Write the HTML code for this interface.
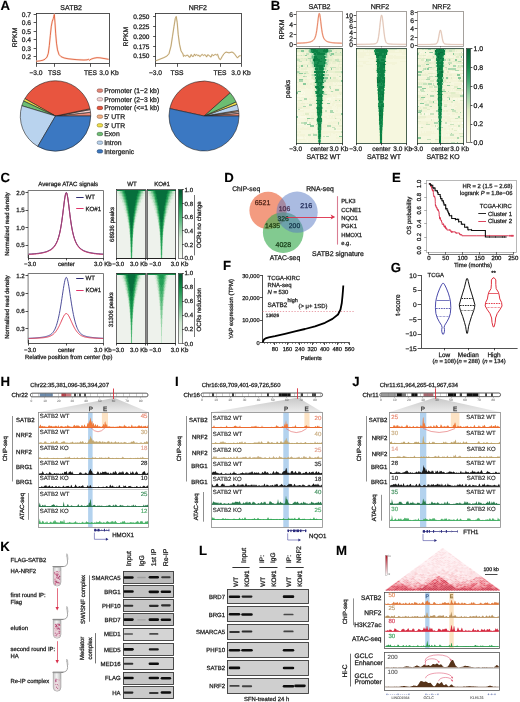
<!DOCTYPE html>
<html><head><meta charset="utf-8"><title>Figure</title>
<style>html,body{margin:0;padding:0;background:#fff;}svg{display:block;}
text{font-family:"Liberation Sans", Arial, Helvetica, sans-serif;text-rendering:geometricPrecision;}</style></head>
<body><svg width="520" height="702" viewBox="0 0 520 702" font-family='"Liberation Sans", Arial, Helvetica, sans-serif' font-size="6" fill="#1a1a1a">
<defs></defs>
<rect width="520" height="702" fill="#fff"/>
<text x="0.4" y="10.4" stroke="#000" stroke-width="0.12" font-size="13.2" fill="#000" font-weight="bold">A</text>
<text x="71.2" y="10.2" stroke="#1a1a1a" stroke-width="0.25" text-anchor="middle" font-size="7">SATB2</text>
<rect x="36.5" y="13.5" width="73" height="50" fill="none" stroke="#1a1a1a" stroke-width="0.75"/>
<line x1="33.6" y1="14.5" x2="36" y2="14.5" stroke="#1a1a1a" stroke-width="0.75"/>
<text x="31" y="16.8" stroke="#1a1a1a" stroke-width="0.25" text-anchor="end" font-size="6.7">0.7</text>
<line x1="33.6" y1="22.5" x2="36" y2="22.5" stroke="#1a1a1a" stroke-width="0.75"/>
<text x="31" y="25.25" stroke="#1a1a1a" stroke-width="0.25" text-anchor="end" font-size="6.7">0.6</text>
<line x1="33.6" y1="31.5" x2="36" y2="31.5" stroke="#1a1a1a" stroke-width="0.75"/>
<text x="31" y="33.7" stroke="#1a1a1a" stroke-width="0.25" text-anchor="end" font-size="6.7">0.5</text>
<line x1="33.6" y1="39.5" x2="36" y2="39.5" stroke="#1a1a1a" stroke-width="0.75"/>
<text x="31" y="42.15" stroke="#1a1a1a" stroke-width="0.25" text-anchor="end" font-size="6.7">0.4</text>
<line x1="33.6" y1="48.5" x2="36" y2="48.5" stroke="#1a1a1a" stroke-width="0.75"/>
<text x="31" y="50.6" stroke="#1a1a1a" stroke-width="0.25" text-anchor="end" font-size="6.7">0.3</text>
<line x1="33.6" y1="56.5" x2="36" y2="56.5" stroke="#1a1a1a" stroke-width="0.75"/>
<text x="31" y="59.05" stroke="#1a1a1a" stroke-width="0.25" text-anchor="end" font-size="6.7">0.2</text>
<line x1="36.5" y1="63.6" x2="36.5" y2="66.8" stroke="#1a1a1a" stroke-width="0.75"/>
<text x="36" y="75.2" stroke="#1a1a1a" stroke-width="0.25" text-anchor="middle" font-size="6.7">−3.0</text>
<line x1="54.5" y1="63.6" x2="54.5" y2="66.8" stroke="#1a1a1a" stroke-width="0.75"/>
<text x="54.5" y="75.2" stroke="#1a1a1a" stroke-width="0.25" text-anchor="middle" font-size="6.7">TSS</text>
<line x1="90.5" y1="63.6" x2="90.5" y2="66.8" stroke="#1a1a1a" stroke-width="0.75"/>
<text x="90.5" y="75.2" stroke="#1a1a1a" stroke-width="0.25" text-anchor="middle" font-size="6.7">TES</text>
<line x1="109.5" y1="63.6" x2="109.5" y2="66.8" stroke="#1a1a1a" stroke-width="0.75"/>
<text x="109" y="75.2" stroke="#1a1a1a" stroke-width="0.25" text-anchor="middle" font-size="6.7">3.0 Kb</text>
<text x="17" y="37.5" stroke="#1a1a1a" stroke-width="0.25" text-anchor="middle" font-size="6.8" transform="rotate(-90 17 37.5)">RPKM</text>
<path d="M36.3,61.3 40,60.87 43,60.2 45,59.18 47,57.07 48.3,53.27 49.3,45.66 50.3,35.52 51.3,26.23 52.3,21.16 53.3,18.62 54.3,14.4 55,22.85 55.7,33.84 56.5,43.13 57.5,49.89 59,54.54 61,56.65 64,57.92 68,58.76 72,59.18 76,59.61 80,59.86 84,60.03 87,59.86 88.5,59.35 89.5,60.2 91,59.18 94,58.17 97,57.66 100,57.83 103,58.34 106,58.85 108.7,59.35" fill="none" stroke="#fcdcd0" stroke-width="2" stroke-linejoin="round" opacity="0.8"/>
<path d="M36.3,61.3 40,60.87 43,60.2 45,59.18 47,57.07 48.3,53.27 49.3,45.66 50.3,35.52 51.3,26.23 52.3,21.16 53.3,18.62 54.3,14.4 55,22.85 55.7,33.84 56.5,43.13 57.5,49.89 59,54.54 61,56.65 64,57.92 68,58.76 72,59.18 76,59.61 80,59.86 84,60.03 87,59.86 88.5,59.35 89.5,60.2 91,59.18 94,58.17 97,57.66 100,57.83 103,58.34 106,58.85 108.7,59.35" fill="none" stroke="#d9481f" stroke-width="0.75" stroke-linejoin="round"/>
<text x="197.8" y="10.2" stroke="#1a1a1a" stroke-width="0.25" text-anchor="middle" font-size="7">NRF2</text>
<rect x="155.5" y="13.5" width="86" height="50" fill="none" stroke="#1a1a1a" stroke-width="0.75"/>
<line x1="153.1" y1="16.5" x2="155.5" y2="16.5" stroke="#1a1a1a" stroke-width="0.75"/>
<text x="149.5" y="18.9" stroke="#1a1a1a" stroke-width="0.25" text-anchor="end" font-size="6.5">0.250</text>
<line x1="153.1" y1="26.5" x2="155.5" y2="26.5" stroke="#1a1a1a" stroke-width="0.75"/>
<text x="149.5" y="28.77" stroke="#1a1a1a" stroke-width="0.25" text-anchor="end" font-size="6.5">0.225</text>
<line x1="153.1" y1="36.5" x2="155.5" y2="36.5" stroke="#1a1a1a" stroke-width="0.75"/>
<text x="149.5" y="38.65" stroke="#1a1a1a" stroke-width="0.25" text-anchor="end" font-size="6.5">0.200</text>
<line x1="153.1" y1="46.5" x2="155.5" y2="46.5" stroke="#1a1a1a" stroke-width="0.75"/>
<text x="149.5" y="48.52" stroke="#1a1a1a" stroke-width="0.25" text-anchor="end" font-size="6.5">0.175</text>
<line x1="153.1" y1="56.5" x2="155.5" y2="56.5" stroke="#1a1a1a" stroke-width="0.75"/>
<text x="149.5" y="58.4" stroke="#1a1a1a" stroke-width="0.25" text-anchor="end" font-size="6.5">0.150</text>
<line x1="155.5" y1="63.6" x2="155.5" y2="66.8" stroke="#1a1a1a" stroke-width="0.75"/>
<text x="155.5" y="75.2" stroke="#1a1a1a" stroke-width="0.25" text-anchor="middle" font-size="6.7">−3.0</text>
<line x1="177.5" y1="63.6" x2="177.5" y2="66.8" stroke="#1a1a1a" stroke-width="0.75"/>
<text x="177" y="75.2" stroke="#1a1a1a" stroke-width="0.25" text-anchor="middle" font-size="6.7">TSS</text>
<line x1="220.5" y1="63.6" x2="220.5" y2="66.8" stroke="#1a1a1a" stroke-width="0.75"/>
<text x="220" y="75.2" stroke="#1a1a1a" stroke-width="0.25" text-anchor="middle" font-size="6.7">TES</text>
<line x1="241.5" y1="63.6" x2="241.5" y2="66.8" stroke="#1a1a1a" stroke-width="0.75"/>
<text x="241" y="75.2" stroke="#1a1a1a" stroke-width="0.25" text-anchor="middle" font-size="6.7">3.0 Kb</text>
<text x="128.4" y="36.7" stroke="#1a1a1a" stroke-width="0.25" text-anchor="middle" font-size="6.8" transform="rotate(-90 128.4 36.7)">RPKM</text>
<path d="M155.8,60.74 158,59.95 161,58.77 164,57.58 167,56 169,53.63 171,46.12 172.5,36.25 174,26.38 175.3,18.48 176.2,16.5 177.2,22.43 178.2,34.28 179.5,44.15 181,50.86 183,54.02 183.5,56.43 184.6,55.47 185.7,56.02 186.8,55.28 187.9,55.21 189,56.98 190.1,57.14 191.2,54.54 192.3,56.37 193.4,56.44 194.5,54.04 195.6,55.7 196.7,54.54 197.8,55.68 198.9,55.17 200,56.71 201.1,55.18 202.2,54.44 203.3,55.53 204.4,54.84 205.5,55.06 206.6,56.98 207.7,54.79 208.8,55.32 209.9,56.23 211,57.09 212.1,54.45 213.2,55.69 214.3,54.91 215.4,54.41 216.5,54.93 217.6,54.27 218.5,57.19 219.5,59.16 220.5,59.56 222,56.79 224,53.63 226,52.05 229,52.84 232,52.05 234,53.23 236,56 237.5,57.98 239,56 240.7,55.61" fill="none" stroke="#efe2c8" stroke-width="1.6" stroke-linejoin="round" opacity="0.8"/>
<path d="M155.8,60.74 158,59.95 161,58.77 164,57.58 167,56 169,53.63 171,46.12 172.5,36.25 174,26.38 175.3,18.48 176.2,16.5 177.2,22.43 178.2,34.28 179.5,44.15 181,50.86 183,54.02 183.5,56.43 184.6,55.47 185.7,56.02 186.8,55.28 187.9,55.21 189,56.98 190.1,57.14 191.2,54.54 192.3,56.37 193.4,56.44 194.5,54.04 195.6,55.7 196.7,54.54 197.8,55.68 198.9,55.17 200,56.71 201.1,55.18 202.2,54.44 203.3,55.53 204.4,54.84 205.5,55.06 206.6,56.98 207.7,54.79 208.8,55.32 209.9,56.23 211,57.09 212.1,54.45 213.2,55.69 214.3,54.91 215.4,54.41 216.5,54.93 217.6,54.27 218.5,57.19 219.5,59.16 220.5,59.56 222,56.79 224,53.63 226,52.05 229,52.84 232,52.05 234,53.23 236,56 237.5,57.98 239,56 240.7,55.61" fill="none" stroke="#a8884c" stroke-width="0.7" stroke-linejoin="round"/>
<path d="M55.5,116 L90.7,116 A35.2,35.2 0 0 0 90.5,112.25 Z" fill="#e8897a" stroke="#222" stroke-width="0.6" stroke-linejoin="round"/>
<path d="M55.5,116 L90.5,112.25 A35.2,35.2 0 0 0 90.12,109.62 Z" fill="#f7d3d3" stroke="#222" stroke-width="0.6" stroke-linejoin="round"/>
<path d="M55.5,116 L90.12,109.62 A35.2,35.2 0 0 0 89.95,108.75 Z" fill="#f6b183" stroke="#222" stroke-width="0.6" stroke-linejoin="round"/>
<path d="M55.5,116 L89.95,108.75 A35.2,35.2 0 0 0 24.87,98.66 Z" fill="#e8553f" stroke="#222" stroke-width="0.6" stroke-linejoin="round"/>
<path d="M55.5,116 L24.87,98.66 A35.2,35.2 0 0 0 23.65,101.01 Z" fill="#f2e14b" stroke="#222" stroke-width="0.6" stroke-linejoin="round"/>
<path d="M55.5,116 L23.65,101.01 A35.2,35.2 0 0 0 21.82,105.76 Z" fill="#6cbd72" stroke="#222" stroke-width="0.6" stroke-linejoin="round"/>
<path d="M55.5,116 L21.82,105.76 A35.2,35.2 0 0 0 37.77,146.41 Z" fill="#b9d3ee" stroke="#222" stroke-width="0.6" stroke-linejoin="round"/>
<path d="M55.5,116 L37.77,146.41 A35.2,35.2 0 0 0 90.7,116 Z" fill="#3b78c2" stroke="#222" stroke-width="0.6" stroke-linejoin="round"/>
<path d="M204,116 L239,116 A35,35 0 0 0 238.9,113.36 Z" fill="#e8897a" stroke="#222" stroke-width="0.6" stroke-linejoin="round"/>
<path d="M204,116 L238.9,113.36 A35,35 0 0 0 238.72,111.61 Z" fill="#f7d3d3" stroke="#222" stroke-width="0.6" stroke-linejoin="round"/>
<path d="M204,116 L238.72,111.61 A35,35 0 0 0 238.53,110.31 Z" fill="#f6b183" stroke="#222" stroke-width="0.6" stroke-linejoin="round"/>
<path d="M204,116 L238.53,110.31 A35,35 0 0 0 237,104.35 Z" fill="#b9d3ee" stroke="#222" stroke-width="0.6" stroke-linejoin="round"/>
<path d="M204,116 L237,104.35 A35,35 0 0 0 236.03,101.9 Z" fill="#f2e14b" stroke="#222" stroke-width="0.6" stroke-linejoin="round"/>
<path d="M204,116 L236.03,101.9 A35,35 0 0 0 230.11,92.69 Z" fill="#6cbd72" stroke="#222" stroke-width="0.6" stroke-linejoin="round"/>
<path d="M204,116 L230.11,92.69 A35,35 0 0 0 169.8,108.58 Z" fill="#e8553f" stroke="#222" stroke-width="0.6" stroke-linejoin="round"/>
<path d="M204,116 L169.8,108.58 A35,35 0 1 0 239,116 Z" fill="#3b78c2" stroke="#222" stroke-width="0.6" stroke-linejoin="round"/>
<rect x="97.2" y="89" width="5.4" height="3.2" rx="1.4" fill="#e8897a" stroke="#90554c" stroke-width="0.7"/>
<text x="104.2" y="92.9" stroke="#1a1a1a" stroke-width="0.25" font-size="6.8">Promoter (1−2 kb)</text>
<rect x="97.2" y="97.68" width="5.4" height="3.2" rx="1.4" fill="#f7d3d3" stroke="#998383" stroke-width="0.7"/>
<text x="104.2" y="101.58" stroke="#1a1a1a" stroke-width="0.25" font-size="6.8">Promoter (2−3 kb)</text>
<rect x="97.2" y="106.36" width="5.4" height="3.2" rx="1.4" fill="#e8553f" stroke="#903527" stroke-width="0.7"/>
<text x="104.2" y="110.26" stroke="#1a1a1a" stroke-width="0.25" font-size="6.8">Promoter (&lt;=1 kb)</text>
<rect x="97.2" y="115.04" width="5.4" height="3.2" rx="1.4" fill="#f6b183" stroke="#996e51" stroke-width="0.7"/>
<text x="104.2" y="118.94" stroke="#1a1a1a" stroke-width="0.25" font-size="6.8">5′ UTR</text>
<rect x="97.2" y="123.72" width="5.4" height="3.2" rx="1.4" fill="#f2e14b" stroke="#968c2e" stroke-width="0.7"/>
<text x="104.2" y="127.62" stroke="#1a1a1a" stroke-width="0.25" font-size="6.8">3′ UTR</text>
<rect x="97.2" y="132.4" width="5.4" height="3.2" rx="1.4" fill="#6cbd72" stroke="#437547" stroke-width="0.7"/>
<text x="104.2" y="136.3" stroke="#1a1a1a" stroke-width="0.25" font-size="6.8">Exon</text>
<rect x="97.2" y="141.08" width="5.4" height="3.2" rx="1.4" fill="#b9d3ee" stroke="#738394" stroke-width="0.7"/>
<text x="104.2" y="144.98" stroke="#1a1a1a" stroke-width="0.25" font-size="6.8">Intron</text>
<rect x="97.2" y="149.76" width="5.4" height="3.2" rx="1.4" fill="#3b78c2" stroke="#254a78" stroke-width="0.7"/>
<text x="104.2" y="153.66" stroke="#1a1a1a" stroke-width="0.25" font-size="6.8">Intergenic</text>
<text x="270.7" y="10" stroke="#000" stroke-width="0.12" font-size="13.2" fill="#000" font-weight="bold">B</text>
<rect x="296.2" y="11.5" width="46.1" height="34.7" fill="#fff"/>
<path d="M296.6,43.2 297.1,43.19 297.61,43.18 298.11,43.16 298.61,43.15 299.12,43.13 299.62,43.12 300.12,43.1 300.63,43.08 301.13,43.06 301.63,43.03 302.14,43.01 302.64,42.98 303.14,42.95 303.65,42.92 304.15,42.88 304.65,42.84 305.16,42.8 305.66,42.75 306.16,42.7 306.67,42.64 307.17,42.57 307.67,42.5 308.18,42.41 308.68,42.31 309.18,42.2 309.69,42.08 310.19,41.93 310.69,41.76 311.2,41.56 311.7,41.32 312.2,41.05 312.71,40.71 313.21,40.3 313.71,39.8 314.22,39.16 314.72,38.31 315.22,37.17 315.73,35.59 316.23,33.41 316.73,30.49 317.24,26.8 317.74,22.53 318.24,18.26 318.75,14.89 319.25,13.44 319.75,14.43 320.26,17.48 320.76,21.66 321.26,25.99 321.77,29.82 322.27,32.9 322.77,35.21 323.28,36.9 323.78,38.11 324.28,39.01 324.79,39.68 325.29,40.21 325.79,40.64 326.3,40.98 326.8,41.27 327.3,41.52 327.81,41.72 328.31,41.9 328.81,42.05 329.32,42.18 329.82,42.29 330.32,42.39 330.83,42.48 331.33,42.56 331.83,42.63 332.34,42.69 332.84,42.74 333.34,42.79 333.85,42.84 334.35,42.88 334.85,42.91 335.36,42.95 335.86,42.98 336.36,43 336.87,43.03 337.37,43.05 337.87,43.08 338.38,43.1 338.88,43.11 339.38,43.13 339.89,43.15 340.39,43.16 340.89,43.18 341.4,43.19 341.9,43.2" fill="none" stroke="#f9d4c6" stroke-width="1.6" stroke-linejoin="round"/>
<path d="M296.6,43.2 297.1,43.19 297.61,43.18 298.11,43.16 298.61,43.15 299.12,43.13 299.62,43.12 300.12,43.1 300.63,43.08 301.13,43.06 301.63,43.03 302.14,43.01 302.64,42.98 303.14,42.95 303.65,42.92 304.15,42.88 304.65,42.84 305.16,42.8 305.66,42.75 306.16,42.7 306.67,42.64 307.17,42.57 307.67,42.5 308.18,42.41 308.68,42.31 309.18,42.2 309.69,42.08 310.19,41.93 310.69,41.76 311.2,41.56 311.7,41.32 312.2,41.05 312.71,40.71 313.21,40.3 313.71,39.8 314.22,39.16 314.72,38.31 315.22,37.17 315.73,35.59 316.23,33.41 316.73,30.49 317.24,26.8 317.74,22.53 318.24,18.26 318.75,14.89 319.25,13.44 319.75,14.43 320.26,17.48 320.76,21.66 321.26,25.99 321.77,29.82 322.27,32.9 322.77,35.21 323.28,36.9 323.78,38.11 324.28,39.01 324.79,39.68 325.29,40.21 325.79,40.64 326.3,40.98 326.8,41.27 327.3,41.52 327.81,41.72 328.31,41.9 328.81,42.05 329.32,42.18 329.82,42.29 330.32,42.39 330.83,42.48 331.33,42.56 331.83,42.63 332.34,42.69 332.84,42.74 333.34,42.79 333.85,42.84 334.35,42.88 334.85,42.91 335.36,42.95 335.86,42.98 336.36,43 336.87,43.03 337.37,43.05 337.87,43.08 338.38,43.1 338.88,43.11 339.38,43.13 339.89,43.15 340.39,43.16 340.89,43.18 341.4,43.19 341.9,43.2" fill="none" stroke="#e06842" stroke-width="0.7" stroke-linejoin="round"/>
<rect x="296.5" y="11.5" width="46" height="35" fill="none" stroke="#8f8a86" stroke-width="0.8"/>
<line x1="293.6" y1="14.5" x2="296.2" y2="14.5" stroke="#1a1a1a" stroke-width="0.75"/>
<text x="293" y="16.6" stroke="#1a1a1a" stroke-width="0.25" text-anchor="end" font-size="6.7">6</text>
<line x1="293.6" y1="24.5" x2="296.2" y2="24.5" stroke="#1a1a1a" stroke-width="0.75"/>
<text x="293" y="26.83" stroke="#1a1a1a" stroke-width="0.25" text-anchor="end" font-size="6.7">4</text>
<line x1="293.6" y1="34.5" x2="296.2" y2="34.5" stroke="#1a1a1a" stroke-width="0.75"/>
<text x="293" y="37.07" stroke="#1a1a1a" stroke-width="0.25" text-anchor="end" font-size="6.7">2</text>
<line x1="293.6" y1="44.5" x2="296.2" y2="44.5" stroke="#1a1a1a" stroke-width="0.75"/>
<text x="293" y="47.3" stroke="#1a1a1a" stroke-width="0.25" text-anchor="end" font-size="6.7">0</text>
<line x1="319.5" y1="46.2" x2="319.5" y2="47.4" stroke="#555" stroke-width="0.6"/>
<rect x="356.2" y="11.5" width="50.3" height="34.7" fill="#fff"/>
<path d="M356.6,44.4 357.15,44.4 357.7,44.39 358.25,44.39 358.8,44.39 359.35,44.38 359.9,44.38 360.45,44.38 361,44.37 361.55,44.37 362.1,44.36 362.65,44.36 363.2,44.35 363.75,44.35 364.3,44.34 364.85,44.33 365.4,44.33 365.95,44.32 366.5,44.31 367.05,44.3 367.6,44.28 368.15,44.27 368.7,44.25 369.25,44.24 369.8,44.22 370.35,44.2 370.9,44.17 371.45,44.14 372,44.11 372.55,44.07 373.1,44.02 373.65,43.97 374.2,43.9 374.75,43.81 375.3,43.69 375.85,43.5 376.4,43.16 376.95,42.55 377.5,41.45 378.05,39.58 378.6,36.66 379.15,32.6 379.7,27.6 380.25,22.35 380.8,17.91 381.35,15.39 381.9,15.51 382.45,18.25 383,22.81 383.55,28.08 384.1,33.01 384.65,36.98 385.2,39.79 385.75,41.58 386.3,42.62 386.85,43.2 387.4,43.52 387.95,43.7 388.5,43.82 389.05,43.91 389.6,43.97 390.15,44.03 390.7,44.07 391.25,44.11 391.8,44.14 392.35,44.17 392.9,44.2 393.45,44.22 394,44.24 394.55,44.26 395.1,44.27 395.65,44.28 396.2,44.3 396.75,44.31 397.3,44.32 397.85,44.33 398.4,44.33 398.95,44.34 399.5,44.35 400.05,44.35 400.6,44.36 401.15,44.36 401.7,44.37 402.25,44.37 402.8,44.38 403.35,44.38 403.9,44.38 404.45,44.39 405,44.39 405.55,44.39 406.1,44.4" fill="none" stroke="#f6ece6" stroke-width="1.6" stroke-linejoin="round"/>
<path d="M356.6,44.4 357.15,44.4 357.7,44.39 358.25,44.39 358.8,44.39 359.35,44.38 359.9,44.38 360.45,44.38 361,44.37 361.55,44.37 362.1,44.36 362.65,44.36 363.2,44.35 363.75,44.35 364.3,44.34 364.85,44.33 365.4,44.33 365.95,44.32 366.5,44.31 367.05,44.3 367.6,44.28 368.15,44.27 368.7,44.25 369.25,44.24 369.8,44.22 370.35,44.2 370.9,44.17 371.45,44.14 372,44.11 372.55,44.07 373.1,44.02 373.65,43.97 374.2,43.9 374.75,43.81 375.3,43.69 375.85,43.5 376.4,43.16 376.95,42.55 377.5,41.45 378.05,39.58 378.6,36.66 379.15,32.6 379.7,27.6 380.25,22.35 380.8,17.91 381.35,15.39 381.9,15.51 382.45,18.25 383,22.81 383.55,28.08 384.1,33.01 384.65,36.98 385.2,39.79 385.75,41.58 386.3,42.62 386.85,43.2 387.4,43.52 387.95,43.7 388.5,43.82 389.05,43.91 389.6,43.97 390.15,44.03 390.7,44.07 391.25,44.11 391.8,44.14 392.35,44.17 392.9,44.2 393.45,44.22 394,44.24 394.55,44.26 395.1,44.27 395.65,44.28 396.2,44.3 396.75,44.31 397.3,44.32 397.85,44.33 398.4,44.33 398.95,44.34 399.5,44.35 400.05,44.35 400.6,44.36 401.15,44.36 401.7,44.37 402.25,44.37 402.8,44.38 403.35,44.38 403.9,44.38 404.45,44.39 405,44.39 405.55,44.39 406.1,44.4" fill="none" stroke="#d9b4a2" stroke-width="0.7" stroke-linejoin="round"/>
<rect x="356.5" y="11.5" width="50" height="35" fill="none" stroke="#8f8a86" stroke-width="0.8"/>
<line x1="353.6" y1="15.5" x2="356.2" y2="15.5" stroke="#1a1a1a" stroke-width="0.75"/>
<text x="353" y="17.5" stroke="#1a1a1a" stroke-width="0.25" text-anchor="end" font-size="6.7">10</text>
<line x1="353.6" y1="21.5" x2="356.2" y2="21.5" stroke="#1a1a1a" stroke-width="0.75"/>
<text x="353" y="23.46" stroke="#1a1a1a" stroke-width="0.25" text-anchor="end" font-size="6.7">8</text>
<line x1="353.6" y1="27.5" x2="356.2" y2="27.5" stroke="#1a1a1a" stroke-width="0.75"/>
<text x="353" y="29.42" stroke="#1a1a1a" stroke-width="0.25" text-anchor="end" font-size="6.7">6</text>
<line x1="353.6" y1="32.5" x2="356.2" y2="32.5" stroke="#1a1a1a" stroke-width="0.75"/>
<text x="353" y="35.38" stroke="#1a1a1a" stroke-width="0.25" text-anchor="end" font-size="6.7">4</text>
<line x1="353.6" y1="38.5" x2="356.2" y2="38.5" stroke="#1a1a1a" stroke-width="0.75"/>
<text x="353" y="41.34" stroke="#1a1a1a" stroke-width="0.25" text-anchor="end" font-size="6.7">2</text>
<line x1="353.6" y1="44.5" x2="356.2" y2="44.5" stroke="#1a1a1a" stroke-width="0.75"/>
<text x="353" y="47.3" stroke="#1a1a1a" stroke-width="0.25" text-anchor="end" font-size="6.7">0</text>
<line x1="381.5" y1="46.2" x2="381.5" y2="47.4" stroke="#555" stroke-width="0.6"/>
<rect x="417.3" y="11.5" width="46.2" height="34.7" fill="#fff"/>
<path d="M417.7,44.54 418.2,44.54 418.71,44.54 419.21,44.54 419.72,44.54 420.22,44.54 420.73,44.54 421.23,44.53 421.74,44.53 422.24,44.53 422.74,44.53 423.25,44.52 423.75,44.52 424.26,44.52 424.76,44.51 425.27,44.51 425.77,44.51 426.28,44.5 426.78,44.5 427.28,44.49 427.79,44.48 428.29,44.48 428.8,44.47 429.3,44.46 429.81,44.45 430.31,44.44 430.82,44.42 431.32,44.41 431.82,44.39 432.33,44.37 432.83,44.34 433.34,44.31 433.84,44.27 434.35,44.22 434.85,44.16 435.36,44.08 435.86,43.95 436.36,43.71 436.87,43.26 437.37,42.43 437.88,41.01 438.38,38.87 438.89,36.12 439.39,33.23 439.9,30.96 440.4,30.09 440.9,30.96 441.41,33.23 441.91,36.12 442.42,38.87 442.92,41.01 443.43,42.43 443.93,43.26 444.44,43.71 444.94,43.95 445.44,44.08 445.95,44.16 446.45,44.22 446.96,44.27 447.46,44.31 447.97,44.34 448.47,44.37 448.98,44.39 449.48,44.41 449.98,44.42 450.49,44.44 450.99,44.45 451.5,44.46 452,44.47 452.51,44.48 453.01,44.48 453.52,44.49 454.02,44.5 454.52,44.5 455.03,44.51 455.53,44.51 456.04,44.51 456.54,44.52 457.05,44.52 457.55,44.52 458.06,44.53 458.56,44.53 459.06,44.53 459.57,44.53 460.07,44.54 460.58,44.54 461.08,44.54 461.59,44.54 462.09,44.54 462.6,44.54 463.1,44.54" fill="none" stroke="#f6ece6" stroke-width="1.6" stroke-linejoin="round"/>
<path d="M417.7,44.54 418.2,44.54 418.71,44.54 419.21,44.54 419.72,44.54 420.22,44.54 420.73,44.54 421.23,44.53 421.74,44.53 422.24,44.53 422.74,44.53 423.25,44.52 423.75,44.52 424.26,44.52 424.76,44.51 425.27,44.51 425.77,44.51 426.28,44.5 426.78,44.5 427.28,44.49 427.79,44.48 428.29,44.48 428.8,44.47 429.3,44.46 429.81,44.45 430.31,44.44 430.82,44.42 431.32,44.41 431.82,44.39 432.33,44.37 432.83,44.34 433.34,44.31 433.84,44.27 434.35,44.22 434.85,44.16 435.36,44.08 435.86,43.95 436.36,43.71 436.87,43.26 437.37,42.43 437.88,41.01 438.38,38.87 438.89,36.12 439.39,33.23 439.9,30.96 440.4,30.09 440.9,30.96 441.41,33.23 441.91,36.12 442.42,38.87 442.92,41.01 443.43,42.43 443.93,43.26 444.44,43.71 444.94,43.95 445.44,44.08 445.95,44.16 446.45,44.22 446.96,44.27 447.46,44.31 447.97,44.34 448.47,44.37 448.98,44.39 449.48,44.41 449.98,44.42 450.49,44.44 450.99,44.45 451.5,44.46 452,44.47 452.51,44.48 453.01,44.48 453.52,44.49 454.02,44.5 454.52,44.5 455.03,44.51 455.53,44.51 456.04,44.51 456.54,44.52 457.05,44.52 457.55,44.52 458.06,44.53 458.56,44.53 459.06,44.53 459.57,44.53 460.07,44.54 460.58,44.54 461.08,44.54 461.59,44.54 462.09,44.54 462.6,44.54 463.1,44.54" fill="none" stroke="#d9b4a2" stroke-width="0.7" stroke-linejoin="round"/>
<rect x="417.5" y="11.5" width="46" height="35" fill="none" stroke="#8f8a86" stroke-width="0.8"/>
<line x1="414.7" y1="12.5" x2="417.3" y2="12.5" stroke="#1a1a1a" stroke-width="0.75"/>
<text x="414.1" y="14.7" stroke="#1a1a1a" stroke-width="0.25" text-anchor="end" font-size="6.7">8</text>
<line x1="414.7" y1="20.5" x2="417.3" y2="20.5" stroke="#1a1a1a" stroke-width="0.75"/>
<text x="414.1" y="22.98" stroke="#1a1a1a" stroke-width="0.25" text-anchor="end" font-size="6.7">6</text>
<line x1="414.7" y1="28.5" x2="417.3" y2="28.5" stroke="#1a1a1a" stroke-width="0.75"/>
<text x="414.1" y="31.25" stroke="#1a1a1a" stroke-width="0.25" text-anchor="end" font-size="6.7">4</text>
<line x1="414.7" y1="37.5" x2="417.3" y2="37.5" stroke="#1a1a1a" stroke-width="0.75"/>
<text x="414.1" y="39.52" stroke="#1a1a1a" stroke-width="0.25" text-anchor="end" font-size="6.7">2</text>
<line x1="414.7" y1="45.5" x2="417.3" y2="45.5" stroke="#1a1a1a" stroke-width="0.75"/>
<text x="414.1" y="47.8" stroke="#1a1a1a" stroke-width="0.25" text-anchor="end" font-size="6.7">0</text>
<line x1="440.5" y1="46.2" x2="440.5" y2="47.4" stroke="#555" stroke-width="0.6"/>
<text x="283.5" y="29.5" stroke="#1a1a1a" stroke-width="0.25" text-anchor="middle" font-size="6.9" transform="rotate(-90 283.5 29.5)">RPKM</text>
<text x="319.6" y="9" stroke="#1a1a1a" stroke-width="0.25" text-anchor="middle" font-size="7.1">SATB2</text>
<text x="380" y="9" stroke="#1a1a1a" stroke-width="0.25" text-anchor="middle" font-size="7.1">NRF2</text>
<text x="441.5" y="9" stroke="#1a1a1a" stroke-width="0.25" text-anchor="middle" font-size="7.1">NRF2</text>
<path d="M296.2 90.5h0.99v1.5h-0.99zM301.16 90.5h2.97v1.5h-2.97zM341.81 90.5h0.99v1.5h-0.99zM298.18 92h0.99v1.5h-0.99zM301.16 92h1.98v1.5h-1.98zM304.13 92h0.99v1.5h-0.99zM341.81 92h0.99v1.5h-0.99zM296.2 95h8.92v1.5h-8.92zM341.81 95h0.99v1.5h-0.99zM332.89 96.5h1.98v1.5h-1.98zM336.85 96.5h4.96v1.5h-4.96zM296.2 98h2.97v1.5h-2.97zM326.94 98h3.97v1.5h-3.97zM341.81 98h0.99v1.5h-0.99zM338.83 102.5h0.99v1.5h-0.99zM297.19 108.5h0.99v1.5h-0.99zM300.17 108.5h2.97v1.5h-2.97zM331.89 108.5h0.99v1.5h-0.99zM339.83 108.5h0.99v1.5h-0.99zM298.18 116h7.93v1.5h-7.93zM341.81 116h0.99v1.5h-0.99zM307.11 122h1.98v1.5h-1.98zM296.2 123.5h7.93v1.5h-7.93zM306.11 123.5h0.99v1.5h-0.99zM311.07 123.5h0.99v1.5h-0.99zM341.81 123.5h0.99v1.5h-0.99zM334.87 129.5h6.94v1.5h-6.94zM337.84 135.5h0.99v1.5h-0.99zM296.2 137h6.94v1.5h-6.94zM305.12 137h0.99v1.5h-0.99zM341.81 137h0.99v1.5h-0.99zM307.11 140h0.99v1.5h-0.99zM299.17 141.5h0.99v1.5h-0.99zM333.88 141.5h1.98v1.5h-1.98z" fill="#f9fae6" shape-rendering="crispEdges"/>
<path d="M296.2 53h3.97v1.5h-3.97zM341.81 53h0.99v1.5h-0.99zM296.2 56h0.99v1.5h-0.99zM341.81 56h0.99v1.5h-0.99zM296.2 66.5h1.98v1.5h-1.98zM341.81 66.5h0.99v1.5h-0.99zM304.13 69.5h0.99v1.5h-0.99zM306.11 69.5h2.97v1.5h-2.97zM339.83 69.5h1.98v1.5h-1.98zM310.08 72.5h0.99v1.5h-0.99zM327.93 72.5h4.96v1.5h-4.96zM307.11 75.5h0.99v1.5h-0.99zM310.08 75.5h0.99v1.5h-0.99zM335.86 75.5h2.97v1.5h-2.97zM340.82 75.5h0.99v1.5h-0.99zM307.11 77h3.97v1.5h-3.97zM338.83 77h1.98v1.5h-1.98zM309.09 80h4.96v1.5h-4.96zM309.09 81.5h1.98v1.5h-1.98zM332.89 81.5h0.99v1.5h-0.99zM335.86 81.5h0.99v1.5h-0.99zM337.84 81.5h0.99v1.5h-0.99zM340.82 81.5h0.99v1.5h-0.99zM296.2 83h1.98v1.5h-1.98zM332.89 83h2.97v1.5h-2.97zM336.85 83h5.95v1.5h-5.95zM310.08 84.5h1.98v1.5h-1.98zM305.12 86h0.99v1.5h-0.99zM311.07 86h0.99v1.5h-0.99zM327.93 86h0.99v1.5h-0.99zM330.9 86h10.91v1.5h-10.91zM297.19 87.5h0.99v1.5h-0.99zM299.17 87.5h1.98v1.5h-1.98zM306.11 87.5h1.98v1.5h-1.98zM311.07 87.5h0.99v1.5h-0.99zM330.9 87.5h1.98v1.5h-1.98zM339.83 87.5h0.99v1.5h-0.99zM301.16 89h11.9v1.5h-11.9zM325.94 89h1.98v1.5h-1.98zM331.89 89h0.99v1.5h-0.99zM339.83 89h1.98v1.5h-1.98zM304.13 90.5h7.93v1.5h-7.93zM299.17 92h1.98v1.5h-1.98zM303.14 92h0.99v1.5h-0.99zM305.12 92h6.94v1.5h-6.94zM327.93 92h3.97v1.5h-3.97zM298.18 93.5h3.97v1.5h-3.97zM303.14 93.5h9.91v1.5h-9.91zM305.12 95h5.95v1.5h-5.95zM331.89 95h0.99v1.5h-0.99zM336.85 95h4.96v1.5h-4.96zM300.17 96.5h0.99v1.5h-0.99zM304.13 96.5h8.92v1.5h-8.92zM327.93 96.5h4.96v1.5h-4.96zM334.87 96.5h1.98v1.5h-1.98zM299.17 98h4.96v1.5h-4.96zM307.11 98h1.98v1.5h-1.98zM325.94 98h0.99v1.5h-0.99zM330.9 98h3.97v1.5h-3.97zM305.12 99.5h0.99v1.5h-0.99zM307.11 99.5h2.97v1.5h-2.97zM311.07 99.5h2.97v1.5h-2.97zM325.94 99.5h1.98v1.5h-1.98zM328.92 99.5h5.95v1.5h-5.95zM296.2 101h1.98v1.5h-1.98zM300.17 101h1.98v1.5h-1.98zM303.14 101h5.95v1.5h-5.95zM324.95 101h4.96v1.5h-4.96zM330.9 101h1.98v1.5h-1.98zM341.81 101h0.99v1.5h-0.99zM330.9 102.5h0.99v1.5h-0.99zM334.87 102.5h3.97v1.5h-3.97zM339.83 102.5h1.98v1.5h-1.98zM305.12 104h3.97v1.5h-3.97zM312.06 104h1.98v1.5h-1.98zM322.97 104h4.96v1.5h-4.96zM329.91 104h1.98v1.5h-1.98zM333.88 104h1.98v1.5h-1.98zM306.11 105.5h0.99v1.5h-0.99zM311.07 105.5h3.97v1.5h-3.97zM322.97 105.5h4.96v1.5h-4.96zM331.89 105.5h2.97v1.5h-2.97zM335.86 105.5h0.99v1.5h-0.99zM310.08 107h3.97v1.5h-3.97zM323.96 107h1.98v1.5h-1.98zM331.89 107h4.96v1.5h-4.96zM337.84 107h3.97v1.5h-3.97zM296.2 108.5h0.99v1.5h-0.99zM303.14 108.5h8.92v1.5h-8.92zM322.97 108.5h8.92v1.5h-8.92zM332.89 108.5h6.94v1.5h-6.94zM340.82 108.5h1.98v1.5h-1.98zM304.13 110h10.91v1.5h-10.91zM323.96 110h0.99v1.5h-0.99zM326.94 110h2.97v1.5h-2.97zM332.89 110h2.97v1.5h-2.97zM337.84 110h3.97v1.5h-3.97zM296.2 111.5h8.92v1.5h-8.92zM310.08 111.5h0.99v1.5h-0.99zM334.87 111.5h7.93v1.5h-7.93zM296.2 113h6.94v1.5h-6.94zM304.13 113h0.99v1.5h-0.99zM309.09 113h3.97v1.5h-3.97zM314.05 113h0.99v1.5h-0.99zM322.97 113h11.9v1.5h-11.9zM296.2 114.5h4.96v1.5h-4.96zM305.12 114.5h0.99v1.5h-0.99zM310.08 114.5h0.99v1.5h-0.99zM314.05 114.5h1.98v1.5h-1.98zM322.97 114.5h4.96v1.5h-4.96zM330.9 114.5h0.99v1.5h-0.99zM341.81 114.5h0.99v1.5h-0.99zM306.11 116h4.96v1.5h-4.96zM326.94 116h1.98v1.5h-1.98zM329.91 116h0.99v1.5h-0.99zM332.89 116h0.99v1.5h-0.99zM335.86 116h5.95v1.5h-5.95zM296.2 117.5h7.93v1.5h-7.93zM305.12 117.5h1.98v1.5h-1.98zM314.05 117.5h1.98v1.5h-1.98zM322.97 117.5h2.97v1.5h-2.97zM341.81 117.5h0.99v1.5h-0.99zM296.2 119h0.99v1.5h-0.99zM298.18 119h6.94v1.5h-6.94zM306.11 119h0.99v1.5h-0.99zM308.1 119h2.97v1.5h-2.97zM314.05 119h1.98v1.5h-1.98zM322.97 119h16.86v1.5h-16.86zM340.82 119h1.98v1.5h-1.98zM296.2 120.5h9.91v1.5h-9.91zM308.1 120.5h2.97v1.5h-2.97zM312.06 120.5h0.99v1.5h-0.99zM322.97 120.5h7.93v1.5h-7.93zM331.89 120.5h0.99v1.5h-0.99zM341.81 120.5h0.99v1.5h-0.99zM297.19 122h1.98v1.5h-1.98zM300.17 122h0.99v1.5h-0.99zM311.07 122h4.96v1.5h-4.96zM322.97 122h4.96v1.5h-4.96zM340.82 122h0.99v1.5h-0.99zM312.06 123.5h3.97v1.5h-3.97zM330.9 123.5h0.99v1.5h-0.99zM332.89 123.5h4.96v1.5h-4.96zM338.83 123.5h2.97v1.5h-2.97zM296.2 125h13.88v1.5h-13.88zM314.05 125h0.99v1.5h-0.99zM325.94 125h0.99v1.5h-0.99zM341.81 125h0.99v1.5h-0.99zM296.2 126.5h5.95v1.5h-5.95zM304.13 126.5h2.97v1.5h-2.97zM315.04 126.5h1.98v1.5h-1.98zM328.92 126.5h0.99v1.5h-0.99zM330.9 126.5h0.99v1.5h-0.99zM334.87 126.5h7.93v1.5h-7.93zM296.2 128h1.98v1.5h-1.98zM299.17 128h0.99v1.5h-0.99zM311.07 128h0.99v1.5h-0.99zM313.06 128h3.97v1.5h-3.97zM321.98 128h11.9v1.5h-11.9zM335.86 128h0.99v1.5h-0.99zM341.81 128h0.99v1.5h-0.99zM297.19 129.5h14.87v1.5h-14.87zM313.06 129.5h3.97v1.5h-3.97zM321.98 129.5h12.89v1.5h-12.89zM298.18 131h0.99v1.5h-0.99zM301.16 131h15.86v1.5h-15.86zM296.2 132.5h13.88v1.5h-13.88zM327.93 132.5h1.98v1.5h-1.98zM330.9 132.5h1.98v1.5h-1.98zM334.87 132.5h7.93v1.5h-7.93zM299.17 134h0.99v1.5h-0.99zM305.12 134h2.97v1.5h-2.97zM311.07 134h1.98v1.5h-1.98zM321.98 134h7.93v1.5h-7.93zM330.9 134h4.96v1.5h-4.96zM336.85 134h4.96v1.5h-4.96zM296.2 135.5h6.94v1.5h-6.94zM304.13 135.5h4.96v1.5h-4.96zM310.08 135.5h6.94v1.5h-6.94zM321.98 135.5h0.99v1.5h-0.99zM324.95 135.5h0.99v1.5h-0.99zM328.92 135.5h8.92v1.5h-8.92zM341.81 135.5h0.99v1.5h-0.99zM303.14 137h1.98v1.5h-1.98zM306.11 137h7.93v1.5h-7.93zM315.04 137h1.98v1.5h-1.98zM321.98 137h13.88v1.5h-13.88zM305.12 138.5h11.9v1.5h-11.9zM321.98 138.5h19.83v1.5h-19.83zM296.2 140h10.91v1.5h-10.91zM308.1 140h8.92v1.5h-8.92zM321.98 140h15.86v1.5h-15.86zM341.81 140h0.99v1.5h-0.99zM296.2 141.5h2.97v1.5h-2.97zM300.17 141.5h16.86v1.5h-16.86zM321.98 141.5h11.9v1.5h-11.9zM335.86 141.5h6.94v1.5h-6.94z" fill="#f6f7df" shape-rendering="crispEdges"/>
<path d="M296.2 51.5h5.95v1.5h-5.95zM304.13 51.5h1.98v1.5h-1.98zM341.81 51.5h0.99v1.5h-0.99zM300.17 53h2.97v1.5h-2.97zM305.12 53h0.99v1.5h-0.99zM297.19 56h9.91v1.5h-9.91zM332.89 56h8.92v1.5h-8.92zM333.88 57.5h2.97v1.5h-2.97zM338.83 57.5h2.97v1.5h-2.97zM296.2 60.5h1.98v1.5h-1.98zM302.15 60.5h6.94v1.5h-6.94zM341.81 60.5h0.99v1.5h-0.99zM296.2 62h11.9v1.5h-11.9zM330.9 62h0.99v1.5h-0.99zM335.86 62h2.97v1.5h-2.97zM339.83 62h2.97v1.5h-2.97zM297.19 63.5h4.96v1.5h-4.96zM329.91 63.5h7.93v1.5h-7.93zM305.12 65h1.98v1.5h-1.98zM308.1 65h1.98v1.5h-1.98zM328.92 65h8.92v1.5h-8.92zM338.83 65h2.97v1.5h-2.97zM298.18 66.5h0.99v1.5h-0.99zM300.17 66.5h4.96v1.5h-4.96zM327.93 66.5h1.98v1.5h-1.98zM300.17 68h0.99v1.5h-0.99zM307.11 68h5.95v1.5h-5.95zM326.94 68h3.97v1.5h-3.97zM331.89 68h0.99v1.5h-0.99zM333.88 68h0.99v1.5h-0.99zM338.83 68h0.99v1.5h-0.99zM296.2 69.5h7.93v1.5h-7.93zM305.12 69.5h0.99v1.5h-0.99zM309.09 69.5h2.97v1.5h-2.97zM331.89 69.5h7.93v1.5h-7.93zM341.81 69.5h0.99v1.5h-0.99zM308.1 71h2.97v1.5h-2.97zM309.09 72.5h0.99v1.5h-0.99zM311.07 72.5h1.98v1.5h-1.98zM326.94 72.5h0.99v1.5h-0.99zM332.89 72.5h7.93v1.5h-7.93zM296.2 74h0.99v1.5h-0.99zM302.15 74h1.98v1.5h-1.98zM305.12 74h5.95v1.5h-5.95zM328.92 74h7.93v1.5h-7.93zM337.84 74h4.96v1.5h-4.96zM297.19 75.5h5.95v1.5h-5.95zM308.1 75.5h1.98v1.5h-1.98zM311.07 75.5h0.99v1.5h-0.99zM326.94 75.5h8.92v1.5h-8.92zM298.18 77h8.92v1.5h-8.92zM327.93 77h1.98v1.5h-1.98zM330.9 77h1.98v1.5h-1.98zM335.86 77h2.97v1.5h-2.97zM340.82 77h0.99v1.5h-0.99zM298.18 78.5h0.99v1.5h-0.99zM304.13 78.5h0.99v1.5h-0.99zM307.11 78.5h5.95v1.5h-5.95zM337.84 78.5h3.97v1.5h-3.97zM296.2 80h2.97v1.5h-2.97zM303.14 80h5.95v1.5h-5.95zM299.17 81.5h9.91v1.5h-9.91zM311.07 81.5h1.98v1.5h-1.98zM328.92 81.5h3.97v1.5h-3.97zM333.88 81.5h1.98v1.5h-1.98zM336.85 81.5h0.99v1.5h-0.99zM338.83 81.5h1.98v1.5h-1.98zM298.18 83h4.96v1.5h-4.96zM306.11 83h0.99v1.5h-0.99zM308.1 83h1.98v1.5h-1.98zM312.06 83h0.99v1.5h-0.99zM324.95 83h7.93v1.5h-7.93zM335.86 83h0.99v1.5h-0.99zM296.2 84.5h13.88v1.5h-13.88zM312.06 84.5h0.99v1.5h-0.99zM325.94 84.5h8.92v1.5h-8.92zM335.86 84.5h1.98v1.5h-1.98zM341.81 84.5h0.99v1.5h-0.99zM296.2 86h8.92v1.5h-8.92zM306.11 86h4.96v1.5h-4.96zM312.06 86h1.98v1.5h-1.98zM326.94 86h0.99v1.5h-0.99zM341.81 86h0.99v1.5h-0.99zM296.2 87.5h0.99v1.5h-0.99zM298.18 87.5h0.99v1.5h-0.99zM301.16 87.5h4.96v1.5h-4.96zM308.1 87.5h2.97v1.5h-2.97zM312.06 87.5h2.97v1.5h-2.97zM324.95 87.5h4.96v1.5h-4.96zM332.89 87.5h6.94v1.5h-6.94zM340.82 87.5h1.98v1.5h-1.98zM296.2 89h4.96v1.5h-4.96zM313.06 89h0.99v1.5h-0.99zM322.97 89h2.97v1.5h-2.97zM327.93 89h3.97v1.5h-3.97zM332.89 89h1.98v1.5h-1.98zM338.83 89h0.99v1.5h-0.99zM341.81 89h0.99v1.5h-0.99zM312.06 90.5h1.98v1.5h-1.98zM326.94 90.5h2.97v1.5h-2.97zM333.88 90.5h7.93v1.5h-7.93zM312.06 92h2.97v1.5h-2.97zM325.94 92h1.98v1.5h-1.98zM331.89 92h6.94v1.5h-6.94zM296.2 93.5h1.98v1.5h-1.98zM302.15 93.5h0.99v1.5h-0.99zM313.06 93.5h0.99v1.5h-0.99zM329.91 93.5h9.91v1.5h-9.91zM340.82 93.5h1.98v1.5h-1.98zM311.07 95h2.97v1.5h-2.97zM323.96 95h7.93v1.5h-7.93zM332.89 95h3.97v1.5h-3.97zM296.2 96.5h3.97v1.5h-3.97zM301.16 96.5h2.97v1.5h-2.97zM313.06 96.5h1.98v1.5h-1.98zM322.97 96.5h4.96v1.5h-4.96zM341.81 96.5h0.99v1.5h-0.99zM309.09 98h6.94v1.5h-6.94zM322.97 98h2.97v1.5h-2.97zM334.87 98h6.94v1.5h-6.94zM297.19 99.5h0.99v1.5h-0.99zM302.15 99.5h2.97v1.5h-2.97zM306.11 99.5h0.99v1.5h-0.99zM310.08 99.5h0.99v1.5h-0.99zM314.05 99.5h0.99v1.5h-0.99zM324.95 99.5h0.99v1.5h-0.99zM336.85 99.5h1.98v1.5h-1.98zM339.83 99.5h1.98v1.5h-1.98zM298.18 101h1.98v1.5h-1.98zM302.15 101h0.99v1.5h-0.99zM309.09 101h6.94v1.5h-6.94zM322.97 101h1.98v1.5h-1.98zM329.91 101h0.99v1.5h-0.99zM332.89 101h8.92v1.5h-8.92zM296.2 102.5h4.96v1.5h-4.96zM305.12 102.5h1.98v1.5h-1.98zM308.1 102.5h1.98v1.5h-1.98zM311.07 102.5h0.99v1.5h-0.99zM313.06 102.5h0.99v1.5h-0.99zM323.96 102.5h2.97v1.5h-2.97zM329.91 102.5h0.99v1.5h-0.99zM331.89 102.5h2.97v1.5h-2.97zM341.81 102.5h0.99v1.5h-0.99zM296.2 104h8.92v1.5h-8.92zM314.05 104h1.98v1.5h-1.98zM327.93 104h1.98v1.5h-1.98zM331.89 104h1.98v1.5h-1.98zM335.86 104h6.94v1.5h-6.94zM296.2 105.5h6.94v1.5h-6.94zM307.11 105.5h3.97v1.5h-3.97zM315.04 105.5h0.99v1.5h-0.99zM327.93 105.5h3.97v1.5h-3.97zM334.87 105.5h0.99v1.5h-0.99zM336.85 105.5h5.95v1.5h-5.95zM297.19 107h0.99v1.5h-0.99zM302.15 107h7.93v1.5h-7.93zM314.05 107h1.98v1.5h-1.98zM322.97 107h0.99v1.5h-0.99zM325.94 107h5.95v1.5h-5.95zM336.85 107h0.99v1.5h-0.99zM312.06 108.5h3.97v1.5h-3.97zM297.19 110h6.94v1.5h-6.94zM315.04 110h0.99v1.5h-0.99zM322.97 110h0.99v1.5h-0.99zM335.86 110h1.98v1.5h-1.98zM305.12 111.5h4.96v1.5h-4.96zM311.07 111.5h4.96v1.5h-4.96zM322.97 111.5h6.94v1.5h-6.94zM333.88 111.5h0.99v1.5h-0.99zM303.14 113h0.99v1.5h-0.99zM313.06 113h0.99v1.5h-0.99zM315.04 113h0.99v1.5h-0.99zM334.87 113h5.95v1.5h-5.95zM301.16 114.5h3.97v1.5h-3.97zM306.11 114.5h3.97v1.5h-3.97zM311.07 114.5h2.97v1.5h-2.97zM327.93 114.5h2.97v1.5h-2.97zM331.89 114.5h7.93v1.5h-7.93zM340.82 114.5h0.99v1.5h-0.99zM311.07 116h5.95v1.5h-5.95zM321.98 116h4.96v1.5h-4.96zM328.92 116h0.99v1.5h-0.99zM330.9 116h1.98v1.5h-1.98zM333.88 116h1.98v1.5h-1.98zM304.13 117.5h0.99v1.5h-0.99zM325.94 117.5h8.92v1.5h-8.92zM336.85 117.5h4.96v1.5h-4.96zM297.19 119h0.99v1.5h-0.99zM305.12 119h0.99v1.5h-0.99zM311.07 119h2.97v1.5h-2.97zM306.11 120.5h1.98v1.5h-1.98zM311.07 120.5h0.99v1.5h-0.99zM313.06 120.5h2.97v1.5h-2.97zM330.9 120.5h0.99v1.5h-0.99zM332.89 120.5h8.92v1.5h-8.92zM296.2 122h0.99v1.5h-0.99zM299.17 122h0.99v1.5h-0.99zM316.03 122h0.99v1.5h-0.99zM321.98 122h0.99v1.5h-0.99zM327.93 122h9.91v1.5h-9.91zM338.83 122h1.98v1.5h-1.98zM341.81 122h0.99v1.5h-0.99zM321.98 123.5h8.92v1.5h-8.92zM331.89 123.5h0.99v1.5h-0.99zM315.04 125h1.98v1.5h-1.98zM321.98 125h3.97v1.5h-3.97zM330.9 125h7.93v1.5h-7.93zM302.15 126.5h1.98v1.5h-1.98zM307.11 126.5h7.93v1.5h-7.93zM321.98 126.5h6.94v1.5h-6.94zM329.91 126.5h0.99v1.5h-0.99zM298.18 128h0.99v1.5h-0.99zM300.17 128h10.91v1.5h-10.91zM312.06 128h0.99v1.5h-0.99zM336.85 128h4.96v1.5h-4.96zM296.2 129.5h0.99v1.5h-0.99zM312.06 129.5h0.99v1.5h-0.99zM341.81 129.5h0.99v1.5h-0.99zM296.2 131h1.98v1.5h-1.98zM299.17 131h1.98v1.5h-1.98zM321.98 131h18.84v1.5h-18.84zM310.08 132.5h2.97v1.5h-2.97zM314.05 132.5h2.97v1.5h-2.97zM321.98 132.5h5.95v1.5h-5.95zM329.91 132.5h0.99v1.5h-0.99zM332.89 132.5h1.98v1.5h-1.98zM296.2 134h2.97v1.5h-2.97zM300.17 134h4.96v1.5h-4.96zM329.91 134h0.99v1.5h-0.99zM335.86 134h0.99v1.5h-0.99zM341.81 134h0.99v1.5h-0.99zM303.14 135.5h0.99v1.5h-0.99zM309.09 135.5h0.99v1.5h-0.99zM314.05 137h0.99v1.5h-0.99zM335.86 137h5.95v1.5h-5.95zM296.2 138.5h8.92v1.5h-8.92zM317.02 138.5h0.99v1.5h-0.99zM320.99 138.5h0.99v1.5h-0.99zM341.81 138.5h0.99v1.5h-0.99zM317.02 140h0.99v1.5h-0.99zM320.99 140h0.99v1.5h-0.99zM337.84 140h3.97v1.5h-3.97zM317.02 141.5h0.99v1.5h-0.99zM320.99 141.5h0.99v1.5h-0.99z" fill="#f3f4d8" shape-rendering="crispEdges"/>
<path d="M304.13 50h3.97v1.5h-3.97zM331.89 50h3.97v1.5h-3.97zM336.85 50h4.96v1.5h-4.96zM302.15 51.5h1.98v1.5h-1.98zM306.11 51.5h1.98v1.5h-1.98zM330.9 51.5h3.97v1.5h-3.97zM336.85 51.5h2.97v1.5h-2.97zM340.82 51.5h0.99v1.5h-0.99zM303.14 53h1.98v1.5h-1.98zM309.09 53h1.98v1.5h-1.98zM302.15 54.5h0.99v1.5h-0.99zM307.11 54.5h2.97v1.5h-2.97zM331.89 54.5h0.99v1.5h-0.99zM307.11 56h2.97v1.5h-2.97zM328.92 56h3.97v1.5h-3.97zM299.17 57.5h1.98v1.5h-1.98zM303.14 57.5h0.99v1.5h-0.99zM328.92 57.5h4.96v1.5h-4.96zM336.85 57.5h1.98v1.5h-1.98zM296.2 59h0.99v1.5h-0.99zM300.17 59h5.95v1.5h-5.95zM307.11 59h1.98v1.5h-1.98zM331.89 59h2.97v1.5h-2.97zM338.83 59h3.97v1.5h-3.97zM298.18 60.5h0.99v1.5h-0.99zM309.09 60.5h0.99v1.5h-0.99zM328.92 60.5h3.97v1.5h-3.97zM308.1 62h1.98v1.5h-1.98zM328.92 62h1.98v1.5h-1.98zM331.89 62h3.97v1.5h-3.97zM338.83 62h0.99v1.5h-0.99zM296.2 63.5h0.99v1.5h-0.99zM302.15 63.5h8.92v1.5h-8.92zM327.93 63.5h1.98v1.5h-1.98zM337.84 63.5h4.96v1.5h-4.96zM297.19 65h1.98v1.5h-1.98zM300.17 65h0.99v1.5h-0.99zM303.14 65h1.98v1.5h-1.98zM310.08 65h0.99v1.5h-0.99zM327.93 65h0.99v1.5h-0.99zM337.84 65h0.99v1.5h-0.99zM305.12 66.5h6.94v1.5h-6.94zM326.94 66.5h0.99v1.5h-0.99zM335.86 66.5h3.97v1.5h-3.97zM340.82 66.5h0.99v1.5h-0.99zM296.2 68h3.97v1.5h-3.97zM301.16 68h5.95v1.5h-5.95zM332.89 68h0.99v1.5h-0.99zM334.87 68h3.97v1.5h-3.97zM339.83 68h2.97v1.5h-2.97zM312.06 69.5h0.99v1.5h-0.99zM323.96 69.5h0.99v1.5h-0.99zM325.94 69.5h0.99v1.5h-0.99zM327.93 69.5h3.97v1.5h-3.97zM296.2 71h0.99v1.5h-0.99zM300.17 71h4.96v1.5h-4.96zM311.07 71h0.99v1.5h-0.99zM327.93 71h6.94v1.5h-6.94zM303.14 72.5h0.99v1.5h-0.99zM313.06 72.5h0.99v1.5h-0.99zM325.94 72.5h0.99v1.5h-0.99zM340.82 72.5h0.99v1.5h-0.99zM297.19 74h4.96v1.5h-4.96zM304.13 74h0.99v1.5h-0.99zM336.85 74h0.99v1.5h-0.99zM296.2 75.5h0.99v1.5h-0.99zM312.06 75.5h0.99v1.5h-0.99zM325.94 75.5h0.99v1.5h-0.99zM341.81 75.5h0.99v1.5h-0.99zM296.2 77h1.98v1.5h-1.98zM311.07 77h0.99v1.5h-0.99zM341.81 77h0.99v1.5h-0.99zM296.2 78.5h1.98v1.5h-1.98zM303.14 78.5h0.99v1.5h-0.99zM305.12 78.5h1.98v1.5h-1.98zM326.94 78.5h10.91v1.5h-10.91zM341.81 78.5h0.99v1.5h-0.99zM314.05 80h0.99v1.5h-0.99zM325.94 80h14.87v1.5h-14.87zM296.2 81.5h2.97v1.5h-2.97zM313.06 81.5h0.99v1.5h-0.99zM324.95 81.5h3.97v1.5h-3.97zM341.81 81.5h0.99v1.5h-0.99zM307.11 83h0.99v1.5h-0.99zM310.08 83h1.98v1.5h-1.98zM313.06 83h0.99v1.5h-0.99zM323.96 83h0.99v1.5h-0.99zM313.06 84.5h0.99v1.5h-0.99zM324.95 84.5h0.99v1.5h-0.99zM334.87 84.5h0.99v1.5h-0.99zM337.84 84.5h3.97v1.5h-3.97zM325.94 86h0.99v1.5h-0.99zM323.96 87.5h0.99v1.5h-0.99zM315.04 89h0.99v1.5h-0.99zM314.05 90.5h0.99v1.5h-0.99zM323.96 90.5h2.97v1.5h-2.97zM329.91 90.5h0.99v1.5h-0.99zM332.89 90.5h0.99v1.5h-0.99zM324.95 92h0.99v1.5h-0.99zM338.83 92h2.97v1.5h-2.97zM314.05 93.5h1.98v1.5h-1.98zM326.94 93.5h2.97v1.5h-2.97zM314.05 95h0.99v1.5h-0.99zM322.97 95h0.99v1.5h-0.99zM315.04 96.5h0.99v1.5h-0.99zM296.2 99.5h0.99v1.5h-0.99zM298.18 99.5h0.99v1.5h-0.99zM315.04 99.5h0.99v1.5h-0.99zM323.96 99.5h0.99v1.5h-0.99zM341.81 99.5h0.99v1.5h-0.99zM301.16 102.5h3.97v1.5h-3.97zM307.11 102.5h0.99v1.5h-0.99zM310.08 102.5h0.99v1.5h-0.99zM312.06 102.5h0.99v1.5h-0.99zM314.05 102.5h1.98v1.5h-1.98zM322.97 102.5h0.99v1.5h-0.99zM316.03 104h0.99v1.5h-0.99zM321.98 104h0.99v1.5h-0.99zM296.2 107h0.99v1.5h-0.99zM298.18 107h3.97v1.5h-3.97zM341.81 107h0.99v1.5h-0.99zM296.2 110h0.99v1.5h-0.99zM341.81 110h0.99v1.5h-0.99zM316.03 113h0.99v1.5h-0.99zM321.98 113h0.99v1.5h-0.99zM316.03 114.5h0.99v1.5h-0.99zM321.98 114.5h0.99v1.5h-0.99zM339.83 114.5h0.99v1.5h-0.99zM321.98 117.5h0.99v1.5h-0.99zM335.86 117.5h0.99v1.5h-0.99zM338.83 125h2.97v1.5h-2.97zM317.02 129.5h0.99v1.5h-0.99zM317.02 132.5h0.99v1.5h-0.99zM317.02 137h0.99v1.5h-0.99zM320.99 137h0.99v1.5h-0.99z" fill="#eaf0d0" shape-rendering="crispEdges"/>
<path d="M296.2 48.5h8.92v1.5h-8.92zM333.88 48.5h8.92v1.5h-8.92zM296.2 50h4.96v1.5h-4.96zM335.86 50h0.99v1.5h-0.99zM341.81 50h0.99v1.5h-0.99zM308.1 51.5h0.99v1.5h-0.99zM329.91 51.5h0.99v1.5h-0.99zM327.93 53h0.99v1.5h-0.99zM333.88 53h7.93v1.5h-7.93zM296.2 54.5h4.96v1.5h-4.96zM303.14 54.5h1.98v1.5h-1.98zM310.08 54.5h0.99v1.5h-0.99zM327.93 54.5h1.98v1.5h-1.98zM332.89 54.5h9.91v1.5h-9.91zM310.08 56h0.99v1.5h-0.99zM327.93 56h0.99v1.5h-0.99zM296.2 57.5h2.97v1.5h-2.97zM301.16 57.5h1.98v1.5h-1.98zM304.13 57.5h3.97v1.5h-3.97zM325.94 57.5h2.97v1.5h-2.97zM341.81 57.5h0.99v1.5h-0.99zM309.09 59h0.99v1.5h-0.99zM311.07 59h0.99v1.5h-0.99zM328.92 59h2.97v1.5h-2.97zM325.94 60.5h0.99v1.5h-0.99zM332.89 60.5h3.97v1.5h-3.97zM339.83 60.5h1.98v1.5h-1.98zM310.08 62h0.99v1.5h-0.99zM327.93 62h0.99v1.5h-0.99zM311.07 63.5h0.99v1.5h-0.99zM296.2 65h0.99v1.5h-0.99zM299.17 65h0.99v1.5h-0.99zM311.07 65h0.99v1.5h-0.99zM326.94 65h0.99v1.5h-0.99zM341.81 65h0.99v1.5h-0.99zM312.06 66.5h0.99v1.5h-0.99zM325.94 66.5h0.99v1.5h-0.99zM339.83 66.5h0.99v1.5h-0.99zM313.06 68h0.99v1.5h-0.99zM325.94 68h0.99v1.5h-0.99zM313.06 69.5h0.99v1.5h-0.99zM324.95 69.5h0.99v1.5h-0.99zM305.12 71h2.97v1.5h-2.97zM312.06 71h1.98v1.5h-1.98zM324.95 71h0.99v1.5h-0.99zM326.94 71h0.99v1.5h-0.99zM334.87 71h5.95v1.5h-5.95zM296.2 72.5h2.97v1.5h-2.97zM306.11 72.5h2.97v1.5h-2.97zM314.05 72.5h0.99v1.5h-0.99zM324.95 72.5h0.99v1.5h-0.99zM341.81 72.5h0.99v1.5h-0.99zM311.07 74h0.99v1.5h-0.99zM313.06 75.5h0.99v1.5h-0.99zM324.95 75.5h0.99v1.5h-0.99zM312.06 77h2.97v1.5h-2.97zM332.89 77h2.97v1.5h-2.97zM313.06 78.5h0.99v1.5h-0.99zM314.05 83h1.98v1.5h-1.98zM322.97 84.5h1.98v1.5h-1.98zM314.05 86h0.99v1.5h-0.99zM324.95 86h0.99v1.5h-0.99zM314.05 89h0.99v1.5h-0.99zM339.83 93.5h0.99v1.5h-0.99zM315.04 95h0.99v1.5h-0.99zM299.17 99.5h0.99v1.5h-0.99zM322.97 99.5h0.99v1.5h-0.99zM327.93 99.5h0.99v1.5h-0.99zM316.03 101h0.99v1.5h-0.99zM316.03 105.5h0.99v1.5h-0.99zM321.98 105.5h0.99v1.5h-0.99zM316.03 108.5h0.99v1.5h-0.99zM321.98 108.5h0.99v1.5h-0.99zM316.03 110h0.99v1.5h-0.99zM321.98 110h0.99v1.5h-0.99zM305.12 113h3.97v1.5h-3.97zM316.03 117.5h0.99v1.5h-0.99zM307.11 119h0.99v1.5h-0.99zM321.98 119h0.99v1.5h-0.99zM339.83 119h0.99v1.5h-0.99zM316.03 120.5h0.99v1.5h-0.99zM321.98 120.5h0.99v1.5h-0.99zM309.09 122h1.98v1.5h-1.98zM320.99 129.5h0.99v1.5h-0.99zM317.02 131h0.99v1.5h-0.99zM320.99 131h0.99v1.5h-0.99zM313.06 132.5h0.99v1.5h-0.99zM320.99 132.5h0.99v1.5h-0.99zM317.02 134h0.99v1.5h-0.99zM320.99 134h0.99v1.5h-0.99zM317.02 135.5h0.99v1.5h-0.99zM320.99 135.5h0.99v1.5h-0.99z" fill="#e0edc8" shape-rendering="crispEdges"/>
<path d="M305.12 48.5h3.97v1.5h-3.97zM330.9 48.5h2.97v1.5h-2.97zM308.1 50h0.99v1.5h-0.99zM334.87 51.5h1.98v1.5h-1.98zM306.11 53h2.97v1.5h-2.97zM311.07 53h1.98v1.5h-1.98zM326.94 53h0.99v1.5h-0.99zM328.92 53h1.98v1.5h-1.98zM301.16 54.5h0.99v1.5h-0.99zM311.07 54.5h0.99v1.5h-0.99zM326.94 54.5h0.99v1.5h-0.99zM326.94 56h0.99v1.5h-0.99zM324.95 57.5h0.99v1.5h-0.99zM297.19 59h2.97v1.5h-2.97zM306.11 59h0.99v1.5h-0.99zM310.08 59h0.99v1.5h-0.99zM326.94 59h1.98v1.5h-1.98zM334.87 59h3.97v1.5h-3.97zM299.17 60.5h2.97v1.5h-2.97zM310.08 60.5h1.98v1.5h-1.98zM326.94 60.5h1.98v1.5h-1.98zM336.85 60.5h2.97v1.5h-2.97zM311.07 62h0.99v1.5h-0.99zM326.94 62h0.99v1.5h-0.99zM312.06 63.5h0.99v1.5h-0.99zM312.06 65h0.99v1.5h-0.99zM324.95 65h1.98v1.5h-1.98zM299.17 66.5h0.99v1.5h-0.99zM313.06 66.5h1.98v1.5h-1.98zM323.96 66.5h1.98v1.5h-1.98zM329.91 66.5h5.95v1.5h-5.95zM314.05 69.5h0.99v1.5h-0.99zM299.17 71h0.99v1.5h-0.99zM315.04 72.5h0.99v1.5h-0.99zM322.97 72.5h1.98v1.5h-1.98zM312.06 74h1.98v1.5h-1.98zM324.95 74h3.97v1.5h-3.97zM305.12 75.5h1.98v1.5h-1.98zM314.05 75.5h1.98v1.5h-1.98zM322.97 75.5h1.98v1.5h-1.98zM338.83 75.5h1.98v1.5h-1.98zM314.05 78.5h0.99v1.5h-0.99zM323.96 78.5h2.97v1.5h-2.97zM314.05 81.5h0.99v1.5h-0.99zM323.96 81.5h0.99v1.5h-0.99zM322.97 83h0.99v1.5h-0.99zM314.05 84.5h1.98v1.5h-1.98zM323.96 86h0.99v1.5h-0.99zM328.92 86h1.98v1.5h-1.98zM315.04 87.5h0.99v1.5h-0.99zM322.97 87.5h0.99v1.5h-0.99zM297.19 90.5h0.99v1.5h-0.99zM323.96 92h0.99v1.5h-0.99zM316.03 96.5h0.99v1.5h-0.99zM300.17 99.5h1.98v1.5h-1.98zM334.87 99.5h1.98v1.5h-1.98zM321.98 101h0.99v1.5h-0.99zM298.18 108.5h1.98v1.5h-1.98zM324.95 110h1.98v1.5h-1.98zM316.03 111.5h0.99v1.5h-0.99zM321.98 111.5h0.99v1.5h-0.99zM310.08 117.5h3.97v1.5h-3.97zM334.87 117.5h0.99v1.5h-0.99zM301.16 122h2.97v1.5h-2.97zM304.13 123.5h1.98v1.5h-1.98zM337.84 123.5h0.99v1.5h-0.99zM317.02 125h0.99v1.5h-0.99zM331.89 126.5h2.97v1.5h-2.97zM333.88 128h1.98v1.5h-1.98zM340.82 131h1.98v1.5h-1.98zM308.1 134h2.97v1.5h-2.97zM322.97 135.5h1.98v1.5h-1.98z" fill="#c7e3bd" shape-rendering="crispEdges"/>
<path d="M328.92 48.5h1.98v1.5h-1.98zM309.09 51.5h0.99v1.5h-0.99zM327.93 51.5h1.98v1.5h-1.98zM339.83 51.5h0.99v1.5h-0.99zM313.06 54.5h0.99v1.5h-0.99zM324.95 54.5h0.99v1.5h-0.99zM330.9 54.5h0.99v1.5h-0.99zM311.07 56h0.99v1.5h-0.99zM308.1 57.5h3.97v1.5h-3.97zM312.06 59h0.99v1.5h-0.99zM312.06 60.5h0.99v1.5h-0.99zM324.95 63.5h2.97v1.5h-2.97zM307.11 65h0.99v1.5h-0.99zM313.06 65h0.99v1.5h-0.99zM314.05 68h0.99v1.5h-0.99zM323.96 68h1.98v1.5h-1.98zM297.19 71h1.98v1.5h-1.98zM325.94 71h0.99v1.5h-0.99zM340.82 71h1.98v1.5h-1.98zM304.13 72.5h1.98v1.5h-1.98zM303.14 75.5h1.98v1.5h-1.98zM299.17 80h3.97v1.5h-3.97zM329.91 87.5h0.99v1.5h-0.99zM334.87 89h3.97v1.5h-3.97zM330.9 90.5h1.98v1.5h-1.98zM316.03 93.5h0.99v1.5h-0.99zM321.98 93.5h4.96v1.5h-4.96zM321.98 96.5h0.99v1.5h-0.99zM304.13 98h2.97v1.5h-2.97zM316.03 98h0.99v1.5h-0.99zM338.83 99.5h0.99v1.5h-0.99zM309.09 104h2.97v1.5h-2.97zM303.14 105.5h2.97v1.5h-2.97zM329.91 110h2.97v1.5h-2.97zM329.91 111.5h3.97v1.5h-3.97zM320.99 116h0.99v1.5h-0.99zM316.03 119h0.99v1.5h-0.99zM304.13 122h2.97v1.5h-2.97zM337.84 122h0.99v1.5h-0.99zM316.03 123.5h1.98v1.5h-1.98zM320.99 123.5h0.99v1.5h-0.99zM320.99 125h0.99v1.5h-0.99zM326.94 125h3.97v1.5h-3.97zM317.02 126.5h0.99v1.5h-0.99zM320.99 126.5h0.99v1.5h-0.99zM317.02 128h0.99v1.5h-0.99zM320.99 128h0.99v1.5h-0.99zM313.06 134h3.97v1.5h-3.97zM325.94 135.5h2.97v1.5h-2.97z" fill="#add9b0" shape-rendering="crispEdges"/>
<path d="M309.09 48.5h0.99v1.5h-0.99zM327.93 48.5h0.99v1.5h-0.99zM301.16 50h2.97v1.5h-2.97zM309.09 50h0.99v1.5h-0.99zM328.92 50h2.97v1.5h-2.97zM330.9 53h2.97v1.5h-2.97zM305.12 54.5h1.98v1.5h-1.98zM312.06 54.5h0.99v1.5h-0.99zM325.94 54.5h0.99v1.5h-0.99zM329.91 54.5h0.99v1.5h-0.99zM325.94 56h0.99v1.5h-0.99zM312.06 57.5h0.99v1.5h-0.99zM325.94 59h0.99v1.5h-0.99zM312.06 62h1.98v1.5h-1.98zM325.94 62h0.99v1.5h-0.99zM313.06 63.5h0.99v1.5h-0.99zM301.16 65h1.98v1.5h-1.98zM330.9 68h0.99v1.5h-0.99zM322.97 69.5h0.99v1.5h-0.99zM326.94 69.5h0.99v1.5h-0.99zM299.17 72.5h3.97v1.5h-3.97zM323.96 77h3.97v1.5h-3.97zM329.91 77h0.99v1.5h-0.99zM299.17 78.5h3.97v1.5h-3.97zM315.04 78.5h0.99v1.5h-0.99zM322.97 78.5h0.99v1.5h-0.99zM315.04 80h0.99v1.5h-0.99zM322.97 80h2.97v1.5h-2.97zM340.82 80h1.98v1.5h-1.98zM303.14 83h2.97v1.5h-2.97zM316.03 89h0.99v1.5h-0.99zM321.98 89h0.99v1.5h-0.99zM298.18 90.5h2.97v1.5h-2.97zM296.2 92h1.98v1.5h-1.98zM321.98 98h0.99v1.5h-0.99zM326.94 102.5h2.97v1.5h-2.97zM321.98 107h0.99v1.5h-0.99zM340.82 113h1.98v1.5h-1.98zM296.2 116h1.98v1.5h-1.98zM317.02 116h0.99v1.5h-0.99zM307.11 117.5h2.97v1.5h-2.97zM307.11 123.5h3.97v1.5h-3.97zM310.08 125h3.97v1.5h-3.97zM338.83 135.5h2.97v1.5h-2.97zM318.01 138.5h0.99v1.5h-0.99zM320 138.5h0.99v1.5h-0.99zM318.01 141.5h0.99v1.5h-0.99zM320 141.5h0.99v1.5h-0.99z" fill="#8bcb9c" shape-rendering="crispEdges"/>
<path d="M310.08 50h0.99v1.5h-0.99zM327.93 50h0.99v1.5h-0.99zM310.08 51.5h0.99v1.5h-0.99zM326.94 51.5h0.99v1.5h-0.99zM313.06 53h0.99v1.5h-0.99zM325.94 53h0.99v1.5h-0.99zM323.96 54.5h0.99v1.5h-0.99zM312.06 56h1.98v1.5h-1.98zM313.06 60.5h0.99v1.5h-0.99zM324.95 60.5h0.99v1.5h-0.99zM315.04 69.5h0.99v1.5h-0.99zM314.05 74h0.99v1.5h-0.99zM323.96 74h0.99v1.5h-0.99zM316.03 83h0.99v1.5h-0.99zM316.03 84.5h0.99v1.5h-0.99zM321.98 84.5h0.99v1.5h-0.99zM315.04 92h0.99v1.5h-0.99zM322.97 92h0.99v1.5h-0.99zM316.03 107h0.99v1.5h-0.99zM317.02 122h0.99v1.5h-0.99zM320.99 122h0.99v1.5h-0.99z" fill="#69bd88" shape-rendering="crispEdges"/>
<path d="M310.08 48.5h0.99v1.5h-0.99zM311.07 51.5h0.99v1.5h-0.99zM324.95 53h0.99v1.5h-0.99zM314.05 54.5h0.99v1.5h-0.99zM324.95 56h0.99v1.5h-0.99zM313.06 57.5h0.99v1.5h-0.99zM324.95 62h0.99v1.5h-0.99zM315.04 66.5h0.99v1.5h-0.99zM322.97 66.5h0.99v1.5h-0.99zM321.98 83h0.99v1.5h-0.99zM316.03 95h0.99v1.5h-0.99zM321.98 95h0.99v1.5h-0.99zM316.03 102.5h0.99v1.5h-0.99zM321.98 102.5h0.99v1.5h-0.99zM317.02 114.5h0.99v1.5h-0.99zM320.99 114.5h0.99v1.5h-0.99zM320 137h0.99v1.5h-0.99zM318.01 140h0.99v1.5h-0.99zM320 140h0.99v1.5h-0.99z" fill="#49ad73" shape-rendering="crispEdges"/>
<path d="M323.96 63.5h0.99v1.5h-0.99zM315.04 77h0.99v1.5h-0.99zM315.04 90.5h0.99v1.5h-0.99zM322.97 90.5h0.99v1.5h-0.99zM316.03 99.5h0.99v1.5h-0.99zM321.98 99.5h0.99v1.5h-0.99zM317.02 104h0.99v1.5h-0.99zM320.99 104h0.99v1.5h-0.99zM317.02 113h0.99v1.5h-0.99zM320.99 113h0.99v1.5h-0.99zM318.01 129.5h0.99v1.5h-0.99zM318.01 132.5h0.99v1.5h-0.99zM320 132.5h0.99v1.5h-0.99zM318.01 134h0.99v1.5h-0.99zM318.01 137h0.99v1.5h-0.99z" fill="#2a9c5e" shape-rendering="crispEdges"/>
<path d="M316.03 48.5h7.93v1.5h-7.93zM324.95 48.5h0.99v1.5h-0.99zM311.07 50h1.98v1.5h-1.98zM318.01 50h4.96v1.5h-4.96zM314.05 51.5h1.98v1.5h-1.98zM320 51.5h6.94v1.5h-6.94zM316.03 53h0.99v1.5h-0.99zM315.04 54.5h8.92v1.5h-8.92zM317.02 56h6.94v1.5h-6.94zM318.01 57.5h2.97v1.5h-2.97zM321.98 57.5h2.97v1.5h-2.97zM320 59h5.95v1.5h-5.95zM315.04 60.5h2.97v1.5h-2.97zM321.98 60.5h2.97v1.5h-2.97zM314.05 62h2.97v1.5h-2.97zM319 62h4.96v1.5h-4.96zM314.05 63.5h0.99v1.5h-0.99zM318.01 63.5h5.95v1.5h-5.95zM315.04 65h0.99v1.5h-0.99zM322.97 65h1.98v1.5h-1.98zM316.03 66.5h2.97v1.5h-2.97zM318.01 68h0.99v1.5h-0.99zM322.97 68h0.99v1.5h-0.99zM316.03 69.5h6.94v1.5h-6.94zM314.05 71h0.99v1.5h-0.99zM322.97 71h1.98v1.5h-1.98zM317.02 72.5h0.99v1.5h-0.99zM319 72.5h3.97v1.5h-3.97zM315.04 74h1.98v1.5h-1.98zM318.01 74h0.99v1.5h-0.99zM320 74h0.99v1.5h-0.99zM316.03 75.5h0.99v1.5h-0.99zM316.03 77h0.99v1.5h-0.99zM320 78.5h0.99v1.5h-0.99zM318.01 80h3.97v1.5h-3.97zM322.97 81.5h0.99v1.5h-0.99zM317.02 83h0.99v1.5h-0.99zM319 83h0.99v1.5h-0.99zM317.02 84.5h1.98v1.5h-1.98zM320.99 84.5h0.99v1.5h-0.99zM315.04 86h0.99v1.5h-0.99zM319 86h1.98v1.5h-1.98zM316.03 87.5h1.98v1.5h-1.98zM320 87.5h2.97v1.5h-2.97zM317.02 89h0.99v1.5h-0.99zM320 89h1.98v1.5h-1.98zM316.03 90.5h0.99v1.5h-0.99zM319 90.5h2.97v1.5h-2.97zM319 92h3.97v1.5h-3.97zM317.02 93.5h1.98v1.5h-1.98zM317.02 96.5h3.97v1.5h-3.97zM317.02 98h3.97v1.5h-3.97zM317.02 101h2.97v1.5h-2.97zM319 102.5h0.99v1.5h-0.99zM318.01 104h0.99v1.5h-0.99zM317.02 105.5h2.97v1.5h-2.97zM320.99 105.5h0.99v1.5h-0.99zM320.99 108.5h0.99v1.5h-0.99zM317.02 110h1.98v1.5h-1.98zM320 113h0.99v1.5h-0.99zM319 114.5h0.99v1.5h-0.99zM319 116h0.99v1.5h-0.99zM317.02 117.5h0.99v1.5h-0.99zM320.99 117.5h0.99v1.5h-0.99zM320 119h1.98v1.5h-1.98zM317.02 120.5h0.99v1.5h-0.99zM320.99 120.5h0.99v1.5h-0.99zM318.01 122h2.97v1.5h-2.97zM318.01 125h0.99v1.5h-0.99zM318.01 126.5h2.97v1.5h-2.97zM319 128h1.98v1.5h-1.98zM320 129.5h0.99v1.5h-0.99zM318.01 131h0.99v1.5h-0.99zM320 131h0.99v1.5h-0.99zM319 132.5h0.99v1.5h-0.99zM320 134h0.99v1.5h-0.99zM318.01 135.5h0.99v1.5h-0.99zM320 135.5h0.99v1.5h-0.99zM319 138.5h0.99v1.5h-0.99z" fill="#1a8e51" shape-rendering="crispEdges"/>
<path d="M311.07 48.5h4.96v1.5h-4.96zM323.96 48.5h0.99v1.5h-0.99zM325.94 48.5h1.98v1.5h-1.98zM313.06 50h4.96v1.5h-4.96zM322.97 50h4.96v1.5h-4.96zM312.06 51.5h1.98v1.5h-1.98zM316.03 51.5h3.97v1.5h-3.97zM314.05 53h1.98v1.5h-1.98zM317.02 53h7.93v1.5h-7.93zM314.05 56h2.97v1.5h-2.97zM323.96 56h0.99v1.5h-0.99zM314.05 57.5h3.97v1.5h-3.97zM320.99 57.5h0.99v1.5h-0.99zM313.06 59h0.99v1.5h-0.99zM315.04 59h4.96v1.5h-4.96zM314.05 60.5h0.99v1.5h-0.99zM318.01 60.5h3.97v1.5h-3.97zM317.02 62h1.98v1.5h-1.98zM323.96 62h0.99v1.5h-0.99zM315.04 63.5h2.97v1.5h-2.97zM314.05 65h0.99v1.5h-0.99zM316.03 65h6.94v1.5h-6.94zM319 66.5h3.97v1.5h-3.97zM315.04 68h2.97v1.5h-2.97zM319 68h3.97v1.5h-3.97zM315.04 71h7.93v1.5h-7.93zM316.03 72.5h0.99v1.5h-0.99zM318.01 72.5h0.99v1.5h-0.99zM317.02 74h0.99v1.5h-0.99zM319 74h0.99v1.5h-0.99zM320.99 74h2.97v1.5h-2.97zM317.02 75.5h5.95v1.5h-5.95zM317.02 77h6.94v1.5h-6.94zM316.03 78.5h3.97v1.5h-3.97zM320.99 78.5h1.98v1.5h-1.98zM316.03 80h1.98v1.5h-1.98zM321.98 80h0.99v1.5h-0.99zM315.04 81.5h7.93v1.5h-7.93zM318.01 83h0.99v1.5h-0.99zM320 83h1.98v1.5h-1.98zM319 84.5h1.98v1.5h-1.98zM316.03 86h2.97v1.5h-2.97zM320.99 86h2.97v1.5h-2.97zM318.01 87.5h1.98v1.5h-1.98zM318.01 89h1.98v1.5h-1.98zM317.02 90.5h1.98v1.5h-1.98zM321.98 90.5h0.99v1.5h-0.99zM316.03 92h2.97v1.5h-2.97zM319 93.5h2.97v1.5h-2.97zM317.02 95h4.96v1.5h-4.96zM320.99 96.5h0.99v1.5h-0.99zM320.99 98h0.99v1.5h-0.99zM317.02 99.5h4.96v1.5h-4.96zM320 101h1.98v1.5h-1.98zM317.02 102.5h1.98v1.5h-1.98zM320 102.5h1.98v1.5h-1.98zM319 104h1.98v1.5h-1.98zM320 105.5h0.99v1.5h-0.99zM317.02 107h4.96v1.5h-4.96zM317.02 108.5h3.97v1.5h-3.97zM319 110h2.97v1.5h-2.97zM317.02 111.5h4.96v1.5h-4.96zM318.01 113h1.98v1.5h-1.98zM318.01 114.5h0.99v1.5h-0.99zM320 114.5h0.99v1.5h-0.99zM318.01 116h0.99v1.5h-0.99zM320 116h0.99v1.5h-0.99zM318.01 117.5h2.97v1.5h-2.97zM317.02 119h2.97v1.5h-2.97zM318.01 120.5h2.97v1.5h-2.97zM318.01 123.5h2.97v1.5h-2.97zM319 125h1.98v1.5h-1.98zM318.01 128h0.99v1.5h-0.99zM319 129.5h0.99v1.5h-0.99zM319 131h0.99v1.5h-0.99zM319 134h0.99v1.5h-0.99zM319 135.5h0.99v1.5h-0.99zM319 137h0.99v1.5h-0.99zM319 140h0.99v1.5h-0.99zM319 141.5h0.99v1.5h-0.99z" fill="#0b8044" shape-rendering="crispEdges"/>
<path d="M314.05 59h0.99v1.5h-0.99z" fill="#066f3b" shape-rendering="crispEdges"/>
<path d="M356.2 50h3.02v1.5h-3.02zM360.22 50h3.02v1.5h-3.02zM364.25 50h3.02v1.5h-3.02zM368.27 50h1.01v1.5h-1.01zM370.28 50h3.02v1.5h-3.02zM395.43 50h4.02v1.5h-4.02zM402.48 50h1.01v1.5h-1.01zM366.26 53h3.02v1.5h-3.02zM370.28 53h3.02v1.5h-3.02zM389.4 53h13.08v1.5h-13.08zM370.28 54.5h5.03v1.5h-5.03zM393.42 54.5h1.01v1.5h-1.01zM396.44 54.5h10.06v1.5h-10.06zM357.21 56h1.01v1.5h-1.01zM364.25 56h11.07v1.5h-11.07zM356.2 57.5h12.07v1.5h-12.07zM374.31 57.5h1.01v1.5h-1.01zM393.42 57.5h1.01v1.5h-1.01zM356.2 59h19.11v1.5h-19.11zM386.38 59h20.12v1.5h-20.12zM369.28 60.5h5.03v1.5h-5.03zM388.39 60.5h12.07v1.5h-12.07zM356.2 62h2.01v1.5h-2.01zM359.22 62h4.02v1.5h-4.02zM366.26 62h10.06v1.5h-10.06zM397.45 62h9.05v1.5h-9.05zM356.2 63.5h3.02v1.5h-3.02zM360.22 63.5h6.04v1.5h-6.04zM372.3 63.5h3.02v1.5h-3.02zM387.39 63.5h5.03v1.5h-5.03zM395.43 63.5h11.07v1.5h-11.07zM363.24 65h12.07v1.5h-12.07zM386.38 65h20.12v1.5h-20.12zM356.2 66.5h19.11v1.5h-19.11zM387.39 66.5h19.11v1.5h-19.11zM356.2 68h17.1v1.5h-17.1zM374.31 68h1.01v1.5h-1.01zM386.38 68h20.12v1.5h-20.12zM356.2 69.5h19.11v1.5h-19.11zM388.39 69.5h18.11v1.5h-18.11zM356.2 71h19.11v1.5h-19.11zM386.38 71h20.12v1.5h-20.12zM356.2 72.5h20.12v1.5h-20.12zM386.38 72.5h20.12v1.5h-20.12zM356.2 74h21.13v1.5h-21.13zM385.37 74h21.13v1.5h-21.13zM356.2 75.5h20.12v1.5h-20.12zM386.38 75.5h20.12v1.5h-20.12zM356.2 77h20.12v1.5h-20.12zM386.38 77h20.12v1.5h-20.12zM356.2 78.5h20.12v1.5h-20.12zM386.38 78.5h20.12v1.5h-20.12zM356.2 80h19.11v1.5h-19.11zM386.38 80h20.12v1.5h-20.12zM357.21 81.5h19.11v1.5h-19.11zM386.38 81.5h20.12v1.5h-20.12zM356.2 83h20.12v1.5h-20.12zM386.38 83h20.12v1.5h-20.12zM356.2 84.5h20.12v1.5h-20.12zM386.38 84.5h20.12v1.5h-20.12zM356.2 86h20.12v1.5h-20.12zM385.37 86h21.13v1.5h-21.13zM356.2 87.5h21.13v1.5h-21.13zM385.37 87.5h21.13v1.5h-21.13zM356.2 89h21.13v1.5h-21.13zM385.37 89h21.13v1.5h-21.13zM356.2 90.5h21.13v1.5h-21.13zM385.37 90.5h21.13v1.5h-21.13zM356.2 92h21.13v1.5h-21.13zM385.37 92h21.13v1.5h-21.13zM356.2 93.5h21.13v1.5h-21.13zM385.37 93.5h21.13v1.5h-21.13zM356.2 95h21.13v1.5h-21.13zM385.37 95h21.13v1.5h-21.13zM356.2 96.5h21.13v1.5h-21.13zM385.37 96.5h21.13v1.5h-21.13zM356.2 98h21.13v1.5h-21.13zM385.37 98h21.13v1.5h-21.13zM356.2 99.5h22.13v1.5h-22.13zM384.37 99.5h22.13v1.5h-22.13zM356.2 101h22.13v1.5h-22.13zM384.37 101h22.13v1.5h-22.13zM356.2 102.5h21.13v1.5h-21.13zM385.37 102.5h21.13v1.5h-21.13zM356.2 104h21.13v1.5h-21.13zM385.37 104h21.13v1.5h-21.13zM356.2 105.5h21.13v1.5h-21.13zM385.37 105.5h21.13v1.5h-21.13zM356.2 107h22.13v1.5h-22.13zM384.37 107h22.13v1.5h-22.13zM356.2 108.5h22.13v1.5h-22.13zM384.37 108.5h22.13v1.5h-22.13zM356.2 110h22.13v1.5h-22.13zM384.37 110h22.13v1.5h-22.13zM356.2 111.5h22.13v1.5h-22.13zM384.37 111.5h22.13v1.5h-22.13zM356.2 113h22.13v1.5h-22.13zM384.37 113h22.13v1.5h-22.13zM356.2 114.5h22.13v1.5h-22.13zM384.37 114.5h22.13v1.5h-22.13zM356.2 116h22.13v1.5h-22.13zM384.37 116h22.13v1.5h-22.13zM356.2 117.5h22.13v1.5h-22.13zM384.37 117.5h22.13v1.5h-22.13zM356.2 119h22.13v1.5h-22.13zM384.37 119h22.13v1.5h-22.13zM356.2 120.5h23.14v1.5h-23.14zM383.36 120.5h23.14v1.5h-23.14zM356.2 122h22.13v1.5h-22.13zM384.37 122h22.13v1.5h-22.13zM356.2 123.5h22.13v1.5h-22.13zM384.37 123.5h22.13v1.5h-22.13zM356.2 125h23.14v1.5h-23.14zM383.36 125h23.14v1.5h-23.14zM356.2 126.5h23.14v1.5h-23.14zM383.36 126.5h23.14v1.5h-23.14zM356.2 128h23.14v1.5h-23.14zM383.36 128h23.14v1.5h-23.14zM356.2 129.5h23.14v1.5h-23.14zM383.36 129.5h23.14v1.5h-23.14zM356.2 131h23.14v1.5h-23.14zM383.36 131h23.14v1.5h-23.14zM356.2 132.5h23.14v1.5h-23.14zM383.36 132.5h23.14v1.5h-23.14zM356.2 134h23.14v1.5h-23.14zM383.36 134h23.14v1.5h-23.14zM356.2 135.5h23.14v1.5h-23.14zM383.36 135.5h23.14v1.5h-23.14zM356.2 137h23.14v1.5h-23.14zM383.36 137h23.14v1.5h-23.14zM356.2 138.5h23.14v1.5h-23.14zM383.36 138.5h23.14v1.5h-23.14zM356.2 140h23.14v1.5h-23.14zM383.36 140h23.14v1.5h-23.14zM356.2 141.5h23.14v1.5h-23.14zM383.36 141.5h23.14v1.5h-23.14z" fill="#f6f7df" shape-rendering="crispEdges"/>
<path d="M359.22 50h1.01v1.5h-1.01zM363.24 50h1.01v1.5h-1.01zM367.27 50h1.01v1.5h-1.01zM369.28 50h1.01v1.5h-1.01zM373.3 50h1.01v1.5h-1.01zM389.4 50h6.04v1.5h-6.04zM399.46 50h3.02v1.5h-3.02zM403.48 50h3.02v1.5h-3.02zM356.2 51.5h17.1v1.5h-17.1zM388.39 51.5h18.11v1.5h-18.11zM356.2 53h10.06v1.5h-10.06zM369.28 53h1.01v1.5h-1.01zM373.3 53h1.01v1.5h-1.01zM388.39 53h1.01v1.5h-1.01zM402.48 53h4.02v1.5h-4.02zM356.2 54.5h14.08v1.5h-14.08zM387.39 54.5h6.04v1.5h-6.04zM394.43 54.5h2.01v1.5h-2.01zM356.2 56h1.01v1.5h-1.01zM358.21 56h6.04v1.5h-6.04zM375.31 56h1.01v1.5h-1.01zM386.38 56h20.12v1.5h-20.12zM368.27 57.5h6.04v1.5h-6.04zM375.31 57.5h1.01v1.5h-1.01zM386.38 57.5h7.04v1.5h-7.04zM394.43 57.5h12.07v1.5h-12.07zM375.31 59h1.01v1.5h-1.01zM356.2 60.5h13.08v1.5h-13.08zM374.31 60.5h1.01v1.5h-1.01zM387.39 60.5h1.01v1.5h-1.01zM400.46 60.5h6.04v1.5h-6.04zM358.21 62h1.01v1.5h-1.01zM363.24 62h3.02v1.5h-3.02zM386.38 62h11.07v1.5h-11.07zM359.22 63.5h1.01v1.5h-1.01zM366.26 63.5h6.04v1.5h-6.04zM375.31 63.5h1.01v1.5h-1.01zM386.38 63.5h1.01v1.5h-1.01zM392.42 63.5h3.02v1.5h-3.02zM356.2 65h7.04v1.5h-7.04zM375.31 65h1.01v1.5h-1.01zM375.31 66.5h1.01v1.5h-1.01zM386.38 66.5h1.01v1.5h-1.01zM373.3 68h1.01v1.5h-1.01zM375.31 68h1.01v1.5h-1.01zM375.31 69.5h1.01v1.5h-1.01zM386.38 69.5h2.01v1.5h-2.01zM375.31 71h1.01v1.5h-1.01zM376.32 72.5h1.01v1.5h-1.01zM385.37 72.5h1.01v1.5h-1.01zM376.32 75.5h1.01v1.5h-1.01zM385.37 75.5h1.01v1.5h-1.01zM375.31 80h1.01v1.5h-1.01zM356.2 81.5h1.01v1.5h-1.01zM385.37 81.5h1.01v1.5h-1.01zM376.32 83h1.01v1.5h-1.01zM385.37 83h1.01v1.5h-1.01zM376.32 84.5h1.01v1.5h-1.01zM385.37 84.5h1.01v1.5h-1.01zM376.32 86h1.01v1.5h-1.01zM377.33 96.5h1.01v1.5h-1.01zM384.37 96.5h1.01v1.5h-1.01zM377.33 98h1.01v1.5h-1.01zM384.37 98h1.01v1.5h-1.01zM377.33 102.5h1.01v1.5h-1.01zM384.37 102.5h1.01v1.5h-1.01zM377.33 104h1.01v1.5h-1.01zM384.37 104h1.01v1.5h-1.01zM377.33 105.5h1.01v1.5h-1.01zM384.37 105.5h1.01v1.5h-1.01zM378.33 116h1.01v1.5h-1.01zM383.36 116h1.01v1.5h-1.01zM378.33 117.5h1.01v1.5h-1.01zM383.36 117.5h1.01v1.5h-1.01zM383.36 119h1.01v1.5h-1.01zM378.33 122h1.01v1.5h-1.01zM383.36 122h1.01v1.5h-1.01zM378.33 123.5h1.01v1.5h-1.01zM383.36 123.5h1.01v1.5h-1.01zM382.36 141.5h1.01v1.5h-1.01z" fill="#f3f4d8" shape-rendering="crispEdges"/>
<path d="M373.3 51.5h1.01v1.5h-1.01zM375.31 54.5h1.01v1.5h-1.01zM386.38 54.5h1.01v1.5h-1.01zM385.37 78.5h1.01v1.5h-1.01zM376.32 80h1.01v1.5h-1.01zM385.37 80h1.01v1.5h-1.01zM376.32 81.5h1.01v1.5h-1.01zM377.33 95h1.01v1.5h-1.01zM384.37 95h1.01v1.5h-1.01zM378.33 111.5h1.01v1.5h-1.01zM383.36 111.5h1.01v1.5h-1.01zM378.33 119h1.01v1.5h-1.01zM379.34 140h1.01v1.5h-1.01zM382.36 140h1.01v1.5h-1.01zM379.34 141.5h1.01v1.5h-1.01z" fill="#eaf0d0" shape-rendering="crispEdges"/>
<path d="M356.2 48.5h9.05v1.5h-9.05zM397.45 48.5h9.05v1.5h-9.05zM388.39 50h1.01v1.5h-1.01zM375.31 60.5h1.01v1.5h-1.01zM386.38 60.5h1.01v1.5h-1.01zM376.32 62h1.01v1.5h-1.01zM385.37 62h1.01v1.5h-1.01zM376.32 65h1.01v1.5h-1.01zM385.37 65h1.01v1.5h-1.01zM376.32 66.5h1.01v1.5h-1.01zM385.37 66.5h1.01v1.5h-1.01zM385.37 68h1.01v1.5h-1.01zM385.37 77h1.01v1.5h-1.01zM376.32 78.5h1.01v1.5h-1.01zM377.33 87.5h1.01v1.5h-1.01zM384.37 87.5h1.01v1.5h-1.01zM377.33 90.5h1.01v1.5h-1.01zM384.37 90.5h1.01v1.5h-1.01zM377.33 93.5h1.01v1.5h-1.01zM384.37 93.5h1.01v1.5h-1.01zM378.33 114.5h1.01v1.5h-1.01zM383.36 114.5h1.01v1.5h-1.01zM379.34 132.5h1.01v1.5h-1.01zM382.36 134h1.01v1.5h-1.01zM379.34 135.5h1.01v1.5h-1.01zM382.36 135.5h1.01v1.5h-1.01zM379.34 137h1.01v1.5h-1.01zM382.36 137h1.01v1.5h-1.01zM379.34 138.5h1.01v1.5h-1.01zM382.36 138.5h1.01v1.5h-1.01z" fill="#e0edc8" shape-rendering="crispEdges"/>
<path d="M365.25 48.5h9.05v1.5h-9.05zM388.39 48.5h9.05v1.5h-9.05zM374.31 53h1.01v1.5h-1.01zM387.39 53h1.01v1.5h-1.01zM376.32 68h1.01v1.5h-1.01zM376.32 71h1.01v1.5h-1.01zM385.37 71h1.01v1.5h-1.01zM376.32 77h1.01v1.5h-1.01zM378.33 113h1.01v1.5h-1.01zM383.36 113h1.01v1.5h-1.01zM382.36 131h1.01v1.5h-1.01zM382.36 132.5h1.01v1.5h-1.01zM379.34 134h1.01v1.5h-1.01z" fill="#c7e3bd" shape-rendering="crispEdges"/>
<path d="M374.31 48.5h1.01v1.5h-1.01zM387.39 48.5h1.01v1.5h-1.01zM374.31 51.5h1.01v1.5h-1.01zM387.39 51.5h1.01v1.5h-1.01zM377.33 92h1.01v1.5h-1.01zM384.37 92h1.01v1.5h-1.01zM378.33 108.5h1.01v1.5h-1.01zM379.34 129.5h1.01v1.5h-1.01zM382.36 129.5h1.01v1.5h-1.01zM379.34 131h1.01v1.5h-1.01z" fill="#add9b0" shape-rendering="crispEdges"/>
<path d="M376.32 57.5h1.01v1.5h-1.01zM385.37 59h1.01v1.5h-1.01zM377.33 72.5h1.01v1.5h-1.01zM378.33 101h1.01v1.5h-1.01zM383.36 101h1.01v1.5h-1.01zM383.36 108.5h1.01v1.5h-1.01zM378.33 110h1.01v1.5h-1.01zM383.36 110h1.01v1.5h-1.01zM379.34 126.5h1.01v1.5h-1.01zM382.36 126.5h1.01v1.5h-1.01zM382.36 128h1.01v1.5h-1.01z" fill="#8bcb9c" shape-rendering="crispEdges"/>
<path d="M385.37 57.5h1.01v1.5h-1.01zM376.32 59h1.01v1.5h-1.01zM376.32 63.5h1.01v1.5h-1.01zM376.32 69.5h1.01v1.5h-1.01zM385.37 69.5h1.01v1.5h-1.01zM384.37 72.5h1.01v1.5h-1.01zM377.33 75.5h1.01v1.5h-1.01zM384.37 75.5h1.01v1.5h-1.01zM377.33 89h1.01v1.5h-1.01zM384.37 89h1.01v1.5h-1.01zM378.33 107h1.01v1.5h-1.01zM383.36 107h1.01v1.5h-1.01zM379.34 125h1.01v1.5h-1.01zM379.34 128h1.01v1.5h-1.01z" fill="#69bd88" shape-rendering="crispEdges"/>
<path d="M385.37 63.5h1.01v1.5h-1.01zM377.33 74h1.01v1.5h-1.01zM377.33 86h1.01v1.5h-1.01zM384.37 86h1.01v1.5h-1.01zM378.33 99.5h1.01v1.5h-1.01zM383.36 99.5h1.01v1.5h-1.01zM382.36 125h1.01v1.5h-1.01z" fill="#49ad73" shape-rendering="crispEdges"/>
<path d="M374.31 50h1.01v1.5h-1.01zM387.39 50h1.01v1.5h-1.01zM384.37 74h1.01v1.5h-1.01zM377.33 83h1.01v1.5h-1.01zM384.37 83h1.01v1.5h-1.01zM378.33 104h1.01v1.5h-1.01zM379.34 120.5h1.01v1.5h-1.01zM382.36 120.5h1.01v1.5h-1.01zM382.36 122h1.01v1.5h-1.01zM379.34 123.5h1.01v1.5h-1.01zM382.36 123.5h1.01v1.5h-1.01z" fill="#2a9c5e" shape-rendering="crispEdges"/>
<path d="M385.37 48.5h1.01v1.5h-1.01zM375.31 50h1.01v1.5h-1.01zM376.32 51.5h3.02v1.5h-3.02zM382.36 53h2.01v1.5h-2.01zM385.37 53h1.01v1.5h-1.01zM376.32 56h1.01v1.5h-1.01zM379.34 56h3.02v1.5h-3.02zM385.37 56h1.01v1.5h-1.01zM377.33 57.5h8.05v1.5h-8.05zM379.34 59h2.01v1.5h-2.01zM384.37 59h1.01v1.5h-1.01zM380.34 60.5h4.02v1.5h-4.02zM377.33 63.5h1.01v1.5h-1.01zM379.34 63.5h1.01v1.5h-1.01zM379.34 65h1.01v1.5h-1.01zM377.33 66.5h2.01v1.5h-2.01zM383.36 68h2.01v1.5h-2.01zM379.34 69.5h1.01v1.5h-1.01zM384.37 71h1.01v1.5h-1.01zM379.34 72.5h2.01v1.5h-2.01zM378.33 74h1.01v1.5h-1.01zM379.34 75.5h1.01v1.5h-1.01zM381.35 77h1.01v1.5h-1.01zM382.36 78.5h2.01v1.5h-2.01zM381.35 81.5h1.01v1.5h-1.01zM378.33 83h3.02v1.5h-3.02zM382.36 83h1.01v1.5h-1.01zM378.33 84.5h5.03v1.5h-5.03zM384.37 84.5h1.01v1.5h-1.01zM378.33 86h1.01v1.5h-1.01zM381.35 89h2.01v1.5h-2.01zM379.34 92h1.01v1.5h-1.01zM379.34 95h1.01v1.5h-1.01zM381.35 95h1.01v1.5h-1.01zM378.33 96.5h1.01v1.5h-1.01zM383.36 96.5h1.01v1.5h-1.01zM383.36 98h1.01v1.5h-1.01zM381.35 99.5h2.01v1.5h-2.01zM378.33 102.5h6.04v1.5h-6.04zM379.34 104h2.01v1.5h-2.01zM383.36 104h1.01v1.5h-1.01zM382.36 107h1.01v1.5h-1.01zM382.36 117.5h1.01v1.5h-1.01zM381.35 119h2.01v1.5h-2.01zM379.34 122h1.01v1.5h-1.01zM380.34 123.5h2.01v1.5h-2.01zM381.35 132.5h1.01v1.5h-1.01zM380.34 140h2.01v1.5h-2.01z" fill="#1a8e51" shape-rendering="crispEdges"/>
<path d="M375.31 48.5h10.06v1.5h-10.06zM386.38 48.5h1.01v1.5h-1.01zM376.32 50h11.07v1.5h-11.07zM375.31 51.5h1.01v1.5h-1.01zM379.34 51.5h8.05v1.5h-8.05zM375.31 53h7.04v1.5h-7.04zM384.37 53h1.01v1.5h-1.01zM386.38 53h1.01v1.5h-1.01zM376.32 54.5h2.01v1.5h-2.01zM379.34 54.5h7.04v1.5h-7.04zM377.33 56h2.01v1.5h-2.01zM382.36 56h3.02v1.5h-3.02zM377.33 59h2.01v1.5h-2.01zM381.35 59h3.02v1.5h-3.02zM377.33 60.5h3.02v1.5h-3.02zM384.37 60.5h2.01v1.5h-2.01zM377.33 62h8.05v1.5h-8.05zM378.33 63.5h1.01v1.5h-1.01zM380.34 63.5h3.02v1.5h-3.02zM377.33 65h2.01v1.5h-2.01zM380.34 65h5.03v1.5h-5.03zM379.34 66.5h6.04v1.5h-6.04zM377.33 68h6.04v1.5h-6.04zM377.33 69.5h2.01v1.5h-2.01zM380.34 69.5h5.03v1.5h-5.03zM377.33 71h7.04v1.5h-7.04zM378.33 72.5h1.01v1.5h-1.01zM381.35 72.5h3.02v1.5h-3.02zM379.34 74h5.03v1.5h-5.03zM378.33 75.5h1.01v1.5h-1.01zM380.34 75.5h4.02v1.5h-4.02zM377.33 77h4.02v1.5h-4.02zM382.36 77h3.02v1.5h-3.02zM378.33 78.5h4.02v1.5h-4.02zM384.37 78.5h1.01v1.5h-1.01zM378.33 80h1.01v1.5h-1.01zM380.34 80h5.03v1.5h-5.03zM379.34 81.5h2.01v1.5h-2.01zM382.36 81.5h3.02v1.5h-3.02zM381.35 83h1.01v1.5h-1.01zM383.36 83h1.01v1.5h-1.01zM377.33 84.5h1.01v1.5h-1.01zM383.36 84.5h1.01v1.5h-1.01zM379.34 86h5.03v1.5h-5.03zM378.33 87.5h6.04v1.5h-6.04zM378.33 89h3.02v1.5h-3.02zM383.36 89h1.01v1.5h-1.01zM378.33 90.5h6.04v1.5h-6.04zM378.33 92h1.01v1.5h-1.01zM380.34 92h4.02v1.5h-4.02zM378.33 93.5h4.02v1.5h-4.02zM383.36 93.5h1.01v1.5h-1.01zM378.33 95h1.01v1.5h-1.01zM380.34 95h1.01v1.5h-1.01zM382.36 95h2.01v1.5h-2.01zM379.34 96.5h4.02v1.5h-4.02zM378.33 98h5.03v1.5h-5.03zM379.34 99.5h2.01v1.5h-2.01zM379.34 101h4.02v1.5h-4.02zM381.35 104h2.01v1.5h-2.01zM378.33 105.5h6.04v1.5h-6.04zM379.34 107h3.02v1.5h-3.02zM379.34 108.5h4.02v1.5h-4.02zM379.34 110h1.01v1.5h-1.01zM381.35 110h2.01v1.5h-2.01zM379.34 111.5h4.02v1.5h-4.02zM379.34 113h4.02v1.5h-4.02zM381.35 114.5h2.01v1.5h-2.01zM379.34 116h4.02v1.5h-4.02zM379.34 117.5h3.02v1.5h-3.02zM379.34 119h2.01v1.5h-2.01zM380.34 120.5h2.01v1.5h-2.01zM380.34 122h2.01v1.5h-2.01zM380.34 125h2.01v1.5h-2.01zM380.34 126.5h2.01v1.5h-2.01zM380.34 128h2.01v1.5h-2.01zM380.34 129.5h2.01v1.5h-2.01zM380.34 131h2.01v1.5h-2.01zM380.34 132.5h1.01v1.5h-1.01zM380.34 134h2.01v1.5h-2.01zM380.34 135.5h2.01v1.5h-2.01zM380.34 137h2.01v1.5h-2.01zM380.34 138.5h2.01v1.5h-2.01zM380.34 141.5h2.01v1.5h-2.01z" fill="#0b8044" shape-rendering="crispEdges"/>
<path d="M378.33 54.5h1.01v1.5h-1.01zM376.32 60.5h1.01v1.5h-1.01zM383.36 63.5h2.01v1.5h-2.01zM377.33 78.5h1.01v1.5h-1.01zM377.33 80h1.01v1.5h-1.01zM379.34 80h1.01v1.5h-1.01zM377.33 81.5h2.01v1.5h-2.01zM382.36 93.5h1.01v1.5h-1.01zM380.34 110h1.01v1.5h-1.01zM379.34 114.5h2.01v1.5h-2.01z" fill="#066f3b" shape-rendering="crispEdges"/>
<path d="M420.31 51.5h2.01v1.5h-2.01zM460.49 51.5h1v1.5h-1zM462.5 51.5h1v1.5h-1zM425.33 59h1v1.5h-1zM431.36 59h1v1.5h-1zM458.48 63.5h1v1.5h-1zM460.49 63.5h1v1.5h-1zM451.45 71h12.05v1.5h-12.05zM462.5 74h1v1.5h-1zM417.3 89h3.01v1.5h-3.01zM418.3 92h1v1.5h-1zM422.32 92h1v1.5h-1zM417.3 93.5h1v1.5h-1zM453.46 98h4.02v1.5h-4.02zM458.48 98h5.02v1.5h-5.02zM436.38 108.5h1v1.5h-1zM444.42 108.5h1v1.5h-1zM418.3 113h1v1.5h-1zM422.32 113h1v1.5h-1zM425.33 113h3.01v1.5h-3.01zM429.35 113h1v1.5h-1zM449.44 114.5h1v1.5h-1zM431.36 117.5h2.01v1.5h-2.01zM434.37 117.5h1v1.5h-1zM436.38 117.5h1v1.5h-1zM452.45 122h1v1.5h-1zM458.48 122h1v1.5h-1zM461.49 122h1v1.5h-1zM442.41 123.5h8.03v1.5h-8.03zM419.31 125h2.01v1.5h-2.01zM436.38 126.5h2.01v1.5h-2.01zM451.45 126.5h2.01v1.5h-2.01zM454.46 126.5h2.01v1.5h-2.01zM458.48 128h1v1.5h-1zM462.5 128h1v1.5h-1zM437.39 129.5h1v1.5h-1zM447.43 129.5h2.01v1.5h-2.01zM457.47 129.5h6.03v1.5h-6.03zM459.48 131h4.02v1.5h-4.02zM442.41 134h1v1.5h-1zM446.43 134h1v1.5h-1zM448.43 134h1v1.5h-1zM431.36 138.5h4.02v1.5h-4.02zM450.44 138.5h1v1.5h-1zM452.45 138.5h1v1.5h-1zM455.47 138.5h1v1.5h-1zM458.48 138.5h4.02v1.5h-4.02zM449.44 140h1v1.5h-1z" fill="#f9fae6" shape-rendering="crispEdges"/>
<path d="M417.3 50h10.04v1.5h-10.04zM422.32 51.5h3.01v1.5h-3.01zM426.34 51.5h3.01v1.5h-3.01zM454.46 51.5h6.03v1.5h-6.03zM419.31 53h2.01v1.5h-2.01zM422.32 53h1v1.5h-1zM424.33 53h1v1.5h-1zM426.34 53h6.03v1.5h-6.03zM447.43 53h1v1.5h-1zM426.34 54.5h2.01v1.5h-2.01zM447.43 54.5h1v1.5h-1zM449.44 54.5h1v1.5h-1zM422.32 56h1v1.5h-1zM424.33 56h3.01v1.5h-3.01zM448.43 56h1v1.5h-1zM450.44 56h3.01v1.5h-3.01zM454.46 56h1v1.5h-1zM461.49 57.5h2.01v1.5h-2.01zM424.33 59h1v1.5h-1zM432.37 59h2.01v1.5h-2.01zM418.3 60.5h1v1.5h-1zM424.33 60.5h1v1.5h-1zM429.35 60.5h2.01v1.5h-2.01zM445.42 60.5h2.01v1.5h-2.01zM417.3 62h1v1.5h-1zM455.47 63.5h3.01v1.5h-3.01zM459.48 63.5h1v1.5h-1zM461.49 63.5h1v1.5h-1zM430.36 65h1v1.5h-1zM448.43 66.5h3.01v1.5h-3.01zM454.46 66.5h3.01v1.5h-3.01zM417.3 68h3.01v1.5h-3.01zM461.49 68h1v1.5h-1zM418.3 69.5h4.02v1.5h-4.02zM424.33 69.5h9.04v1.5h-9.04zM433.37 71h2.01v1.5h-2.01zM445.42 71h2.01v1.5h-2.01zM449.44 71h2.01v1.5h-2.01zM430.36 74h1v1.5h-1zM432.37 74h3.01v1.5h-3.01zM461.49 74h1v1.5h-1zM419.31 75.5h7.03v1.5h-7.03zM428.35 75.5h1v1.5h-1zM449.44 75.5h4.02v1.5h-4.02zM454.46 75.5h5.02v1.5h-5.02zM461.49 77h2.01v1.5h-2.01zM453.46 78.5h3.01v1.5h-3.01zM457.47 78.5h2.01v1.5h-2.01zM460.49 78.5h3.01v1.5h-3.01zM417.3 80h2.01v1.5h-2.01zM422.32 80h1v1.5h-1zM424.33 80h3.01v1.5h-3.01zM434.37 80h1v1.5h-1zM447.43 80h1v1.5h-1zM449.44 80h1v1.5h-1zM433.37 81.5h2.01v1.5h-2.01zM451.45 81.5h11.05v1.5h-11.05zM432.37 83h1v1.5h-1zM434.37 83h1v1.5h-1zM444.42 83h10.04v1.5h-10.04zM417.3 84.5h5.02v1.5h-5.02zM460.49 84.5h2.01v1.5h-2.01zM428.35 86h1v1.5h-1zM433.37 86h1v1.5h-1zM447.43 86h1v1.5h-1zM451.45 86h3.01v1.5h-3.01zM458.48 86h5.02v1.5h-5.02zM417.3 87.5h5.02v1.5h-5.02zM434.37 87.5h1v1.5h-1zM436.38 87.5h1v1.5h-1zM424.33 89h3.01v1.5h-3.01zM428.35 89h1v1.5h-1zM451.45 89h1v1.5h-1zM453.46 89h1v1.5h-1zM429.35 90.5h1v1.5h-1zM447.43 90.5h1v1.5h-1zM449.44 90.5h11.05v1.5h-11.05zM461.49 90.5h2.01v1.5h-2.01zM417.3 92h1v1.5h-1zM419.31 92h3.01v1.5h-3.01zM423.33 92h12.05v1.5h-12.05zM436.38 92h1v1.5h-1zM459.48 92h2.01v1.5h-2.01zM462.5 92h1v1.5h-1zM418.3 93.5h9.04v1.5h-9.04zM428.35 93.5h1v1.5h-1zM433.37 93.5h1v1.5h-1zM435.38 93.5h1v1.5h-1zM431.36 96.5h2.01v1.5h-2.01zM417.3 98h3.01v1.5h-3.01zM424.33 98h4.02v1.5h-4.02zM429.35 98h1v1.5h-1zM431.36 98h1v1.5h-1zM434.37 98h3.01v1.5h-3.01zM443.41 98h6.03v1.5h-6.03zM450.44 98h3.01v1.5h-3.01zM457.47 98h1v1.5h-1zM451.45 99.5h2.01v1.5h-2.01zM455.47 99.5h5.02v1.5h-5.02zM417.3 101h1v1.5h-1zM437.39 101h1v1.5h-1zM442.41 101h1v1.5h-1zM453.46 101h1v1.5h-1zM458.48 101h4.02v1.5h-4.02zM444.42 102.5h11.05v1.5h-11.05zM417.3 104h7.03v1.5h-7.03zM434.37 104h3.01v1.5h-3.01zM443.41 104h1v1.5h-1zM448.43 104h1v1.5h-1zM452.45 104h2.01v1.5h-2.01zM460.49 104h1v1.5h-1zM417.3 105.5h1v1.5h-1zM424.33 105.5h1v1.5h-1zM442.41 105.5h2.01v1.5h-2.01zM447.43 105.5h4.02v1.5h-4.02zM452.45 105.5h1v1.5h-1zM455.47 105.5h2.01v1.5h-2.01zM442.41 107h13.06v1.5h-13.06zM430.36 108.5h6.03v1.5h-6.03zM443.41 108.5h1v1.5h-1zM445.42 108.5h3.01v1.5h-3.01zM461.49 108.5h2.01v1.5h-2.01zM427.34 110h6.03v1.5h-6.03zM460.49 110h1v1.5h-1zM417.3 111.5h1v1.5h-1zM421.32 111.5h17.07v1.5h-17.07zM442.41 111.5h10.04v1.5h-10.04zM458.48 111.5h2.01v1.5h-2.01zM417.3 113h1v1.5h-1zM419.31 113h1v1.5h-1zM423.33 113h1v1.5h-1zM428.35 113h1v1.5h-1zM434.37 113h4.02v1.5h-4.02zM442.41 113h5.02v1.5h-5.02zM450.44 113h2.01v1.5h-2.01zM455.47 113h1v1.5h-1zM461.49 113h2.01v1.5h-2.01zM417.3 114.5h7.03v1.5h-7.03zM425.33 114.5h3.01v1.5h-3.01zM431.36 114.5h7.03v1.5h-7.03zM442.41 114.5h7.03v1.5h-7.03zM450.44 114.5h10.04v1.5h-10.04zM450.44 116h8.03v1.5h-8.03zM460.49 116h3.01v1.5h-3.01zM425.33 117.5h6.03v1.5h-6.03zM433.37 117.5h1v1.5h-1zM435.38 117.5h1v1.5h-1zM437.39 117.5h1v1.5h-1zM442.41 117.5h3.01v1.5h-3.01zM417.3 119h14.06v1.5h-14.06zM432.37 119h1v1.5h-1zM434.37 119h3.01v1.5h-3.01zM445.42 119h2.01v1.5h-2.01zM451.45 119h12.05v1.5h-12.05zM435.38 120.5h1v1.5h-1zM443.41 120.5h1v1.5h-1zM442.41 122h3.01v1.5h-3.01zM447.43 122h5.02v1.5h-5.02zM453.46 122h5.02v1.5h-5.02zM459.48 122h2.01v1.5h-2.01zM462.5 122h1v1.5h-1zM417.3 123.5h6.03v1.5h-6.03zM433.37 123.5h5.02v1.5h-5.02zM454.46 123.5h3.01v1.5h-3.01zM417.3 125h2.01v1.5h-2.01zM421.32 125h10.04v1.5h-10.04zM434.37 125h1v1.5h-1zM436.38 125h1v1.5h-1zM442.41 125h6.03v1.5h-6.03zM452.45 125h1v1.5h-1zM457.47 125h1v1.5h-1zM461.49 125h2.01v1.5h-2.01zM424.33 126.5h1v1.5h-1zM426.34 126.5h10.04v1.5h-10.04zM443.41 126.5h8.03v1.5h-8.03zM453.46 126.5h1v1.5h-1zM456.47 126.5h7.03v1.5h-7.03zM417.3 128h13.06v1.5h-13.06zM431.36 128h6.03v1.5h-6.03zM443.41 128h1v1.5h-1zM446.43 128h3.01v1.5h-3.01zM450.44 128h1v1.5h-1zM453.46 128h5.02v1.5h-5.02zM459.48 128h3.01v1.5h-3.01zM417.3 129.5h20.09v1.5h-20.09zM442.41 129.5h5.02v1.5h-5.02zM449.44 129.5h5.02v1.5h-5.02zM417.3 131h4.02v1.5h-4.02zM422.32 131h2.01v1.5h-2.01zM425.33 131h1v1.5h-1zM432.37 131h1v1.5h-1zM434.37 131h4.02v1.5h-4.02zM442.41 131h17.07v1.5h-17.07zM417.3 132.5h4.02v1.5h-4.02zM436.38 132.5h2.01v1.5h-2.01zM442.41 132.5h4.02v1.5h-4.02zM448.43 132.5h1v1.5h-1zM431.36 134h7.03v1.5h-7.03zM443.41 134h3.01v1.5h-3.01zM447.43 134h1v1.5h-1zM449.44 134h1v1.5h-1zM454.46 134h5.02v1.5h-5.02zM417.3 135.5h21.09v1.5h-21.09zM442.41 135.5h18.08v1.5h-18.08zM417.3 137h1v1.5h-1zM421.32 137h17.07v1.5h-17.07zM443.41 137h1v1.5h-1zM461.49 137h2.01v1.5h-2.01zM420.31 138.5h7.03v1.5h-7.03zM442.41 138.5h8.03v1.5h-8.03zM451.45 138.5h1v1.5h-1zM453.46 138.5h2.01v1.5h-2.01zM456.47 138.5h2.01v1.5h-2.01zM462.5 138.5h1v1.5h-1zM418.3 140h17.07v1.5h-17.07zM444.42 140h5.02v1.5h-5.02zM450.44 140h13.06v1.5h-13.06zM417.3 141.5h13.06v1.5h-13.06zM431.36 141.5h3.01v1.5h-3.01zM436.38 141.5h2.01v1.5h-2.01zM444.42 141.5h2.01v1.5h-2.01zM448.43 141.5h3.01v1.5h-3.01zM455.47 141.5h2.01v1.5h-2.01zM458.48 141.5h5.02v1.5h-5.02z" fill="#f6f7df" shape-rendering="crispEdges"/>
<path d="M427.34 50h6.03v1.5h-6.03zM455.47 50h1v1.5h-1zM457.47 50h6.03v1.5h-6.03zM433.37 51.5h1v1.5h-1zM449.44 51.5h5.02v1.5h-5.02zM421.32 53h1v1.5h-1zM423.33 53h1v1.5h-1zM425.33 53h1v1.5h-1zM432.37 53h1v1.5h-1zM446.43 53h1v1.5h-1zM448.43 53h5.02v1.5h-5.02zM428.35 54.5h4.02v1.5h-4.02zM433.37 54.5h1v1.5h-1zM446.43 54.5h1v1.5h-1zM448.43 54.5h1v1.5h-1zM450.44 54.5h4.02v1.5h-4.02zM456.47 54.5h1v1.5h-1zM417.3 56h5.02v1.5h-5.02zM423.33 56h1v1.5h-1zM427.34 56h5.02v1.5h-5.02zM445.42 56h3.01v1.5h-3.01zM449.44 56h1v1.5h-1zM453.46 56h1v1.5h-1zM455.47 56h1v1.5h-1zM459.48 56h1v1.5h-1zM454.46 57.5h7.03v1.5h-7.03zM418.3 59h3.01v1.5h-3.01zM434.37 59h1v1.5h-1zM446.43 59h1v1.5h-1zM451.45 59h4.02v1.5h-4.02zM457.47 59h3.01v1.5h-3.01zM417.3 60.5h1v1.5h-1zM419.31 60.5h5.02v1.5h-5.02zM431.36 60.5h3.01v1.5h-3.01zM447.43 60.5h2.01v1.5h-2.01zM418.3 62h6.03v1.5h-6.03zM444.42 62h4.02v1.5h-4.02zM452.45 62h4.02v1.5h-4.02zM420.31 63.5h1v1.5h-1zM425.33 63.5h1v1.5h-1zM429.35 63.5h5.02v1.5h-5.02zM447.43 63.5h2.01v1.5h-2.01zM450.44 63.5h5.02v1.5h-5.02zM421.32 65h1v1.5h-1zM425.33 65h5.02v1.5h-5.02zM431.36 65h4.02v1.5h-4.02zM445.42 65h8.03v1.5h-8.03zM456.47 65h2.01v1.5h-2.01zM417.3 66.5h8.03v1.5h-8.03zM447.43 66.5h1v1.5h-1zM451.45 66.5h3.01v1.5h-3.01zM461.49 66.5h2.01v1.5h-2.01zM420.31 68h3.01v1.5h-3.01zM429.35 68h1v1.5h-1zM434.37 68h2.01v1.5h-2.01zM444.42 68h2.01v1.5h-2.01zM447.43 68h1v1.5h-1zM456.47 68h5.02v1.5h-5.02zM462.5 68h1v1.5h-1zM417.3 69.5h1v1.5h-1zM433.37 69.5h2.01v1.5h-2.01zM445.42 69.5h7.03v1.5h-7.03zM417.3 71h1v1.5h-1zM422.32 71h11.05v1.5h-11.05zM435.38 71h1v1.5h-1zM444.42 71h1v1.5h-1zM418.3 72.5h7.03v1.5h-7.03zM426.34 72.5h2.01v1.5h-2.01zM446.43 72.5h11.05v1.5h-11.05zM458.48 72.5h2.01v1.5h-2.01zM428.35 74h2.01v1.5h-2.01zM431.36 74h1v1.5h-1zM435.38 74h1v1.5h-1zM444.42 74h2.01v1.5h-2.01zM448.43 74h1v1.5h-1zM452.45 74h5.02v1.5h-5.02zM460.49 74h1v1.5h-1zM417.3 75.5h2.01v1.5h-2.01zM426.34 75.5h2.01v1.5h-2.01zM444.42 75.5h5.02v1.5h-5.02zM453.46 75.5h1v1.5h-1zM459.48 75.5h4.02v1.5h-4.02zM417.3 77h10.04v1.5h-10.04zM431.36 77h5.02v1.5h-5.02zM444.42 77h1v1.5h-1zM449.44 77h2.01v1.5h-2.01zM452.45 77h6.03v1.5h-6.03zM420.31 78.5h1v1.5h-1zM430.36 78.5h3.01v1.5h-3.01zM448.43 78.5h5.02v1.5h-5.02zM456.47 78.5h1v1.5h-1zM419.31 80h3.01v1.5h-3.01zM423.33 80h1v1.5h-1zM427.34 80h3.01v1.5h-3.01zM435.38 80h1v1.5h-1zM446.43 80h1v1.5h-1zM448.43 80h1v1.5h-1zM450.44 80h8.03v1.5h-8.03zM426.34 81.5h7.03v1.5h-7.03zM435.38 81.5h2.01v1.5h-2.01zM444.42 81.5h1v1.5h-1zM448.43 81.5h1v1.5h-1zM462.5 81.5h1v1.5h-1zM435.38 83h1v1.5h-1zM443.41 83h1v1.5h-1zM454.46 83h8.03v1.5h-8.03zM422.32 84.5h5.02v1.5h-5.02zM428.35 84.5h1v1.5h-1zM430.36 84.5h1v1.5h-1zM435.38 84.5h2.01v1.5h-2.01zM453.46 84.5h7.03v1.5h-7.03zM462.5 84.5h1v1.5h-1zM422.32 86h6.03v1.5h-6.03zM443.41 86h4.02v1.5h-4.02zM448.43 86h3.01v1.5h-3.01zM426.34 87.5h8.03v1.5h-8.03zM435.38 87.5h1v1.5h-1zM443.41 87.5h10.04v1.5h-10.04zM455.47 87.5h2.01v1.5h-2.01zM461.49 87.5h1v1.5h-1zM427.34 89h1v1.5h-1zM429.35 89h5.02v1.5h-5.02zM436.38 89h1v1.5h-1zM445.42 89h6.03v1.5h-6.03zM452.45 89h1v1.5h-1zM454.46 89h2.01v1.5h-2.01zM417.3 90.5h4.02v1.5h-4.02zM425.33 90.5h4.02v1.5h-4.02zM430.36 90.5h1v1.5h-1zM434.37 90.5h1v1.5h-1zM446.43 90.5h1v1.5h-1zM460.49 90.5h1v1.5h-1zM435.38 92h1v1.5h-1zM443.41 92h1v1.5h-1zM448.43 92h1v1.5h-1zM456.47 92h3.01v1.5h-3.01zM461.49 92h1v1.5h-1zM429.35 93.5h4.02v1.5h-4.02zM434.37 93.5h1v1.5h-1zM436.38 93.5h1v1.5h-1zM443.41 93.5h8.03v1.5h-8.03zM421.32 95h1v1.5h-1zM426.34 95h4.02v1.5h-4.02zM435.38 95h2.01v1.5h-2.01zM444.42 95h4.02v1.5h-4.02zM426.34 96.5h5.02v1.5h-5.02zM433.37 96.5h4.02v1.5h-4.02zM443.41 96.5h4.02v1.5h-4.02zM450.44 96.5h2.01v1.5h-2.01zM453.46 96.5h10.04v1.5h-10.04zM428.35 98h1v1.5h-1zM430.36 98h1v1.5h-1zM432.37 98h2.01v1.5h-2.01zM417.3 99.5h1v1.5h-1zM421.32 99.5h1v1.5h-1zM423.33 99.5h4.02v1.5h-4.02zM431.36 99.5h3.01v1.5h-3.01zM445.42 99.5h2.01v1.5h-2.01zM448.43 99.5h3.01v1.5h-3.01zM418.3 101h3.01v1.5h-3.01zM422.32 101h2.01v1.5h-2.01zM427.34 101h2.01v1.5h-2.01zM434.37 101h3.01v1.5h-3.01zM443.41 101h8.03v1.5h-8.03zM454.46 101h4.02v1.5h-4.02zM462.5 101h1v1.5h-1zM417.3 102.5h3.01v1.5h-3.01zM424.33 102.5h2.01v1.5h-2.01zM443.41 102.5h1v1.5h-1zM455.47 102.5h8.03v1.5h-8.03zM424.33 104h1v1.5h-1zM429.35 104h5.02v1.5h-5.02zM447.43 104h1v1.5h-1zM449.44 104h3.01v1.5h-3.01zM454.46 104h6.03v1.5h-6.03zM461.49 104h2.01v1.5h-2.01zM419.31 105.5h5.02v1.5h-5.02zM425.33 105.5h4.02v1.5h-4.02zM432.37 105.5h6.03v1.5h-6.03zM451.45 105.5h1v1.5h-1zM453.46 105.5h2.01v1.5h-2.01zM457.47 105.5h6.03v1.5h-6.03zM417.3 107h1v1.5h-1zM419.31 107h1v1.5h-1zM421.32 107h2.01v1.5h-2.01zM427.34 107h11.05v1.5h-11.05zM455.47 107h8.03v1.5h-8.03zM417.3 108.5h1v1.5h-1zM420.31 108.5h1v1.5h-1zM422.32 108.5h5.02v1.5h-5.02zM437.39 108.5h1v1.5h-1zM448.43 108.5h3.01v1.5h-3.01zM454.46 108.5h7.03v1.5h-7.03zM422.32 110h5.02v1.5h-5.02zM433.37 110h3.01v1.5h-3.01zM442.41 110h1v1.5h-1zM445.42 110h1v1.5h-1zM448.43 110h4.02v1.5h-4.02zM456.47 110h4.02v1.5h-4.02zM461.49 110h2.01v1.5h-2.01zM452.45 111.5h3.01v1.5h-3.01zM461.49 111.5h2.01v1.5h-2.01zM447.43 113h3.01v1.5h-3.01zM452.45 113h3.01v1.5h-3.01zM456.47 113h5.02v1.5h-5.02zM424.33 114.5h1v1.5h-1zM428.35 114.5h3.01v1.5h-3.01zM460.49 114.5h3.01v1.5h-3.01zM426.34 116h12.05v1.5h-12.05zM442.41 116h8.03v1.5h-8.03zM420.31 117.5h5.02v1.5h-5.02zM445.42 117.5h10.04v1.5h-10.04zM433.37 119h1v1.5h-1zM437.39 119h1v1.5h-1zM442.41 119h3.01v1.5h-3.01zM447.43 119h4.02v1.5h-4.02zM421.32 120.5h14.06v1.5h-14.06zM436.38 120.5h2.01v1.5h-2.01zM442.41 120.5h1v1.5h-1zM444.42 120.5h6.03v1.5h-6.03zM451.45 120.5h12.05v1.5h-12.05zM417.3 122h9.04v1.5h-9.04zM428.35 122h6.03v1.5h-6.03zM423.33 123.5h3.01v1.5h-3.01zM430.36 123.5h3.01v1.5h-3.01zM457.47 123.5h6.03v1.5h-6.03zM431.36 125h3.01v1.5h-3.01zM448.43 125h4.02v1.5h-4.02zM453.46 125h4.02v1.5h-4.02zM460.49 125h1v1.5h-1zM417.3 126.5h4.02v1.5h-4.02zM423.33 126.5h1v1.5h-1zM425.33 126.5h1v1.5h-1zM430.36 128h1v1.5h-1zM442.41 128h1v1.5h-1zM444.42 128h2.01v1.5h-2.01zM449.44 128h1v1.5h-1zM451.45 128h1v1.5h-1zM421.32 131h1v1.5h-1zM424.33 131h1v1.5h-1zM426.34 131h6.03v1.5h-6.03zM433.37 131h1v1.5h-1zM421.32 132.5h15.07v1.5h-15.07zM446.43 132.5h2.01v1.5h-2.01zM449.44 132.5h2.01v1.5h-2.01zM452.45 132.5h7.03v1.5h-7.03zM417.3 134h14.06v1.5h-14.06zM459.48 134h4.02v1.5h-4.02zM438.39 137h1v1.5h-1zM441.4 137h2.01v1.5h-2.01zM444.42 137h13.06v1.5h-13.06zM459.48 137h2.01v1.5h-2.01zM417.3 138.5h3.01v1.5h-3.01zM441.4 138.5h1v1.5h-1zM417.3 140h1v1.5h-1zM435.38 140h4.02v1.5h-4.02zM441.4 140h3.01v1.5h-3.01zM434.37 141.5h2.01v1.5h-2.01zM438.39 141.5h1v1.5h-1zM441.4 141.5h3.01v1.5h-3.01zM446.43 141.5h2.01v1.5h-2.01z" fill="#f3f4d8" shape-rendering="crispEdges"/>
<path d="M433.37 50h1v1.5h-1zM456.47 50h1v1.5h-1zM446.43 51.5h3.01v1.5h-3.01zM433.37 53h1v1.5h-1zM454.46 53h5.02v1.5h-5.02zM417.3 54.5h6.03v1.5h-6.03zM432.37 54.5h1v1.5h-1zM434.37 54.5h1v1.5h-1zM445.42 54.5h1v1.5h-1zM454.46 54.5h2.01v1.5h-2.01zM457.47 54.5h2.01v1.5h-2.01zM432.37 56h1v1.5h-1zM434.37 56h2.01v1.5h-2.01zM460.49 56h1v1.5h-1zM421.32 57.5h1v1.5h-1zM425.33 57.5h11.05v1.5h-11.05zM445.42 57.5h3.01v1.5h-3.01zM450.44 57.5h4.02v1.5h-4.02zM417.3 59h1v1.5h-1zM460.49 59h3.01v1.5h-3.01zM444.42 60.5h1v1.5h-1zM449.44 60.5h4.02v1.5h-4.02zM462.5 60.5h1v1.5h-1zM424.33 62h3.01v1.5h-3.01zM431.36 62h4.02v1.5h-4.02zM456.47 62h7.03v1.5h-7.03zM417.3 63.5h3.01v1.5h-3.01zM421.32 63.5h4.02v1.5h-4.02zM434.37 63.5h2.01v1.5h-2.01zM444.42 63.5h3.01v1.5h-3.01zM422.32 65h3.01v1.5h-3.01zM425.33 66.5h3.01v1.5h-3.01zM444.42 66.5h1v1.5h-1zM430.36 68h4.02v1.5h-4.02zM436.38 68h1v1.5h-1zM443.41 68h1v1.5h-1zM435.38 69.5h1v1.5h-1zM444.42 69.5h1v1.5h-1zM452.45 69.5h3.01v1.5h-3.01zM459.48 69.5h4.02v1.5h-4.02zM436.38 71h1v1.5h-1zM417.3 72.5h1v1.5h-1zM425.33 72.5h1v1.5h-1zM433.37 72.5h4.02v1.5h-4.02zM444.42 72.5h2.01v1.5h-2.01zM457.47 72.5h1v1.5h-1zM460.49 72.5h3.01v1.5h-3.01zM417.3 74h1v1.5h-1zM421.32 74h7.03v1.5h-7.03zM446.43 74h2.01v1.5h-2.01zM449.44 74h3.01v1.5h-3.01zM433.37 75.5h2.01v1.5h-2.01zM443.41 75.5h1v1.5h-1zM430.36 77h1v1.5h-1zM436.38 77h1v1.5h-1zM445.42 77h1v1.5h-1zM448.43 77h1v1.5h-1zM417.3 78.5h3.01v1.5h-3.01zM421.32 78.5h5.02v1.5h-5.02zM433.37 78.5h4.02v1.5h-4.02zM443.41 78.5h5.02v1.5h-5.02zM458.48 80h2.01v1.5h-2.01zM417.3 81.5h9.04v1.5h-9.04zM445.42 81.5h2.01v1.5h-2.01zM417.3 83h2.01v1.5h-2.01zM420.31 83h1v1.5h-1zM422.32 83h1v1.5h-1zM427.34 83h1v1.5h-1zM436.38 83h1v1.5h-1zM462.5 83h1v1.5h-1zM427.34 84.5h1v1.5h-1zM429.35 84.5h1v1.5h-1zM431.36 84.5h2.01v1.5h-2.01zM443.41 84.5h4.02v1.5h-4.02zM450.44 84.5h3.01v1.5h-3.01zM417.3 86h1v1.5h-1zM453.46 87.5h2.01v1.5h-2.01zM462.5 87.5h1v1.5h-1zM434.37 89h2.01v1.5h-2.01zM456.47 89h7.03v1.5h-7.03zM444.42 92h4.02v1.5h-4.02zM449.44 92h2.01v1.5h-2.01zM455.47 92h1v1.5h-1zM451.45 93.5h11.05v1.5h-11.05zM417.3 95h4.02v1.5h-4.02zM422.32 95h4.02v1.5h-4.02zM434.37 95h1v1.5h-1zM443.41 95h1v1.5h-1zM448.43 95h12.05v1.5h-12.05zM417.3 96.5h4.02v1.5h-4.02zM425.33 96.5h1v1.5h-1zM452.45 96.5h1v1.5h-1zM418.3 99.5h3.01v1.5h-3.01zM422.32 99.5h1v1.5h-1zM427.34 99.5h4.02v1.5h-4.02zM434.37 99.5h3.01v1.5h-3.01zM443.41 99.5h2.01v1.5h-2.01zM421.32 101h1v1.5h-1zM424.33 101h3.01v1.5h-3.01zM426.34 102.5h12.05v1.5h-12.05zM442.41 102.5h1v1.5h-1zM437.39 104h1v1.5h-1zM442.41 104h1v1.5h-1zM418.3 107h1v1.5h-1zM420.31 107h1v1.5h-1zM418.3 108.5h2.01v1.5h-2.01zM442.41 108.5h1v1.5h-1zM443.41 110h2.01v1.5h-2.01zM446.43 110h2.01v1.5h-2.01zM417.3 116h9.04v1.5h-9.04zM417.3 117.5h3.01v1.5h-3.01zM458.48 117.5h5.02v1.5h-5.02zM417.3 120.5h4.02v1.5h-4.02zM450.44 120.5h1v1.5h-1zM426.34 122h2.01v1.5h-2.01zM441.4 128h1v1.5h-1zM438.39 131h1v1.5h-1zM441.4 131h1v1.5h-1zM438.39 132.5h1v1.5h-1zM441.4 132.5h1v1.5h-1zM438.39 134h1v1.5h-1zM441.4 134h1v1.5h-1zM438.39 135.5h1v1.5h-1zM441.4 135.5h1v1.5h-1z" fill="#eaf0d0" shape-rendering="crispEdges"/>
<path d="M417.3 48.5h5.02v1.5h-5.02zM424.33 48.5h1v1.5h-1zM455.47 48.5h8.03v1.5h-8.03zM446.43 50h3.01v1.5h-3.01zM452.45 50h3.01v1.5h-3.01zM417.3 51.5h3.01v1.5h-3.01zM445.42 51.5h1v1.5h-1zM445.42 53h1v1.5h-1zM459.48 53h4.02v1.5h-4.02zM423.33 54.5h3.01v1.5h-3.01zM435.38 54.5h1v1.5h-1zM444.42 54.5h1v1.5h-1zM459.48 54.5h4.02v1.5h-4.02zM444.42 56h1v1.5h-1zM456.47 56h3.01v1.5h-3.01zM419.31 57.5h2.01v1.5h-2.01zM422.32 57.5h3.01v1.5h-3.01zM444.42 57.5h1v1.5h-1zM448.43 57.5h2.01v1.5h-2.01zM421.32 59h3.01v1.5h-3.01zM435.38 59h1v1.5h-1zM447.43 59h2.01v1.5h-2.01zM450.44 59h1v1.5h-1zM434.37 60.5h2.01v1.5h-2.01zM453.46 60.5h5.02v1.5h-5.02zM461.49 60.5h1v1.5h-1zM427.34 62h4.02v1.5h-4.02zM435.38 62h1v1.5h-1zM436.38 63.5h1v1.5h-1zM462.5 63.5h1v1.5h-1zM435.38 65h1v1.5h-1zM444.42 65h1v1.5h-1zM459.48 65h2.01v1.5h-2.01zM432.37 66.5h5.02v1.5h-5.02zM443.41 66.5h1v1.5h-1zM457.47 66.5h4.02v1.5h-4.02zM426.34 68h1v1.5h-1zM446.43 68h1v1.5h-1zM447.43 71h2.01v1.5h-2.01zM428.35 72.5h5.02v1.5h-5.02zM443.41 72.5h1v1.5h-1zM436.38 74h1v1.5h-1zM443.41 74h1v1.5h-1zM451.45 77h1v1.5h-1zM430.36 80h4.02v1.5h-4.02zM443.41 80h3.01v1.5h-3.01zM460.49 80h3.01v1.5h-3.01zM447.43 81.5h1v1.5h-1zM449.44 81.5h2.01v1.5h-2.01zM419.31 83h1v1.5h-1zM421.32 83h1v1.5h-1zM442.41 84.5h1v1.5h-1zM429.35 86h4.02v1.5h-4.02zM454.46 86h4.02v1.5h-4.02zM437.39 87.5h1v1.5h-1zM442.41 87.5h1v1.5h-1zM437.39 89h1v1.5h-1zM431.36 90.5h3.01v1.5h-3.01zM435.38 90.5h2.01v1.5h-2.01zM437.39 92h1v1.5h-1zM442.41 92h1v1.5h-1zM451.45 92h4.02v1.5h-4.02zM437.39 95h1v1.5h-1zM442.41 95h1v1.5h-1zM437.39 96.5h1v1.5h-1zM442.41 96.5h1v1.5h-1zM420.31 98h4.02v1.5h-4.02zM437.39 99.5h1v1.5h-1zM442.41 99.5h1v1.5h-1zM447.43 99.5h1v1.5h-1zM460.49 99.5h3.01v1.5h-3.01zM429.35 101h4.02v1.5h-4.02zM451.45 101h2.01v1.5h-2.01zM444.42 104h3.01v1.5h-3.01zM429.35 105.5h1v1.5h-1zM423.33 107h4.02v1.5h-4.02zM421.32 108.5h1v1.5h-1zM427.34 108.5h3.01v1.5h-3.01zM455.47 111.5h3.01v1.5h-3.01zM420.31 113h2.01v1.5h-2.01zM431.36 119h1v1.5h-1zM437.39 125h2.01v1.5h-2.01zM441.4 125h1v1.5h-1zM452.45 128h1v1.5h-1zM438.39 129.5h1v1.5h-1zM441.4 129.5h1v1.5h-1zM454.46 129.5h3.01v1.5h-3.01zM459.48 132.5h4.02v1.5h-4.02zM435.38 138.5h4.02v1.5h-4.02z" fill="#e0edc8" shape-rendering="crispEdges"/>
<path d="M422.32 48.5h2.01v1.5h-2.01zM425.33 48.5h3.01v1.5h-3.01zM431.36 48.5h3.01v1.5h-3.01zM446.43 48.5h9.04v1.5h-9.04zM434.37 50h1v1.5h-1zM445.42 50h1v1.5h-1zM449.44 50h3.01v1.5h-3.01zM434.37 51.5h1v1.5h-1zM461.49 51.5h1v1.5h-1zM433.37 56h1v1.5h-1zM417.3 57.5h2.01v1.5h-2.01zM425.33 60.5h4.02v1.5h-4.02zM436.38 60.5h1v1.5h-1zM443.41 60.5h1v1.5h-1zM448.43 62h4.02v1.5h-4.02zM417.3 65h4.02v1.5h-4.02zM458.48 65h1v1.5h-1zM461.49 65h2.01v1.5h-2.01zM445.42 66.5h2.01v1.5h-2.01zM423.33 68h2.01v1.5h-2.01zM422.32 69.5h2.01v1.5h-2.01zM429.35 75.5h4.02v1.5h-4.02zM427.34 77h3.01v1.5h-3.01zM459.48 78.5h1v1.5h-1zM423.33 83h4.02v1.5h-4.02zM433.37 83h1v1.5h-1zM433.37 84.5h2.01v1.5h-2.01zM437.39 84.5h1v1.5h-1zM434.37 86h4.02v1.5h-4.02zM420.31 89h4.02v1.5h-4.02zM442.41 89h3.01v1.5h-3.01zM421.32 90.5h4.02v1.5h-4.02zM448.43 90.5h1v1.5h-1zM447.43 96.5h3.01v1.5h-3.01zM442.41 98h1v1.5h-1zM425.33 104h4.02v1.5h-4.02zM444.42 105.5h3.01v1.5h-3.01zM417.3 110h2.01v1.5h-2.01zM452.45 110h4.02v1.5h-4.02zM424.33 113h1v1.5h-1zM430.36 113h4.02v1.5h-4.02zM455.47 117.5h3.01v1.5h-3.01zM438.39 119h1v1.5h-1zM441.4 119h1v1.5h-1zM438.39 122h1v1.5h-1zM441.4 122h1v1.5h-1zM445.42 122h2.01v1.5h-2.01zM426.34 123.5h4.02v1.5h-4.02zM438.39 123.5h1v1.5h-1zM441.4 123.5h1v1.5h-1zM450.44 123.5h4.02v1.5h-4.02zM435.38 125h1v1.5h-1zM458.48 125h2.01v1.5h-2.01zM421.32 126.5h2.01v1.5h-2.01zM450.44 134h4.02v1.5h-4.02zM460.49 135.5h3.01v1.5h-3.01zM427.34 138.5h4.02v1.5h-4.02zM430.36 141.5h1v1.5h-1zM451.45 141.5h4.02v1.5h-4.02z" fill="#c7e3bd" shape-rendering="crispEdges"/>
<path d="M434.37 48.5h2.01v1.5h-2.01zM429.35 51.5h1v1.5h-1zM417.3 53h2.01v1.5h-2.01zM434.37 53h1v1.5h-1zM462.5 56h1v1.5h-1zM427.34 59h4.02v1.5h-4.02zM444.42 59h2.01v1.5h-2.01zM449.44 59h1v1.5h-1zM458.48 60.5h3.01v1.5h-3.01zM443.41 63.5h1v1.5h-1zM453.46 65h3.01v1.5h-3.01zM428.35 66.5h4.02v1.5h-4.02zM425.33 68h1v1.5h-1zM448.43 68h8.03v1.5h-8.03zM436.38 69.5h1v1.5h-1zM443.41 69.5h1v1.5h-1zM455.47 69.5h4.02v1.5h-4.02zM418.3 74h3.01v1.5h-3.01zM426.34 78.5h4.02v1.5h-4.02zM436.38 80h1v1.5h-1zM437.39 81.5h1v1.5h-1zM442.41 81.5h2.01v1.5h-2.01zM428.35 83h4.02v1.5h-4.02zM418.3 86h4.02v1.5h-4.02zM442.41 86h1v1.5h-1zM427.34 93.5h1v1.5h-1zM462.5 93.5h1v1.5h-1zM430.36 95h4.02v1.5h-4.02zM460.49 95h3.01v1.5h-3.01zM437.39 98h1v1.5h-1zM418.3 105.5h1v1.5h-1zM430.36 105.5h2.01v1.5h-2.01zM451.45 108.5h3.01v1.5h-3.01zM419.31 110h3.01v1.5h-3.01zM436.38 110h2.01v1.5h-2.01zM460.49 111.5h1v1.5h-1zM458.48 116h2.01v1.5h-2.01zM434.37 122h4.02v1.5h-4.02zM438.39 126.5h1v1.5h-1zM441.4 126.5h2.01v1.5h-2.01zM437.39 128h2.01v1.5h-2.01zM451.45 132.5h1v1.5h-1zM457.47 137h2.01v1.5h-2.01z" fill="#add9b0" shape-rendering="crispEdges"/>
<path d="M428.35 48.5h3.01v1.5h-3.01zM444.42 48.5h2.01v1.5h-2.01zM425.33 51.5h1v1.5h-1zM430.36 51.5h3.01v1.5h-3.01zM453.46 53h1v1.5h-1zM461.49 56h1v1.5h-1zM426.34 59h1v1.5h-1zM455.47 59h2.01v1.5h-2.01zM426.34 63.5h3.01v1.5h-3.01zM449.44 63.5h1v1.5h-1zM427.34 68h2.01v1.5h-2.01zM418.3 71h4.02v1.5h-4.02zM443.41 71h1v1.5h-1zM457.47 74h3.01v1.5h-3.01zM435.38 75.5h2.01v1.5h-2.01zM437.39 77h1v1.5h-1zM442.41 77h2.01v1.5h-2.01zM446.43 77h2.01v1.5h-2.01zM458.48 77h3.01v1.5h-3.01zM447.43 84.5h3.01v1.5h-3.01zM422.32 87.5h4.02v1.5h-4.02zM457.47 87.5h4.02v1.5h-4.02zM443.41 90.5h3.01v1.5h-3.01zM421.32 96.5h4.02v1.5h-4.02zM449.44 98h1v1.5h-1zM453.46 99.5h2.01v1.5h-2.01zM433.37 101h1v1.5h-1zM420.31 102.5h4.02v1.5h-4.02zM418.3 111.5h3.01v1.5h-3.01zM438.39 114.5h1v1.5h-1zM441.4 114.5h1v1.5h-1zM438.39 117.5h1v1.5h-1zM441.4 117.5h1v1.5h-1zM418.3 137h3.01v1.5h-3.01zM457.47 141.5h1v1.5h-1z" fill="#8bcb9c" shape-rendering="crispEdges"/>
<path d="M436.38 56h1v1.5h-1zM443.41 56h1v1.5h-1zM443.41 62h1v1.5h-1zM436.38 65h1v1.5h-1zM443.41 65h1v1.5h-1zM437.39 93.5h1v1.5h-1zM442.41 93.5h1v1.5h-1zM438.39 111.5h1v1.5h-1zM441.4 111.5h1v1.5h-1zM438.39 120.5h1v1.5h-1zM441.4 120.5h1v1.5h-1z" fill="#69bd88" shape-rendering="crispEdges"/>
<path d="M436.38 62h1v1.5h-1zM437.39 72.5h1v1.5h-1zM442.41 83h1v1.5h-1zM437.39 90.5h1v1.5h-1zM442.41 90.5h1v1.5h-1zM438.39 105.5h1v1.5h-1zM441.4 105.5h1v1.5h-1zM438.39 107h1v1.5h-1zM441.4 107h1v1.5h-1zM438.39 113h1v1.5h-1zM441.4 113h1v1.5h-1zM438.39 116h1v1.5h-1zM441.4 116h1v1.5h-1z" fill="#49ad73" shape-rendering="crispEdges"/>
<path d="M435.38 51.5h1v1.5h-1zM444.42 51.5h1v1.5h-1zM443.41 54.5h1v1.5h-1zM437.39 66.5h1v1.5h-1zM442.41 72.5h1v1.5h-1zM437.39 78.5h1v1.5h-1zM442.41 78.5h1v1.5h-1zM437.39 83h1v1.5h-1zM441.4 101h1v1.5h-1zM438.39 110h1v1.5h-1zM441.4 110h1v1.5h-1z" fill="#2a9c5e" shape-rendering="crispEdges"/>
<path d="M442.41 48.5h1v1.5h-1zM437.39 51.5h1v1.5h-1zM435.38 53h1v1.5h-1zM444.42 53h1v1.5h-1zM436.38 54.5h1v1.5h-1zM442.41 56h1v1.5h-1zM436.38 57.5h2.01v1.5h-2.01zM436.38 59h1v1.5h-1zM440.4 59h2.01v1.5h-2.01zM443.41 59h1v1.5h-1zM439.4 60.5h2.01v1.5h-2.01zM439.4 63.5h2.01v1.5h-2.01zM442.41 66.5h1v1.5h-1zM442.41 68h1v1.5h-1zM438.39 69.5h5.02v1.5h-5.02zM437.39 71h2.01v1.5h-2.01zM438.39 78.5h3.01v1.5h-3.01zM437.39 80h1v1.5h-1zM439.4 80h1v1.5h-1zM442.41 80h1v1.5h-1zM441.4 83h1v1.5h-1zM439.4 84.5h1v1.5h-1zM438.39 86h2.01v1.5h-2.01zM441.4 89h1v1.5h-1zM440.4 92h2.01v1.5h-2.01zM438.39 95h3.01v1.5h-3.01zM439.4 98h2.01v1.5h-2.01zM439.4 99.5h1v1.5h-1zM438.39 101h3.01v1.5h-3.01zM438.39 102.5h2.01v1.5h-2.01zM439.4 104h3.01v1.5h-3.01zM439.4 105.5h2.01v1.5h-2.01zM438.39 108.5h1v1.5h-1zM439.4 110h2.01v1.5h-2.01zM439.4 113h1v1.5h-1zM439.4 116h2.01v1.5h-2.01zM439.4 117.5h2.01v1.5h-2.01zM439.4 120.5h2.01v1.5h-2.01zM440.4 125h1v1.5h-1zM440.4 131h1v1.5h-1zM439.4 134h2.01v1.5h-2.01z" fill="#1a8e51" shape-rendering="crispEdges"/>
<path d="M436.38 48.5h3.01v1.5h-3.01zM440.4 48.5h2.01v1.5h-2.01zM443.41 48.5h1v1.5h-1zM436.38 50h9.04v1.5h-9.04zM436.38 51.5h1v1.5h-1zM438.39 51.5h2.01v1.5h-2.01zM443.41 51.5h1v1.5h-1zM436.38 53h2.01v1.5h-2.01zM440.4 53h4.02v1.5h-4.02zM437.39 54.5h6.03v1.5h-6.03zM437.39 56h1v1.5h-1zM439.4 56h3.01v1.5h-3.01zM438.39 57.5h2.01v1.5h-2.01zM441.4 57.5h3.01v1.5h-3.01zM437.39 59h3.01v1.5h-3.01zM442.41 59h1v1.5h-1zM437.39 60.5h2.01v1.5h-2.01zM441.4 60.5h2.01v1.5h-2.01zM437.39 62h6.03v1.5h-6.03zM437.39 63.5h2.01v1.5h-2.01zM441.4 63.5h2.01v1.5h-2.01zM437.39 65h6.03v1.5h-6.03zM438.39 66.5h4.02v1.5h-4.02zM437.39 68h2.01v1.5h-2.01zM440.4 68h2.01v1.5h-2.01zM437.39 69.5h1v1.5h-1zM439.4 71h2.01v1.5h-2.01zM438.39 72.5h4.02v1.5h-4.02zM437.39 74h1v1.5h-1zM439.4 74h4.02v1.5h-4.02zM437.39 75.5h6.03v1.5h-6.03zM438.39 77h4.02v1.5h-4.02zM441.4 78.5h1v1.5h-1zM438.39 80h1v1.5h-1zM440.4 80h2.01v1.5h-2.01zM438.39 81.5h4.02v1.5h-4.02zM438.39 83h3.01v1.5h-3.01zM438.39 84.5h1v1.5h-1zM440.4 84.5h2.01v1.5h-2.01zM440.4 86h2.01v1.5h-2.01zM438.39 87.5h4.02v1.5h-4.02zM438.39 89h3.01v1.5h-3.01zM438.39 90.5h4.02v1.5h-4.02zM438.39 92h2.01v1.5h-2.01zM438.39 93.5h4.02v1.5h-4.02zM441.4 95h1v1.5h-1zM438.39 96.5h4.02v1.5h-4.02zM438.39 98h1v1.5h-1zM441.4 98h1v1.5h-1zM438.39 99.5h1v1.5h-1zM440.4 99.5h2.01v1.5h-2.01zM440.4 102.5h2.01v1.5h-2.01zM438.39 104h1v1.5h-1zM439.4 107h2.01v1.5h-2.01zM439.4 108.5h3.01v1.5h-3.01zM439.4 111.5h2.01v1.5h-2.01zM440.4 113h1v1.5h-1zM439.4 114.5h2.01v1.5h-2.01zM439.4 119h2.01v1.5h-2.01zM439.4 122h2.01v1.5h-2.01zM439.4 123.5h2.01v1.5h-2.01zM439.4 125h1v1.5h-1zM439.4 126.5h2.01v1.5h-2.01zM439.4 128h2.01v1.5h-2.01zM439.4 129.5h2.01v1.5h-2.01zM439.4 131h1v1.5h-1zM439.4 132.5h2.01v1.5h-2.01zM439.4 135.5h2.01v1.5h-2.01zM439.4 137h2.01v1.5h-2.01zM439.4 138.5h2.01v1.5h-2.01zM440.4 140h1v1.5h-1zM439.4 141.5h2.01v1.5h-2.01z" fill="#0b8044" shape-rendering="crispEdges"/>
<path d="M439.4 48.5h1v1.5h-1zM435.38 50h1v1.5h-1zM440.4 51.5h3.01v1.5h-3.01zM438.39 53h2.01v1.5h-2.01zM438.39 56h1v1.5h-1zM440.4 57.5h1v1.5h-1zM439.4 68h1v1.5h-1zM441.4 71h2.01v1.5h-2.01zM438.39 74h1v1.5h-1zM439.4 140h1v1.5h-1z" fill="#066f3b" shape-rendering="crispEdges"/>
<rect x="296.5" y="48.5" width="46" height="95" fill="none" stroke="#1d3b2a" stroke-width="0.8"/>
<line x1="296.5" y1="143" x2="296.5" y2="145.2" stroke="#1a1a1a" stroke-width="0.75"/>
<line x1="319.5" y1="143" x2="319.5" y2="145.2" stroke="#1a1a1a" stroke-width="0.75"/>
<line x1="342.5" y1="143" x2="342.5" y2="145.2" stroke="#1a1a1a" stroke-width="0.75"/>
<text x="295.6" y="150.7" stroke="#1a1a1a" stroke-width="0.25" text-anchor="middle" font-size="6.5">−3.0</text>
<text x="319.5" y="150.7" stroke="#1a1a1a" stroke-width="0.25" text-anchor="middle" font-size="6.5">center</text>
<text x="339" y="150.7" stroke="#1a1a1a" stroke-width="0.25" text-anchor="middle" font-size="6.5">3.0 Kb</text>
<rect x="356.5" y="48.5" width="50" height="95" fill="none" stroke="#1d3b2a" stroke-width="0.8"/>
<line x1="356.5" y1="143" x2="356.5" y2="145.2" stroke="#1a1a1a" stroke-width="0.75"/>
<line x1="381.5" y1="143" x2="381.5" y2="145.2" stroke="#1a1a1a" stroke-width="0.75"/>
<line x1="406.5" y1="143" x2="406.5" y2="145.2" stroke="#1a1a1a" stroke-width="0.75"/>
<text x="355.6" y="150.7" stroke="#1a1a1a" stroke-width="0.25" text-anchor="middle" font-size="6.5">−3.0</text>
<text x="381.35" y="150.7" stroke="#1a1a1a" stroke-width="0.25" text-anchor="middle" font-size="6.5">center</text>
<text x="402.7" y="150.7" stroke="#1a1a1a" stroke-width="0.25" text-anchor="middle" font-size="6.5">3.0 Kb</text>
<rect x="417.5" y="48.5" width="46" height="95" fill="none" stroke="#1d3b2a" stroke-width="0.8"/>
<line x1="417.5" y1="143" x2="417.5" y2="145.2" stroke="#1a1a1a" stroke-width="0.75"/>
<line x1="440.5" y1="143" x2="440.5" y2="145.2" stroke="#1a1a1a" stroke-width="0.75"/>
<line x1="463.5" y1="143" x2="463.5" y2="145.2" stroke="#1a1a1a" stroke-width="0.75"/>
<text x="416.7" y="150.7" stroke="#1a1a1a" stroke-width="0.25" text-anchor="middle" font-size="6.5">−3.0</text>
<text x="440.4" y="150.7" stroke="#1a1a1a" stroke-width="0.25" text-anchor="middle" font-size="6.5">center</text>
<text x="459.7" y="150.7" stroke="#1a1a1a" stroke-width="0.25" text-anchor="middle" font-size="6.5">3.0 Kb</text>
<text x="323.5" y="158.8" stroke="#1a1a1a" stroke-width="0.25" text-anchor="middle" font-size="6.9">SATB2 WT</text>
<text x="384" y="158.8" stroke="#1a1a1a" stroke-width="0.25" text-anchor="middle" font-size="6.9">SATB2 WT</text>
<text x="443" y="158.8" stroke="#1a1a1a" stroke-width="0.25" text-anchor="middle" font-size="6.9">SATB2 KO</text>
<text x="289.5" y="89" stroke="#1a1a1a" stroke-width="0.25" text-anchor="middle" font-size="6.9" transform="rotate(-90 289.5 89)">peaks</text>
<linearGradient id="gcb" x1="0" y1="1" x2="0" y2="0"><stop offset="0" stop-color="#fbfbea"/><stop offset="0.2" stop-color="#f2f3d3"/><stop offset="0.35" stop-color="#dbe9c0"/><stop offset="0.5" stop-color="#99cfa5"/><stop offset="0.65" stop-color="#45a873"/><stop offset="0.8" stop-color="#138a4c"/><stop offset="1" stop-color="#035f34"/></linearGradient>
<rect x="466.5" y="48.5" width="4" height="94" fill="url(#gcb)" stroke="#333" stroke-width="0.6"/>
<line x1="470.6" y1="142.5" x2="472.4" y2="142.5" stroke="#1a1a1a" stroke-width="0.75"/>
<text x="473.6" y="145.2" stroke="#1a1a1a" stroke-width="0.25" font-size="6.9">0.0</text>
<line x1="470.6" y1="124.5" x2="472.4" y2="124.5" stroke="#1a1a1a" stroke-width="0.75"/>
<text x="473.6" y="126.4" stroke="#1a1a1a" stroke-width="0.25" font-size="6.9">0.2</text>
<line x1="470.6" y1="105.5" x2="472.4" y2="105.5" stroke="#1a1a1a" stroke-width="0.75"/>
<text x="473.6" y="107.6" stroke="#1a1a1a" stroke-width="0.25" font-size="6.9">0.4</text>
<line x1="470.6" y1="86.5" x2="472.4" y2="86.5" stroke="#1a1a1a" stroke-width="0.75"/>
<text x="473.6" y="88.8" stroke="#1a1a1a" stroke-width="0.25" font-size="6.9">0.6</text>
<line x1="470.6" y1="67.5" x2="472.4" y2="67.5" stroke="#1a1a1a" stroke-width="0.75"/>
<text x="473.6" y="70" stroke="#1a1a1a" stroke-width="0.25" font-size="6.9">0.8</text>
<line x1="470.6" y1="48.5" x2="472.4" y2="48.5" stroke="#1a1a1a" stroke-width="0.75"/>
<text x="473.6" y="51.2" stroke="#1a1a1a" stroke-width="0.25" font-size="6.9">1.0</text>
<text x="0.5" y="181.6" stroke="#000" stroke-width="0.12" font-size="13.2" fill="#000" font-weight="bold">C</text>
<text x="68.2" y="186.2" stroke="#1a1a1a" stroke-width="0.25" text-anchor="middle" font-size="6.1">Average ATAC signals</text>
<path d="M28.4,254.42 28.9,254.39 29.4,254.36 29.9,254.33 30.4,254.3 30.9,254.27 31.4,254.24 31.9,254.2 32.4,254.17 32.9,254.13 33.4,254.09 33.9,254.05 34.4,254.01 34.9,253.96 35.4,253.91 35.9,253.86 36.4,253.81 36.9,253.76 37.4,253.7 37.9,253.64 38.4,253.58 38.9,253.51 39.4,253.44 39.9,253.36 40.4,253.29 40.9,253.2 41.4,253.11 41.9,253.02 42.4,252.92 42.9,252.82 43.4,252.71 43.9,252.59 44.4,252.46 44.9,252.33 45.4,252.19 45.9,252.03 46.4,251.87 46.9,251.69 47.4,251.5 47.9,251.3 48.4,251.08 48.9,250.85 49.4,250.59 49.9,250.32 50.4,250.02 50.9,249.69 51.4,249.34 51.9,248.95 52.4,248.53 52.9,248.06 53.4,247.55 53.9,246.99 54.4,246.37 54.9,245.68 55.4,244.92 55.9,244.07 56.4,243.12 56.9,242.06 57.4,240.88 57.9,239.54 58.4,238.04 58.9,236.35 59.4,234.45 59.9,232.3 60.4,229.88 60.9,227.16 61.4,224.12 61.9,220.77 62.4,217.1 62.9,213.16 63.4,209.05 63.9,204.92 64.4,200.99 64.9,197.53 65.4,194.84 65.9,193.21 66.4,192.83 66.9,193.73 67.4,195.81 67.9,198.84 68.4,202.52 68.9,206.56 69.4,210.71 69.9,214.76 70.4,218.6 70.9,222.15 71.4,225.38 71.9,228.28 72.4,230.88 72.9,233.19 73.4,235.24 73.9,237.05 74.4,238.67 74.9,240.1 75.4,241.37 75.9,242.5 76.4,243.51 76.9,244.42 77.4,245.23 77.9,245.96 78.4,246.62 78.9,247.22 79.4,247.76 79.9,248.25 80.4,248.7 80.9,249.11 81.4,249.48 81.9,249.82 82.4,250.14 82.9,250.43 83.4,250.7 83.9,250.94 84.4,251.17 84.9,251.38 85.4,251.58 85.9,251.76 86.4,251.94 86.9,252.1 87.4,252.24 87.9,252.38 88.4,252.51 88.9,252.64 89.4,252.75 89.9,252.86 90.4,252.96 90.9,253.06 91.4,253.15 91.9,253.24 92.4,253.32 92.9,253.39 93.4,253.47 93.9,253.54 94.4,253.6 94.9,253.66 95.4,253.72 95.9,253.78 96.4,253.83 96.9,253.88 97.4,253.93 97.9,253.98 98.4,254.02 98.9,254.07 99.4,254.11 99.9,254.15 100.4,254.18 100.9,254.22 101.4,254.25 101.9,254.29 102.4,254.32 102.9,254.35 103.4,254.38" fill="none" stroke="#e0527f" stroke-width="1.1" stroke-linejoin="round"/>
<path d="M28.4,254.12 28.9,254.09 29.4,254.06 29.9,254.03 30.4,254 30.9,253.97 31.4,253.94 31.9,253.9 32.4,253.87 32.9,253.83 33.4,253.79 33.9,253.75 34.4,253.71 34.9,253.66 35.4,253.61 35.9,253.56 36.4,253.51 36.9,253.46 37.4,253.4 37.9,253.34 38.4,253.28 38.9,253.21 39.4,253.14 39.9,253.06 40.4,252.99 40.9,252.9 41.4,252.81 41.9,252.72 42.4,252.62 42.9,252.52 43.4,252.41 43.9,252.29 44.4,252.16 44.9,252.03 45.4,251.89 45.9,251.73 46.4,251.57 46.9,251.39 47.4,251.2 47.9,251 48.4,250.78 48.9,250.55 49.4,250.29 49.9,250.02 50.4,249.72 50.9,249.39 51.4,249.04 51.9,248.65 52.4,248.23 52.9,247.76 53.4,247.25 53.9,246.69 54.4,246.07 54.9,245.38 55.4,244.62 55.9,243.77 56.4,242.82 56.9,241.76 57.4,240.58 57.9,239.24 58.4,237.74 58.9,236.05 59.4,234.15 59.9,232 60.4,229.58 60.9,226.86 61.4,223.82 61.9,220.47 62.4,216.8 62.9,212.86 63.4,208.75 63.9,204.62 64.4,200.69 64.9,197.23 65.4,194.54 65.9,192.91 66.4,192.53 66.9,193.43 67.4,195.51 67.9,198.54 68.4,202.22 68.9,206.26 69.4,210.41 69.9,214.46 70.4,218.3 70.9,221.85 71.4,225.08 71.9,227.98 72.4,230.58 72.9,232.89 73.4,234.94 73.9,236.75 74.4,238.37 74.9,239.8 75.4,241.07 75.9,242.2 76.4,243.21 76.9,244.12 77.4,244.93 77.9,245.66 78.4,246.32 78.9,246.92 79.4,247.46 79.9,247.95 80.4,248.4 80.9,248.81 81.4,249.18 81.9,249.52 82.4,249.84 82.9,250.13 83.4,250.4 83.9,250.64 84.4,250.87 84.9,251.08 85.4,251.28 85.9,251.46 86.4,251.64 86.9,251.8 87.4,251.94 87.9,252.08 88.4,252.21 88.9,252.34 89.4,252.45 89.9,252.56 90.4,252.66 90.9,252.76 91.4,252.85 91.9,252.94 92.4,253.02 92.9,253.09 93.4,253.17 93.9,253.24 94.4,253.3 94.9,253.36 95.4,253.42 95.9,253.48 96.4,253.53 96.9,253.58 97.4,253.63 97.9,253.68 98.4,253.72 98.9,253.77 99.4,253.81 99.9,253.85 100.4,253.88 100.9,253.92 101.4,253.95 101.9,253.99 102.4,254.02 102.9,254.05 103.4,254.08" fill="none" stroke="#2d2b72" stroke-width="0.8" stroke-linejoin="round"/>
<path d="M28.4,254.42 28.9,254.39 29.4,254.36 29.9,254.33 30.4,254.3 30.9,254.27 31.4,254.24 31.9,254.2 32.4,254.17 32.9,254.13 33.4,254.09 33.9,254.05 34.4,254.01 34.9,253.96 35.4,253.91 35.9,253.86 36.4,253.81 36.9,253.76 37.4,253.7 37.9,253.64 38.4,253.58 38.9,253.51 39.4,253.44 39.9,253.36 40.4,253.29 40.9,253.2 41.4,253.11 41.9,253.02 42.4,252.92 42.9,252.82 43.4,252.71 43.9,252.59 44.4,252.46 44.9,252.33 45.4,252.19 45.9,252.03 46.4,251.87 46.9,251.69 47.4,251.5 47.9,251.3 48.4,251.08 48.9,250.85 49.4,250.59 49.9,250.32 50.4,250.02 50.9,249.69 51.4,249.34 51.9,248.95 52.4,248.53 52.9,248.06 53.4,247.55 53.9,246.99 54.4,246.37 54.9,245.68 55.4,244.92 55.9,244.07 56.4,243.12 56.9,242.06 57.4,240.88 57.9,239.54 58.4,238.04 58.9,236.35 59.4,234.45 59.9,232.3 60.4,229.88 60.9,227.16 61.4,224.12 61.9,220.77 62.4,217.1 62.9,213.16 63.4,209.05 63.9,204.92 64.4,200.99 64.9,197.53 65.4,194.84 65.9,193.21 66.4,192.83 66.9,193.73 67.4,195.81 67.9,198.84 68.4,202.52 68.9,206.56 69.4,210.71 69.9,214.76 70.4,218.6 70.9,222.15 71.4,225.38 71.9,228.28 72.4,230.88 72.9,233.19 73.4,235.24 73.9,237.05 74.4,238.67 74.9,240.1 75.4,241.37 75.9,242.5 76.4,243.51 76.9,244.42 77.4,245.23 77.9,245.96 78.4,246.62 78.9,247.22 79.4,247.76 79.9,248.25 80.4,248.7 80.9,249.11 81.4,249.48 81.9,249.82 82.4,250.14 82.9,250.43 83.4,250.7 83.9,250.94 84.4,251.17 84.9,251.38 85.4,251.58 85.9,251.76 86.4,251.94 86.9,252.1 87.4,252.24 87.9,252.38 88.4,252.51 88.9,252.64 89.4,252.75 89.9,252.86 90.4,252.96 90.9,253.06 91.4,253.15 91.9,253.24 92.4,253.32 92.9,253.39 93.4,253.47 93.9,253.54 94.4,253.6 94.9,253.66 95.4,253.72 95.9,253.78 96.4,253.83 96.9,253.88 97.4,253.93 97.9,253.98 98.4,254.02 98.9,254.07 99.4,254.11 99.9,254.15 100.4,254.18 100.9,254.22 101.4,254.25 101.9,254.29 102.4,254.32 102.9,254.35 103.4,254.38" fill="none" stroke="#e04a7a" stroke-width="0.5" stroke-linejoin="round"/>
<path d="M28.1,258.2 V190.5 H103.5 V258.2" fill="none" stroke="#6a6a6a" stroke-width="0.9"/>
<line x1="28.5" y1="255" x2="28.5" y2="258.2" stroke="#1a1a1a" stroke-width="0.75"/>
<line x1="28.1" y1="258.5" x2="103.8" y2="258.5" stroke="#1a1a1a" stroke-width="0.75"/>
<line x1="28.5" y1="258.2" x2="28.5" y2="260.4" stroke="#1a1a1a" stroke-width="0.75"/>
<text x="30.1" y="265.5" stroke="#1a1a1a" stroke-width="0.25" text-anchor="middle" font-size="6.1">−3.0</text>
<line x1="66.5" y1="258.2" x2="66.5" y2="260.4" stroke="#1a1a1a" stroke-width="0.75"/>
<text x="66.4" y="265.5" stroke="#1a1a1a" stroke-width="0.25" text-anchor="middle" font-size="6.1">center</text>
<line x1="103.5" y1="258.2" x2="103.5" y2="260.4" stroke="#1a1a1a" stroke-width="0.75"/>
<text x="102.8" y="265.5" stroke="#1a1a1a" stroke-width="0.25" text-anchor="middle" font-size="6.1">3.0 Kb</text>
<line x1="25.5" y1="192.5" x2="28.1" y2="192.5" stroke="#1a1a1a" stroke-width="0.75"/>
<text x="24.7" y="194.7" stroke="#1a1a1a" stroke-width="0.25" text-anchor="end" font-size="6.1">2.0</text>
<line x1="25.5" y1="210.5" x2="28.1" y2="210.5" stroke="#1a1a1a" stroke-width="0.75"/>
<text x="24.7" y="212.2" stroke="#1a1a1a" stroke-width="0.25" text-anchor="end" font-size="6.1">1.5</text>
<line x1="25.5" y1="227.5" x2="28.1" y2="227.5" stroke="#1a1a1a" stroke-width="0.75"/>
<text x="24.7" y="229.7" stroke="#1a1a1a" stroke-width="0.25" text-anchor="end" font-size="6.1">1.0</text>
<line x1="25.5" y1="245.5" x2="28.1" y2="245.5" stroke="#1a1a1a" stroke-width="0.75"/>
<text x="24.7" y="247.2" stroke="#1a1a1a" stroke-width="0.25" text-anchor="end" font-size="6.1">0.5</text>
<line x1="76.2" y1="197.5" x2="83.6" y2="197.5" stroke="#2d2b72" stroke-width="1"/>
<text x="85.5" y="199.4" stroke="#1a1a1a" stroke-width="0.25" font-size="6.1">WT</text>
<line x1="76.2" y1="208.5" x2="83.6" y2="208.5" stroke="#e0356a" stroke-width="1"/>
<text x="85.5" y="210.6" stroke="#1a1a1a" stroke-width="0.25" font-size="6.1">KO#1</text>
<text x="8.5" y="224" stroke="#1a1a1a" stroke-width="0.25" text-anchor="middle" font-size="5.9" transform="rotate(-90 8.5 224)">Normalized read density</text>
<path d="M28.4,338.29 28.9,338.27 29.4,338.25 29.9,338.23 30.4,338.2 30.9,338.18 31.4,338.15 31.9,338.13 32.4,338.1 32.9,338.07 33.4,338.04 33.9,338.01 34.4,337.98 34.9,337.95 35.4,337.91 35.9,337.88 36.4,337.84 36.9,337.8 37.4,337.76 37.9,337.71 38.4,337.67 38.9,337.62 39.4,337.57 39.9,337.51 40.4,337.45 40.9,337.39 41.4,337.33 41.9,337.26 42.4,337.19 42.9,337.11 43.4,337.03 43.9,336.94 44.4,336.85 44.9,336.75 45.4,336.64 45.9,336.52 46.4,336.39 46.9,336.25 47.4,336.09 47.9,335.92 48.4,335.74 48.9,335.52 49.4,335.29 49.9,335.02 50.4,334.72 50.9,334.38 51.4,333.98 51.9,333.54 52.4,333.03 52.9,332.45 53.4,331.78 53.9,331.03 54.4,330.16 54.9,329.19 55.4,328.08 55.9,326.84 56.4,325.44 56.9,323.89 57.4,322.16 57.9,320.26 58.4,318.18 58.9,315.91 59.4,313.44 59.9,310.8 60.4,307.97 60.9,304.98 61.4,301.83 61.9,298.57 62.4,295.24 62.9,291.9 63.4,288.63 63.9,285.54 64.4,282.75 64.9,280.42 65.4,278.67 65.9,277.64 66.4,277.4 66.9,277.96 67.4,279.29 67.9,281.29 68.4,283.82 68.9,286.75 69.4,289.92 69.9,293.23 70.4,296.58 70.9,299.89 71.4,303.11 71.9,306.19 72.4,309.12 72.9,311.88 73.4,314.45 73.9,316.84 74.4,319.03 74.9,321.04 75.4,322.87 75.9,324.53 76.4,326.02 76.9,327.35 77.4,328.54 77.9,329.59 78.4,330.52 78.9,331.34 79.4,332.06 79.9,332.69 80.4,333.24 80.9,333.72 81.4,334.15 81.9,334.52 82.4,334.84 82.9,335.13 83.4,335.39 83.9,335.61 84.4,335.81 84.9,335.99 85.4,336.16 85.9,336.31 86.4,336.44 86.9,336.57 87.4,336.68 87.9,336.79 88.4,336.89 88.9,336.98 89.4,337.06 89.9,337.14 90.4,337.22 90.9,337.29 91.4,337.35 91.9,337.42 92.4,337.48 92.9,337.53 93.4,337.59 93.9,337.64 94.4,337.69 94.9,337.73 95.4,337.77 95.9,337.82 96.4,337.86 96.9,337.89 97.4,337.93 97.9,337.96 98.4,338 98.9,338.03 99.4,338.06 99.9,338.09 100.4,338.11 100.9,338.14 101.4,338.16 101.9,338.19 102.4,338.21 102.9,338.23 103.4,338.26" fill="none" stroke="#3b3b8f" stroke-width="0.9" stroke-linejoin="round"/>
<path d="M28.4,338.55 28.9,338.53 29.4,338.52 29.9,338.51 30.4,338.49 30.9,338.48 31.4,338.46 31.9,338.44 32.4,338.43 32.9,338.41 33.4,338.39 33.9,338.37 34.4,338.35 34.9,338.33 35.4,338.3 35.9,338.28 36.4,338.26 36.9,338.23 37.4,338.2 37.9,338.17 38.4,338.14 38.9,338.11 39.4,338.08 39.9,338.04 40.4,338.01 40.9,337.97 41.4,337.92 41.9,337.88 42.4,337.83 42.9,337.78 43.4,337.72 43.9,337.66 44.4,337.6 44.9,337.53 45.4,337.45 45.9,337.37 46.4,337.27 46.9,337.17 47.4,337.06 47.9,336.93 48.4,336.79 48.9,336.64 49.4,336.46 49.9,336.27 50.4,336.06 50.9,335.82 51.4,335.55 51.9,335.25 52.4,334.92 52.9,334.55 53.4,334.15 53.9,333.7 54.4,333.21 54.9,332.67 55.4,332.08 55.9,331.45 56.4,330.75 56.9,330.01 57.4,329.21 57.9,328.36 58.4,327.45 58.9,326.49 59.4,325.49 59.9,324.44 60.4,323.35 60.9,322.24 61.4,321.11 61.9,319.97 62.4,318.86 62.9,317.78 63.4,316.76 63.9,315.83 64.4,315.03 64.9,314.37 65.4,313.9 65.9,313.62 66.4,313.56 66.9,313.71 67.4,314.07 67.9,314.62 68.4,315.33 68.9,316.19 69.4,317.16 69.9,318.2 70.4,319.3 70.9,320.43 71.4,321.56 71.9,322.68 72.4,323.79 72.9,324.86 73.4,325.89 73.9,326.88 74.4,327.82 74.9,328.7 75.4,329.54 75.9,330.31 76.4,331.04 76.9,331.71 77.4,332.32 77.9,332.89 78.4,333.41 78.9,333.88 79.4,334.31 79.9,334.7 80.4,335.06 80.9,335.37 81.4,335.66 81.9,335.91 82.4,336.14 82.9,336.35 83.4,336.53 83.9,336.7 84.4,336.85 84.9,336.98 85.4,337.1 85.9,337.21 86.4,337.31 86.9,337.4 87.4,337.48 87.9,337.56 88.4,337.62 88.9,337.69 89.4,337.75 89.9,337.8 90.4,337.85 90.9,337.9 91.4,337.94 91.9,337.98 92.4,338.02 92.9,338.06 93.4,338.09 93.9,338.13 94.4,338.16 94.9,338.19 95.4,338.21 95.9,338.24 96.4,338.27 96.9,338.29 97.4,338.31 97.9,338.34 98.4,338.36 98.9,338.38 99.4,338.4 99.9,338.41 100.4,338.43 100.9,338.45 101.4,338.47 101.9,338.48 102.4,338.5 102.9,338.51 103.4,338.53" fill="none" stroke="#e0304a" stroke-width="0.9" stroke-linejoin="round"/>
<path d="M28.1,343.3 V273.5 H103.5 V343.3" fill="none" stroke="#6a6a6a" stroke-width="0.9"/>
<line x1="28.5" y1="339.8" x2="28.5" y2="343.3" stroke="#1a1a1a" stroke-width="0.75"/>
<line x1="28.1" y1="343.5" x2="103.8" y2="343.5" stroke="#1a1a1a" stroke-width="0.75"/>
<line x1="28.5" y1="343.3" x2="28.5" y2="345.5" stroke="#1a1a1a" stroke-width="0.75"/>
<text x="30.1" y="351.7" stroke="#1a1a1a" stroke-width="0.25" text-anchor="middle" font-size="6.1">−3.0</text>
<line x1="66.5" y1="343.3" x2="66.5" y2="345.5" stroke="#1a1a1a" stroke-width="0.75"/>
<text x="66.4" y="351.7" stroke="#1a1a1a" stroke-width="0.25" text-anchor="middle" font-size="6.1">center</text>
<line x1="103.5" y1="343.3" x2="103.5" y2="345.5" stroke="#1a1a1a" stroke-width="0.75"/>
<text x="102.8" y="351.7" stroke="#1a1a1a" stroke-width="0.25" text-anchor="middle" font-size="6.1">3.0 Kb</text>
<line x1="25.5" y1="275.5" x2="28.1" y2="275.5" stroke="#1a1a1a" stroke-width="0.75"/>
<text x="24.7" y="277.8" stroke="#1a1a1a" stroke-width="0.25" text-anchor="end" font-size="6.1">1.2</text>
<line x1="25.5" y1="293.5" x2="28.1" y2="293.5" stroke="#1a1a1a" stroke-width="0.75"/>
<text x="24.7" y="295.59" stroke="#1a1a1a" stroke-width="0.25" text-anchor="end" font-size="6.1">0.9</text>
<line x1="25.5" y1="311.5" x2="28.1" y2="311.5" stroke="#1a1a1a" stroke-width="0.75"/>
<text x="24.7" y="313.38" stroke="#1a1a1a" stroke-width="0.25" text-anchor="end" font-size="6.1">0.6</text>
<line x1="25.5" y1="328.5" x2="28.1" y2="328.5" stroke="#1a1a1a" stroke-width="0.75"/>
<text x="24.7" y="331.17" stroke="#1a1a1a" stroke-width="0.25" text-anchor="end" font-size="6.1">0.3</text>
<line x1="76.2" y1="278.5" x2="83.6" y2="278.5" stroke="#2d2b72" stroke-width="1"/>
<text x="85.5" y="280.3" stroke="#1a1a1a" stroke-width="0.25" font-size="6.1">WT</text>
<line x1="76.2" y1="290.5" x2="83.6" y2="290.5" stroke="#e0356a" stroke-width="1"/>
<text x="85.5" y="292.2" stroke="#1a1a1a" stroke-width="0.25" font-size="6.1">KO#1</text>
<text x="8.5" y="307" stroke="#1a1a1a" stroke-width="0.25" text-anchor="middle" font-size="5.9" transform="rotate(-90 8.5 307)">Normalized read density</text>
<text x="25" y="359.3" stroke="#1a1a1a" stroke-width="0.25" font-size="5.95">Relative position from center (bp)</text>
<path d="M116.6 195.86h1v1.52h-1zM144.6 195.86h1v1.52h-1zM116.6 197.38h2v1.52h-2zM143.6 197.38h2v1.52h-2zM116.6 198.89h3v1.52h-3zM142.6 198.89h3v1.52h-3zM116.6 200.41h3v1.52h-3zM142.6 200.41h3v1.52h-3zM116.6 201.92h4v1.52h-4zM141.6 201.92h4v1.52h-4zM116.6 203.44h5v1.52h-5zM140.6 203.44h5v1.52h-5zM116.6 204.96h5v1.52h-5zM140.6 204.96h5v1.52h-5zM116.6 206.47h6v1.52h-6zM139.6 206.47h6v1.52h-6zM116.6 207.99h6v1.52h-6zM139.6 207.99h6v1.52h-6zM116.6 209.5h7v1.52h-7zM138.6 209.5h7v1.52h-7zM116.6 211.02h7v1.52h-7zM138.6 211.02h7v1.52h-7zM116.6 212.53h8v1.52h-8zM137.6 212.53h8v1.52h-8zM116.6 214.05h8v1.52h-8zM137.6 214.05h8v1.52h-8zM116.6 215.56h9v1.52h-9zM136.6 215.56h9v1.52h-9zM116.6 217.08h9v1.52h-9zM136.6 217.08h9v1.52h-9zM116.6 218.6h10v1.52h-10zM135.6 218.6h10v1.52h-10zM116.6 220.11h10v1.52h-10zM135.6 220.11h10v1.52h-10zM116.6 221.63h10v1.52h-10zM135.6 221.63h10v1.52h-10zM116.6 223.14h11v1.52h-11zM134.6 223.14h11v1.52h-11zM116.6 224.66h11v1.52h-11zM134.6 224.66h11v1.52h-11zM116.6 226.17h11v1.52h-11zM134.6 226.17h11v1.52h-11zM116.6 227.69h11v1.52h-11zM134.6 227.69h11v1.52h-11zM116.6 229.2h12v1.52h-12zM133.6 229.2h12v1.52h-12zM116.6 230.72h12v1.52h-12zM133.6 230.72h12v1.52h-12zM116.6 232.24h12v1.52h-12zM133.6 232.24h12v1.52h-12zM116.6 233.75h12v1.52h-12zM133.6 233.75h12v1.52h-12zM116.6 235.27h12v1.52h-12zM133.6 235.27h12v1.52h-12zM116.6 236.78h12v1.52h-12zM133.6 236.78h12v1.52h-12zM116.6 238.3h13v1.52h-13zM132.6 238.3h13v1.52h-13zM116.6 239.81h13v1.52h-13zM132.6 239.81h13v1.52h-13zM116.6 241.33h13v1.52h-13zM132.6 241.33h13v1.52h-13zM116.6 242.84h13v1.52h-13zM132.6 242.84h13v1.52h-13zM116.6 244.36h13v1.52h-13zM132.6 244.36h13v1.52h-13zM116.6 245.88h13v1.52h-13zM132.6 245.88h13v1.52h-13zM116.6 247.39h13v1.52h-13zM132.6 247.39h13v1.52h-13zM116.6 248.91h13v1.52h-13zM132.6 248.91h13v1.52h-13zM116.6 250.42h13v1.52h-13zM132.6 250.42h13v1.52h-13zM116.6 251.94h13v1.52h-13zM132.6 251.94h13v1.52h-13zM116.6 253.45h13v1.52h-13zM132.6 253.45h13v1.52h-13zM116.6 254.97h13v1.52h-13zM132.6 254.97h13v1.52h-13zM116.6 256.48h13v1.52h-13zM132.6 256.48h13v1.52h-13z" fill="#eef2ec" shape-rendering="crispEdges"/>
<path d="M116.6 192.83h1v1.52h-1zM144.6 192.83h1v1.52h-1zM116.6 194.35h2v1.52h-2zM143.6 194.35h2v1.52h-2zM117.6 195.86h2v1.52h-2zM142.6 195.86h2v1.52h-2zM118.6 197.38h1v1.52h-1zM142.6 197.38h1v1.52h-1zM119.6 198.89h1v1.52h-1zM141.6 198.89h1v1.52h-1zM119.6 200.41h2v1.52h-2zM140.6 200.41h2v1.52h-2zM120.6 201.92h1v1.52h-1zM140.6 201.92h1v1.52h-1zM121.6 203.44h1v1.52h-1zM139.6 203.44h1v1.52h-1zM121.6 204.96h1v1.52h-1zM139.6 204.96h1v1.52h-1zM122.6 206.47h1v1.52h-1zM138.6 206.47h1v1.52h-1zM122.6 207.99h1v1.52h-1zM138.6 207.99h1v1.52h-1zM123.6 209.5h1v1.52h-1zM137.6 209.5h1v1.52h-1zM123.6 211.02h1v1.52h-1zM137.6 211.02h1v1.52h-1zM124.6 212.53h1v1.52h-1zM136.6 212.53h1v1.52h-1zM124.6 214.05h1v1.52h-1zM136.6 214.05h1v1.52h-1zM125.6 217.08h1v1.52h-1zM135.6 217.08h1v1.52h-1zM126.6 221.63h1v1.52h-1zM134.6 221.63h1v1.52h-1zM127.6 227.69h1v1.52h-1zM133.6 227.69h1v1.52h-1zM128.6 235.27h1v1.52h-1zM132.6 235.27h1v1.52h-1zM128.6 236.78h1v1.52h-1zM132.6 236.78h1v1.52h-1z" fill="#e8f1e7" shape-rendering="crispEdges"/>
<path d="M116.6 191.32h2v1.52h-2zM143.6 191.32h2v1.52h-2zM117.6 192.83h1v1.52h-1zM143.6 192.83h1v1.52h-1zM118.6 194.35h1v1.52h-1zM142.6 194.35h1v1.52h-1zM119.6 195.86h1v1.52h-1zM141.6 195.86h1v1.52h-1zM119.6 197.38h1v1.52h-1zM141.6 197.38h1v1.52h-1zM120.6 198.89h1v1.52h-1zM140.6 198.89h1v1.52h-1zM121.6 201.92h1v1.52h-1zM139.6 201.92h1v1.52h-1zM122.6 203.44h1v1.52h-1zM138.6 203.44h1v1.52h-1zM122.6 204.96h1v1.52h-1zM138.6 204.96h1v1.52h-1zM123.6 206.47h1v1.52h-1zM137.6 206.47h1v1.52h-1zM123.6 207.99h1v1.52h-1zM137.6 207.99h1v1.52h-1zM124.6 211.02h1v1.52h-1zM136.6 211.02h1v1.52h-1zM125.6 214.05h1v1.52h-1zM135.6 214.05h1v1.52h-1zM125.6 215.56h1v1.52h-1zM135.6 215.56h1v1.52h-1zM126.6 218.6h1v1.52h-1zM134.6 218.6h1v1.52h-1zM126.6 220.11h1v1.52h-1zM134.6 220.11h1v1.52h-1zM127.6 224.66h1v1.52h-1zM133.6 224.66h1v1.52h-1zM127.6 226.17h1v1.52h-1zM133.6 226.17h1v1.52h-1zM128.6 233.75h1v1.52h-1zM132.6 233.75h1v1.52h-1zM129.6 256.48h1v1.52h-1zM131.6 256.48h1v1.52h-1z" fill="#daecdb" shape-rendering="crispEdges"/>
<path d="M118.6 191.32h1v1.52h-1zM142.6 191.32h1v1.52h-1zM118.6 192.83h1v1.52h-1zM142.6 192.83h1v1.52h-1zM119.6 194.35h1v1.52h-1zM141.6 194.35h1v1.52h-1zM120.6 195.86h1v1.52h-1zM140.6 195.86h1v1.52h-1zM120.6 197.38h1v1.52h-1zM140.6 197.38h1v1.52h-1zM121.6 198.89h1v1.52h-1zM139.6 198.89h1v1.52h-1zM121.6 200.41h1v1.52h-1zM139.6 200.41h1v1.52h-1zM122.6 201.92h1v1.52h-1zM138.6 201.92h1v1.52h-1zM123.6 204.96h1v1.52h-1zM137.6 204.96h1v1.52h-1zM124.6 207.99h1v1.52h-1zM136.6 207.99h1v1.52h-1zM124.6 209.5h1v1.52h-1zM136.6 209.5h1v1.52h-1zM125.6 212.53h1v1.52h-1zM135.6 212.53h1v1.52h-1zM126.6 217.08h1v1.52h-1zM134.6 217.08h1v1.52h-1zM127.6 223.14h1v1.52h-1zM133.6 223.14h1v1.52h-1zM128.6 232.24h1v1.52h-1zM132.6 232.24h1v1.52h-1zM129.6 251.94h1v1.52h-1zM131.6 251.94h1v1.52h-1zM129.6 253.45h1v1.52h-1zM131.6 253.45h1v1.52h-1zM129.6 254.97h1v1.52h-1zM131.6 254.97h1v1.52h-1z" fill="#cae7d0" shape-rendering="crispEdges"/>
<path d="M119.6 192.83h1v1.52h-1zM141.6 192.83h1v1.52h-1zM120.6 194.35h1v1.52h-1zM140.6 194.35h1v1.52h-1zM121.6 197.38h1v1.52h-1zM139.6 197.38h1v1.52h-1zM122.6 200.41h1v1.52h-1zM138.6 200.41h1v1.52h-1zM123.6 203.44h1v1.52h-1zM137.6 203.44h1v1.52h-1zM124.6 206.47h1v1.52h-1zM136.6 206.47h1v1.52h-1zM125.6 211.02h1v1.52h-1zM135.6 211.02h1v1.52h-1zM126.6 215.56h1v1.52h-1zM134.6 215.56h1v1.52h-1zM127.6 221.63h1v1.52h-1zM133.6 221.63h1v1.52h-1zM128.6 229.2h1v1.52h-1zM132.6 229.2h1v1.52h-1zM128.6 230.72h1v1.52h-1zM132.6 230.72h1v1.52h-1zM129.6 247.39h1v1.52h-1zM131.6 247.39h1v1.52h-1zM129.6 248.91h1v1.52h-1zM131.6 248.91h1v1.52h-1zM129.6 250.42h1v1.52h-1zM131.6 250.42h1v1.52h-1z" fill="#b4dfbe" shape-rendering="crispEdges"/>
<path d="M119.6 191.32h1v1.52h-1zM141.6 191.32h1v1.52h-1zM120.6 192.83h1v1.52h-1zM140.6 192.83h1v1.52h-1zM121.6 195.86h1v1.52h-1zM139.6 195.86h1v1.52h-1zM122.6 198.89h1v1.52h-1zM138.6 198.89h1v1.52h-1zM123.6 201.92h1v1.52h-1zM137.6 201.92h1v1.52h-1zM124.6 204.96h1v1.52h-1zM136.6 204.96h1v1.52h-1zM125.6 209.5h1v1.52h-1zM135.6 209.5h1v1.52h-1zM126.6 214.05h1v1.52h-1zM134.6 214.05h1v1.52h-1zM127.6 220.11h1v1.52h-1zM133.6 220.11h1v1.52h-1zM128.6 227.69h1v1.52h-1zM132.6 227.69h1v1.52h-1zM129.6 244.36h1v1.52h-1zM131.6 244.36h1v1.52h-1zM129.6 245.88h1v1.52h-1zM131.6 245.88h1v1.52h-1z" fill="#9ad5ab" shape-rendering="crispEdges"/>
<path d="M120.6 191.32h1v1.52h-1zM140.6 191.32h1v1.52h-1zM121.6 194.35h1v1.52h-1zM139.6 194.35h1v1.52h-1zM122.6 197.38h1v1.52h-1zM138.6 197.38h1v1.52h-1zM123.6 200.41h1v1.52h-1zM137.6 200.41h1v1.52h-1zM124.6 203.44h1v1.52h-1zM136.6 203.44h1v1.52h-1zM125.6 207.99h1v1.52h-1zM135.6 207.99h1v1.52h-1zM126.6 212.53h1v1.52h-1zM134.6 212.53h1v1.52h-1zM127.6 218.6h1v1.52h-1zM133.6 218.6h1v1.52h-1zM128.6 226.17h1v1.52h-1zM132.6 226.17h1v1.52h-1zM129.6 241.33h1v1.52h-1zM131.6 241.33h1v1.52h-1zM129.6 242.84h1v1.52h-1zM131.6 242.84h1v1.52h-1z" fill="#81cb98" shape-rendering="crispEdges"/>
<path d="M121.6 192.83h1v1.52h-1zM139.6 192.83h1v1.52h-1zM122.6 195.86h1v1.52h-1zM138.6 195.86h1v1.52h-1zM123.6 198.89h1v1.52h-1zM137.6 198.89h1v1.52h-1zM124.6 201.92h1v1.52h-1zM136.6 201.92h1v1.52h-1zM125.6 206.47h1v1.52h-1zM135.6 206.47h1v1.52h-1zM126.6 211.02h1v1.52h-1zM134.6 211.02h1v1.52h-1zM127.6 217.08h1v1.52h-1zM133.6 217.08h1v1.52h-1zM128.6 224.66h1v1.52h-1zM132.6 224.66h1v1.52h-1zM129.6 238.3h1v1.52h-1zM131.6 238.3h1v1.52h-1zM129.6 239.81h1v1.52h-1zM131.6 239.81h1v1.52h-1z" fill="#68c186" shape-rendering="crispEdges"/>
<path d="M121.6 191.32h1v1.52h-1zM139.6 191.32h1v1.52h-1zM122.6 194.35h1v1.52h-1zM138.6 194.35h1v1.52h-1zM123.6 197.38h1v1.52h-1zM137.6 197.38h1v1.52h-1zM124.6 200.41h1v1.52h-1zM136.6 200.41h1v1.52h-1zM125.6 204.96h1v1.52h-1zM135.6 204.96h1v1.52h-1zM126.6 209.5h1v1.52h-1zM134.6 209.5h1v1.52h-1zM127.6 215.56h1v1.52h-1zM133.6 215.56h1v1.52h-1zM128.6 223.14h1v1.52h-1zM132.6 223.14h1v1.52h-1zM129.6 236.78h1v1.52h-1zM131.6 236.78h1v1.52h-1z" fill="#50b676" shape-rendering="crispEdges"/>
<path d="M122.6 192.83h1v1.52h-1zM138.6 192.83h1v1.52h-1zM123.6 195.86h1v1.52h-1zM137.6 195.86h1v1.52h-1zM124.6 198.89h1v1.52h-1zM136.6 198.89h1v1.52h-1zM125.6 203.44h1v1.52h-1zM135.6 203.44h1v1.52h-1zM126.6 207.99h1v1.52h-1zM134.6 207.99h1v1.52h-1zM127.6 214.05h1v1.52h-1zM133.6 214.05h1v1.52h-1zM128.6 221.63h1v1.52h-1zM132.6 221.63h1v1.52h-1zM129.6 233.75h1v1.52h-1zM131.6 233.75h1v1.52h-1zM129.6 235.27h1v1.52h-1zM131.6 235.27h1v1.52h-1zM130.6 253.45h1v1.52h-1zM130.6 254.97h1v1.52h-1zM130.6 256.48h1v1.52h-1z" fill="#38ab65" shape-rendering="crispEdges"/>
<path d="M122.6 191.32h1v1.52h-1zM138.6 191.32h1v1.52h-1zM123.6 194.35h1v1.52h-1zM137.6 194.35h1v1.52h-1zM124.6 197.38h1v1.52h-1zM136.6 197.38h1v1.52h-1zM125.6 201.92h1v1.52h-1zM135.6 201.92h1v1.52h-1zM126.6 206.47h1v1.52h-1zM134.6 206.47h1v1.52h-1zM127.6 212.53h1v1.52h-1zM133.6 212.53h1v1.52h-1zM128.6 220.11h1v1.52h-1zM132.6 220.11h1v1.52h-1zM129.6 230.72h1v1.52h-1zM131.6 230.72h1v1.52h-1zM129.6 232.24h1v1.52h-1zM131.6 232.24h1v1.52h-1zM130.6 247.39h1v1.52h-1zM130.6 248.91h1v1.52h-1zM130.6 250.42h1v1.52h-1zM130.6 251.94h1v1.52h-1z" fill="#24a057" shape-rendering="crispEdges"/>
<path d="M123.6 192.83h1v1.52h-1zM137.6 192.83h1v1.52h-1zM124.6 195.86h1v1.52h-1zM136.6 195.86h1v1.52h-1zM125.6 200.41h1v1.52h-1zM135.6 200.41h1v1.52h-1zM126.6 204.96h1v1.52h-1zM134.6 204.96h1v1.52h-1zM127.6 211.02h1v1.52h-1zM133.6 211.02h1v1.52h-1zM128.6 217.08h1v1.52h-1zM132.6 217.08h1v1.52h-1zM128.6 218.6h1v1.52h-1zM132.6 218.6h1v1.52h-1zM129.6 227.69h1v1.52h-1zM131.6 227.69h1v1.52h-1zM129.6 229.2h1v1.52h-1zM131.6 229.2h1v1.52h-1zM130.6 241.33h1v1.52h-1zM130.6 242.84h1v1.52h-1zM130.6 244.36h1v1.52h-1zM130.6 245.88h1v1.52h-1z" fill="#1a954f" shape-rendering="crispEdges"/>
<path d="M123.6 191.32h1v1.52h-1zM137.6 191.32h1v1.52h-1zM124.6 194.35h1v1.52h-1zM136.6 194.35h1v1.52h-1zM125.6 198.89h1v1.52h-1zM135.6 198.89h1v1.52h-1zM126.6 203.44h1v1.52h-1zM134.6 203.44h1v1.52h-1zM127.6 207.99h1v1.52h-1zM133.6 207.99h1v1.52h-1zM127.6 209.5h1v1.52h-1zM133.6 209.5h1v1.52h-1zM128.6 215.56h1v1.52h-1zM132.6 215.56h1v1.52h-1zM129.6 224.66h1v1.52h-1zM131.6 224.66h1v1.52h-1zM129.6 226.17h1v1.52h-1zM131.6 226.17h1v1.52h-1zM130.6 233.75h1v1.52h-1zM130.6 235.27h1v1.52h-1zM130.6 236.78h1v1.52h-1zM130.6 238.3h1v1.52h-1zM130.6 239.81h1v1.52h-1z" fill="#108b46" shape-rendering="crispEdges"/>
<path d="M116.6 189.8h8v1.52h-8zM137.6 189.8h8v1.52h-8zM124.6 192.83h1v1.52h-1zM136.6 192.83h1v1.52h-1zM125.6 195.86h1v1.52h-1zM135.6 195.86h1v1.52h-1zM125.6 197.38h1v1.52h-1zM135.6 197.38h1v1.52h-1zM126.6 200.41h1v1.52h-1zM134.6 200.41h1v1.52h-1zM126.6 201.92h1v1.52h-1zM134.6 201.92h1v1.52h-1zM127.6 206.47h1v1.52h-1zM133.6 206.47h1v1.52h-1zM128.6 212.53h1v1.52h-1zM132.6 212.53h1v1.52h-1zM128.6 214.05h1v1.52h-1zM132.6 214.05h1v1.52h-1zM129.6 221.63h1v1.52h-1zM131.6 221.63h1v1.52h-1zM129.6 223.14h1v1.52h-1zM131.6 223.14h1v1.52h-1zM130.6 227.69h1v1.52h-1zM130.6 229.2h1v1.52h-1zM130.6 230.72h1v1.52h-1zM130.6 232.24h1v1.52h-1z" fill="#0a7d41" shape-rendering="crispEdges"/>
<path d="M124.6 189.8h13v1.52h-13zM124.6 191.32h13v1.52h-13zM125.6 192.83h11v1.52h-11zM125.6 194.35h11v1.52h-11zM126.6 195.86h9v1.52h-9zM126.6 197.38h9v1.52h-9zM126.6 198.89h9v1.52h-9zM127.6 200.41h7v1.52h-7zM127.6 201.92h7v1.52h-7zM127.6 203.44h7v1.52h-7zM127.6 204.96h7v1.52h-7zM128.6 206.47h5v1.52h-5zM128.6 207.99h5v1.52h-5zM128.6 209.5h5v1.52h-5zM128.6 211.02h5v1.52h-5zM129.6 212.53h3v1.52h-3zM129.6 214.05h3v1.52h-3zM129.6 215.56h3v1.52h-3zM129.6 217.08h3v1.52h-3zM129.6 218.6h3v1.52h-3zM129.6 220.11h3v1.52h-3zM130.6 221.63h1v1.52h-1zM130.6 223.14h1v1.52h-1zM130.6 224.66h1v1.52h-1zM130.6 226.17h1v1.52h-1z" fill="#066f3c" shape-rendering="crispEdges"/>
<rect x="116.5" y="189.5" width="29" height="69" fill="none" stroke="#2a2a2a" stroke-width="0.7"/>
<path d="M147.3 194.35h0.99v1.52h-0.99zM174.91 194.35h0.99v1.52h-0.99zM147.3 195.86h0.99v1.52h-0.99zM174.91 195.86h0.99v1.52h-0.99zM147.3 197.38h1.97v1.52h-1.97zM173.93 197.38h1.97v1.52h-1.97zM147.3 198.89h2.96v1.52h-2.96zM172.94 198.89h2.96v1.52h-2.96zM147.3 200.41h3.94v1.52h-3.94zM171.96 200.41h3.94v1.52h-3.94zM147.3 201.92h3.94v1.52h-3.94zM171.96 201.92h3.94v1.52h-3.94zM147.3 203.44h4.93v1.52h-4.93zM170.97 203.44h4.93v1.52h-4.93zM147.3 204.96h4.93v1.52h-4.93zM170.97 204.96h4.93v1.52h-4.93zM147.3 206.47h5.92v1.52h-5.92zM169.98 206.47h5.92v1.52h-5.92zM147.3 207.99h6.9v1.52h-6.9zM169 207.99h6.9v1.52h-6.9zM147.3 209.5h6.9v1.52h-6.9zM169 209.5h6.9v1.52h-6.9zM147.3 211.02h7.89v1.52h-7.89zM168.01 211.02h7.89v1.52h-7.89zM147.3 212.53h7.89v1.52h-7.89zM168.01 212.53h7.89v1.52h-7.89zM147.3 214.05h7.89v1.52h-7.89zM168.01 214.05h7.89v1.52h-7.89zM147.3 215.56h8.88v1.52h-8.88zM167.02 215.56h8.88v1.52h-8.88zM147.3 217.08h8.88v1.52h-8.88zM167.02 217.08h8.88v1.52h-8.88zM147.3 218.6h9.86v1.52h-9.86zM166.04 218.6h9.86v1.52h-9.86zM147.3 220.11h9.86v1.52h-9.86zM166.04 220.11h9.86v1.52h-9.86zM147.3 221.63h9.86v1.52h-9.86zM166.04 221.63h9.86v1.52h-9.86zM147.3 223.14h10.85v1.52h-10.85zM165.05 223.14h10.85v1.52h-10.85zM147.3 224.66h10.85v1.52h-10.85zM165.05 224.66h10.85v1.52h-10.85zM147.3 226.17h10.85v1.52h-10.85zM165.05 226.17h10.85v1.52h-10.85zM147.3 227.69h10.85v1.52h-10.85zM165.05 227.69h10.85v1.52h-10.85zM147.3 229.2h11.83v1.52h-11.83zM164.07 229.2h11.83v1.52h-11.83zM147.3 230.72h11.83v1.52h-11.83zM164.07 230.72h11.83v1.52h-11.83zM147.3 232.24h11.83v1.52h-11.83zM164.07 232.24h11.83v1.52h-11.83zM147.3 233.75h11.83v1.52h-11.83zM164.07 233.75h11.83v1.52h-11.83zM147.3 235.27h11.83v1.52h-11.83zM164.07 235.27h11.83v1.52h-11.83zM147.3 236.78h11.83v1.52h-11.83zM164.07 236.78h11.83v1.52h-11.83zM147.3 238.3h12.82v1.52h-12.82zM163.08 238.3h12.82v1.52h-12.82zM147.3 239.81h12.82v1.52h-12.82zM163.08 239.81h12.82v1.52h-12.82zM147.3 241.33h12.82v1.52h-12.82zM163.08 241.33h12.82v1.52h-12.82zM147.3 242.84h12.82v1.52h-12.82zM163.08 242.84h12.82v1.52h-12.82zM147.3 244.36h12.82v1.52h-12.82zM163.08 244.36h12.82v1.52h-12.82zM147.3 245.88h12.82v1.52h-12.82zM163.08 245.88h12.82v1.52h-12.82zM147.3 247.39h12.82v1.52h-12.82zM163.08 247.39h12.82v1.52h-12.82zM147.3 248.91h12.82v1.52h-12.82zM163.08 248.91h12.82v1.52h-12.82zM147.3 250.42h12.82v1.52h-12.82zM163.08 250.42h12.82v1.52h-12.82zM147.3 251.94h12.82v1.52h-12.82zM163.08 251.94h12.82v1.52h-12.82zM147.3 253.45h12.82v1.52h-12.82zM163.08 253.45h12.82v1.52h-12.82zM147.3 254.97h12.82v1.52h-12.82zM163.08 254.97h12.82v1.52h-12.82zM147.3 256.48h12.82v1.52h-12.82zM163.08 256.48h12.82v1.52h-12.82z" fill="#eef2ec" shape-rendering="crispEdges"/>
<path d="M147.3 191.32h0.99v1.52h-0.99zM174.91 191.32h0.99v1.52h-0.99zM147.3 192.83h0.99v1.52h-0.99zM174.91 192.83h0.99v1.52h-0.99zM148.29 194.35h0.99v1.52h-0.99zM173.93 194.35h0.99v1.52h-0.99zM148.29 195.86h1.97v1.52h-1.97zM172.94 195.86h1.97v1.52h-1.97zM149.27 197.38h0.99v1.52h-0.99zM172.94 197.38h0.99v1.52h-0.99zM150.26 198.89h0.99v1.52h-0.99zM171.96 198.89h0.99v1.52h-0.99zM151.24 200.41h0.99v1.52h-0.99zM170.97 200.41h0.99v1.52h-0.99zM151.24 201.92h0.99v1.52h-0.99zM170.97 201.92h0.99v1.52h-0.99zM152.23 203.44h0.99v1.52h-0.99zM169.98 203.44h0.99v1.52h-0.99zM152.23 204.96h0.99v1.52h-0.99zM169.98 204.96h0.99v1.52h-0.99zM153.22 206.47h0.99v1.52h-0.99zM169 206.47h0.99v1.52h-0.99zM154.2 209.5h0.99v1.52h-0.99zM168.01 209.5h0.99v1.52h-0.99zM155.19 212.53h0.99v1.52h-0.99zM167.02 212.53h0.99v1.52h-0.99zM155.19 214.05h0.99v1.52h-0.99zM167.02 214.05h0.99v1.52h-0.99zM156.18 215.56h0.99v1.52h-0.99zM166.04 215.56h0.99v1.52h-0.99zM156.18 217.08h0.99v1.52h-0.99zM166.04 217.08h0.99v1.52h-0.99zM157.16 220.11h0.99v1.52h-0.99zM165.05 220.11h0.99v1.52h-0.99zM157.16 221.63h0.99v1.52h-0.99zM165.05 221.63h0.99v1.52h-0.99zM158.15 226.17h0.99v1.52h-0.99zM164.07 226.17h0.99v1.52h-0.99zM158.15 227.69h0.99v1.52h-0.99zM164.07 227.69h0.99v1.52h-0.99zM159.13 235.27h0.99v1.52h-0.99zM163.08 235.27h0.99v1.52h-0.99zM159.13 236.78h0.99v1.52h-0.99zM163.08 236.78h0.99v1.52h-0.99z" fill="#e8f1e7" shape-rendering="crispEdges"/>
<path d="M148.29 191.32h0.99v1.52h-0.99zM173.93 191.32h0.99v1.52h-0.99zM148.29 192.83h0.99v1.52h-0.99zM173.93 192.83h0.99v1.52h-0.99zM149.27 194.35h0.99v1.52h-0.99zM172.94 194.35h0.99v1.52h-0.99zM150.26 195.86h0.99v1.52h-0.99zM171.96 195.86h0.99v1.52h-0.99zM150.26 197.38h0.99v1.52h-0.99zM171.96 197.38h0.99v1.52h-0.99zM151.24 198.89h0.99v1.52h-0.99zM170.97 198.89h0.99v1.52h-0.99zM152.23 200.41h0.99v1.52h-0.99zM169.98 200.41h0.99v1.52h-0.99zM152.23 201.92h0.99v1.52h-0.99zM169.98 201.92h0.99v1.52h-0.99zM153.22 203.44h0.99v1.52h-0.99zM169 203.44h0.99v1.52h-0.99zM153.22 204.96h0.99v1.52h-0.99zM169 204.96h0.99v1.52h-0.99zM154.2 206.47h0.99v1.52h-0.99zM168.01 206.47h0.99v1.52h-0.99zM154.2 207.99h0.99v1.52h-0.99zM168.01 207.99h0.99v1.52h-0.99zM155.19 209.5h0.99v1.52h-0.99zM167.02 209.5h0.99v1.52h-0.99zM155.19 211.02h0.99v1.52h-0.99zM167.02 211.02h0.99v1.52h-0.99zM156.18 214.05h0.99v1.52h-0.99zM166.04 214.05h0.99v1.52h-0.99zM157.16 218.6h0.99v1.52h-0.99zM165.05 218.6h0.99v1.52h-0.99zM158.15 224.66h0.99v1.52h-0.99zM164.07 224.66h0.99v1.52h-0.99zM159.13 232.24h0.99v1.52h-0.99zM163.08 232.24h0.99v1.52h-0.99zM159.13 233.75h0.99v1.52h-0.99zM163.08 233.75h0.99v1.52h-0.99zM160.12 254.97h0.99v1.52h-0.99zM162.09 254.97h0.99v1.52h-0.99zM160.12 256.48h0.99v1.52h-0.99zM162.09 256.48h0.99v1.52h-0.99z" fill="#daecdb" shape-rendering="crispEdges"/>
<path d="M149.27 191.32h0.99v1.52h-0.99zM172.94 191.32h0.99v1.52h-0.99zM149.27 192.83h0.99v1.52h-0.99zM172.94 192.83h0.99v1.52h-0.99zM150.26 194.35h0.99v1.52h-0.99zM171.96 194.35h0.99v1.52h-0.99zM151.24 195.86h0.99v1.52h-0.99zM170.97 195.86h0.99v1.52h-0.99zM151.24 197.38h0.99v1.52h-0.99zM170.97 197.38h0.99v1.52h-0.99zM152.23 198.89h0.99v1.52h-0.99zM169.98 198.89h0.99v1.52h-0.99zM153.22 201.92h0.99v1.52h-0.99zM169 201.92h0.99v1.52h-0.99zM154.2 204.96h0.99v1.52h-0.99zM168.01 204.96h0.99v1.52h-0.99zM155.19 207.99h0.99v1.52h-0.99zM167.02 207.99h0.99v1.52h-0.99zM156.18 212.53h0.99v1.52h-0.99zM166.04 212.53h0.99v1.52h-0.99zM157.16 217.08h0.99v1.52h-0.99zM165.05 217.08h0.99v1.52h-0.99zM158.15 223.14h0.99v1.52h-0.99zM164.07 223.14h0.99v1.52h-0.99zM159.13 230.72h0.99v1.52h-0.99zM163.08 230.72h0.99v1.52h-0.99zM160.12 250.42h0.99v1.52h-0.99zM162.09 250.42h0.99v1.52h-0.99zM160.12 251.94h0.99v1.52h-0.99zM162.09 251.94h0.99v1.52h-0.99zM160.12 253.45h0.99v1.52h-0.99zM162.09 253.45h0.99v1.52h-0.99z" fill="#cae7d0" shape-rendering="crispEdges"/>
<path d="M150.26 191.32h0.99v1.52h-0.99zM171.96 191.32h0.99v1.52h-0.99zM150.26 192.83h0.99v1.52h-0.99zM171.96 192.83h0.99v1.52h-0.99zM151.24 194.35h0.99v1.52h-0.99zM170.97 194.35h0.99v1.52h-0.99zM152.23 197.38h0.99v1.52h-0.99zM169.98 197.38h0.99v1.52h-0.99zM153.22 198.89h0.99v1.52h-0.99zM169 198.89h0.99v1.52h-0.99zM153.22 200.41h0.99v1.52h-0.99zM169 200.41h0.99v1.52h-0.99zM154.2 203.44h0.99v1.52h-0.99zM168.01 203.44h0.99v1.52h-0.99zM155.19 206.47h0.99v1.52h-0.99zM167.02 206.47h0.99v1.52h-0.99zM156.18 209.5h0.99v1.52h-0.99zM166.04 209.5h0.99v1.52h-0.99zM156.18 211.02h0.99v1.52h-0.99zM166.04 211.02h0.99v1.52h-0.99zM157.16 215.56h0.99v1.52h-0.99zM165.05 215.56h0.99v1.52h-0.99zM158.15 221.63h0.99v1.52h-0.99zM164.07 221.63h0.99v1.52h-0.99zM159.13 229.2h0.99v1.52h-0.99zM163.08 229.2h0.99v1.52h-0.99zM160.12 245.88h0.99v1.52h-0.99zM162.09 245.88h0.99v1.52h-0.99zM160.12 247.39h0.99v1.52h-0.99zM162.09 247.39h0.99v1.52h-0.99zM160.12 248.91h0.99v1.52h-0.99zM162.09 248.91h0.99v1.52h-0.99z" fill="#b4dfbe" shape-rendering="crispEdges"/>
<path d="M151.24 192.83h0.99v1.52h-0.99zM170.97 192.83h0.99v1.52h-0.99zM152.23 194.35h0.99v1.52h-0.99zM169.98 194.35h0.99v1.52h-0.99zM152.23 195.86h0.99v1.52h-0.99zM169.98 195.86h0.99v1.52h-0.99zM153.22 197.38h0.99v1.52h-0.99zM169 197.38h0.99v1.52h-0.99zM154.2 200.41h0.99v1.52h-0.99zM168.01 200.41h0.99v1.52h-0.99zM154.2 201.92h0.99v1.52h-0.99zM168.01 201.92h0.99v1.52h-0.99zM155.19 204.96h0.99v1.52h-0.99zM167.02 204.96h0.99v1.52h-0.99zM156.18 207.99h0.99v1.52h-0.99zM166.04 207.99h0.99v1.52h-0.99zM157.16 214.05h0.99v1.52h-0.99zM165.05 214.05h0.99v1.52h-0.99zM158.15 218.6h0.99v1.52h-0.99zM164.07 218.6h0.99v1.52h-0.99zM158.15 220.11h0.99v1.52h-0.99zM164.07 220.11h0.99v1.52h-0.99zM159.13 227.69h0.99v1.52h-0.99zM163.08 227.69h0.99v1.52h-0.99zM160.12 242.84h0.99v1.52h-0.99zM162.09 242.84h0.99v1.52h-0.99zM160.12 244.36h0.99v1.52h-0.99zM162.09 244.36h0.99v1.52h-0.99z" fill="#9ad5ab" shape-rendering="crispEdges"/>
<path d="M151.24 191.32h0.99v1.52h-0.99zM170.97 191.32h0.99v1.52h-0.99zM152.23 192.83h0.99v1.52h-0.99zM169.98 192.83h0.99v1.52h-0.99zM153.22 195.86h0.99v1.52h-0.99zM169 195.86h0.99v1.52h-0.99zM154.2 198.89h0.99v1.52h-0.99zM168.01 198.89h0.99v1.52h-0.99zM155.19 203.44h0.99v1.52h-0.99zM167.02 203.44h0.99v1.52h-0.99zM156.18 206.47h0.99v1.52h-0.99zM166.04 206.47h0.99v1.52h-0.99zM157.16 212.53h0.99v1.52h-0.99zM165.05 212.53h0.99v1.52h-0.99zM158.15 217.08h0.99v1.52h-0.99zM164.07 217.08h0.99v1.52h-0.99zM159.13 226.17h0.99v1.52h-0.99zM163.08 226.17h0.99v1.52h-0.99zM160.12 239.81h0.99v1.52h-0.99zM162.09 239.81h0.99v1.52h-0.99zM160.12 241.33h0.99v1.52h-0.99zM162.09 241.33h0.99v1.52h-0.99z" fill="#81cb98" shape-rendering="crispEdges"/>
<path d="M152.23 191.32h0.99v1.52h-0.99zM169.98 191.32h0.99v1.52h-0.99zM153.22 194.35h0.99v1.52h-0.99zM169 194.35h0.99v1.52h-0.99zM154.2 197.38h0.99v1.52h-0.99zM168.01 197.38h0.99v1.52h-0.99zM155.19 201.92h0.99v1.52h-0.99zM167.02 201.92h0.99v1.52h-0.99zM156.18 204.96h0.99v1.52h-0.99zM166.04 204.96h0.99v1.52h-0.99zM157.16 209.5h0.99v1.52h-0.99zM165.05 209.5h0.99v1.52h-0.99zM157.16 211.02h0.99v1.52h-0.99zM165.05 211.02h0.99v1.52h-0.99zM158.15 215.56h0.99v1.52h-0.99zM164.07 215.56h0.99v1.52h-0.99zM159.13 224.66h0.99v1.52h-0.99zM163.08 224.66h0.99v1.52h-0.99zM160.12 236.78h0.99v1.52h-0.99zM162.09 236.78h0.99v1.52h-0.99zM160.12 238.3h0.99v1.52h-0.99zM162.09 238.3h0.99v1.52h-0.99z" fill="#68c186" shape-rendering="crispEdges"/>
<path d="M153.22 192.83h0.99v1.52h-0.99zM169 192.83h0.99v1.52h-0.99zM154.2 195.86h0.99v1.52h-0.99zM168.01 195.86h0.99v1.52h-0.99zM155.19 200.41h0.99v1.52h-0.99zM167.02 200.41h0.99v1.52h-0.99zM156.18 203.44h0.99v1.52h-0.99zM166.04 203.44h0.99v1.52h-0.99zM157.16 207.99h0.99v1.52h-0.99zM165.05 207.99h0.99v1.52h-0.99zM158.15 214.05h0.99v1.52h-0.99zM164.07 214.05h0.99v1.52h-0.99zM159.13 221.63h0.99v1.52h-0.99zM163.08 221.63h0.99v1.52h-0.99zM159.13 223.14h0.99v1.52h-0.99zM163.08 223.14h0.99v1.52h-0.99zM160.12 235.27h0.99v1.52h-0.99zM162.09 235.27h0.99v1.52h-0.99zM161.11 254.97h0.99v1.52h-0.99zM161.11 256.48h0.99v1.52h-0.99z" fill="#50b676" shape-rendering="crispEdges"/>
<path d="M153.22 191.32h0.99v1.52h-0.99zM169 191.32h0.99v1.52h-0.99zM154.2 194.35h0.99v1.52h-0.99zM168.01 194.35h0.99v1.52h-0.99zM155.19 198.89h0.99v1.52h-0.99zM167.02 198.89h0.99v1.52h-0.99zM156.18 201.92h0.99v1.52h-0.99zM166.04 201.92h0.99v1.52h-0.99zM157.16 206.47h0.99v1.52h-0.99zM165.05 206.47h0.99v1.52h-0.99zM158.15 212.53h0.99v1.52h-0.99zM164.07 212.53h0.99v1.52h-0.99zM159.13 220.11h0.99v1.52h-0.99zM163.08 220.11h0.99v1.52h-0.99zM160.12 232.24h0.99v1.52h-0.99zM162.09 232.24h0.99v1.52h-0.99zM160.12 233.75h0.99v1.52h-0.99zM162.09 233.75h0.99v1.52h-0.99zM161.11 248.91h0.99v1.52h-0.99zM161.11 250.42h0.99v1.52h-0.99zM161.11 251.94h0.99v1.52h-0.99zM161.11 253.45h0.99v1.52h-0.99z" fill="#38ab65" shape-rendering="crispEdges"/>
<path d="M154.2 192.83h0.99v1.52h-0.99zM168.01 192.83h0.99v1.52h-0.99zM155.19 195.86h0.99v1.52h-0.99zM167.02 195.86h0.99v1.52h-0.99zM155.19 197.38h0.99v1.52h-0.99zM167.02 197.38h0.99v1.52h-0.99zM156.18 200.41h0.99v1.52h-0.99zM166.04 200.41h0.99v1.52h-0.99zM157.16 204.96h0.99v1.52h-0.99zM165.05 204.96h0.99v1.52h-0.99zM158.15 211.02h0.99v1.52h-0.99zM164.07 211.02h0.99v1.52h-0.99zM159.13 218.6h0.99v1.52h-0.99zM163.08 218.6h0.99v1.52h-0.99zM160.12 229.2h0.99v1.52h-0.99zM162.09 229.2h0.99v1.52h-0.99zM160.12 230.72h0.99v1.52h-0.99zM162.09 230.72h0.99v1.52h-0.99zM161.11 241.33h0.99v1.52h-0.99zM161.11 242.84h0.99v1.52h-0.99zM161.11 244.36h0.99v1.52h-0.99zM161.11 245.88h0.99v1.52h-0.99zM161.11 247.39h0.99v1.52h-0.99z" fill="#24a057" shape-rendering="crispEdges"/>
<path d="M154.2 191.32h0.99v1.52h-0.99zM168.01 191.32h0.99v1.52h-0.99zM155.19 194.35h0.99v1.52h-0.99zM167.02 194.35h0.99v1.52h-0.99zM156.18 198.89h0.99v1.52h-0.99zM166.04 198.89h0.99v1.52h-0.99zM157.16 203.44h0.99v1.52h-0.99zM165.05 203.44h0.99v1.52h-0.99zM158.15 209.5h0.99v1.52h-0.99zM164.07 209.5h0.99v1.52h-0.99zM159.13 215.56h0.99v1.52h-0.99zM163.08 215.56h0.99v1.52h-0.99zM159.13 217.08h0.99v1.52h-0.99zM163.08 217.08h0.99v1.52h-0.99zM160.12 226.17h0.99v1.52h-0.99zM162.09 226.17h0.99v1.52h-0.99zM160.12 227.69h0.99v1.52h-0.99zM162.09 227.69h0.99v1.52h-0.99zM161.11 235.27h0.99v1.52h-0.99zM161.11 236.78h0.99v1.52h-0.99zM161.11 238.3h0.99v1.52h-0.99zM161.11 239.81h0.99v1.52h-0.99z" fill="#1a954f" shape-rendering="crispEdges"/>
<path d="M155.19 192.83h0.99v1.52h-0.99zM167.02 192.83h0.99v1.52h-0.99zM156.18 197.38h0.99v1.52h-0.99zM166.04 197.38h0.99v1.52h-0.99zM157.16 201.92h0.99v1.52h-0.99zM165.05 201.92h0.99v1.52h-0.99zM158.15 206.47h0.99v1.52h-0.99zM164.07 206.47h0.99v1.52h-0.99zM158.15 207.99h0.99v1.52h-0.99zM164.07 207.99h0.99v1.52h-0.99zM159.13 214.05h0.99v1.52h-0.99zM163.08 214.05h0.99v1.52h-0.99zM160.12 221.63h0.99v1.52h-0.99zM162.09 221.63h0.99v1.52h-0.99zM160.12 223.14h0.99v1.52h-0.99zM162.09 223.14h0.99v1.52h-0.99zM160.12 224.66h0.99v1.52h-0.99zM162.09 224.66h0.99v1.52h-0.99zM161.11 229.2h0.99v1.52h-0.99zM161.11 230.72h0.99v1.52h-0.99zM161.11 232.24h0.99v1.52h-0.99zM161.11 233.75h0.99v1.52h-0.99z" fill="#108b46" shape-rendering="crispEdges"/>
<path d="M147.3 189.8h7.89v1.52h-7.89zM168.01 189.8h7.89v1.52h-7.89zM155.19 191.32h0.99v1.52h-0.99zM167.02 191.32h0.99v1.52h-0.99zM156.18 194.35h0.99v1.52h-0.99zM166.04 194.35h0.99v1.52h-0.99zM156.18 195.86h0.99v1.52h-0.99zM166.04 195.86h0.99v1.52h-0.99zM157.16 198.89h0.99v1.52h-0.99zM165.05 198.89h0.99v1.52h-0.99zM157.16 200.41h0.99v1.52h-0.99zM165.05 200.41h0.99v1.52h-0.99zM158.15 204.96h0.99v1.52h-0.99zM164.07 204.96h0.99v1.52h-0.99zM159.13 211.02h0.99v1.52h-0.99zM163.08 211.02h0.99v1.52h-0.99zM159.13 212.53h0.99v1.52h-0.99zM163.08 212.53h0.99v1.52h-0.99zM160.12 218.6h0.99v1.52h-0.99zM162.09 218.6h0.99v1.52h-0.99zM160.12 220.11h0.99v1.52h-0.99zM162.09 220.11h0.99v1.52h-0.99zM161.11 221.63h0.99v1.52h-0.99zM161.11 223.14h0.99v1.52h-0.99zM161.11 224.66h0.99v1.52h-0.99zM161.11 226.17h0.99v1.52h-0.99zM161.11 227.69h0.99v1.52h-0.99z" fill="#0a7d41" shape-rendering="crispEdges"/>
<path d="M155.19 189.8h12.82v1.52h-12.82zM156.18 191.32h10.85v1.52h-10.85zM156.18 192.83h10.85v1.52h-10.85zM157.16 194.35h8.88v1.52h-8.88zM157.16 195.86h8.88v1.52h-8.88zM157.16 197.38h8.88v1.52h-8.88zM158.15 198.89h6.9v1.52h-6.9zM158.15 200.41h6.9v1.52h-6.9zM158.15 201.92h6.9v1.52h-6.9zM158.15 203.44h6.9v1.52h-6.9zM159.13 204.96h4.93v1.52h-4.93zM159.13 206.47h4.93v1.52h-4.93zM159.13 207.99h4.93v1.52h-4.93zM159.13 209.5h4.93v1.52h-4.93zM160.12 211.02h2.96v1.52h-2.96zM160.12 212.53h2.96v1.52h-2.96zM160.12 214.05h2.96v1.52h-2.96zM160.12 215.56h2.96v1.52h-2.96zM160.12 217.08h2.96v1.52h-2.96zM161.11 218.6h0.99v1.52h-0.99zM161.11 220.11h0.99v1.52h-0.99z" fill="#066f3c" shape-rendering="crispEdges"/>
<rect x="147.5" y="189.5" width="28" height="69" fill="none" stroke="#2a2a2a" stroke-width="0.7"/>
<rect x="145.6" y="189.8" width="1.7" height="68.2" fill="#8a8a8a"/>
<line x1="116.6" y1="258.5" x2="175.9" y2="258.5" stroke="#1a1a1a" stroke-width="0.9"/>
<line x1="116.5" y1="258" x2="116.5" y2="260.2" stroke="#1a1a1a" stroke-width="0.75"/>
<line x1="145.5" y1="258" x2="145.5" y2="260.2" stroke="#1a1a1a" stroke-width="0.75"/>
<line x1="147.5" y1="258" x2="147.5" y2="260.2" stroke="#1a1a1a" stroke-width="0.75"/>
<line x1="175.5" y1="258" x2="175.5" y2="260.2" stroke="#1a1a1a" stroke-width="0.75"/>
<linearGradient id="ccb" x1="0" y1="1" x2="0" y2="0"><stop offset="0" stop-color="#f6f8f4"/><stop offset="0.3" stop-color="#cde7d0"/><stop offset="0.55" stop-color="#5fbb82"/><stop offset="0.8" stop-color="#138c47"/><stop offset="1" stop-color="#03532f"/></linearGradient>
<rect x="178.5" y="189.5" width="4" height="69" fill="url(#ccb)" stroke="#333" stroke-width="0.6"/>
<line x1="182.2" y1="258.5" x2="183.8" y2="258.5" stroke="#1a1a1a" stroke-width="0.75"/>
<text x="184.6" y="260.2" stroke="#1a1a1a" stroke-width="0.25" font-size="6.1">0.0</text>
<line x1="182.2" y1="244.5" x2="183.8" y2="244.5" stroke="#1a1a1a" stroke-width="0.75"/>
<text x="184.6" y="246.56" stroke="#1a1a1a" stroke-width="0.25" font-size="6.1">0.2</text>
<line x1="182.2" y1="230.5" x2="183.8" y2="230.5" stroke="#1a1a1a" stroke-width="0.75"/>
<text x="184.6" y="232.92" stroke="#1a1a1a" stroke-width="0.25" font-size="6.1">0.4</text>
<line x1="182.2" y1="217.5" x2="183.8" y2="217.5" stroke="#1a1a1a" stroke-width="0.75"/>
<text x="184.6" y="219.28" stroke="#1a1a1a" stroke-width="0.25" font-size="6.1">0.6</text>
<line x1="182.2" y1="203.5" x2="183.8" y2="203.5" stroke="#1a1a1a" stroke-width="0.75"/>
<text x="184.6" y="205.64" stroke="#1a1a1a" stroke-width="0.25" font-size="6.1">0.8</text>
<line x1="182.2" y1="189.5" x2="183.8" y2="189.5" stroke="#1a1a1a" stroke-width="0.75"/>
<text x="184.6" y="192" stroke="#1a1a1a" stroke-width="0.25" font-size="6.1">1.0</text>
<path d="M116.6 274.59h3v1.49h-3zM142.6 274.59h3v1.49h-3zM116.6 276.09h4v1.49h-4zM141.6 276.09h4v1.49h-4zM116.6 277.58h4v1.49h-4zM141.6 277.58h4v1.49h-4zM116.6 279.07h5v1.49h-5zM140.6 279.07h5v1.49h-5zM116.6 280.57h5v1.49h-5zM140.6 280.57h5v1.49h-5zM116.6 282.06h6v1.49h-6zM139.6 282.06h6v1.49h-6zM116.6 283.56h6v1.49h-6zM139.6 283.56h6v1.49h-6zM116.6 285.05h7v1.49h-7zM138.6 285.05h7v1.49h-7zM116.6 286.54h7v1.49h-7zM138.6 286.54h7v1.49h-7zM116.6 288.04h8v1.49h-8zM137.6 288.04h8v1.49h-8zM116.6 289.53h8v1.49h-8zM137.6 289.53h8v1.49h-8zM116.6 291.02h8v1.49h-8zM137.6 291.02h8v1.49h-8zM116.6 292.52h9v1.49h-9zM136.6 292.52h9v1.49h-9zM116.6 294.01h9v1.49h-9zM136.6 294.01h9v1.49h-9zM116.6 295.5h10v1.49h-10zM135.6 295.5h10v1.49h-10zM116.6 297h10v1.49h-10zM135.6 297h10v1.49h-10zM116.6 298.49h10v1.49h-10zM135.6 298.49h10v1.49h-10zM116.6 299.99h10v1.49h-10zM135.6 299.99h10v1.49h-10zM116.6 301.48h11v1.49h-11zM134.6 301.48h11v1.49h-11zM116.6 302.97h11v1.49h-11zM134.6 302.97h11v1.49h-11zM116.6 304.47h11v1.49h-11zM134.6 304.47h11v1.49h-11zM116.6 305.96h11v1.49h-11zM134.6 305.96h11v1.49h-11zM116.6 307.45h12v1.49h-12zM133.6 307.45h12v1.49h-12zM116.6 308.95h12v1.49h-12zM133.6 308.95h12v1.49h-12zM116.6 310.44h12v1.49h-12zM133.6 310.44h12v1.49h-12zM116.6 311.93h12v1.49h-12zM133.6 311.93h12v1.49h-12zM116.6 313.43h12v1.49h-12zM133.6 313.43h12v1.49h-12zM116.6 314.92h12v1.49h-12zM133.6 314.92h12v1.49h-12zM116.6 316.41h13v1.49h-13zM132.6 316.41h13v1.49h-13zM116.6 317.91h13v1.49h-13zM132.6 317.91h13v1.49h-13zM116.6 319.4h13v1.49h-13zM132.6 319.4h13v1.49h-13zM116.6 320.9h13v1.49h-13zM132.6 320.9h13v1.49h-13zM116.6 322.39h13v1.49h-13zM132.6 322.39h13v1.49h-13zM116.6 323.88h13v1.49h-13zM132.6 323.88h13v1.49h-13zM116.6 325.38h13v1.49h-13zM132.6 325.38h13v1.49h-13zM116.6 326.87h13v1.49h-13zM132.6 326.87h13v1.49h-13zM116.6 328.36h13v1.49h-13zM132.6 328.36h13v1.49h-13zM116.6 329.86h13v1.49h-13zM132.6 329.86h13v1.49h-13zM116.6 331.35h13v1.49h-13zM132.6 331.35h13v1.49h-13zM116.6 332.84h13v1.49h-13zM132.6 332.84h13v1.49h-13zM116.6 334.34h13v1.49h-13zM132.6 334.34h13v1.49h-13zM116.6 335.83h13v1.49h-13zM132.6 335.83h13v1.49h-13zM116.6 337.33h13v1.49h-13zM132.6 337.33h13v1.49h-13zM116.6 338.82h13v1.49h-13zM132.6 338.82h13v1.49h-13zM116.6 340.31h13v1.49h-13zM132.6 340.31h13v1.49h-13zM116.6 341.81h13v1.49h-13zM132.6 341.81h13v1.49h-13z" fill="#eef2ec" shape-rendering="crispEdges"/>
<path d="M119.6 274.59h1v1.49h-1zM141.6 274.59h1v1.49h-1zM120.6 276.09h1v1.49h-1zM140.6 276.09h1v1.49h-1zM120.6 277.58h1v1.49h-1zM140.6 277.58h1v1.49h-1zM121.6 279.07h1v1.49h-1zM139.6 279.07h1v1.49h-1zM121.6 280.57h1v1.49h-1zM139.6 280.57h1v1.49h-1zM122.6 282.06h1v1.49h-1zM138.6 282.06h1v1.49h-1zM122.6 283.56h1v1.49h-1zM138.6 283.56h1v1.49h-1zM123.6 285.05h1v1.49h-1zM137.6 285.05h1v1.49h-1zM123.6 286.54h1v1.49h-1zM137.6 286.54h1v1.49h-1zM124.6 289.53h1v1.49h-1zM136.6 289.53h1v1.49h-1zM124.6 291.02h1v1.49h-1zM136.6 291.02h1v1.49h-1zM125.6 294.01h1v1.49h-1zM135.6 294.01h1v1.49h-1zM126.6 298.49h1v1.49h-1zM134.6 298.49h1v1.49h-1zM126.6 299.99h1v1.49h-1zM134.6 299.99h1v1.49h-1zM127.6 304.47h1v1.49h-1zM133.6 304.47h1v1.49h-1zM127.6 305.96h1v1.49h-1zM133.6 305.96h1v1.49h-1zM128.6 313.43h1v1.49h-1zM132.6 313.43h1v1.49h-1zM128.6 314.92h1v1.49h-1zM132.6 314.92h1v1.49h-1zM129.6 334.34h1v1.49h-1zM131.6 334.34h1v1.49h-1zM129.6 335.83h1v1.49h-1zM131.6 335.83h1v1.49h-1zM129.6 337.33h1v1.49h-1zM131.6 337.33h1v1.49h-1zM129.6 338.82h1v1.49h-1zM131.6 338.82h1v1.49h-1zM129.6 340.31h1v1.49h-1zM131.6 340.31h1v1.49h-1zM129.6 341.81h1v1.49h-1zM131.6 341.81h1v1.49h-1z" fill="#e8f1e7" shape-rendering="crispEdges"/>
<path d="M120.6 274.59h1v1.49h-1zM140.6 274.59h1v1.49h-1zM121.6 276.09h1v1.49h-1zM139.6 276.09h1v1.49h-1zM121.6 277.58h1v1.49h-1zM139.6 277.58h1v1.49h-1zM122.6 279.07h1v1.49h-1zM138.6 279.07h1v1.49h-1zM122.6 280.57h1v1.49h-1zM138.6 280.57h1v1.49h-1zM123.6 282.06h1v1.49h-1zM137.6 282.06h1v1.49h-1zM123.6 283.56h1v1.49h-1zM137.6 283.56h1v1.49h-1zM124.6 286.54h1v1.49h-1zM136.6 286.54h1v1.49h-1zM124.6 288.04h1v1.49h-1zM136.6 288.04h1v1.49h-1zM125.6 291.02h1v1.49h-1zM135.6 291.02h1v1.49h-1zM125.6 292.52h1v1.49h-1zM135.6 292.52h1v1.49h-1zM126.6 295.5h1v1.49h-1zM134.6 295.5h1v1.49h-1zM126.6 297h1v1.49h-1zM134.6 297h1v1.49h-1zM127.6 302.97h1v1.49h-1zM133.6 302.97h1v1.49h-1zM128.6 311.93h1v1.49h-1zM132.6 311.93h1v1.49h-1zM129.6 329.86h1v1.49h-1zM131.6 329.86h1v1.49h-1zM129.6 331.35h1v1.49h-1zM131.6 331.35h1v1.49h-1zM129.6 332.84h1v1.49h-1zM131.6 332.84h1v1.49h-1z" fill="#daecdb" shape-rendering="crispEdges"/>
<path d="M121.6 274.59h1v1.49h-1zM139.6 274.59h1v1.49h-1zM122.6 277.58h1v1.49h-1zM138.6 277.58h1v1.49h-1zM123.6 280.57h1v1.49h-1zM137.6 280.57h1v1.49h-1zM124.6 285.05h1v1.49h-1zM136.6 285.05h1v1.49h-1zM125.6 289.53h1v1.49h-1zM135.6 289.53h1v1.49h-1zM126.6 294.01h1v1.49h-1zM134.6 294.01h1v1.49h-1zM127.6 299.99h1v1.49h-1zM133.6 299.99h1v1.49h-1zM127.6 301.48h1v1.49h-1zM133.6 301.48h1v1.49h-1zM128.6 308.95h1v1.49h-1zM132.6 308.95h1v1.49h-1zM128.6 310.44h1v1.49h-1zM132.6 310.44h1v1.49h-1zM129.6 325.38h1v1.49h-1zM131.6 325.38h1v1.49h-1zM129.6 326.87h1v1.49h-1zM131.6 326.87h1v1.49h-1zM129.6 328.36h1v1.49h-1zM131.6 328.36h1v1.49h-1z" fill="#cae7d0" shape-rendering="crispEdges"/>
<path d="M122.6 274.59h1v1.49h-1zM138.6 274.59h1v1.49h-1zM122.6 276.09h1v1.49h-1zM138.6 276.09h1v1.49h-1zM123.6 279.07h1v1.49h-1zM137.6 279.07h1v1.49h-1zM124.6 282.06h1v1.49h-1zM136.6 282.06h1v1.49h-1zM124.6 283.56h1v1.49h-1zM136.6 283.56h1v1.49h-1zM125.6 286.54h1v1.49h-1zM135.6 286.54h1v1.49h-1zM125.6 288.04h1v1.49h-1zM135.6 288.04h1v1.49h-1zM126.6 292.52h1v1.49h-1zM134.6 292.52h1v1.49h-1zM127.6 298.49h1v1.49h-1zM133.6 298.49h1v1.49h-1zM128.6 307.45h1v1.49h-1zM132.6 307.45h1v1.49h-1zM129.6 322.39h1v1.49h-1zM131.6 322.39h1v1.49h-1zM129.6 323.88h1v1.49h-1zM131.6 323.88h1v1.49h-1z" fill="#b4dfbe" shape-rendering="crispEdges"/>
<path d="M123.6 276.09h1v1.49h-1zM137.6 276.09h1v1.49h-1zM123.6 277.58h1v1.49h-1zM137.6 277.58h1v1.49h-1zM124.6 280.57h1v1.49h-1zM136.6 280.57h1v1.49h-1zM125.6 285.05h1v1.49h-1zM135.6 285.05h1v1.49h-1zM126.6 291.02h1v1.49h-1zM134.6 291.02h1v1.49h-1zM127.6 297h1v1.49h-1zM133.6 297h1v1.49h-1zM128.6 305.96h1v1.49h-1zM132.6 305.96h1v1.49h-1zM129.6 319.4h1v1.49h-1zM131.6 319.4h1v1.49h-1zM129.6 320.9h1v1.49h-1zM131.6 320.9h1v1.49h-1z" fill="#9ad5ab" shape-rendering="crispEdges"/>
<path d="M123.6 274.59h1v1.49h-1zM137.6 274.59h1v1.49h-1zM124.6 279.07h1v1.49h-1zM136.6 279.07h1v1.49h-1zM125.6 283.56h1v1.49h-1zM135.6 283.56h1v1.49h-1zM126.6 288.04h1v1.49h-1zM134.6 288.04h1v1.49h-1zM126.6 289.53h1v1.49h-1zM134.6 289.53h1v1.49h-1zM127.6 295.5h1v1.49h-1zM133.6 295.5h1v1.49h-1zM128.6 302.97h1v1.49h-1zM132.6 302.97h1v1.49h-1zM128.6 304.47h1v1.49h-1zM132.6 304.47h1v1.49h-1zM129.6 317.91h1v1.49h-1zM131.6 317.91h1v1.49h-1z" fill="#81cb98" shape-rendering="crispEdges"/>
<path d="M124.6 276.09h1v1.49h-1zM136.6 276.09h1v1.49h-1zM124.6 277.58h1v1.49h-1zM136.6 277.58h1v1.49h-1zM125.6 282.06h1v1.49h-1zM135.6 282.06h1v1.49h-1zM126.6 286.54h1v1.49h-1zM134.6 286.54h1v1.49h-1zM127.6 292.52h1v1.49h-1zM133.6 292.52h1v1.49h-1zM127.6 294.01h1v1.49h-1zM133.6 294.01h1v1.49h-1zM128.6 301.48h1v1.49h-1zM132.6 301.48h1v1.49h-1zM129.6 314.92h1v1.49h-1zM131.6 314.92h1v1.49h-1zM129.6 316.41h1v1.49h-1zM131.6 316.41h1v1.49h-1zM130.6 337.33h1v1.49h-1zM130.6 338.82h1v1.49h-1zM130.6 340.31h1v1.49h-1zM130.6 341.81h1v1.49h-1z" fill="#68c186" shape-rendering="crispEdges"/>
<path d="M124.6 274.59h1v1.49h-1zM136.6 274.59h1v1.49h-1zM125.6 279.07h1v1.49h-1zM135.6 279.07h1v1.49h-1zM125.6 280.57h1v1.49h-1zM135.6 280.57h1v1.49h-1zM126.6 285.05h1v1.49h-1zM134.6 285.05h1v1.49h-1zM127.6 291.02h1v1.49h-1zM133.6 291.02h1v1.49h-1zM128.6 299.99h1v1.49h-1zM132.6 299.99h1v1.49h-1zM129.6 311.93h1v1.49h-1zM131.6 311.93h1v1.49h-1zM129.6 313.43h1v1.49h-1zM131.6 313.43h1v1.49h-1zM130.6 329.86h1v1.49h-1zM130.6 331.35h1v1.49h-1zM130.6 332.84h1v1.49h-1zM130.6 334.34h1v1.49h-1zM130.6 335.83h1v1.49h-1z" fill="#50b676" shape-rendering="crispEdges"/>
<path d="M125.6 277.58h1v1.49h-1zM135.6 277.58h1v1.49h-1zM126.6 282.06h1v1.49h-1zM134.6 282.06h1v1.49h-1zM126.6 283.56h1v1.49h-1zM134.6 283.56h1v1.49h-1zM127.6 289.53h1v1.49h-1zM133.6 289.53h1v1.49h-1zM128.6 297h1v1.49h-1zM132.6 297h1v1.49h-1zM128.6 298.49h1v1.49h-1zM132.6 298.49h1v1.49h-1zM129.6 308.95h1v1.49h-1zM131.6 308.95h1v1.49h-1zM129.6 310.44h1v1.49h-1zM131.6 310.44h1v1.49h-1zM130.6 322.39h1v1.49h-1zM130.6 323.88h1v1.49h-1zM130.6 325.38h1v1.49h-1zM130.6 326.87h1v1.49h-1zM130.6 328.36h1v1.49h-1z" fill="#38ab65" shape-rendering="crispEdges"/>
<path d="M125.6 276.09h1v1.49h-1zM135.6 276.09h1v1.49h-1zM126.6 280.57h1v1.49h-1zM134.6 280.57h1v1.49h-1zM127.6 286.54h1v1.49h-1zM133.6 286.54h1v1.49h-1zM127.6 288.04h1v1.49h-1zM133.6 288.04h1v1.49h-1zM128.6 294.01h1v1.49h-1zM132.6 294.01h1v1.49h-1zM128.6 295.5h1v1.49h-1zM132.6 295.5h1v1.49h-1zM129.6 304.47h1v1.49h-1zM131.6 304.47h1v1.49h-1zM129.6 305.96h1v1.49h-1zM131.6 305.96h1v1.49h-1zM129.6 307.45h1v1.49h-1zM131.6 307.45h1v1.49h-1zM130.6 314.92h1v1.49h-1zM130.6 316.41h1v1.49h-1zM130.6 317.91h1v1.49h-1zM130.6 319.4h1v1.49h-1zM130.6 320.9h1v1.49h-1z" fill="#24a057" shape-rendering="crispEdges"/>
<path d="M125.6 274.59h1v1.49h-1zM135.6 274.59h1v1.49h-1zM126.6 277.58h1v1.49h-1zM134.6 277.58h1v1.49h-1zM126.6 279.07h1v1.49h-1zM134.6 279.07h1v1.49h-1zM127.6 283.56h1v1.49h-1zM133.6 283.56h1v1.49h-1zM127.6 285.05h1v1.49h-1zM133.6 285.05h1v1.49h-1zM128.6 291.02h1v1.49h-1zM132.6 291.02h1v1.49h-1zM128.6 292.52h1v1.49h-1zM132.6 292.52h1v1.49h-1zM129.6 301.48h1v1.49h-1zM131.6 301.48h1v1.49h-1zM129.6 302.97h1v1.49h-1zM131.6 302.97h1v1.49h-1zM130.6 307.45h1v1.49h-1zM130.6 308.95h1v1.49h-1zM130.6 310.44h1v1.49h-1zM130.6 311.93h1v1.49h-1zM130.6 313.43h1v1.49h-1z" fill="#1a954f" shape-rendering="crispEdges"/>
<path d="M126.6 276.09h1v1.49h-1zM134.6 276.09h1v1.49h-1zM127.6 282.06h1v1.49h-1zM133.6 282.06h1v1.49h-1zM128.6 288.04h1v1.49h-1zM132.6 288.04h1v1.49h-1zM128.6 289.53h1v1.49h-1zM132.6 289.53h1v1.49h-1zM129.6 295.5h1v1.49h-1zM131.6 295.5h1v1.49h-1zM129.6 297h1v1.49h-1zM131.6 297h1v1.49h-1zM129.6 298.49h1v1.49h-1zM131.6 298.49h1v1.49h-1zM129.6 299.99h3v1.49h-3zM130.6 301.48h1v1.49h-1zM130.6 302.97h1v1.49h-1zM130.6 304.47h1v1.49h-1zM130.6 305.96h1v1.49h-1z" fill="#108b46" shape-rendering="crispEdges"/>
<path d="M116.6 273.1h11v1.49h-11zM134.6 273.1h11v1.49h-11zM126.6 274.59h1v1.49h-1zM134.6 274.59h1v1.49h-1zM127.6 277.58h1v1.49h-1zM133.6 277.58h1v1.49h-1zM127.6 279.07h1v1.49h-1zM133.6 279.07h1v1.49h-1zM127.6 280.57h1v1.49h-1zM133.6 280.57h1v1.49h-1zM128.6 283.56h1v1.49h-1zM132.6 283.56h1v1.49h-1zM128.6 285.05h1v1.49h-1zM132.6 285.05h1v1.49h-1zM128.6 286.54h1v1.49h-1zM132.6 286.54h1v1.49h-1zM129.6 291.02h1v1.49h-1zM131.6 291.02h1v1.49h-1zM129.6 292.52h3v1.49h-3zM129.6 294.01h3v1.49h-3zM130.6 295.5h1v1.49h-1zM130.6 297h1v1.49h-1zM130.6 298.49h1v1.49h-1z" fill="#0a7d41" shape-rendering="crispEdges"/>
<path d="M127.6 273.1h7v1.49h-7zM127.6 274.59h7v1.49h-7zM127.6 276.09h7v1.49h-7zM128.6 277.58h5v1.49h-5zM128.6 279.07h5v1.49h-5zM128.6 280.57h5v1.49h-5zM128.6 282.06h5v1.49h-5zM129.6 283.56h3v1.49h-3zM129.6 285.05h3v1.49h-3zM129.6 286.54h3v1.49h-3zM129.6 288.04h3v1.49h-3zM129.6 289.53h3v1.49h-3zM130.6 291.02h1v1.49h-1z" fill="#066f3c" shape-rendering="crispEdges"/>
<rect x="116.5" y="273.5" width="29" height="70" fill="none" stroke="#2a2a2a" stroke-width="0.7"/>
<path d="M147.3 274.59h6.9v1.49h-6.9zM169 274.59h6.9v1.49h-6.9zM147.3 276.09h6.9v1.49h-6.9zM169 276.09h6.9v1.49h-6.9zM147.3 277.58h6.9v1.49h-6.9zM169 277.58h6.9v1.49h-6.9zM147.3 279.07h7.89v1.49h-7.89zM168.01 279.07h7.89v1.49h-7.89zM147.3 280.57h7.89v1.49h-7.89zM168.01 280.57h7.89v1.49h-7.89zM147.3 282.06h8.88v1.49h-8.88zM167.02 282.06h8.88v1.49h-8.88zM147.3 283.56h8.88v1.49h-8.88zM167.02 283.56h8.88v1.49h-8.88zM147.3 285.05h8.88v1.49h-8.88zM167.02 285.05h8.88v1.49h-8.88zM147.3 286.54h8.88v1.49h-8.88zM167.02 286.54h8.88v1.49h-8.88zM147.3 288.04h9.86v1.49h-9.86zM166.04 288.04h9.86v1.49h-9.86zM147.3 289.53h9.86v1.49h-9.86zM166.04 289.53h9.86v1.49h-9.86zM147.3 291.02h9.86v1.49h-9.86zM166.04 291.02h9.86v1.49h-9.86zM147.3 292.52h10.85v1.49h-10.85zM165.05 292.52h10.85v1.49h-10.85zM147.3 294.01h10.85v1.49h-10.85zM165.05 294.01h10.85v1.49h-10.85zM147.3 295.5h10.85v1.49h-10.85zM165.05 295.5h10.85v1.49h-10.85zM147.3 297h10.85v1.49h-10.85zM165.05 297h10.85v1.49h-10.85zM147.3 298.49h10.85v1.49h-10.85zM165.05 298.49h10.85v1.49h-10.85zM147.3 299.99h11.83v1.49h-11.83zM164.07 299.99h11.83v1.49h-11.83zM147.3 301.48h11.83v1.49h-11.83zM164.07 301.48h11.83v1.49h-11.83zM147.3 302.97h11.83v1.49h-11.83zM164.07 302.97h11.83v1.49h-11.83zM147.3 304.47h11.83v1.49h-11.83zM164.07 304.47h11.83v1.49h-11.83zM147.3 305.96h11.83v1.49h-11.83zM164.07 305.96h11.83v1.49h-11.83zM147.3 307.45h11.83v1.49h-11.83zM164.07 307.45h11.83v1.49h-11.83zM147.3 308.95h11.83v1.49h-11.83zM164.07 308.95h11.83v1.49h-11.83zM147.3 310.44h12.82v1.49h-12.82zM163.08 310.44h12.82v1.49h-12.82zM147.3 311.93h12.82v1.49h-12.82zM163.08 311.93h12.82v1.49h-12.82zM147.3 313.43h12.82v1.49h-12.82zM163.08 313.43h12.82v1.49h-12.82zM147.3 314.92h12.82v1.49h-12.82zM163.08 314.92h12.82v1.49h-12.82zM147.3 316.41h12.82v1.49h-12.82zM163.08 316.41h12.82v1.49h-12.82zM147.3 317.91h12.82v1.49h-12.82zM163.08 317.91h12.82v1.49h-12.82zM147.3 319.4h12.82v1.49h-12.82zM163.08 319.4h12.82v1.49h-12.82zM147.3 320.9h12.82v1.49h-12.82zM163.08 320.9h12.82v1.49h-12.82zM147.3 322.39h12.82v1.49h-12.82zM163.08 322.39h12.82v1.49h-12.82zM147.3 323.88h12.82v1.49h-12.82zM163.08 323.88h12.82v1.49h-12.82zM147.3 325.38h12.82v1.49h-12.82zM163.08 325.38h12.82v1.49h-12.82zM147.3 326.87h12.82v1.49h-12.82zM163.08 326.87h12.82v1.49h-12.82zM147.3 328.36h12.82v1.49h-12.82zM163.08 328.36h12.82v1.49h-12.82zM147.3 329.86h13.81v1.49h-13.81zM162.09 329.86h13.81v1.49h-13.81zM147.3 331.35h13.81v1.49h-13.81zM162.09 331.35h13.81v1.49h-13.81zM147.3 332.84h13.81v1.49h-13.81zM162.09 332.84h13.81v1.49h-13.81zM147.3 334.34h13.81v1.49h-13.81zM162.09 334.34h13.81v1.49h-13.81zM147.3 335.83h13.81v1.49h-13.81zM162.09 335.83h13.81v1.49h-13.81zM147.3 337.33h13.81v1.49h-13.81zM162.09 337.33h13.81v1.49h-13.81zM147.3 338.82h13.81v1.49h-13.81zM162.09 338.82h13.81v1.49h-13.81zM147.3 340.31h13.81v1.49h-13.81zM162.09 340.31h13.81v1.49h-13.81zM147.3 341.81h13.81v1.49h-13.81zM162.09 341.81h13.81v1.49h-13.81z" fill="#eef2ec" shape-rendering="crispEdges"/>
<path d="M154.2 274.59h0.99v1.49h-0.99zM168.01 274.59h0.99v1.49h-0.99zM154.2 276.09h0.99v1.49h-0.99zM168.01 276.09h0.99v1.49h-0.99zM154.2 277.58h0.99v1.49h-0.99zM168.01 277.58h0.99v1.49h-0.99zM155.19 279.07h0.99v1.49h-0.99zM167.02 279.07h0.99v1.49h-0.99zM155.19 280.57h0.99v1.49h-0.99zM167.02 280.57h0.99v1.49h-0.99zM156.18 283.56h0.99v1.49h-0.99zM166.04 283.56h0.99v1.49h-0.99zM156.18 285.05h0.99v1.49h-0.99zM166.04 285.05h0.99v1.49h-0.99zM156.18 286.54h0.99v1.49h-0.99zM166.04 286.54h0.99v1.49h-0.99zM157.16 289.53h0.99v1.49h-0.99zM165.05 289.53h0.99v1.49h-0.99zM157.16 291.02h0.99v1.49h-0.99zM165.05 291.02h0.99v1.49h-0.99zM158.15 297h0.99v1.49h-0.99zM164.07 297h0.99v1.49h-0.99zM158.15 298.49h0.99v1.49h-0.99zM164.07 298.49h0.99v1.49h-0.99zM159.13 305.96h0.99v1.49h-0.99zM163.08 305.96h0.99v1.49h-0.99zM159.13 307.45h0.99v1.49h-0.99zM163.08 307.45h0.99v1.49h-0.99zM159.13 308.95h0.99v1.49h-0.99zM163.08 308.95h0.99v1.49h-0.99zM160.12 323.88h0.99v1.49h-0.99zM162.09 323.88h0.99v1.49h-0.99zM160.12 325.38h0.99v1.49h-0.99zM162.09 325.38h0.99v1.49h-0.99zM160.12 326.87h0.99v1.49h-0.99zM162.09 326.87h0.99v1.49h-0.99zM160.12 328.36h0.99v1.49h-0.99zM162.09 328.36h0.99v1.49h-0.99z" fill="#e8f1e7" shape-rendering="crispEdges"/>
<path d="M155.19 276.09h0.99v1.49h-0.99zM167.02 276.09h0.99v1.49h-0.99zM155.19 277.58h0.99v1.49h-0.99zM167.02 277.58h0.99v1.49h-0.99zM156.18 280.57h0.99v1.49h-0.99zM166.04 280.57h0.99v1.49h-0.99zM156.18 282.06h0.99v1.49h-0.99zM166.04 282.06h0.99v1.49h-0.99zM157.16 286.54h0.99v1.49h-0.99zM165.05 286.54h0.99v1.49h-0.99zM157.16 288.04h0.99v1.49h-0.99zM165.05 288.04h0.99v1.49h-0.99zM158.15 294.01h0.99v1.49h-0.99zM164.07 294.01h0.99v1.49h-0.99zM158.15 295.5h0.99v1.49h-0.99zM164.07 295.5h0.99v1.49h-0.99zM159.13 302.97h0.99v1.49h-0.99zM163.08 302.97h0.99v1.49h-0.99zM159.13 304.47h0.99v1.49h-0.99zM163.08 304.47h0.99v1.49h-0.99zM160.12 319.4h0.99v1.49h-0.99zM162.09 319.4h0.99v1.49h-0.99zM160.12 320.9h0.99v1.49h-0.99zM162.09 320.9h0.99v1.49h-0.99zM160.12 322.39h0.99v1.49h-0.99zM162.09 322.39h0.99v1.49h-0.99z" fill="#daecdb" shape-rendering="crispEdges"/>
<path d="M155.19 274.59h0.99v1.49h-0.99zM167.02 274.59h0.99v1.49h-0.99zM156.18 277.58h0.99v1.49h-0.99zM166.04 277.58h0.99v1.49h-0.99zM156.18 279.07h0.99v1.49h-0.99zM166.04 279.07h0.99v1.49h-0.99zM157.16 283.56h0.99v1.49h-0.99zM165.05 283.56h0.99v1.49h-0.99zM157.16 285.05h0.99v1.49h-0.99zM165.05 285.05h0.99v1.49h-0.99zM158.15 291.02h0.99v1.49h-0.99zM164.07 291.02h0.99v1.49h-0.99zM158.15 292.52h0.99v1.49h-0.99zM164.07 292.52h0.99v1.49h-0.99zM159.13 299.99h0.99v1.49h-0.99zM163.08 299.99h0.99v1.49h-0.99zM159.13 301.48h0.99v1.49h-0.99zM163.08 301.48h0.99v1.49h-0.99zM160.12 314.92h0.99v1.49h-0.99zM162.09 314.92h0.99v1.49h-0.99zM160.12 316.41h0.99v1.49h-0.99zM162.09 316.41h0.99v1.49h-0.99zM160.12 317.91h0.99v1.49h-0.99zM162.09 317.91h0.99v1.49h-0.99zM161.11 335.83h0.99v1.49h-0.99zM161.11 337.33h0.99v1.49h-0.99zM161.11 338.82h0.99v1.49h-0.99zM161.11 340.31h0.99v1.49h-0.99zM161.11 341.81h0.99v1.49h-0.99z" fill="#cae7d0" shape-rendering="crispEdges"/>
<path d="M156.18 274.59h0.99v1.49h-0.99zM166.04 274.59h0.99v1.49h-0.99zM156.18 276.09h0.99v1.49h-0.99zM166.04 276.09h0.99v1.49h-0.99zM157.16 280.57h0.99v1.49h-0.99zM165.05 280.57h0.99v1.49h-0.99zM157.16 282.06h0.99v1.49h-0.99zM165.05 282.06h0.99v1.49h-0.99zM158.15 288.04h0.99v1.49h-0.99zM164.07 288.04h0.99v1.49h-0.99zM158.15 289.53h0.99v1.49h-0.99zM164.07 289.53h0.99v1.49h-0.99zM159.13 297h0.99v1.49h-0.99zM163.08 297h0.99v1.49h-0.99zM159.13 298.49h0.99v1.49h-0.99zM163.08 298.49h0.99v1.49h-0.99zM160.12 310.44h0.99v1.49h-0.99zM162.09 310.44h0.99v1.49h-0.99zM160.12 311.93h0.99v1.49h-0.99zM162.09 311.93h0.99v1.49h-0.99zM160.12 313.43h0.99v1.49h-0.99zM162.09 313.43h0.99v1.49h-0.99zM161.11 326.87h0.99v1.49h-0.99zM161.11 328.36h0.99v1.49h-0.99zM161.11 329.86h0.99v1.49h-0.99zM161.11 331.35h0.99v1.49h-0.99zM161.11 332.84h0.99v1.49h-0.99zM161.11 334.34h0.99v1.49h-0.99z" fill="#b4dfbe" shape-rendering="crispEdges"/>
<path d="M157.16 279.07h0.99v1.49h-0.99zM165.05 279.07h0.99v1.49h-0.99zM158.15 285.05h0.99v1.49h-0.99zM164.07 285.05h0.99v1.49h-0.99zM158.15 286.54h0.99v1.49h-0.99zM164.07 286.54h0.99v1.49h-0.99zM159.13 294.01h0.99v1.49h-0.99zM163.08 294.01h0.99v1.49h-0.99zM159.13 295.5h0.99v1.49h-0.99zM163.08 295.5h0.99v1.49h-0.99zM160.12 305.96h0.99v1.49h-0.99zM162.09 305.96h0.99v1.49h-0.99zM160.12 307.45h0.99v1.49h-0.99zM162.09 307.45h0.99v1.49h-0.99zM160.12 308.95h0.99v1.49h-0.99zM162.09 308.95h0.99v1.49h-0.99zM161.11 317.91h0.99v1.49h-0.99zM161.11 319.4h0.99v1.49h-0.99zM161.11 320.9h0.99v1.49h-0.99zM161.11 322.39h0.99v1.49h-0.99zM161.11 323.88h0.99v1.49h-0.99zM161.11 325.38h0.99v1.49h-0.99z" fill="#9ad5ab" shape-rendering="crispEdges"/>
<path d="M157.16 276.09h0.99v1.49h-0.99zM165.05 276.09h0.99v1.49h-0.99zM157.16 277.58h0.99v1.49h-0.99zM165.05 277.58h0.99v1.49h-0.99zM158.15 282.06h0.99v1.49h-0.99zM164.07 282.06h0.99v1.49h-0.99zM158.15 283.56h0.99v1.49h-0.99zM164.07 283.56h0.99v1.49h-0.99zM159.13 291.02h0.99v1.49h-0.99zM163.08 291.02h0.99v1.49h-0.99zM159.13 292.52h0.99v1.49h-0.99zM163.08 292.52h0.99v1.49h-0.99zM160.12 301.48h0.99v1.49h-0.99zM162.09 301.48h0.99v1.49h-0.99zM160.12 302.97h0.99v1.49h-0.99zM162.09 302.97h0.99v1.49h-0.99zM160.12 304.47h0.99v1.49h-0.99zM162.09 304.47h0.99v1.49h-0.99zM161.11 310.44h0.99v1.49h-0.99zM161.11 311.93h0.99v1.49h-0.99zM161.11 313.43h0.99v1.49h-0.99zM161.11 314.92h0.99v1.49h-0.99zM161.11 316.41h0.99v1.49h-0.99z" fill="#81cb98" shape-rendering="crispEdges"/>
<path d="M157.16 274.59h0.99v1.49h-0.99zM165.05 274.59h0.99v1.49h-0.99zM158.15 279.07h0.99v1.49h-0.99zM164.07 279.07h0.99v1.49h-0.99zM158.15 280.57h0.99v1.49h-0.99zM164.07 280.57h0.99v1.49h-0.99zM159.13 286.54h0.99v1.49h-0.99zM163.08 286.54h0.99v1.49h-0.99zM159.13 288.04h0.99v1.49h-0.99zM163.08 288.04h0.99v1.49h-0.99zM159.13 289.53h0.99v1.49h-0.99zM163.08 289.53h0.99v1.49h-0.99zM160.12 297h0.99v1.49h-0.99zM162.09 297h0.99v1.49h-0.99zM160.12 298.49h0.99v1.49h-0.99zM162.09 298.49h0.99v1.49h-0.99zM160.12 299.99h0.99v1.49h-0.99zM162.09 299.99h0.99v1.49h-0.99zM161.11 302.97h0.99v1.49h-0.99zM161.11 304.47h0.99v1.49h-0.99zM161.11 305.96h0.99v1.49h-0.99zM161.11 307.45h0.99v1.49h-0.99zM161.11 308.95h0.99v1.49h-0.99z" fill="#68c186" shape-rendering="crispEdges"/>
<path d="M158.15 276.09h0.99v1.49h-0.99zM164.07 276.09h0.99v1.49h-0.99zM158.15 277.58h0.99v1.49h-0.99zM164.07 277.58h0.99v1.49h-0.99zM159.13 283.56h0.99v1.49h-0.99zM163.08 283.56h0.99v1.49h-0.99zM159.13 285.05h0.99v1.49h-0.99zM163.08 285.05h0.99v1.49h-0.99zM160.12 291.02h0.99v1.49h-0.99zM162.09 291.02h0.99v1.49h-0.99zM160.12 292.52h0.99v1.49h-0.99zM162.09 292.52h0.99v1.49h-0.99zM160.12 294.01h2.96v1.49h-2.96zM160.12 295.5h2.96v1.49h-2.96zM161.11 297h0.99v1.49h-0.99zM161.11 298.49h0.99v1.49h-0.99zM161.11 299.99h0.99v1.49h-0.99zM161.11 301.48h0.99v1.49h-0.99z" fill="#50b676" shape-rendering="crispEdges"/>
<path d="M158.15 274.59h0.99v1.49h-0.99zM164.07 274.59h0.99v1.49h-0.99zM159.13 279.07h0.99v1.49h-0.99zM163.08 279.07h0.99v1.49h-0.99zM159.13 280.57h0.99v1.49h-0.99zM163.08 280.57h0.99v1.49h-0.99zM159.13 282.06h0.99v1.49h-0.99zM163.08 282.06h0.99v1.49h-0.99zM160.12 285.05h0.99v1.49h-0.99zM162.09 285.05h0.99v1.49h-0.99zM160.12 286.54h2.96v1.49h-2.96zM160.12 288.04h2.96v1.49h-2.96zM160.12 289.53h2.96v1.49h-2.96zM161.11 291.02h0.99v1.49h-0.99zM161.11 292.52h0.99v1.49h-0.99z" fill="#38ab65" shape-rendering="crispEdges"/>
<path d="M159.13 274.59h0.99v1.49h-0.99zM163.08 274.59h0.99v1.49h-0.99zM159.13 276.09h0.99v1.49h-0.99zM163.08 276.09h0.99v1.49h-0.99zM159.13 277.58h1.97v1.49h-1.97zM162.09 277.58h1.97v1.49h-1.97zM160.12 279.07h2.96v1.49h-2.96zM160.12 280.57h2.96v1.49h-2.96zM160.12 282.06h2.96v1.49h-2.96zM160.12 283.56h2.96v1.49h-2.96zM161.11 285.05h0.99v1.49h-0.99z" fill="#24a057" shape-rendering="crispEdges"/>
<path d="M147.3 273.1h28.6v1.49h-28.6zM160.12 274.59h2.96v1.49h-2.96zM160.12 276.09h2.96v1.49h-2.96zM161.11 277.58h0.99v1.49h-0.99z" fill="#1a954f" shape-rendering="crispEdges"/>
<rect x="147.5" y="273.5" width="28" height="70" fill="none" stroke="#2a2a2a" stroke-width="0.7"/>
<rect x="145.6" y="273.1" width="1.7" height="70.2" fill="#8a8a8a"/>
<line x1="116.6" y1="343.5" x2="175.9" y2="343.5" stroke="#1a1a1a" stroke-width="0.9"/>
<line x1="116.5" y1="343.3" x2="116.5" y2="345.5" stroke="#1a1a1a" stroke-width="0.75"/>
<line x1="145.5" y1="343.3" x2="145.5" y2="345.5" stroke="#1a1a1a" stroke-width="0.75"/>
<line x1="147.5" y1="343.3" x2="147.5" y2="345.5" stroke="#1a1a1a" stroke-width="0.75"/>
<line x1="175.5" y1="343.3" x2="175.5" y2="345.5" stroke="#1a1a1a" stroke-width="0.75"/>
<linearGradient id="ccb" x1="0" y1="1" x2="0" y2="0"><stop offset="0" stop-color="#f6f8f4"/><stop offset="0.3" stop-color="#cde7d0"/><stop offset="0.55" stop-color="#5fbb82"/><stop offset="0.8" stop-color="#138c47"/><stop offset="1" stop-color="#03532f"/></linearGradient>
<rect x="178.5" y="273.5" width="4" height="70" fill="url(#ccb)" stroke="#333" stroke-width="0.6"/>
<line x1="182.2" y1="343.5" x2="183.8" y2="343.5" stroke="#1a1a1a" stroke-width="0.75"/>
<text x="184.6" y="345.5" stroke="#1a1a1a" stroke-width="0.25" font-size="6.1">0.0</text>
<line x1="182.2" y1="329.5" x2="183.8" y2="329.5" stroke="#1a1a1a" stroke-width="0.75"/>
<text x="184.6" y="331.46" stroke="#1a1a1a" stroke-width="0.25" font-size="6.1">0.2</text>
<line x1="182.2" y1="315.5" x2="183.8" y2="315.5" stroke="#1a1a1a" stroke-width="0.75"/>
<text x="184.6" y="317.42" stroke="#1a1a1a" stroke-width="0.25" font-size="6.1">0.4</text>
<line x1="182.2" y1="301.5" x2="183.8" y2="301.5" stroke="#1a1a1a" stroke-width="0.75"/>
<text x="184.6" y="303.38" stroke="#1a1a1a" stroke-width="0.25" font-size="6.1">0.6</text>
<line x1="182.2" y1="287.5" x2="183.8" y2="287.5" stroke="#1a1a1a" stroke-width="0.75"/>
<text x="184.6" y="289.34" stroke="#1a1a1a" stroke-width="0.25" font-size="6.1">0.8</text>
<line x1="182.2" y1="273.5" x2="183.8" y2="273.5" stroke="#1a1a1a" stroke-width="0.75"/>
<text x="184.6" y="275.3" stroke="#1a1a1a" stroke-width="0.25" font-size="6.1">1.0</text>
<text x="118.2" y="266.3" stroke="#1a1a1a" stroke-width="0.25" text-anchor="middle" font-size="6.1">−3.0</text>
<text x="138.8" y="266.3" stroke="#1a1a1a" stroke-width="0.25" text-anchor="middle" font-size="6.1">3.0 Kb</text>
<text x="155.2" y="266.3" stroke="#1a1a1a" stroke-width="0.25" text-anchor="middle" font-size="6.1">−3.0</text>
<text x="179.5" y="266.3" stroke="#1a1a1a" stroke-width="0.25" text-anchor="middle" font-size="6.1">3.0 Kb</text>
<text x="118.2" y="352.1" stroke="#1a1a1a" stroke-width="0.25" text-anchor="middle" font-size="6.1">−3.0</text>
<text x="138.8" y="352.1" stroke="#1a1a1a" stroke-width="0.25" text-anchor="middle" font-size="6.1">3.0 Kb</text>
<text x="155.2" y="352.1" stroke="#1a1a1a" stroke-width="0.25" text-anchor="middle" font-size="6.1">−3.0</text>
<text x="179.5" y="352.1" stroke="#1a1a1a" stroke-width="0.25" text-anchor="middle" font-size="6.1">3.0 Kb</text>
<text x="132" y="185.6" stroke="#1a1a1a" stroke-width="0.25" text-anchor="middle" font-size="6.1">WT</text>
<text x="162.1" y="185.6" stroke="#1a1a1a" stroke-width="0.25" text-anchor="middle" font-size="6.1">KO#1</text>
<text x="113.5" y="224.5" stroke="#1a1a1a" stroke-width="0.25" text-anchor="middle" font-size="6.1" transform="rotate(-90 113.5 224.5)">68936  peaks</text>
<text x="113.5" y="309.7" stroke="#1a1a1a" stroke-width="0.25" text-anchor="middle" font-size="6.1" transform="rotate(-90 113.5 309.7)">31306  peaks</text>
<line x1="194.5" y1="195" x2="194.5" y2="255.4" stroke="#1a1a1a" stroke-width="0.6"/>
<text x="201.2" y="224.7" stroke="#1a1a1a" stroke-width="0.25" text-anchor="middle" font-size="6.1" transform="rotate(-90 201.2 224.7)">OCRs  no change</text>
<line x1="194.5" y1="278" x2="194.5" y2="337" stroke="#1a1a1a" stroke-width="0.6"/>
<text x="201.2" y="309.7" stroke="#1a1a1a" stroke-width="0.25" text-anchor="middle" font-size="6.1" transform="rotate(-90 201.2 309.7)">OCRs  reduction</text>
<text x="224.2" y="181.5" stroke="#000" stroke-width="0.12" font-size="13.2" fill="#000" font-weight="bold">D</text>
<text x="246.2" y="191" stroke="#1a1a1a" stroke-width="0.25" text-anchor="middle" font-size="6.7">ChIP-seq</text>
<text x="320" y="191" stroke="#1a1a1a" stroke-width="0.25" text-anchor="middle" font-size="6.8">RNA-seq</text>
<circle cx="268.1" cy="210.5" r="18.7" fill="#ef7a55" fill-opacity="0.75"/>
<circle cx="283.2" cy="232.6" r="20.3" fill="#3fae55" fill-opacity="0.65"/>
<circle cx="297.1" cy="212.2" r="20.6" fill="#5577c4" fill-opacity="0.5"/>
<text x="262.5" y="205" stroke="#4a1f12" stroke-width="0.25" text-anchor="middle" font-size="7" fill="#4a1f12">6521</text>
<text x="306.2" y="207.6" stroke="#1c2552" stroke-width="0.25" text-anchor="middle" font-size="7" fill="#1c2552">216</text>
<text x="284.5" y="211" stroke="#4b2f4f" stroke-width="0.25" text-anchor="middle" font-size="6.8" fill="#4b2f4f">106</text>
<text x="283.2" y="220.8" stroke="#123d27" stroke-width="0.25" text-anchor="middle" font-size="6.8" fill="#123d27">326</text>
<text x="272.5" y="227.9" stroke="#1d3f12" stroke-width="0.25" text-anchor="middle" font-size="6.8" fill="#1d3f12">1435</text>
<text x="294.5" y="227.9" stroke="#12344a" stroke-width="0.25" text-anchor="middle" font-size="6.8" fill="#12344a">200</text>
<text x="283.3" y="246.6" stroke="#173d17" stroke-width="0.25" text-anchor="middle" font-size="7" fill="#173d17">4028</text>
<text x="285" y="259.8" stroke="#1a1a1a" stroke-width="0.25" text-anchor="middle" font-size="6.8">ATAC-seq</text>
<line x1="286.5" y1="217.5" x2="332" y2="217.5" stroke="#dc2f4a" stroke-width="0.9"/>
<path d="M335.2,217 L330.6,214.6 L331.8,217 L330.6,219.4 Z" fill="#dc2f4a"/>
<line x1="337.5" y1="196.2" x2="337.5" y2="244.6" stroke="#d97d93" stroke-width="1.1"/>
<text x="341.2" y="203.3" stroke="#1a1a1a" stroke-width="0.25" font-size="5.9">PLK3</text>
<text x="341.2" y="211.65" stroke="#1a1a1a" stroke-width="0.25" font-size="5.9">CCNE1</text>
<text x="341.2" y="220" stroke="#1a1a1a" stroke-width="0.25" font-size="5.9">NQO1</text>
<text x="341.2" y="228.35" stroke="#1a1a1a" stroke-width="0.25" font-size="5.9">PGK1</text>
<text x="341.2" y="236.7" stroke="#1a1a1a" stroke-width="0.25" font-size="5.9">HMOX1</text>
<text x="341.2" y="245.05" stroke="#1a1a1a" stroke-width="0.25" font-size="5.9">e.g.</text>
<text x="338" y="256.3" stroke="#1a1a1a" stroke-width="0.25" text-anchor="middle" font-size="6.95">SATB2 signature</text>
<text x="391.9" y="181.9" stroke="#000" stroke-width="0.12" font-size="13.2" fill="#000" font-weight="bold">E</text>
<rect x="426.5" y="180.5" width="90" height="72" fill="none" stroke="#9a9a9a" stroke-width="0.7"/>
<line x1="424.2" y1="250.5" x2="426.6" y2="250.5" stroke="#777" stroke-width="0.6"/>
<text x="421.2" y="250.3" stroke="#1a1a1a" stroke-width="0.25" text-anchor="middle" font-size="5.9" transform="rotate(-90 421.2 250.3)">0.0</text>
<line x1="424.2" y1="237.5" x2="426.6" y2="237.5" stroke="#777" stroke-width="0.6"/>
<text x="421.2" y="237" stroke="#1a1a1a" stroke-width="0.25" text-anchor="middle" font-size="5.9" transform="rotate(-90 421.2 237)">0.2</text>
<line x1="424.2" y1="223.5" x2="426.6" y2="223.5" stroke="#777" stroke-width="0.6"/>
<text x="421.2" y="223.7" stroke="#1a1a1a" stroke-width="0.25" text-anchor="middle" font-size="5.9" transform="rotate(-90 421.2 223.7)">0.4</text>
<line x1="424.2" y1="210.5" x2="426.6" y2="210.5" stroke="#777" stroke-width="0.6"/>
<text x="421.2" y="210.4" stroke="#1a1a1a" stroke-width="0.25" text-anchor="middle" font-size="5.9" transform="rotate(-90 421.2 210.4)">0.6</text>
<line x1="424.2" y1="197.5" x2="426.6" y2="197.5" stroke="#777" stroke-width="0.6"/>
<text x="421.2" y="197.1" stroke="#1a1a1a" stroke-width="0.25" text-anchor="middle" font-size="5.9" transform="rotate(-90 421.2 197.1)">0.8</text>
<line x1="424.2" y1="183.5" x2="426.6" y2="183.5" stroke="#777" stroke-width="0.6"/>
<text x="421.2" y="183.8" stroke="#1a1a1a" stroke-width="0.25" text-anchor="middle" font-size="5.9" transform="rotate(-90 421.2 183.8)">1.0</text>
<line x1="428.8" y1="254.5" x2="513.3" y2="254.5" stroke="#1a1a1a" stroke-width="0.6"/>
<line x1="428.5" y1="252" x2="428.5" y2="254.5" stroke="#1a1a1a" stroke-width="0.6"/>
<text x="428.8" y="260.3" stroke="#1a1a1a" stroke-width="0.25" text-anchor="middle">0</text>
<line x1="445.5" y1="252" x2="445.5" y2="254.5" stroke="#1a1a1a" stroke-width="0.6"/>
<text x="445.7" y="260.3" stroke="#1a1a1a" stroke-width="0.25" text-anchor="middle">50</text>
<line x1="462.5" y1="252" x2="462.5" y2="254.5" stroke="#1a1a1a" stroke-width="0.6"/>
<text x="462.6" y="260.3" stroke="#1a1a1a" stroke-width="0.25" text-anchor="middle">100</text>
<line x1="479.5" y1="252" x2="479.5" y2="254.5" stroke="#1a1a1a" stroke-width="0.6"/>
<text x="479.5" y="260.3" stroke="#1a1a1a" stroke-width="0.25" text-anchor="middle">150</text>
<line x1="496.5" y1="252" x2="496.5" y2="254.5" stroke="#1a1a1a" stroke-width="0.6"/>
<text x="496.4" y="260.3" stroke="#1a1a1a" stroke-width="0.25" text-anchor="middle">200</text>
<line x1="513.5" y1="252" x2="513.5" y2="254.5" stroke="#1a1a1a" stroke-width="0.6"/>
<text x="513.3" y="260.3" stroke="#1a1a1a" stroke-width="0.25" text-anchor="middle">250</text>
<text x="473" y="266.8" stroke="#1a1a1a" stroke-width="0.25" text-anchor="middle" font-size="5.95">Time (months)</text>
<text x="411.3" y="215.6" stroke="#1a1a1a" stroke-width="0.25" text-anchor="middle" transform="rotate(-90 411.3 215.6)">OS probability</text>
<path d="M428.85,183.85 430.69,183.85 430.69,186.62 431.56,186.62 431.56,188.46 432.08,188.46 432.08,190.31 433.28,190.31 433.28,192.39 433.36,192.39 433.36,194.46 433.69,194.46 433.69,196.54 434.89,196.54 434.89,198.27 435.18,198.27 435.18,200 435.22,200 435.22,201.73 435.31,201.73 435.31,203.46 435.36,203.46 435.36,205.54 436.17,205.54 436.17,207.62 437.16,207.62 437.16,209.7 438.5,209.7 438.5,211.31 439.03,211.31 439.03,212.93 439.12,212.93 439.12,214.54 439.23,214.54 439.23,216.16 439.5,216.16 439.5,218.16 440.32,218.16 440.32,220.16 441.54,220.16 441.54,222.16 442.11,222.16 442.11,224.35 443.85,224.35 443.85,226.54 445.48,226.54 445.48,228.27 446.85,228.27 446.85,230 450.77,230 450.77,231.85 455.39,231.85 455.39,233 459.54,233 459.54,234.62 461.85,234.62 461.85,235.77 476.16,235.77 476.16,235.77 508.47,235.77 508.47,235.77 513.55,235.77 513.55,235.77" fill="none" stroke="#d8304c" stroke-width="0.95"/>
<path d="M428.85,183.85 430.46,183.85 430.46,185.23 432.77,185.23 432.77,188 435.08,188 435.08,190.77 437.46,190.77 437.46,192.62 438.08,192.62 438.08,194.46 440.17,194.46 440.17,196.54 440.62,196.54 440.62,198.62 441.96,198.62 441.96,200.81 443.39,200.81 443.39,203 443.99,203 443.99,204.96 445.7,204.96 445.7,206.93 445.7,206.93 445.7,208.62 447.07,208.62 447.07,210.31 447.77,210.31 447.77,212 448.53,212 448.53,213.85 449.39,213.85 449.39,215.7 451.7,215.7 451.7,218.47 455.39,218.47 455.39,219.39 458.62,219.39 458.62,221.7 461.39,221.7 461.39,224.23 464.62,224.23 464.62,227.24 467.85,227.24 467.85,229.77 471.54,229.77 471.54,230.47 485.39,230.47 485.39,230.47 485.39,230.47 485.39,232.08 485.39,232.08 485.39,233.7 485.39,233.7 485.39,235.31 485.39,235.31 485.39,236.93 506.62,236.93 506.62,236.93" fill="none" stroke="#111" stroke-width="1.1"/>
<line x1="445.5" y1="225.64" x2="445.5" y2="227.44" stroke="#d8304c" stroke-width="0.5"/>
<line x1="449.5" y1="229.1" x2="449.5" y2="230.9" stroke="#d8304c" stroke-width="0.5"/>
<line x1="433.5" y1="189.41" x2="433.5" y2="191.21" stroke="#d8304c" stroke-width="0.5"/>
<line x1="434.5" y1="195.64" x2="434.5" y2="197.44" stroke="#d8304c" stroke-width="0.5"/>
<line x1="431.5" y1="185.72" x2="431.5" y2="187.52" stroke="#d8304c" stroke-width="0.5"/>
<line x1="437.5" y1="208.8" x2="437.5" y2="210.6" stroke="#d8304c" stroke-width="0.5"/>
<line x1="452.5" y1="230.95" x2="452.5" y2="232.75" stroke="#d8304c" stroke-width="0.5"/>
<line x1="439.5" y1="217.26" x2="439.5" y2="219.06" stroke="#d8304c" stroke-width="0.5"/>
<line x1="451.5" y1="230.95" x2="451.5" y2="232.75" stroke="#d8304c" stroke-width="0.5"/>
<line x1="509.5" y1="234.87" x2="509.5" y2="236.67" stroke="#d8304c" stroke-width="0.5"/>
<line x1="440.5" y1="217.26" x2="440.5" y2="219.06" stroke="#d8304c" stroke-width="0.5"/>
<line x1="513.5" y1="234.87" x2="513.5" y2="236.67" stroke="#d8304c" stroke-width="0.5"/>
<line x1="511.5" y1="234.87" x2="511.5" y2="236.67" stroke="#d8304c" stroke-width="0.5"/>
<line x1="431.5" y1="185.72" x2="431.5" y2="187.52" stroke="#d8304c" stroke-width="0.5"/>
<line x1="431.5" y1="185.72" x2="431.5" y2="187.52" stroke="#d8304c" stroke-width="0.5"/>
<line x1="435.5" y1="204.64" x2="435.5" y2="206.44" stroke="#d8304c" stroke-width="0.5"/>
<line x1="435.5" y1="204.64" x2="435.5" y2="206.44" stroke="#d8304c" stroke-width="0.5"/>
<line x1="510.5" y1="234.87" x2="510.5" y2="236.67" stroke="#d8304c" stroke-width="0.5"/>
<line x1="436.5" y1="206.72" x2="436.5" y2="208.52" stroke="#d8304c" stroke-width="0.5"/>
<line x1="511.5" y1="234.87" x2="511.5" y2="236.67" stroke="#d8304c" stroke-width="0.5"/>
<line x1="445.5" y1="227.37" x2="445.5" y2="229.17" stroke="#d8304c" stroke-width="0.5"/>
<line x1="432.5" y1="189.41" x2="432.5" y2="191.21" stroke="#d8304c" stroke-width="0.5"/>
<line x1="437.5" y1="208.8" x2="437.5" y2="210.6" stroke="#d8304c" stroke-width="0.5"/>
<line x1="489.5" y1="234.87" x2="489.5" y2="236.67" stroke="#d8304c" stroke-width="0.5"/>
<line x1="444.5" y1="225.64" x2="444.5" y2="227.44" stroke="#d8304c" stroke-width="0.5"/>
<line x1="456.5" y1="232.1" x2="456.5" y2="233.9" stroke="#d8304c" stroke-width="0.5"/>
<line x1="440.5" y1="217.26" x2="440.5" y2="219.06" stroke="#d8304c" stroke-width="0.5"/>
<line x1="439.5" y1="217.26" x2="439.5" y2="219.06" stroke="#d8304c" stroke-width="0.5"/>
<line x1="443.5" y1="223.45" x2="443.5" y2="225.25" stroke="#d8304c" stroke-width="0.5"/>
<line x1="445.5" y1="225.64" x2="445.5" y2="227.44" stroke="#d8304c" stroke-width="0.5"/>
<line x1="443.5" y1="223.45" x2="443.5" y2="225.25" stroke="#d8304c" stroke-width="0.5"/>
<line x1="432.5" y1="189.41" x2="432.5" y2="191.21" stroke="#d8304c" stroke-width="0.5"/>
<line x1="451.5" y1="230.95" x2="451.5" y2="232.75" stroke="#d8304c" stroke-width="0.5"/>
<line x1="444.5" y1="225.64" x2="444.5" y2="227.44" stroke="#d8304c" stroke-width="0.5"/>
<line x1="460.5" y1="233.72" x2="460.5" y2="235.52" stroke="#d8304c" stroke-width="0.5"/>
<line x1="432.5" y1="189.41" x2="432.5" y2="191.21" stroke="#d8304c" stroke-width="0.5"/>
<line x1="512.5" y1="234.87" x2="512.5" y2="236.67" stroke="#d8304c" stroke-width="0.5"/>
<line x1="444.5" y1="225.64" x2="444.5" y2="227.44" stroke="#d8304c" stroke-width="0.5"/>
<line x1="446.5" y1="227.37" x2="446.5" y2="229.17" stroke="#d8304c" stroke-width="0.5"/>
<line x1="512.5" y1="234.87" x2="512.5" y2="236.67" stroke="#d8304c" stroke-width="0.5"/>
<line x1="444.5" y1="204.06" x2="444.5" y2="205.86" stroke="#111" stroke-width="0.5"/>
<line x1="455.5" y1="218.49" x2="455.5" y2="220.29" stroke="#111" stroke-width="0.5"/>
<line x1="430.5" y1="184.33" x2="430.5" y2="186.13" stroke="#111" stroke-width="0.5"/>
<line x1="445.5" y1="204.06" x2="445.5" y2="205.86" stroke="#111" stroke-width="0.5"/>
<line x1="468.5" y1="228.87" x2="468.5" y2="230.67" stroke="#111" stroke-width="0.5"/>
<line x1="429.5" y1="182.95" x2="429.5" y2="184.75" stroke="#111" stroke-width="0.5"/>
<line x1="462.5" y1="223.33" x2="462.5" y2="225.13" stroke="#111" stroke-width="0.5"/>
<line x1="489.5" y1="236.03" x2="489.5" y2="237.83" stroke="#111" stroke-width="0.5"/>
<line x1="455.5" y1="218.49" x2="455.5" y2="220.29" stroke="#111" stroke-width="0.5"/>
<line x1="445.5" y1="204.06" x2="445.5" y2="205.86" stroke="#111" stroke-width="0.5"/>
<line x1="446.5" y1="207.72" x2="446.5" y2="209.52" stroke="#111" stroke-width="0.5"/>
<line x1="467.5" y1="226.34" x2="467.5" y2="228.14" stroke="#111" stroke-width="0.5"/>
<line x1="457.5" y1="218.49" x2="457.5" y2="220.29" stroke="#111" stroke-width="0.5"/>
<line x1="445.5" y1="207.72" x2="445.5" y2="209.52" stroke="#111" stroke-width="0.5"/>
<line x1="433.5" y1="187.1" x2="433.5" y2="188.9" stroke="#111" stroke-width="0.5"/>
<line x1="455.5" y1="218.49" x2="455.5" y2="220.29" stroke="#111" stroke-width="0.5"/>
<line x1="431.5" y1="184.33" x2="431.5" y2="186.13" stroke="#111" stroke-width="0.5"/>
<line x1="433.5" y1="187.1" x2="433.5" y2="188.9" stroke="#111" stroke-width="0.5"/>
<line x1="471.5" y1="228.87" x2="471.5" y2="230.67" stroke="#111" stroke-width="0.5"/>
<line x1="502.5" y1="236.03" x2="502.5" y2="237.83" stroke="#111" stroke-width="0.5"/>
<line x1="434.5" y1="187.1" x2="434.5" y2="188.9" stroke="#111" stroke-width="0.5"/>
<line x1="431.5" y1="184.33" x2="431.5" y2="186.13" stroke="#111" stroke-width="0.5"/>
<line x1="442.5" y1="199.91" x2="442.5" y2="201.71" stroke="#111" stroke-width="0.5"/>
<line x1="495.5" y1="236.03" x2="495.5" y2="237.83" stroke="#111" stroke-width="0.5"/>
<line x1="504.5" y1="236.03" x2="504.5" y2="237.83" stroke="#111" stroke-width="0.5"/>
<line x1="449.5" y1="212.95" x2="449.5" y2="214.75" stroke="#111" stroke-width="0.5"/>
<line x1="458.5" y1="220.8" x2="458.5" y2="222.6" stroke="#111" stroke-width="0.5"/>
<line x1="436.5" y1="189.87" x2="436.5" y2="191.67" stroke="#111" stroke-width="0.5"/>
<line x1="451.5" y1="214.8" x2="451.5" y2="216.6" stroke="#111" stroke-width="0.5"/>
<line x1="466.5" y1="226.34" x2="466.5" y2="228.14" stroke="#111" stroke-width="0.5"/>
<text x="512.5" y="188" stroke="#1a1a1a" stroke-width="0.25" text-anchor="end" font-size="5.85">HR = 2 (1.5 − 2.68)</text>
<text x="512.5" y="195" stroke="#1a1a1a" stroke-width="0.25" text-anchor="end" font-size="5.85">logrank <tspan font-style="italic">P</tspan> = 1.8e−06</text>
<text x="511.8" y="208.4" stroke="#1a1a1a" stroke-width="0.25" text-anchor="end" font-size="5.85">TCGA-KIRC</text>
<line x1="478.3" y1="213.5" x2="486" y2="213.5" stroke="#111" stroke-width="0.9"/>
<text x="512" y="215.6" stroke="#1a1a1a" stroke-width="0.25" text-anchor="end">Cluster 1</text>
<line x1="478.3" y1="221.5" x2="486" y2="221.5" stroke="#d8304c" stroke-width="0.9"/>
<text x="512" y="223.3" stroke="#1a1a1a" stroke-width="0.25" text-anchor="end">Cluster 2</text>
<text x="223" y="269.6" stroke="#000" stroke-width="0.12" font-size="13.2" fill="#000" font-weight="bold">F</text>
<line x1="262.5" y1="275" x2="262.5" y2="342.8" stroke="#1a1a1a" stroke-width="0.75"/>
<line x1="262.5" y1="342.5" x2="349.8" y2="342.5" stroke="#1a1a1a" stroke-width="0.75"/>
<line x1="260" y1="275.5" x2="262.5" y2="275.5" stroke="#1a1a1a" stroke-width="0.75"/>
<text x="259.6" y="277.5" stroke="#1a1a1a" stroke-width="0.25" text-anchor="end" font-size="5.7">30,000</text>
<line x1="260" y1="297.5" x2="262.5" y2="297.5" stroke="#1a1a1a" stroke-width="0.75"/>
<text x="259.6" y="299.83" stroke="#1a1a1a" stroke-width="0.25" text-anchor="end" font-size="5.7">20,000</text>
<line x1="260" y1="320.5" x2="262.5" y2="320.5" stroke="#1a1a1a" stroke-width="0.75"/>
<text x="259.6" y="322.17" stroke="#1a1a1a" stroke-width="0.25" text-anchor="end" font-size="5.7">10,000</text>
<line x1="260" y1="342.5" x2="262.5" y2="342.5" stroke="#1a1a1a" stroke-width="0.75"/>
<text x="259.6" y="344.5" stroke="#1a1a1a" stroke-width="0.25" text-anchor="end" font-size="5.7">0</text>
<line x1="274.5" y1="342.8" x2="274.5" y2="345" stroke="#1a1a1a" stroke-width="0.75"/>
<text x="274.94" y="351.3" stroke="#1a1a1a" stroke-width="0.25" text-anchor="middle" font-size="5.7">80</text>
<line x1="287.5" y1="342.8" x2="287.5" y2="345" stroke="#1a1a1a" stroke-width="0.75"/>
<text x="287.38" y="351.3" stroke="#1a1a1a" stroke-width="0.25" text-anchor="middle" font-size="5.7">160</text>
<line x1="299.5" y1="342.8" x2="299.5" y2="345" stroke="#1a1a1a" stroke-width="0.75"/>
<text x="299.82" y="351.3" stroke="#1a1a1a" stroke-width="0.25" text-anchor="middle" font-size="5.7">240</text>
<line x1="312.5" y1="342.8" x2="312.5" y2="345" stroke="#1a1a1a" stroke-width="0.75"/>
<text x="312.26" y="351.3" stroke="#1a1a1a" stroke-width="0.25" text-anchor="middle" font-size="5.7">320</text>
<line x1="324.5" y1="342.8" x2="324.5" y2="345" stroke="#1a1a1a" stroke-width="0.75"/>
<text x="324.7" y="351.3" stroke="#1a1a1a" stroke-width="0.25" text-anchor="middle" font-size="5.7">400</text>
<line x1="337.5" y1="342.8" x2="337.5" y2="345" stroke="#1a1a1a" stroke-width="0.75"/>
<text x="337.14" y="351.3" stroke="#1a1a1a" stroke-width="0.25" text-anchor="middle" font-size="5.7">480</text>
<line x1="349.5" y1="342.8" x2="349.5" y2="345" stroke="#1a1a1a" stroke-width="0.75"/>
<text x="349.58" y="351.3" stroke="#1a1a1a" stroke-width="0.25" text-anchor="middle" font-size="5.7">560</text>
<line x1="264.5" y1="342.8" x2="264.5" y2="344" stroke="#1a1a1a" stroke-width="0.5"/>
<line x1="267.5" y1="342.8" x2="267.5" y2="344" stroke="#1a1a1a" stroke-width="0.5"/>
<line x1="270.5" y1="342.8" x2="270.5" y2="344" stroke="#1a1a1a" stroke-width="0.5"/>
<line x1="273.5" y1="342.8" x2="273.5" y2="344" stroke="#1a1a1a" stroke-width="0.5"/>
<line x1="276.5" y1="342.8" x2="276.5" y2="344" stroke="#1a1a1a" stroke-width="0.5"/>
<line x1="279.5" y1="342.8" x2="279.5" y2="344" stroke="#1a1a1a" stroke-width="0.5"/>
<line x1="282.5" y1="342.8" x2="282.5" y2="344" stroke="#1a1a1a" stroke-width="0.5"/>
<line x1="285.5" y1="342.8" x2="285.5" y2="344" stroke="#1a1a1a" stroke-width="0.5"/>
<line x1="288.5" y1="342.8" x2="288.5" y2="344" stroke="#1a1a1a" stroke-width="0.5"/>
<line x1="292.5" y1="342.8" x2="292.5" y2="344" stroke="#1a1a1a" stroke-width="0.5"/>
<line x1="295.5" y1="342.8" x2="295.5" y2="344" stroke="#1a1a1a" stroke-width="0.5"/>
<line x1="298.5" y1="342.8" x2="298.5" y2="344" stroke="#1a1a1a" stroke-width="0.5"/>
<line x1="301.5" y1="342.8" x2="301.5" y2="344" stroke="#1a1a1a" stroke-width="0.5"/>
<line x1="304.5" y1="342.8" x2="304.5" y2="344" stroke="#1a1a1a" stroke-width="0.5"/>
<line x1="307.5" y1="342.8" x2="307.5" y2="344" stroke="#1a1a1a" stroke-width="0.5"/>
<line x1="310.5" y1="342.8" x2="310.5" y2="344" stroke="#1a1a1a" stroke-width="0.5"/>
<line x1="313.5" y1="342.8" x2="313.5" y2="344" stroke="#1a1a1a" stroke-width="0.5"/>
<line x1="316.5" y1="342.8" x2="316.5" y2="344" stroke="#1a1a1a" stroke-width="0.5"/>
<line x1="320.5" y1="342.8" x2="320.5" y2="344" stroke="#1a1a1a" stroke-width="0.5"/>
<line x1="323.5" y1="342.8" x2="323.5" y2="344" stroke="#1a1a1a" stroke-width="0.5"/>
<line x1="326.5" y1="342.8" x2="326.5" y2="344" stroke="#1a1a1a" stroke-width="0.5"/>
<line x1="329.5" y1="342.8" x2="329.5" y2="344" stroke="#1a1a1a" stroke-width="0.5"/>
<line x1="332.5" y1="342.8" x2="332.5" y2="344" stroke="#1a1a1a" stroke-width="0.5"/>
<line x1="335.5" y1="342.8" x2="335.5" y2="344" stroke="#1a1a1a" stroke-width="0.5"/>
<line x1="338.5" y1="342.8" x2="338.5" y2="344" stroke="#1a1a1a" stroke-width="0.5"/>
<line x1="341.5" y1="342.8" x2="341.5" y2="344" stroke="#1a1a1a" stroke-width="0.5"/>
<line x1="344.5" y1="342.8" x2="344.5" y2="344" stroke="#1a1a1a" stroke-width="0.5"/>
<line x1="348.5" y1="342.8" x2="348.5" y2="344" stroke="#1a1a1a" stroke-width="0.5"/>
<text x="232.8" y="309" stroke="#1a1a1a" stroke-width="0.25" text-anchor="middle" font-size="5.95" transform="rotate(-90 232.8 309)">YAP expression (TPM)</text>
<text x="311.3" y="359.5" stroke="#1a1a1a" stroke-width="0.25" text-anchor="middle" font-size="5.8">Patients</text>
<line x1="262.5" y1="311.5" x2="353.8" y2="311.5" stroke="#e07a86" stroke-width="0.7" stroke-dasharray="1.3,1.6"/>
<text x="265.8" y="317.2" stroke="#1a1a1a" stroke-width="0.25" font-size="4.8">13626</text>
<path d="M262.7,342.5 263.4,340.5 264.2,339.2 265.5,338.4 268.75,337.4 275,336.2 285,333.9 295,331.4 305,329 315,326.3 325,322.8 332.5,318.9 338,314.5 340.5,309.5 341.8,303 342.5,296 343,290 343.3,285.5" fill="none" stroke="#000" stroke-width="1.8" stroke-linejoin="round"/>
<text x="267.6" y="279.5" stroke="#1a1a1a" stroke-width="0.25" font-size="5.9">TCGA-KIRC</text>
<text x="267.6" y="286.6" stroke="#1a1a1a" stroke-width="0.25" font-size="5.9">RNA-seq</text>
<text x="267.6" y="293.8" stroke="#1a1a1a" stroke-width="0.25" font-size="5.9"><tspan font-style="italic">N</tspan> = 530</text>
<text x="267.6" y="306.9" stroke="#1a1a1a" stroke-width="0.25" font-size="6.4">SATB2</text>
<text x="287.5" y="301.5" stroke="#1a1a1a" stroke-width="0.25" font-size="5.45">high</text>
<text x="298.5" y="307.7" stroke="#1a1a1a" stroke-width="0.25" font-size="5.9">(&gt; μ+ 1SD)</text>
<text x="390.8" y="271.9" stroke="#000" stroke-width="0.12" font-size="13.2" fill="#000" font-weight="bold">G</text>
<line x1="421.5" y1="275" x2="421.5" y2="348" stroke="#1a1a1a" stroke-width="0.75"/>
<line x1="421" y1="348.5" x2="517.6" y2="348.5" stroke="#1a1a1a" stroke-width="0.75"/>
<line x1="417.6" y1="275.5" x2="421" y2="275.5" stroke="#1a1a1a" stroke-width="0.75"/>
<text x="416.6" y="277.8" stroke="#1a1a1a" stroke-width="0.25" text-anchor="end" font-size="6.6">10</text>
<line x1="417.6" y1="290.5" x2="421" y2="290.5" stroke="#1a1a1a" stroke-width="0.75"/>
<text x="416.6" y="292.45" stroke="#1a1a1a" stroke-width="0.25" text-anchor="end" font-size="6.6">5</text>
<line x1="417.6" y1="304.5" x2="421" y2="304.5" stroke="#1a1a1a" stroke-width="0.75"/>
<text x="416.6" y="307.1" stroke="#1a1a1a" stroke-width="0.25" text-anchor="end" font-size="6.6">0</text>
<line x1="417.6" y1="319.5" x2="421" y2="319.5" stroke="#1a1a1a" stroke-width="0.75"/>
<text x="416.6" y="321.75" stroke="#1a1a1a" stroke-width="0.25" text-anchor="end" font-size="6.6">−5</text>
<line x1="417.6" y1="334.5" x2="421" y2="334.5" stroke="#1a1a1a" stroke-width="0.75"/>
<text x="416.6" y="336.4" stroke="#1a1a1a" stroke-width="0.25" text-anchor="end" font-size="6.6">−10</text>
<line x1="417.6" y1="348.5" x2="421" y2="348.5" stroke="#1a1a1a" stroke-width="0.75"/>
<text x="416.6" y="351.05" stroke="#1a1a1a" stroke-width="0.25" text-anchor="end" font-size="6.6">−15</text>
<text x="400.2" y="305" stroke="#1a1a1a" stroke-width="0.25" text-anchor="middle" font-size="7" transform="rotate(-90 400.2 305)">t-score</text>
<text x="427.6" y="277.2" stroke="#1a1a1a" stroke-width="0.25" font-size="5.9">TCGA</text>
<path d="M442.5,283.41 441.5,284.88 439.9,288.1 437.9,293.08 436.5,297.77 435.7,301.87 435.4,307.73 435.9,313.59 437.3,317.99 439.3,321.79 441.5,325.31 442.1,327.36 441.7,329.71 441.8,331.76 442.6,334.1 443.6,334.1 444.4,331.76 444.5,329.71 444.1,327.36 444.7,325.31 446.9,321.79 448.9,317.99 450.3,313.59 450.8,307.73 450.5,301.87 449.7,297.77 448.3,293.08 446.3,288.1 444.7,284.88 443.7,283.41Z" fill="#fff" stroke="#4b4bab" stroke-width="1" stroke-linejoin="round"/>
<line x1="436.59" y1="300.5" x2="449.61" y2="300.5" stroke="#4b4bab" stroke-width="0.75"/>
<line x1="436.08" y1="308.5" x2="450.12" y2="308.5" stroke="#4b4bab" stroke-width="0.9" stroke-dasharray="1.6,0.9"/>
<line x1="437.34" y1="316.5" x2="448.86" y2="316.5" stroke="#4b4bab" stroke-width="0.75" stroke-dasharray="0.7,0.7"/>
<path d="M466.6,278.72 465.9,281.36 464.5,287.22 462.7,293.08 460.9,298.94 459.3,304.8 459.7,307.73 460.5,310.66 462.7,316.52 464.5,322.38 465.7,326.78 466.1,329.71 466.7,333.22 467.5,333.22 468.1,329.71 468.5,326.78 469.7,322.38 471.5,316.52 473.7,310.66 474.5,307.73 474.9,304.8 473.3,298.94 471.5,293.08 469.7,287.22 468.3,281.36 467.6,278.72Z" fill="#fff" stroke="#111" stroke-width="1" stroke-linejoin="round"/>
<line x1="461.5" y1="298.5" x2="472.7" y2="298.5" stroke="#111" stroke-width="0.9" stroke-dasharray="1.6,0.9"/>
<line x1="460.02" y1="305.5" x2="474.18" y2="305.5" stroke="#111" stroke-width="0.9" stroke-dasharray="1.6,0.9"/>
<line x1="461.1" y1="310.5" x2="473.1" y2="310.5" stroke="#111" stroke-width="0.75" stroke-dasharray="0.7,0.7"/>
<path d="M493,277.84 491.4,279.89 491.4,284.29 491,288.69 488.8,292.2 488,295.13 487.4,298.94 485.6,302.46 485.2,305.97 487,309.19 490,313.59 491.6,317.99 492,322.38 493.1,326.78 494.1,326.78 495.2,322.38 495.6,317.99 497.2,313.59 500.2,309.19 502,305.97 501.6,302.46 499.8,298.94 499.2,295.13 498.4,292.2 496.2,288.69 495.8,284.29 495.8,279.89 494.2,277.84Z" fill="#fff" stroke="#e0303e" stroke-width="1" stroke-linejoin="round"/>
<line x1="488.92" y1="293.5" x2="498.28" y2="293.5" stroke="#e0303e" stroke-width="0.75"/>
<line x1="486.03" y1="303.5" x2="501.17" y2="303.5" stroke="#e0303e" stroke-width="0.9" stroke-dasharray="1.6,0.9"/>
<line x1="486.78" y1="307.5" x2="500.42" y2="307.5" stroke="#e0303e" stroke-width="0.75" stroke-dasharray="0.7,0.7"/>
<text x="493.6" y="274.8" stroke="#1a1a1a" stroke-width="0.25" text-anchor="middle" font-size="6.2">**</text>
<line x1="444.5" y1="348" x2="444.5" y2="350.3" stroke="#1a1a1a" stroke-width="0.75"/>
<text x="444.3" y="356.6" stroke="#1a1a1a" stroke-width="0.25" text-anchor="middle" font-size="6.4">Low</text>
<text x="444.3" y="363" stroke="#1a1a1a" stroke-width="0.25" text-anchor="middle" font-size="5.8">(<tspan font-style="italic">n</tspan> = 108)</text>
<line x1="468.5" y1="348" x2="468.5" y2="350.3" stroke="#1a1a1a" stroke-width="0.75"/>
<text x="468.3" y="356.6" stroke="#1a1a1a" stroke-width="0.25" text-anchor="middle" font-size="6.4">Median</text>
<text x="468.3" y="363" stroke="#1a1a1a" stroke-width="0.25" text-anchor="middle" font-size="5.8">(<tspan font-style="italic">n</tspan> = 288)</text>
<line x1="494.5" y1="348" x2="494.5" y2="350.3" stroke="#1a1a1a" stroke-width="0.75"/>
<text x="494" y="356.6" stroke="#1a1a1a" stroke-width="0.25" text-anchor="middle" font-size="6.4">High</text>
<text x="494" y="363" stroke="#1a1a1a" stroke-width="0.25" text-anchor="middle" font-size="5.8">(<tspan font-style="italic">n</tspan> = 134)</text>
<text x="0.4" y="386.2" stroke="#000" stroke-width="0.12" font-size="13.2" fill="#000" font-weight="bold">H</text>
<text x="30.3" y="387.3" stroke="#1a1a1a" stroke-width="0.25" font-size="5.9">Chr22:35,381,096-35,394,207</text>
<text x="28" y="396.6" stroke="#1a1a1a" stroke-width="0.25" text-anchor="end" font-size="6.1">Chr22</text>
<linearGradient id="zg30" x1="0" y1="0" x2="0" y2="1"><stop offset="0" stop-color="#c8c8c8"/><stop offset="1" stop-color="#ececec"/></linearGradient>
<path d="M112.3,398.2 115.3,398.2 148.8,412.3 38.3,412.3Z" fill="url(#zg30)"/>
<rect x="30.3" y="393.2" width="117.7" height="3.6" rx="1.8" fill="#fff" stroke="#555" stroke-width="0.5"/>
<rect x="39.8" y="393.4" width="13" height="3.2" fill="#6d8cad"/>
<rect x="61.4" y="393.4" width="4.6" height="3.2" fill="#b8404a"/>
<rect x="66" y="393.4" width="5" height="3.2" fill="#cf7a80"/>
<rect x="74" y="393.4" width="2" height="3.2" fill="#444"/>
<rect x="79" y="393.4" width="2" height="3.2" fill="#555"/>
<rect x="84" y="393.4" width="2" height="3.2" fill="#555"/>
<line x1="32.5" y1="393.4" x2="32.5" y2="396.6" stroke="#777" stroke-width="0.35"/>
<line x1="38.5" y1="393.4" x2="38.5" y2="396.6" stroke="#777" stroke-width="0.35"/>
<line x1="45.5" y1="393.4" x2="45.5" y2="396.6" stroke="#777" stroke-width="0.35"/>
<line x1="51.5" y1="393.4" x2="51.5" y2="396.6" stroke="#777" stroke-width="0.35"/>
<line x1="58.5" y1="393.4" x2="58.5" y2="396.6" stroke="#777" stroke-width="0.35"/>
<line x1="64.5" y1="393.4" x2="64.5" y2="396.6" stroke="#777" stroke-width="0.35"/>
<line x1="71.5" y1="393.4" x2="71.5" y2="396.6" stroke="#777" stroke-width="0.35"/>
<line x1="77.5" y1="393.4" x2="77.5" y2="396.6" stroke="#777" stroke-width="0.35"/>
<line x1="84.5" y1="393.4" x2="84.5" y2="396.6" stroke="#777" stroke-width="0.35"/>
<line x1="90.5" y1="393.4" x2="90.5" y2="396.6" stroke="#777" stroke-width="0.35"/>
<line x1="97.5" y1="393.4" x2="97.5" y2="396.6" stroke="#777" stroke-width="0.35"/>
<line x1="103.5" y1="393.4" x2="103.5" y2="396.6" stroke="#777" stroke-width="0.35"/>
<line x1="110.5" y1="393.4" x2="110.5" y2="396.6" stroke="#777" stroke-width="0.35"/>
<line x1="116.5" y1="393.4" x2="116.5" y2="396.6" stroke="#777" stroke-width="0.35"/>
<line x1="123.5" y1="393.4" x2="123.5" y2="396.6" stroke="#777" stroke-width="0.35"/>
<line x1="129.5" y1="393.4" x2="129.5" y2="396.6" stroke="#777" stroke-width="0.35"/>
<line x1="136.5" y1="393.4" x2="136.5" y2="396.6" stroke="#777" stroke-width="0.35"/>
<line x1="142.5" y1="393.4" x2="142.5" y2="396.6" stroke="#777" stroke-width="0.35"/>
<rect x="30.3" y="393.2" width="117.7" height="3.6" rx="1.8" fill="none" stroke="#444" stroke-width="0.55"/>
<line x1="31.5" y1="397.2" x2="31.5" y2="398.4" stroke="#666" stroke-width="0.35"/>
<text x="31.3" y="401.6" text-anchor="middle" font-size="3.2" fill="#555">0</text>
<line x1="44.5" y1="397.2" x2="44.5" y2="398.4" stroke="#666" stroke-width="0.35"/>
<text x="44.99" y="401.6" text-anchor="middle" font-size="3.2" fill="#555">10</text>
<line x1="58.5" y1="397.2" x2="58.5" y2="398.4" stroke="#666" stroke-width="0.35"/>
<text x="58.67" y="401.6" text-anchor="middle" font-size="3.2" fill="#555">20</text>
<line x1="72.5" y1="397.2" x2="72.5" y2="398.4" stroke="#666" stroke-width="0.35"/>
<text x="72.36" y="401.6" text-anchor="middle" font-size="3.2" fill="#555">30</text>
<line x1="86.5" y1="397.2" x2="86.5" y2="398.4" stroke="#666" stroke-width="0.35"/>
<text x="86.04" y="401.6" text-anchor="middle" font-size="3.2" fill="#555">40</text>
<line x1="99.5" y1="397.2" x2="99.5" y2="398.4" stroke="#666" stroke-width="0.35"/>
<text x="99.73" y="401.6" text-anchor="middle" font-size="3.2" fill="#555">50</text>
<line x1="113.5" y1="397.2" x2="113.5" y2="398.4" stroke="#666" stroke-width="0.35"/>
<text x="113.42" y="401.6" text-anchor="middle" font-size="3.2" fill="#555">60</text>
<line x1="127.5" y1="397.2" x2="127.5" y2="398.4" stroke="#666" stroke-width="0.35"/>
<text x="127.1" y="401.6" text-anchor="middle" font-size="3.2" fill="#555">70</text>
<line x1="140.5" y1="397.2" x2="140.5" y2="398.4" stroke="#666" stroke-width="0.35"/>
<text x="140.79" y="401.6" text-anchor="middle" font-size="3.2" fill="#555">80</text>
<line x1="113.5" y1="388.5" x2="113.5" y2="399" stroke="#d8303c" stroke-width="0.9"/>
<rect x="38.3" y="412.3" width="110.5" height="114.7" fill="#fff"/>
<rect x="88.1" y="412.3" width="4.5" height="114.7" fill="#b3d2ee"/>
<rect x="101.9" y="412.3" width="6.1" height="15.2" fill="#fde3c4"/>
<path d="M38.8,427.2 38.8,426.68 39.3,426.54 39.8,425.83 40.3,424.39 40.8,424.94 41.3,426.13 41.8,426.37 42.3,425.78 42.8,426.37 43.3,426.4 43.8,426.3 44.3,426.23 44.8,426.2 45.3,426.77 45.8,426.52 46.3,426.47 46.8,427.09 47.3,427.1 47.8,426.67 48.3,426.11 48.8,425.57 49.3,425.93 49.8,424.89 50.3,425.93 50.8,426.13 51.3,425.86 51.8,425.96 52.3,426.38 52.8,426.44 53.3,426.31 53.8,426.5 54.3,426.55 54.8,426.37 55.3,425.58 55.8,426.24 56.3,425.69 56.8,426.24 57.3,426.95 57.8,426.19 58.3,425.1 58.8,426.19 59.3,427.09 59.8,426.75 60.3,426.17 60.8,426.19 61.3,425.77 61.8,426.19 62.3,426.14 62.8,426.54 63.3,426.71 63.8,426.79 64.3,426.98 64.8,426.35 65.3,425.95 65.8,426.53 66.3,426.48 66.8,426.41 67.3,425.68 67.8,424.77 68.3,425.68 68.8,426.36 69.3,426.26 69.8,426.55 70.3,426.47 70.8,426.8 71.3,426.83 71.8,426.72 72.3,427.14 72.8,426.6 73.3,426.23 73.8,425.24 74.3,424.72 74.8,425.24 75.3,426.23 75.8,425.78 76.3,425.23 76.8,425.78 77.3,425.87 77.8,425.3 78.3,425.87 78.8,425.53 79.3,425.89 79.8,426.56 80.3,427.01 80.8,426.9 81.3,425.97 81.8,425.01 82.3,425.08 82.8,426.3 83.3,426.71 83.8,426.13 84.3,424.51 84.8,424.79 85.3,426.4 85.8,426.62 86.3,426.84 86.8,426.14 87.3,424.35 87.8,422.8 88.3,423.97 88.8,422.21 89.3,419.44 89.8,422.75 90.3,418.71 90.8,417.56 91.3,423.17 91.8,421.24 92.3,420.95 92.8,425.16 93.3,422.71 93.8,423.4 94.3,425.62 94.8,425.9 95.3,424.12 95.8,424.38 96.3,426.14 96.8,425.8 97.3,424.78 97.8,424.75 98.3,426.48 98.8,426.49 99.3,425.91 99.8,426.49 100.3,426.15 100.8,426.93 101.3,427.06 101.8,426.55 102.3,426.32 102.8,425.86 103.3,424.16 103.8,423.88 104.3,425.81 104.8,422.1 105.3,421.22 105.8,424.01 106.3,425.48 106.8,423.58 107.3,425.61 107.8,426.96 108.3,426.48 108.8,426.15 109.3,426.48 109.8,426.35 110.3,426.4 110.8,426.97 111.3,426.6 111.8,426.88 112.3,426.53 112.8,427.11 113.3,426.16 113.8,427.2 114.3,426.68 114.8,426.97 115.3,426.43 115.8,427.14 116.3,426.29 116.8,427.2 117.3,426.52 117.8,426.56 118.3,426.81 118.8,426.59 119.3,425.96 119.8,425.63 120.3,425.96 120.8,426.59 121.3,426.36 121.8,426.38 122.3,426.66 122.8,426.22 123.3,426.66 123.8,425.63 124.3,424.6 124.8,425.63 125.3,425.82 125.8,426.22 126.3,426.33 126.8,426.72 127.3,427.09 127.8,426.86 128.3,426.4 128.8,426.13 129.3,426.34 129.8,426.86 130.3,427.12 130.8,426.71 131.3,425.49 131.8,424.61 132.3,425.49 132.8,426.71 133.3,426.5 133.8,426.53 134.3,426.7 134.8,426.17 135.3,426.54 135.8,426.15 136.3,426.54 136.8,427.04 137.3,426.2 137.8,426.47 138.3,425.69 138.8,425.27 139.3,425.37 139.8,425.91 140.3,426.36 140.8,426.21 141.3,425.28 141.8,426.21 142.3,426.26 142.8,427.04 143.3,426.49 143.8,425.7 144.3,426.49 144.8,425.95 145.3,425.63 145.8,425.95 146.3,426.58 146.8,427 147.3,426.41 147.8,425.3 148.3,424.65 148.3,427.2Z" fill="#ef7a3a"/>
<line x1="38.8" y1="427.5" x2="148.3" y2="427.5" stroke="#ec6a2e" stroke-width="1.1"/>
<path d="M38.8,443.1 38.8,442.75 39.3,443.01 39.8,442.36 40.3,442.41 40.8,442.26 41.3,442.44 41.8,442.43 42.3,442.73 42.8,442.98 43.3,442.65 43.8,442.9 44.3,442.07 44.8,441.33 45.3,441.99 45.8,441.02 46.3,441.99 46.8,442.93 47.3,442.85 47.8,442.95 48.3,442.7 48.8,442.9 49.3,443.03 49.8,442.88 50.3,442.97 50.8,442.32 51.3,441.59 51.8,442.32 52.3,442.68 52.8,442.02 53.3,440.86 53.8,442.02 54.3,442.78 54.8,442.58 55.3,441.92 55.8,441.55 56.3,441.37 56.8,440.79 57.3,441.37 57.8,442.38 58.3,442.64 58.8,443.08 59.3,442.77 59.8,443.05 60.3,443.02 60.8,442.73 61.3,442.2 61.8,441.89 62.3,441.53 62.8,442.15 63.3,441.79 63.8,440.87 64.3,441.79 64.8,441.37 65.3,442.21 65.8,442.96 66.3,442.47 66.8,442.65 67.3,442.63 67.8,442.48 68.3,442.63 68.8,442.89 69.3,442.94 69.8,442.38 70.3,442.46 70.8,442.5 71.3,442.67 71.8,441.91 72.3,441.42 72.8,441.91 73.3,442.52 73.8,442.86 74.3,443.04 74.8,442.55 75.3,442.61 75.8,442.44 76.3,442.87 76.8,442.45 77.3,442.44 77.8,442.37 78.3,442.43 78.8,442.64 79.3,442.42 79.8,442.17 80.3,441.25 80.8,441.59 81.3,442.4 81.8,441.82 82.3,441.47 82.8,441.1 83.3,441.86 83.8,442.8 84.3,443.03 84.8,443.07 85.3,442.34 85.8,442.43 86.3,442.96 86.8,443.08 87.3,442.69 87.8,442.44 88.3,441.5 88.8,439.84 89.3,438.63 89.8,440.67 90.3,436.03 90.8,436.61 91.3,439.48 91.8,437.44 92.3,439.74 92.8,441.1 93.3,439.84 93.8,441.35 94.3,442.29 94.8,441.05 95.3,441.18 95.8,442.34 96.3,441.48 96.8,441.01 97.3,441.48 97.8,442.34 98.3,442.37 98.8,441.54 99.3,441.08 99.8,441.54 100.3,442.07 100.8,441.24 101.3,442.07 101.8,442.66 102.3,441.83 102.8,441.05 103.3,441.83 103.8,442.79 104.3,442.12 104.8,441.66 105.3,442.12 105.8,442.61 106.3,442.72 106.8,441.88 107.3,441.29 107.8,441.88 108.3,441.52 108.8,440.81 109.3,441.52 109.8,442.58 110.3,442.87 110.8,442.36 111.3,441.54 111.8,442.1 112.3,442.38 112.8,442.57 113.3,442.85 113.8,442.34 114.3,442.41 114.8,441.97 115.3,440.71 115.8,441.97 116.3,442.62 116.8,442.23 117.3,442.62 117.8,442.43 118.3,441.87 118.8,442.36 119.3,442.55 119.8,442.88 120.3,442.64 120.8,442.21 121.3,442.35 121.8,442.54 122.3,442.95 122.8,442.61 123.3,442.69 123.8,442.16 124.3,441.85 124.8,442.16 125.3,442.45 125.8,441.91 126.3,442.45 126.8,442.99 127.3,443.01 127.8,443.03 128.3,443.05 128.8,442.61 129.3,442.75 129.8,442.68 130.3,442.43 130.8,442.59 131.3,441.84 131.8,441.39 132.3,441.84 132.8,441.67 133.3,441.18 133.8,440.8 134.3,441.38 134.8,442.38 135.3,442.4 135.8,442.95 136.3,442.4 136.8,442.39 137.3,442.74 137.8,442.84 138.3,443.06 138.8,443.07 139.3,443.09 139.8,442.73 140.3,442.63 140.8,442.33 141.3,442.74 141.8,442.33 142.3,442.9 142.8,443.06 143.3,443.06 143.8,442.84 144.3,442.24 144.8,441.82 145.3,442.24 145.8,442.43 146.3,441.49 146.8,440.95 147.3,441.49 147.8,442.25 148.3,442.49 148.3,443.1Z" fill="#c2a872"/>
<line x1="38.8" y1="443.5" x2="148.3" y2="443.5" stroke="#b79d62" stroke-width="0.8"/>
<path d="M38.8,458.7 38.8,457.54 39.3,457.23 39.8,457.54 40.3,457.36 40.8,457.67 41.3,458.23 41.8,458.35 42.3,458.39 42.8,458.69 43.3,458.42 43.8,458.06 44.3,457.54 44.8,458.06 45.3,457.99 45.8,457.63 46.3,457.99 46.8,457.65 47.3,457.84 47.8,457.13 48.3,457.9 48.8,458.49 49.3,458.44 49.8,458.62 50.3,458.42 50.8,458.66 51.3,458.35 51.8,458.34 52.3,458.3 52.8,458.37 53.3,458.04 53.8,457.86 54.3,458.04 54.8,458.34 55.3,458.17 55.8,458.34 56.3,458.52 56.8,458.05 57.3,457.69 57.8,458.05 58.3,458.37 58.8,458.34 59.3,458.49 59.8,458.4 60.3,458.49 60.8,458.31 61.3,458.1 61.8,458.16 62.3,458.33 62.8,458.26 63.3,457.9 63.8,458.26 64.3,457.9 64.8,457.43 65.3,457.54 65.8,457.24 66.3,457.54 66.8,458.05 67.3,457.66 67.8,457.03 68.3,457.66 68.8,457.07 69.3,456.62 69.8,457.07 70.3,457.92 70.8,458.04 71.3,458.2 71.8,458.03 72.3,458.13 72.8,458.1 73.3,458.38 73.8,457.84 74.3,457.49 74.8,457.84 75.3,458.38 75.8,458.48 76.3,458.31 76.8,457.79 77.3,457.05 77.8,457.79 78.3,458.23 78.8,458.07 79.3,458.23 79.8,458.51 80.3,458.3 80.8,457.85 81.3,457.6 81.8,457.78 82.3,457.22 82.8,457.78 83.3,458.17 83.8,457.74 84.3,457.17 84.8,457.74 85.3,457.7 85.8,457.97 86.3,458.15 86.8,458.18 87.3,458.16 87.8,458.47 88.3,458.14 88.8,458.33 89.3,458.62 89.8,458.68 90.3,458.65 90.8,458.19 91.3,458.52 91.8,458.15 92.3,457.45 92.8,456.8 93.3,457.45 93.8,458.35 94.3,458.09 94.8,457.46 95.3,457.13 95.8,457.46 96.3,458.06 96.8,458.27 97.3,458.02 97.8,458.33 98.3,458.46 98.8,458.12 99.3,457.52 99.8,457.21 100.3,457.52 100.8,458.12 101.3,457.66 101.8,456.98 102.3,457.66 102.8,458.26 103.3,457.96 103.8,457.72 104.3,457.95 104.8,457.72 105.3,457.79 105.8,457.54 106.3,457.79 106.8,458.07 107.3,458.31 107.8,457.57 108.3,457.1 108.8,456.75 109.3,457.26 109.8,457.97 110.3,458.17 110.8,458.06 111.3,458.46 111.8,458.03 112.3,458.06 112.8,457.81 113.3,458.06 113.8,458.02 114.3,458.66 114.8,458.44 115.3,458.4 115.8,458.09 116.3,457.91 116.8,457.55 117.3,457.91 117.8,458.11 118.3,458.19 118.8,457.8 119.3,458.19 119.8,458.61 120.3,458.28 120.8,458.62 121.3,458.23 121.8,457.69 122.3,457.31 122.8,456.62 123.3,457.35 123.8,457.81 124.3,458 124.8,458.16 125.3,458.1 125.8,458.53 126.3,458.56 126.8,458.47 127.3,458.55 127.8,458.02 128.3,458.62 128.8,458.46 129.3,458.36 129.8,458.03 130.3,457.86 130.8,458.03 131.3,458.36 131.8,458.28 132.3,458.68 132.8,458.69 133.3,458.29 133.8,457.99 134.3,458.61 134.8,458.38 135.3,457.99 135.8,457.85 136.3,457.99 136.8,458.34 137.3,457.85 137.8,457.57 138.3,457.85 138.8,458.14 139.3,458.52 139.8,457.88 140.3,457.05 140.8,457.88 141.3,458.17 141.8,457.44 142.3,456.62 142.8,457.4 143.3,457.67 143.8,457.54 144.3,457.98 144.8,458.29 145.3,458.07 145.8,458.14 146.3,458.34 146.8,458.59 147.3,458.68 147.8,458.13 148.3,458.13 148.3,458.7Z" fill="#c8b084"/>
<line x1="38.8" y1="458.5" x2="148.3" y2="458.5" stroke="#b79d62" stroke-width="0.8"/>
<path d="M38.8,474.4 38.8,473.59 39.3,473.49 39.8,473.79 40.3,473.48 40.8,473.22 41.3,473.48 41.8,473.12 42.3,472.14 42.8,471 43.3,472.45 43.8,473.54 44.3,474 44.8,474.29 45.3,474.31 45.8,473.77 46.3,473.61 46.8,473.27 47.3,473.61 47.8,474.13 48.3,474.07 48.8,473.37 49.3,472.38 49.8,471.87 50.3,472.38 50.8,473.37 51.3,473.43 51.8,473.75 52.3,473.77 52.8,474.3 53.3,473.92 53.8,473.48 54.3,473.26 54.8,473.08 55.3,473.38 55.8,473.93 56.3,473.49 56.8,473.26 57.3,473.49 57.8,473.7 58.3,473.26 58.8,473.81 59.3,473.9 59.8,473.81 60.3,473.49 60.8,473.81 61.3,474.14 61.8,473.41 62.3,472.85 62.8,473.41 63.3,474.13 63.8,473.26 64.3,471.92 64.8,471.66 65.3,472.28 65.8,471.9 66.3,470.85 66.8,471.9 67.3,473.28 67.8,473.9 68.3,473.49 68.8,472.24 69.3,471.53 69.8,472.17 70.3,471.41 70.8,471.19 71.3,472.2 71.8,472.9 72.3,471.28 72.8,472.9 73.3,473.96 73.8,473.72 74.3,474.06 74.8,474.04 75.3,473.99 75.8,474.31 76.3,474.2 76.8,474.03 77.3,473.96 77.8,474.2 78.3,474.12 78.8,473.97 79.3,473.04 79.8,472.41 80.3,472.85 80.8,472.02 81.3,472.85 81.8,473.5 82.3,473.58 82.8,474.21 83.3,473.66 83.8,473.76 84.3,473.42 84.8,473.76 85.3,473.12 85.8,472.37 86.3,473.12 86.8,473.38 87.3,473.66 87.8,474.12 88.3,473.73 88.8,472.23 89.3,470.49 89.8,470.62 90.3,469.13 90.8,468.81 91.3,470.97 91.8,470.97 92.3,471.95 92.8,473.41 93.3,473.48 93.8,473.79 94.3,473.86 94.8,474.25 95.3,474.29 95.8,474.08 96.3,473.97 96.8,473.15 97.3,472.16 97.8,471.35 98.3,471.67 98.8,472.55 99.3,473.82 99.8,473.69 100.3,472.88 100.8,471.8 101.3,472.88 101.8,473.24 102.3,472.09 102.8,471.5 103.3,472.09 103.8,472.27 104.3,471.46 104.8,472.27 105.3,471.99 105.8,471.29 106.3,471.99 106.8,472.81 107.3,473.23 107.8,472.61 108.3,472.42 108.8,473.02 109.3,473.94 109.8,473.64 110.3,473.37 110.8,472.56 111.3,473.37 111.8,473.85 112.3,473.79 112.8,472.5 113.3,471.44 113.8,472.38 114.3,473.09 114.8,471.64 115.3,470.87 115.8,471.64 116.3,472.01 116.8,473.29 117.3,473.94 117.8,473.96 118.3,473.25 118.8,472.75 119.3,472.74 119.8,471.49 120.3,472.74 120.8,472.29 121.3,471.72 121.8,472.88 122.3,472.32 122.8,470.95 123.3,471.65 123.8,472.75 124.3,474.05 124.8,473.95 125.3,473.21 125.8,472.75 126.3,472.35 126.8,471.83 127.3,472.35 127.8,472.87 128.3,473.21 128.8,473.84 129.3,474.24 129.8,474.23 130.3,472.89 130.8,471.29 131.3,472.89 131.8,473.15 132.3,471.96 132.8,471.34 133.3,471.96 133.8,473.15 134.3,473.94 134.8,473.57 135.3,472.97 135.8,472.14 136.3,470.96 136.8,472.14 137.3,472.13 137.8,473 138.3,473.95 138.8,474.08 139.3,473.78 139.8,473.91 140.3,473.97 140.8,474.4 141.3,474.36 141.8,473.85 142.3,473.29 142.8,472.09 143.3,471.63 143.8,471.72 144.3,471.16 144.8,471.17 145.3,472.79 145.8,473.64 146.3,474.04 146.8,473.57 147.3,473.29 147.8,472.64 148.3,472.05 148.3,474.4Z" fill="#1a1a1a"/>
<line x1="38.8" y1="474.5" x2="148.3" y2="474.5" stroke="#111111" stroke-width="0.8"/>
<path d="M38.8,487.7 38.8,486.97 39.3,487.07 39.8,487.21 40.3,487.51 40.8,487.09 41.3,486.46 41.8,486.14 42.3,486.46 42.8,487.09 43.3,487.04 43.8,486.49 44.3,486.17 44.8,485.6 45.3,485.96 45.8,484.96 46.3,485.26 46.8,486.57 47.3,486.66 47.8,486.4 48.3,486.62 48.8,486.03 49.3,485.09 49.8,486.03 50.3,486.7 50.8,486.77 51.3,486.97 51.8,486.26 52.3,485.9 52.8,486.26 53.3,486.97 53.8,487.46 54.3,487.4 54.8,486.97 55.3,486.47 55.8,486.13 56.3,486.23 56.8,486.59 57.3,487.22 57.8,487.1 58.3,486.47 58.8,486.14 59.3,486.47 59.8,487.02 60.3,486.8 60.8,487.06 61.3,487.41 61.8,487.59 62.3,487.14 62.8,486.2 63.3,485.62 63.8,486.2 64.3,487.12 64.8,486.75 65.3,487.12 65.8,486.56 66.3,486.17 66.8,486.37 67.3,486.03 67.8,486.19 68.3,485.74 68.8,486.19 69.3,487.02 69.8,486.86 70.3,487.15 70.8,485.86 71.3,484.67 71.8,485.86 72.3,487.04 72.8,487.1 73.3,487.41 73.8,486.92 74.3,486.46 74.8,486.85 75.3,484.33 75.8,484.89 76.3,485.85 76.8,486.6 77.3,486.97 77.8,486.76 78.3,486.97 78.8,486.33 79.3,485.89 79.8,486.33 80.3,487.01 80.8,486.33 81.3,485.98 81.8,486.33 82.3,485.67 82.8,484.93 83.3,485.67 83.8,486.9 84.3,487.53 84.8,487.55 85.3,487.64 85.8,487.68 86.3,487.58 86.8,487.07 87.3,485.99 87.8,485.3 88.3,485.99 88.8,487.07 89.3,486.69 89.8,485.62 90.3,485.06 90.8,485.62 91.3,486.69 91.8,487.4 92.3,487.43 92.8,487.69 93.3,487.05 93.8,487.37 94.3,487.51 94.8,487.38 95.3,486.98 95.8,487.43 96.3,487.51 96.8,487.62 97.3,487.52 97.8,487.07 98.3,486.47 98.8,486.86 99.3,487.04 99.8,487.61 100.3,487.53 100.8,487.17 101.3,487.02 101.8,487.46 102.3,487.09 102.8,486.79 103.3,486.4 103.8,486.99 104.3,487.54 104.8,487.05 105.3,487.24 105.8,486.85 106.3,486.36 106.8,485.97 107.3,486.36 107.8,487.07 108.3,487.27 108.8,487.48 109.3,486.74 109.8,485.4 110.3,484.62 110.8,485.4 111.3,486.7 111.8,485.99 112.3,485.19 112.8,485.99 113.3,486.86 113.8,486.52 114.3,486.67 114.8,487.11 115.3,487.48 115.8,486.95 116.3,486.72 116.8,486.46 117.3,486.72 117.8,487.21 118.3,486.88 118.8,485.69 119.3,484.98 119.8,485.69 120.3,486.88 120.8,487.52 121.3,487.04 121.8,487.62 122.3,487.63 122.8,487.57 123.3,486.52 123.8,485.22 124.3,486.52 124.8,486.11 125.3,485.53 125.8,486.11 126.3,487.08 126.8,487 127.3,487.66 127.8,487.23 128.3,486.62 128.8,485.91 129.3,485.88 129.8,486.27 130.3,485.78 130.8,486.61 131.3,486.96 131.8,486.59 132.3,486.96 132.8,486.93 133.3,487.39 133.8,487.29 134.3,486.88 134.8,486.67 135.3,486.88 135.8,487.01 136.3,486.27 136.8,485.88 137.3,486.27 137.8,486.98 138.3,487.3 138.8,486.89 139.3,487.27 139.8,486.69 140.3,486.36 140.8,486.69 141.3,487.27 141.8,487.47 142.3,487.04 142.8,486.27 143.3,485.59 143.8,486.27 144.3,485.83 144.8,486.36 145.3,487.12 145.8,486.83 146.3,486.77 146.8,486.08 147.3,485.3 147.8,486.08 148.3,487.2 148.3,487.7Z" fill="#1a1a1a"/>
<line x1="38.8" y1="487.5" x2="148.3" y2="487.5" stroke="#111111" stroke-width="0.8"/>
<path d="M38.8,506.7 38.8,505.35 39.3,504.52 39.8,502.56 40.3,504.63 40.8,506.04 41.3,506.13 41.8,506.03 42.3,505.25 42.8,504.82 43.3,505.25 43.8,506.03 44.3,505.76 44.8,504.67 45.3,504.65 45.8,506.12 46.3,506.5 46.8,506.44 47.3,506.01 47.8,505.96 48.3,506.61 48.8,505.88 49.3,506.3 49.8,505.91 50.3,506.08 50.8,505.88 51.3,505.48 51.8,505.45 52.3,504.71 52.8,505.01 53.3,504.14 53.8,504.54 54.3,504.63 54.8,505.21 55.3,505.89 55.8,505.89 56.3,505.71 56.8,505.26 57.3,505.71 57.8,506.02 58.3,506.14 58.8,506.28 59.3,506.07 59.8,506.2 60.3,505.96 60.8,505.91 61.3,506.11 61.8,505.95 62.3,506.21 62.8,506.47 63.3,503.74 63.8,501.57 64.3,505.39 64.8,506.27 65.3,505.99 65.8,505.93 66.3,506.09 66.8,506.02 67.3,504.86 67.8,504.1 68.3,504.86 68.8,506.05 69.3,506.25 69.8,506.02 70.3,506.55 70.8,505.85 71.3,505.04 71.8,505.85 72.3,505.88 72.8,505.64 73.3,505.88 73.8,506.27 74.3,506.52 74.8,505.89 75.3,506.58 75.8,506.48 76.3,505.96 76.8,505.89 77.3,506.12 77.8,505.1 78.3,504.11 78.8,505.1 79.3,506.31 79.8,505.88 80.3,505.65 80.8,505.88 81.3,505.57 81.8,504.71 82.3,505.57 82.8,505.9 83.3,506.17 83.8,506.21 84.3,505.86 84.8,505.65 85.3,505.96 85.8,506.11 86.3,506.03 86.8,505.43 87.3,504.87 87.8,505.43 88.3,505.72 88.8,503.31 89.3,502.14 89.8,503.6 90.3,499.44 90.8,499.4 91.3,504.6 91.8,506.13 92.3,506.14 92.8,505.46 93.3,505.09 93.8,505.46 94.3,504.95 94.8,504.85 95.3,505.49 95.8,506.36 96.3,506.27 96.8,506.3 97.3,505.8 97.8,505.52 98.3,505.8 98.8,505.85 99.3,505.51 99.8,505.86 100.3,505.85 100.8,505.96 101.3,505.86 101.8,505.42 102.3,505.86 102.8,506.46 103.3,505.93 103.8,506.23 104.3,506.42 104.8,506.06 105.3,506 105.8,506.03 106.3,505.97 106.8,505.59 107.3,505.97 107.8,505.7 108.3,505.11 108.8,505.7 109.3,505.27 109.8,504.8 110.3,505.27 110.8,506.1 111.3,506.56 111.8,506.01 112.3,506.23 112.8,505.45 113.3,504.54 113.8,505.45 114.3,505.62 114.8,505.9 115.3,504.93 115.8,504.13 116.3,504.93 116.8,505.62 117.3,505.96 117.8,506.3 118.3,506.52 118.8,506.31 119.3,506.16 119.8,505.34 120.3,504.64 120.8,505.34 121.3,505.7 121.8,505.21 122.3,505.68 122.8,504.89 123.3,505.68 123.8,505.89 124.3,506.26 124.8,506.24 125.3,506.42 125.8,506.47 126.3,505.88 126.8,506.48 127.3,505.83 127.8,505.32 128.3,505.83 128.8,505.94 129.3,505.73 129.8,505.89 130.3,506.34 130.8,506.57 131.3,505.94 131.8,505.33 132.3,505.94 132.8,505.18 133.3,504.57 133.8,505.18 134.3,506.15 134.8,505.76 135.3,504.83 135.8,505.76 136.3,506.01 136.8,506.06 137.3,506.59 137.8,506.68 138.3,506.09 138.8,506.18 139.3,506.18 139.8,505.91 140.3,506.18 140.8,506.55 141.3,506.46 141.8,506.52 142.3,506.32 142.8,506.54 143.3,505.61 143.8,504.43 144.3,505.61 144.8,506.33 145.3,505.44 145.8,504.8 146.3,505.44 146.8,505.16 147.3,504.47 147.8,505.16 148.3,505.45 148.3,506.7Z" fill="#2a7d4e"/>
<line x1="38.8" y1="506.5" x2="148.3" y2="506.5" stroke="#1d6e42" stroke-width="0.8"/>
<path d="M38.8,523.2 38.8,521.56 39.3,521.29 39.8,518.54 40.3,521.16 40.8,522.53 41.3,522.9 41.8,522.22 42.3,521.21 42.8,520.67 43.3,521.21 43.8,522.22 44.3,522.9 44.8,522.65 45.3,522.22 45.8,522.62 46.3,522.66 46.8,521.2 47.3,521.41 47.8,522.69 48.3,522.89 48.8,523.06 49.3,522.75 49.8,522.54 50.3,521.99 50.8,521.52 51.3,521.99 51.8,522.63 52.3,522.39 52.8,522.73 53.3,521.79 53.8,520.65 54.3,521.79 54.8,519.86 55.3,520.4 55.8,521.44 56.3,521.94 56.8,522.48 57.3,522.27 57.8,522.48 58.3,522.52 58.8,522.44 59.3,522.96 59.8,522.33 60.3,521.33 60.8,520.78 61.3,521.33 61.8,521.81 62.3,521.12 62.8,521.81 63.3,522.51 63.8,519.39 64.3,520.03 64.8,522.73 65.3,523.09 65.8,522.86 66.3,522.98 66.8,522.71 67.3,522.47 67.8,522.67 68.3,522.52 68.8,522.67 69.3,522.15 69.8,521.86 70.3,522.15 70.8,522.7 71.3,522.84 71.8,522.55 72.3,522.86 72.8,522.64 73.3,522.83 73.8,522.53 74.3,522.61 74.8,521.96 75.3,521.62 75.8,521.26 76.3,521.99 76.8,522.91 77.3,522.57 77.8,522.74 78.3,523.18 78.8,522.63 79.3,523.05 79.8,522.48 80.3,523.07 80.8,523.11 81.3,522.8 81.8,522.54 82.3,522.15 82.8,521.48 83.3,522.15 83.8,522.96 84.3,523.17 84.8,522.32 85.3,522.74 85.8,522.3 86.3,521.51 86.8,521.35 87.3,522.2 87.8,521.98 88.3,522.26 88.8,522.42 89.3,522.66 89.8,522.5 90.3,522.89 90.8,522.3 91.3,521.92 91.8,522.3 92.3,522.49 92.8,522.6 93.3,523.09 93.8,522.86 94.3,522.52 94.8,522.33 95.3,522.52 95.8,522.66 96.3,522.22 96.8,521.35 97.3,522.22 97.8,522.33 98.3,522.11 98.8,522.33 99.3,521.6 99.8,520.84 100.3,521.6 100.8,522.45 101.3,522.37 101.8,522.57 102.3,522.48 102.8,523.06 103.3,522.44 103.8,521.86 104.3,522.52 104.8,522.5 105.3,523.04 105.8,522.48 106.3,521.92 106.8,521.54 107.3,520.88 107.8,521.55 108.3,521.68 108.8,522.08 109.3,522.34 109.8,522.52 110.3,522.42 110.8,521.65 111.3,521.26 111.8,521.65 112.3,521.24 112.8,521.34 113.3,521.54 113.8,522.61 114.3,522.24 114.8,521.32 115.3,520.84 115.8,521.32 116.3,522.17 116.8,522.46 117.3,522.92 117.8,523.01 118.3,523.12 118.8,523.11 119.3,523.16 119.8,523.11 120.3,522.49 120.8,522.33 121.3,522.72 121.8,522.31 122.3,521.84 122.8,521.02 123.3,521.84 123.8,521.51 124.3,520.83 124.8,521.51 125.3,522.34 125.8,523.08 126.3,522.97 126.8,522.41 127.3,522.76 127.8,522.51 128.3,522.76 128.8,522.76 129.3,522.59 129.8,522.87 130.3,522.33 130.8,521.99 131.3,522.33 131.8,522.42 132.3,522.36 132.8,522.71 133.3,522.18 133.8,522.54 134.3,522.91 134.8,522.5 135.3,522.15 135.8,522.71 136.3,521.93 136.8,521.44 137.3,521.53 137.8,520.86 138.3,521.53 138.8,522.59 139.3,522.98 139.8,522.43 140.3,521.55 140.8,521.07 141.3,521.55 141.8,521.06 142.3,521.05 142.8,522.25 143.3,522.69 143.8,522.89 144.3,522.93 144.8,522.41 145.3,521.86 145.8,521.33 146.3,521.86 146.8,521.47 147.3,520.87 147.8,521.47 148.3,522.49 148.3,523.2Z" fill="#4cb26a"/>
<line x1="38.8" y1="523.5" x2="148.3" y2="523.5" stroke="#2ea653" stroke-width="0.8"/>
<path d="M91,427.8 Q98,435.7 105,427.8" fill="none" stroke="#e0605f" stroke-width="0.6"/>
<line x1="38.3" y1="489.5" x2="148.8" y2="489.5" stroke="#9a9a9a" stroke-width="0.5"/>
<rect x="38.5" y="412.5" width="110" height="115" fill="none" stroke="#8a8a8a" stroke-width="0.8"/>
<text x="147.5" y="418.3" stroke="#e9866e" stroke-width="0.15" text-anchor="end" font-size="6.1" fill="#e9866e">45</text>
<text x="39.8" y="418.3" stroke="#2a2a2a" stroke-width="0.15" fill="#2a2a2a">SATB2 WT</text>
<text x="147.5" y="434.3" stroke="#c9ab7e" stroke-width="0.15" text-anchor="end" font-size="6.1" fill="#c9ab7e">30</text>
<text x="39.8" y="434.3" stroke="#2a2a2a" stroke-width="0.15" fill="#2a2a2a">SATB2 WT</text>
<text x="147.5" y="450.3" stroke="#e3a08e" stroke-width="0.15" text-anchor="end" font-size="6.1" fill="#e3a08e">18</text>
<text x="39.8" y="450.3" stroke="#2a2a2a" stroke-width="0.15" fill="#2a2a2a">SATB2 KO</text>
<text x="147.5" y="464.9" stroke="#222222" stroke-width="0.15" text-anchor="end" font-size="6.1" fill="#222222">28</text>
<text x="39.8" y="464.9" stroke="#2a2a2a" stroke-width="0.15" fill="#2a2a2a">SATB2 WT</text>
<text x="147.5" y="480.3" stroke="#222222" stroke-width="0.15" text-anchor="end" font-size="6.1" fill="#222222">10</text>
<text x="39.8" y="480.3" stroke="#2a2a2a" stroke-width="0.15" fill="#2a2a2a">SATB2 KO</text>
<text x="147.5" y="496.3" stroke="#3f8f5c" stroke-width="0.15" text-anchor="end" font-size="6.1" fill="#3f8f5c">25</text>
<text x="39.8" y="496.3" stroke="#2a2a2a" stroke-width="0.15" fill="#2a2a2a">SATB2 WT</text>
<text x="147.5" y="513" stroke="#4aa866" stroke-width="0.15" text-anchor="end" font-size="6.1" fill="#4aa866">12</text>
<text x="39.8" y="513" stroke="#2a2a2a" stroke-width="0.15" fill="#2a2a2a">SATB2 KO</text>
<text x="90.8" y="410.5" stroke="#333" stroke-width="0.25" text-anchor="middle" font-size="6.3" fill="#333">P</text>
<text x="105.2" y="410.5" stroke="#333" stroke-width="0.25" text-anchor="middle" font-size="6.3" fill="#333">E</text>
<text x="16.1" y="421.8" stroke="#1a1a1a" stroke-width="0.25">SATB2</text>
<text x="16.1" y="437.4" stroke="#1a1a1a" stroke-width="0.25">NRF2</text>
<text x="16.1" y="453.8" stroke="#1a1a1a" stroke-width="0.25">NRF2</text>
<text x="16.1" y="469.2" stroke="#1a1a1a" stroke-width="0.25">BRG1</text>
<text x="16.1" y="484.2" stroke="#1a1a1a" stroke-width="0.25">BRG1</text>
<line x1="12.5" y1="416" x2="12.5" y2="481.5" stroke="#444" stroke-width="0.6"/>
<text x="6.5" y="448.75" stroke="#1a1a1a" stroke-width="0.25" text-anchor="middle" transform="rotate(-90 6.5 448.75)">ChIP-seq</text>
<line x1="28.5" y1="493" x2="28.5" y2="519.8" stroke="#444" stroke-width="0.6"/>
<text x="24.4" y="506.4" stroke="#1a1a1a" stroke-width="0.25" text-anchor="middle" transform="rotate(-90 24.4 506.4)">ATAC-seq</text>
<text x="175" y="386.2" stroke="#000" stroke-width="0.12" font-size="13.2" fill="#000" font-weight="bold">I</text>
<text x="201.8" y="387.2" stroke="#1a1a1a" stroke-width="0.25" font-size="5.9">Chr16:69,709,401-69,726,560</text>
<text x="200" y="396.6" stroke="#1a1a1a" stroke-width="0.25" text-anchor="end" font-size="6.1">Chr16</text>
<linearGradient id="zg201" x1="0" y1="0" x2="0" y2="1"><stop offset="0" stop-color="#c8c8c8"/><stop offset="1" stop-color="#ececec"/></linearGradient>
<path d="M295.7,398 298.7,398 322.6,412.3 211,412.3Z" fill="url(#zg201)"/>
<rect x="201" y="393" width="121.6" height="3.6" rx="1.8" fill="#fff" stroke="#555" stroke-width="0.5"/>
<rect x="278.8" y="393.2" width="11.8" height="3.2" fill="#111"/>
<rect x="267" y="393.2" width="2" height="3.2" fill="#333"/>
<rect x="232" y="393.2" width="2" height="3.2" fill="#444"/>
<rect x="212" y="393.2" width="2" height="3.2" fill="#444"/>
<rect x="301" y="393.2" width="2" height="3.2" fill="#444"/>
<rect x="312" y="393.2" width="4" height="3.2" fill="#444"/>
<line x1="203.5" y1="393.2" x2="203.5" y2="396.4" stroke="#777" stroke-width="0.35"/>
<line x1="209.5" y1="393.2" x2="209.5" y2="396.4" stroke="#777" stroke-width="0.35"/>
<line x1="216.5" y1="393.2" x2="216.5" y2="396.4" stroke="#777" stroke-width="0.35"/>
<line x1="222.5" y1="393.2" x2="222.5" y2="396.4" stroke="#777" stroke-width="0.35"/>
<line x1="229.5" y1="393.2" x2="229.5" y2="396.4" stroke="#777" stroke-width="0.35"/>
<line x1="235.5" y1="393.2" x2="235.5" y2="396.4" stroke="#777" stroke-width="0.35"/>
<line x1="242.5" y1="393.2" x2="242.5" y2="396.4" stroke="#777" stroke-width="0.35"/>
<line x1="248.5" y1="393.2" x2="248.5" y2="396.4" stroke="#777" stroke-width="0.35"/>
<line x1="255.5" y1="393.2" x2="255.5" y2="396.4" stroke="#777" stroke-width="0.35"/>
<line x1="261.5" y1="393.2" x2="261.5" y2="396.4" stroke="#777" stroke-width="0.35"/>
<line x1="268.5" y1="393.2" x2="268.5" y2="396.4" stroke="#777" stroke-width="0.35"/>
<line x1="274.5" y1="393.2" x2="274.5" y2="396.4" stroke="#777" stroke-width="0.35"/>
<line x1="281.5" y1="393.2" x2="281.5" y2="396.4" stroke="#777" stroke-width="0.35"/>
<line x1="287.5" y1="393.2" x2="287.5" y2="396.4" stroke="#777" stroke-width="0.35"/>
<line x1="294.5" y1="393.2" x2="294.5" y2="396.4" stroke="#777" stroke-width="0.35"/>
<line x1="300.5" y1="393.2" x2="300.5" y2="396.4" stroke="#777" stroke-width="0.35"/>
<line x1="307.5" y1="393.2" x2="307.5" y2="396.4" stroke="#777" stroke-width="0.35"/>
<line x1="313.5" y1="393.2" x2="313.5" y2="396.4" stroke="#777" stroke-width="0.35"/>
<line x1="320.5" y1="393.2" x2="320.5" y2="396.4" stroke="#777" stroke-width="0.35"/>
<rect x="201" y="393" width="121.6" height="3.6" rx="1.8" fill="none" stroke="#444" stroke-width="0.55"/>
<line x1="202.5" y1="397" x2="202.5" y2="398.2" stroke="#666" stroke-width="0.35"/>
<text x="202" y="401.4" text-anchor="middle" font-size="3.2" fill="#555">0</text>
<line x1="216.5" y1="397" x2="216.5" y2="398.2" stroke="#666" stroke-width="0.35"/>
<text x="216.14" y="401.4" text-anchor="middle" font-size="3.2" fill="#555">10</text>
<line x1="230.5" y1="397" x2="230.5" y2="398.2" stroke="#666" stroke-width="0.35"/>
<text x="230.28" y="401.4" text-anchor="middle" font-size="3.2" fill="#555">20</text>
<line x1="244.5" y1="397" x2="244.5" y2="398.2" stroke="#666" stroke-width="0.35"/>
<text x="244.42" y="401.4" text-anchor="middle" font-size="3.2" fill="#555">30</text>
<line x1="258.5" y1="397" x2="258.5" y2="398.2" stroke="#666" stroke-width="0.35"/>
<text x="258.56" y="401.4" text-anchor="middle" font-size="3.2" fill="#555">40</text>
<line x1="272.5" y1="397" x2="272.5" y2="398.2" stroke="#666" stroke-width="0.35"/>
<text x="272.7" y="401.4" text-anchor="middle" font-size="3.2" fill="#555">50</text>
<line x1="286.5" y1="397" x2="286.5" y2="398.2" stroke="#666" stroke-width="0.35"/>
<text x="286.84" y="401.4" text-anchor="middle" font-size="3.2" fill="#555">60</text>
<line x1="300.5" y1="397" x2="300.5" y2="398.2" stroke="#666" stroke-width="0.35"/>
<text x="300.98" y="401.4" text-anchor="middle" font-size="3.2" fill="#555">70</text>
<line x1="315.5" y1="397" x2="315.5" y2="398.2" stroke="#666" stroke-width="0.35"/>
<text x="315.12" y="401.4" text-anchor="middle" font-size="3.2" fill="#555">80</text>
<line x1="297.5" y1="388.3" x2="297.5" y2="398.8" stroke="#d8303c" stroke-width="0.9"/>
<rect x="211" y="412.3" width="111.6" height="114.7" fill="#fff"/>
<rect x="283.3" y="412.3" width="5.5" height="114.7" fill="#b3d2ee"/>
<rect x="304.4" y="412.3" width="5.1" height="15.2" fill="#fde3c4"/>
<path d="M211.5,428 211.5,427.79 212,427.45 212.5,427.24 213,427.19 213.5,426.25 214,425.36 214.5,426.25 215,427.48 215.5,427.93 216,428 216.5,427.84 217,427.66 217.5,427.91 218,427.15 218.5,427.82 219,427.37 219.5,427.69 220,427.09 220.5,426.7 221,426.98 221.5,426.7 222,426.98 222.5,427.51 223,427.5 223.5,427.16 224,427.14 224.5,427.14 225,427.74 225.5,427.2 226,426.42 226.5,425.23 227,426.42 227.5,426.64 228,427.22 228.5,427.85 229,427.57 229.5,427.13 230,426.75 230.5,427.13 231,427.38 231.5,427.25 232,426.94 232.5,427.23 233,426.56 233.5,427.16 234,426.31 234.5,425.87 235,426.3 235.5,425.28 236,426.3 236.5,426.37 237,426.75 237.5,426.6 238,427.34 238.5,426.84 239,426.38 239.5,426.66 240,425.17 240.5,426.78 241,427.4 241.5,427.79 242,427.46 242.5,427.27 243,427.46 243.5,426.95 244,426.99 244.5,427.26 245,427.71 245.5,427.94 246,427.99 246.5,427.56 247,426.94 247.5,427.02 248,427.52 248.5,426.97 249,427.48 249.5,427.18 250,427.48 250.5,427.68 251,427.25 251.5,426.48 252,426.08 252.5,426.48 253,427.25 253.5,426.53 254,426.09 254.5,426.53 255,426.58 255.5,426.13 256,425.43 256.5,426.28 257,427.14 257.5,426.99 258,426.05 258.5,426.99 259,427.48 259.5,427.18 260,426.85 260.5,427.18 261,427.56 261.5,426.71 262,425.21 262.5,426.82 263,427.13 263.5,426.82 264,427.13 264.5,426.94 265,427.38 265.5,427.91 266,427.42 266.5,427.97 267,427.19 267.5,427.99 268,427.95 268.5,427.77 269,427.41 269.5,427.12 270,427.28 270.5,426.9 271,427.21 271.5,426.77 272,426.79 272.5,427.19 273,427.36 273.5,427.78 274,427.25 274.5,426.75 275,427.25 275.5,426.96 276,425.84 276.5,425.24 277,425.84 277.5,426.06 278,426.82 278.5,426.47 279,426.84 279.5,427.26 280,427 280.5,427.06 281,426.61 281.5,427.06 282,426.42 282.5,425.91 283,426.42 283.5,426.99 284,425.92 284.5,423.35 285,426.01 285.5,424.36 286,420.12 286.5,424.48 287,423.93 287.5,423.56 288,426.78 288.5,427.36 289,427.74 289.5,427.13 290,427.99 290.5,427.34 291,427.36 291.5,427.94 292,427.76 292.5,426.93 293,426.07 293.5,426.93 294,426.92 294.5,426.57 295,426.21 295.5,424.39 296,426.2 296.5,427.18 297,427.45 297.5,427.83 298,427.28 298.5,427.43 299,427.73 299.5,427.49 300,427.38 300.5,426.98 301,426.92 301.5,427.33 302,427.1 302.5,427.01 303,427.23 303.5,426.92 304,426.99 304.5,426.39 305,425.92 305.5,426.14 306,425.45 306.5,425.15 307,425.66 307.5,426.65 308,426.7 308.5,426.72 309,426.36 309.5,426.72 310,427.4 310.5,426.94 311,426.95 311.5,427.24 312,427.01 312.5,427.24 313,427.55 313.5,427.49 314,426.93 314.5,427.14 315,426.49 315.5,425.97 316,426.49 316.5,427.37 317,426.28 317.5,425.45 318,426.28 318.5,426.83 319,425.5 319.5,426.83 320,427.69 320.5,427.12 321,427.44 321.5,427.77 322,427.7 322,428Z" fill="#ef7a3a"/>
<line x1="211.5" y1="427.5" x2="322" y2="427.5" stroke="#ec6a2e" stroke-width="1.1"/>
<path d="M211.5,443.8 211.5,443.79 212,443.64 212.5,443.65 213,443.31 213.5,443.07 214,443.31 214.5,443.2 215,442.5 215.5,442.12 216,442.5 216.5,443.04 217,442.79 217.5,443.04 218,443.48 218.5,443.47 219,443.1 219.5,442.66 220,442.89 220.5,441.97 221,441.5 221.5,441.97 222,442.8 222.5,441.67 223,441.02 223.5,441.67 224,442.84 224.5,442.42 225,442.01 225.5,442.42 226,443.16 226.5,443.1 227,443.22 227.5,443.33 228,443.14 228.5,442.67 229,443.14 229.5,443.05 230,443.09 230.5,443.1 231,442.83 231.5,443.24 232,443.3 232.5,443.57 233,443 233.5,442.25 234,443.06 234.5,442.72 235,443.02 235.5,443.5 236,443.19 236.5,442.9 237,442.64 237.5,442.15 238,442.64 238.5,443.4 239,442.66 239.5,442.11 240,442.2 240.5,442.14 241,442.84 241.5,442.28 242,441.08 242.5,442.28 243,443.11 243.5,443.49 244,443.22 244.5,442.31 245,441.63 245.5,442.31 246,443.32 246.5,443.73 247,443.71 247.5,443.51 248,443.54 248.5,443.12 249,443.21 249.5,443.02 250,443.21 250.5,443.03 251,442.99 251.5,443.75 252,443.18 252.5,443.41 253,442.96 253.5,442.71 254,442.96 254.5,442.52 255,441.93 255.5,442.52 256,443.13 256.5,442.57 257,442.26 257.5,442.57 258,443.03 258.5,442.1 259,441.32 259.5,442.1 260,443.26 260.5,442.75 261,441.73 261.5,441.21 262,441.73 262.5,442.75 263,443.05 263.5,443.28 264,443.01 264.5,443.77 265,443.07 265.5,443.47 266,443.41 266.5,443.46 267,442.93 267.5,441.77 268,441.12 268.5,441.77 269,441.67 269.5,442.47 270,443.32 270.5,443.05 271,442.31 271.5,442.53 272,441.68 272.5,442.53 273,442.9 273.5,442.63 274,443.25 274.5,442.76 275,443.05 275.5,443.74 276,443.1 276.5,442.38 277,441.33 277.5,441.88 278,442.33 278.5,443.13 279,443.27 279.5,443.09 280,442.78 280.5,441.62 281,441 281.5,441.62 282,442.65 282.5,442.13 283,442.65 283.5,442.34 284,442.79 284.5,441.25 285,439.68 285.5,441.11 286,438.22 286.5,438.14 287,442.05 287.5,440.11 288,442.24 288.5,442.76 289,441.59 289.5,442.76 290,443.24 290.5,443.31 291,443.45 291.5,443 292,442.74 292.5,443 293,443.45 293.5,443.61 294,443.3 294.5,443.08 295,443.3 295.5,443.63 296,443.25 296.5,442.44 297,441.96 297.5,442.44 298,443 298.5,443.16 299,442.64 299.5,442.89 300,443.25 300.5,442.77 301,442.33 301.5,442.77 302,443.45 302.5,443.08 303,443.07 303.5,443.07 304,443.1 304.5,442.87 305,442.35 305.5,441.9 306,442.35 306.5,443.16 307,443.63 307.5,443.07 308,443.65 308.5,443.12 309,443.31 309.5,443.5 310,443.08 310.5,442.84 311,443.08 311.5,442.91 312,442.65 312.5,442.91 313,443.24 313.5,443.4 314,443.64 314.5,442.56 315,441.36 315.5,442.56 316,442.75 316.5,443.03 317,442.88 317.5,441.92 318,442.88 318.5,442.98 319,442.39 319.5,442.98 320,442.51 320.5,443.12 321,443.08 321.5,442.58 322,442.09 322,443.8Z" fill="#c2a872"/>
<line x1="211.5" y1="443.5" x2="322" y2="443.5" stroke="#b79d62" stroke-width="0.8"/>
<path d="M211.5,458.3 211.5,457.78 212,457.9 212.5,458.1 213,457.62 213.5,456.57 214,455.93 214.5,456.57 215,457.62 215.5,457.09 216,455.87 216.5,457.09 217,458.03 217.5,457.93 218,457.68 218.5,458.01 219,457.67 219.5,457.9 220,457.45 220.5,457.9 221,457.83 221.5,457.66 222,457.33 222.5,457.66 223,457.86 223.5,457.16 224,456.74 224.5,457.16 225,457.86 225.5,457.64 226,457.67 226.5,457.77 227,458.29 227.5,458.2 228,457.65 228.5,457.08 229,457.65 229.5,458.2 230,457.69 230.5,457.07 231,457.02 231.5,457.39 232,457.97 232.5,457.89 233,458.15 233.5,457.29 234,456.4 234.5,457.29 235,458.15 235.5,458.14 236,457.85 236.5,457.01 237,455.99 237.5,456.52 238,457.37 238.5,458.14 239,458.16 239.5,457.76 240,457.46 240.5,457.67 241,457.2 241.5,457.67 242,457.76 242.5,457.21 243,456.93 243.5,457.21 244,457.03 244.5,457.35 245,457.14 245.5,456.85 246,456.51 246.5,457.34 247,457.57 247.5,458.12 248,457.89 248.5,457.59 249,457.45 249.5,456.93 250,456.17 250.5,456.93 251,457.93 251.5,458.26 252,458.14 252.5,457.51 253,456.65 253.5,457.51 254,457.56 254.5,457.1 255,457.56 255.5,457.52 256,457.11 256.5,457.52 257,457.42 257.5,456.42 258,455.88 258.5,456.23 259,456.7 259.5,457.34 260,456.6 260.5,457.34 261,456.91 261.5,457.59 262,457.63 262.5,457.79 263,458.02 263.5,457.76 264,458.18 264.5,457.43 265,456.63 265.5,457.39 266,457.68 266.5,458.06 267,457.92 267.5,458.21 268,457.98 268.5,458.2 269,457.41 269.5,456.47 270,457.41 270.5,458.02 271,457.67 271.5,457.85 272,458.02 272.5,457.87 273,456.76 273.5,455.93 274,456.76 274.5,457.61 275,457.77 275.5,458.02 276,457.45 276.5,457.07 277,457.45 277.5,458.02 278,458.11 278.5,457.84 279,456.66 279.5,455.8 280,456.66 280.5,457.23 281,456.83 281.5,457.23 282,457.53 282.5,457.84 283,457.66 283.5,457.73 284,457.89 284.5,457.47 285,457.25 285.5,457.47 286,457.89 286.5,457.94 287,457.53 287.5,457.31 288,457.21 288.5,456.39 289,457.21 289.5,458.1 290,457.6 290.5,457.29 291,456.8 291.5,456.39 292,456.8 292.5,457.58 293,457.61 293.5,458.07 294,457.84 294.5,457.78 295,457.63 295.5,457.78 296,458.06 296.5,457.56 297,457.59 297.5,457.28 298,457.57 298.5,456.95 299,456.51 299.5,456.95 300,457.72 300.5,458.16 301,457.77 301.5,457.37 302,457.77 302.5,457.9 303,457.17 303.5,456.32 304,456.13 304.5,456.3 305,457.19 305.5,457.18 306,456.39 306.5,457.19 307,457.88 307.5,458.09 308,457.84 308.5,458.14 309,457.24 309.5,456.28 310,456.18 310.5,456.94 311,457.6 311.5,457.67 312,457.83 312.5,457.62 313,457.99 313.5,458.1 314,457.72 314.5,457.47 315,457.51 315.5,457.05 316,457.51 316.5,457.71 317,457.12 317.5,456.82 318,456.8 318.5,456.26 319,456.8 319.5,457.7 320,458.08 320.5,457.56 321,457.64 321.5,457.58 322,457.1 322,458.3Z" fill="#c8b084"/>
<line x1="211.5" y1="458.5" x2="322" y2="458.5" stroke="#b79d62" stroke-width="0.8"/>
<path d="M211.5,474.1 211.5,473.27 212,473.24 212.5,472.32 213,471.83 213.5,472.07 214,471.22 214.5,472.33 215,471.73 215.5,471 216,471.73 216.5,472.95 217,472.5 217.5,472.95 218,473.23 218.5,473.17 219,473.21 219.5,473.82 220,473.47 220.5,473.27 221,473.22 221.5,472.31 222,473.22 222.5,474 223,473.69 223.5,473.98 224,474.03 224.5,473.92 225,473.41 225.5,473.27 226,473.54 226.5,473.8 227,473.37 227.5,474.08 228,473.65 228.5,473.42 229,473.97 229.5,473.84 230,473.14 230.5,472.45 231,473.14 231.5,473.91 232,473.53 232.5,473.14 233,473.03 233.5,472.59 234,471.13 234.5,472.59 235,473.18 235.5,472.94 236,473.18 236.5,473.48 237,473.78 237.5,474.07 238,474.03 238.5,473.86 239,473.56 239.5,473.64 240,473.76 240.5,473.29 241,473.02 241.5,473.27 242,473.01 242.5,472 243,473.01 243.5,473.2 244,472.94 244.5,473.2 245,473.64 245.5,472.76 246,472.18 246.5,472.76 247,473.64 247.5,473.15 248,472.3 248.5,473.15 249,473.13 249.5,472.26 250,472.77 250.5,472.37 251,472.77 251.5,472 252,471.21 252.5,471.73 253,472.77 253.5,473.63 254,472.82 254.5,472.12 255,472.82 255.5,472.79 256,473.05 256.5,472.49 257,472.25 257.5,473.22 258,472.83 258.5,472.2 259,472.83 259.5,473.72 260,473.31 260.5,473.64 261,473.85 261.5,473.49 262,472.44 262.5,471.74 263,472.44 263.5,473.03 264,472.7 264.5,471.35 265,471.18 265.5,471.35 266,472.6 266.5,472.67 267,472.62 267.5,472.02 268,472.62 268.5,473.31 269,473.87 269.5,474.07 270,473.58 270.5,473.31 271,473.65 271.5,473.63 272,473.56 272.5,473 273,471.65 273.5,470.89 274,471.65 274.5,473 275,473.39 275.5,472.43 276,471.81 276.5,471.2 277,471.81 277.5,472.44 278,471.67 278.5,472.44 279,473.29 279.5,473.5 280,473.24 280.5,473.56 281,473.85 281.5,473.64 282,473.34 282.5,472.37 283,471.63 283.5,471.36 284,471.2 284.5,471.08 285,470.71 285.5,470.25 286,467.92 286.5,468.21 287,470.8 287.5,472.69 288,473.08 288.5,472.67 289,472.55 289.5,473 290,473.71 290.5,472.9 291,471.62 291.5,470.94 292,471.54 292.5,470.83 293,471.54 293.5,472.87 294,473.23 294.5,472.61 295,471.66 295.5,470.92 296,471.66 296.5,473 297,473.07 297.5,473.28 298,472.98 298.5,471.78 299,471.14 299.5,471.78 300,472.71 300.5,471.69 301,472.71 301.5,473.83 302,473.7 302.5,473.25 303,473.07 303.5,472.75 304,473.07 304.5,473.37 305,472.55 305.5,471.63 306,472.33 306.5,471.53 307,472.33 307.5,473.22 308,473.15 308.5,473.31 309,472.36 309.5,471.84 310,472.36 310.5,473.31 311,472.6 311.5,472.12 312,472.6 312.5,471.91 313,471.34 313.5,471.91 314,472.86 314.5,473.21 315,473.29 315.5,472.32 316,471.4 316.5,470.91 317,472.13 317.5,473.33 318,472.24 318.5,471.6 319,472.24 319.5,472.85 320,473.19 320.5,473.36 321,472.91 321.5,472.93 322,472.39 322,474.1Z" fill="#1a1a1a"/>
<line x1="211.5" y1="474.5" x2="322" y2="474.5" stroke="#111111" stroke-width="0.8"/>
<path d="M211.5,486.3 211.5,484.66 212,483.7 212.5,484.66 213,485.67 213.5,486.02 214,486.14 214.5,485.81 215,485.97 215.5,485.5 216,484.85 216.5,483.62 217,484.3 217.5,483.37 218,484.3 218.5,485.66 219,486.21 219.5,486.23 220,486.17 220.5,486.07 221,485.13 221.5,484.29 222,484.04 222.5,483.41 223,484.04 223.5,484.89 224,483.28 224.5,484.89 225,485.78 225.5,486.29 226,485.53 226.5,485.94 227,486.05 227.5,486.08 228,485.58 228.5,485.98 229,486.06 229.5,485.52 230,485.88 230.5,485.17 231,484.73 231.5,485.17 232,485.72 232.5,485.56 233,484.46 233.5,483.81 234,483.99 234.5,484.55 235,485.47 235.5,486.09 236,485.69 236.5,485.98 237,485.59 237.5,484.67 238,483.46 238.5,484.66 239,485.91 239.5,485.2 240,484.17 240.5,485.15 241,485.42 241.5,484.78 242,483.9 242.5,484.78 243,484.3 243.5,484.82 244,485.65 244.5,485.77 245,485.24 245.5,483.96 246,483.26 246.5,483.96 247,485.24 247.5,485.53 248,485.28 248.5,485.29 249,484.95 249.5,485.29 250,485.73 250.5,485.24 251,484.41 251.5,485.11 252,484.25 252.5,485.11 253,485.9 253.5,484.96 254,484.29 254.5,484.96 255,485.9 255.5,485.11 256,484.49 256.5,485.11 257,485.71 257.5,486.08 258,485.55 258.5,485.54 259,485.58 259.5,485.17 260,485.54 260.5,486.09 261,485.69 261.5,485.46 262,485.67 262.5,485.34 263,485.67 263.5,485.48 264,484.59 264.5,483.44 265,484.59 265.5,485.93 266,485.76 266.5,485 267,484.37 267.5,485 268,485.11 268.5,485.39 269,485.55 269.5,486.02 270,485.49 270.5,485.14 271,485.49 271.5,485.44 272,485.2 272.5,484.87 273,485.2 273.5,485.64 274,485.97 274.5,485.05 275,483.93 275.5,485.05 276,484.57 276.5,484.27 277,483.76 277.5,484.27 278,485.26 278.5,485.96 279,486.02 279.5,485.6 280,484.81 280.5,485.3 281,484.6 281.5,483.84 282,484.6 282.5,484.83 283,485.31 283.5,485.67 284,485.43 284.5,485.04 285,485.53 285.5,485.56 286,485.99 286.5,485.9 287,485.47 287.5,484.98 288,485.11 288.5,484.26 289,483.38 289.5,484.26 290,484.2 290.5,483.87 291,484.42 291.5,483.93 292,484.58 292.5,485.64 293,486.16 293.5,485.62 294,484.48 294.5,483.77 295,484.48 295.5,485.46 296,485.85 296.5,485.49 297,485.77 297.5,485.56 298,485.32 298.5,485.56 299,485.33 299.5,484.93 300,484.93 300.5,485.21 301,485.75 301.5,485.69 302,485.53 302.5,484.75 303,484.34 303.5,484.75 304,485.53 304.5,484.92 305,485.57 305.5,485.98 306,485.96 306.5,486.12 307,486.08 307.5,485.57 308,485.63 308.5,484.9 309,484.51 309.5,484.88 310,485.24 310.5,485.86 311,485.84 311.5,485.77 312,485.2 312.5,484.84 313,484.31 313.5,483.25 314,484.31 314.5,484.72 315,485.06 315.5,484.58 316,483.93 316.5,484.58 317,485.56 317.5,484.37 318,483.55 318.5,484.44 319,485.34 319.5,485.49 320,485.39 320.5,485.74 321,485.42 321.5,484.5 322,485.42 322,486.3Z" fill="#1a1a1a"/>
<line x1="211.5" y1="486.5" x2="322" y2="486.5" stroke="#111111" stroke-width="0.8"/>
<path d="M211.5,504.2 211.5,503.94 212,503.64 212.5,503.2 213,501.99 213.5,501.33 214,501.99 214.5,502.16 215,502.61 215.5,502.75 216,501.88 216.5,502.75 217,503.34 217.5,503.05 218,502.08 218.5,503.05 219,504.01 219.5,503.32 220,502.43 220.5,502.94 221,502.44 221.5,502.94 222,503.73 222.5,504.08 223,503.7 223.5,503.39 224,503.43 224.5,502.98 225,503.43 225.5,503.67 226,503.31 226.5,503.85 227,504 227.5,503.85 228,503.37 228.5,503.09 229,503.32 229.5,503.85 230,504.12 230.5,503.37 231,504.07 231.5,503.62 232,502.77 232.5,502.27 233,502.77 233.5,503.04 234,501.78 234.5,503.04 235,502.2 235.5,501.33 236,502.2 236.5,501.86 237,501.68 237.5,501.91 238,501.87 238.5,502.67 239,501.84 239.5,501.21 240,501.84 240.5,503.04 241,503.8 241.5,503.9 242,503.36 242.5,503.91 243,503.02 243.5,502.15 244,503.02 244.5,503.57 245,502.76 245.5,502.3 246,502.76 246.5,502.3 247,501.29 247.5,502.3 248,503.43 248.5,502.46 249,501.92 249.5,502.25 250,501.74 250.5,502.4 251,503.57 251.5,504.09 252,503.37 252.5,502.45 253,501.5 253.5,501.9 254,502.49 254.5,502.25 255,502.74 255.5,503.46 256,503.54 256.5,504.13 257,503.76 257.5,503.77 258,503.35 258.5,503.12 259,503.35 259.5,503.77 260,503.48 260.5,503.24 261,502.62 261.5,501.93 262,502.62 262.5,503.36 263,503.44 263.5,502.8 264,501.56 264.5,502.47 265,501.49 265.5,502.3 266,503.38 266.5,503.96 267,503.43 267.5,503.75 268,503.66 268.5,503.96 269,503.3 269.5,501.78 270,500.94 270.5,501.51 271,502.35 271.5,501.78 272,503.04 272.5,503.3 273,502.98 273.5,503.3 274,503.83 274.5,504.12 275,503.33 275.5,503.92 276,503.87 276.5,503.53 277,503.35 277.5,501.89 278,498.92 278.5,501.86 279,503.41 279.5,502.91 280,502.6 280.5,501.45 281,502.6 281.5,503.07 282,502.72 282.5,503.07 283,503.69 283.5,503.32 284,504.18 284.5,503.37 285,503.14 285.5,499.38 286,495.57 286.5,499.01 287,499.62 287.5,499.52 288,501.7 288.5,502.99 289,503.44 289.5,503.64 290,503.97 290.5,503.72 291,504.13 291.5,503.89 292,504.12 292.5,503.72 293,503.17 293.5,502.76 294,502.55 294.5,501.54 295,502.55 295.5,501.25 296,502.73 296.5,502.58 297,501.88 297.5,501.5 298,502.34 298.5,503.02 299,503.42 299.5,503.44 300,503.77 300.5,503.35 301,503.05 301.5,502.58 302,503.05 302.5,503.79 303,502.53 303.5,501.49 304,502.53 304.5,502.73 305,502.29 305.5,502.73 306,503.53 306.5,503.23 307,503.39 307.5,503.52 308,503.58 308.5,504.12 309,503.77 309.5,503.37 310,503.77 310.5,503.56 311,502.5 311.5,501.84 312,501.67 312.5,502.4 313,502.95 313.5,502.47 314,503.06 314.5,503.44 315,503.17 315.5,502.83 316,503.17 316.5,502.84 317,502.41 317.5,502.84 318,502.51 318.5,501.52 319,502.51 319.5,503.32 320,502.34 320.5,501.82 321,502.34 321.5,503.32 322,503.94 322,504.2Z" fill="#2a7d4e"/>
<line x1="211.5" y1="504.5" x2="322" y2="504.5" stroke="#1d6e42" stroke-width="0.8"/>
<path d="M211.5,520 211.5,519 212,517.89 212.5,517.29 213,517.72 213.5,518.4 214,517.32 214.5,518.4 215,519.53 215.5,519.67 216,519.29 216.5,519.67 217,519.46 217.5,519.34 218,518.96 218.5,519.34 219,519.82 219.5,519.77 220,519.52 220.5,519.65 221,519.86 221.5,519.24 222,519.2 222.5,518.36 223,517.92 223.5,518.36 224,519.2 224.5,519.16 225,518.78 225.5,518.32 226,518.78 226.5,519.29 227,518.76 227.5,519.06 228,518.76 228.5,519.06 229,519.08 229.5,519.28 230,519.45 230.5,519.53 231,519.38 231.5,519.8 232,519.94 232.5,519.32 233,519.02 233.5,518.5 234,518.91 234.5,518.53 235,518.91 235.5,519.21 236,519 236.5,519.21 237,519.61 237.5,519.36 238,518.92 238.5,519.17 239,518.15 239.5,517.39 240,518.15 240.5,519.34 241,519.75 241.5,519.47 242,518.92 242.5,517.72 243,518.92 243.5,519.52 244,518.79 244.5,517.83 245,517.31 245.5,517.67 246,518.69 246.5,519.49 247,519.63 247.5,519.79 248,519.48 248.5,519.29 249,518.96 249.5,519.29 250,519.65 250.5,519.44 251,519.24 251.5,519.44 252,519.24 252.5,519.04 253,518.73 253.5,519.15 254,518.47 254.5,517.98 255,518.47 255.5,519.34 256,519.75 256.5,519.4 257,518.96 257.5,518.29 258,517.74 258.5,518.29 259,519.11 259.5,519.42 260,518.88 260.5,519.29 261,519.56 261.5,520 262,519.7 262.5,519.94 263,519.53 263.5,519.05 264,519.53 264.5,519.92 265,519.38 265.5,519.73 266,519.94 266.5,519.73 267,519.03 267.5,518.11 268,517.36 268.5,517.81 269,519.05 269.5,519.33 270,519.64 270.5,518.89 271,518.39 271.5,518.89 272,519.23 272.5,519.41 273,519.2 273.5,519.27 274,519.08 274.5,519.31 275,519.65 275.5,519.22 276,519.36 276.5,519.21 277,518.8 277.5,519.21 278,519.71 278.5,519.94 279,519.37 279.5,519.18 280,518.86 280.5,519.18 281,519.32 281.5,519.54 282,519.19 282.5,519.18 283,518.4 283.5,518.01 284,518.4 284.5,519.18 285,519.39 285.5,519.03 286,519.3 286.5,519.4 287,518.78 287.5,519.25 288,518.69 288.5,517.28 289,518.69 289.5,518.69 290,518.13 290.5,518.69 291,519.19 291.5,518.58 292,518.22 292.5,518.58 293,519.28 293.5,518.9 294,518.32 294.5,518.17 295,517.62 295.5,518.7 296,519.73 296.5,519.27 297,519.21 297.5,519.27 298,518.59 298.5,517.74 299,517.39 299.5,517.63 300,518.69 300.5,519.58 301,519.6 301.5,519.33 302,519.19 302.5,518.94 303,518.46 303.5,518.94 304,518.89 304.5,518.38 305,518.89 305.5,519.64 306,519.74 306.5,519.76 307,519.97 307.5,519.48 308,519.8 308.5,519.57 309,519.73 309.5,519.62 310,518.94 310.5,518.51 311,518.94 311.5,519.38 312,519.55 312.5,519.77 313,518.75 313.5,517.82 314,517.28 314.5,518.08 315,519.26 315.5,519.34 316,518.71 316.5,518.39 317,519.05 317.5,519.31 318,519.72 318.5,519.51 319,519.96 319.5,519.74 320,519.48 320.5,519.3 321,519.7 321.5,519.45 322,519.29 322,520Z" fill="#4cb26a"/>
<line x1="211.5" y1="519.5" x2="322" y2="519.5" stroke="#2ea653" stroke-width="0.8"/>
<path d="M286,428.6 Q296.3,436.5 306.6,428.6" fill="none" stroke="#e0605f" stroke-width="0.6"/>
<line x1="211" y1="487.5" x2="322.6" y2="487.5" stroke="#9a9a9a" stroke-width="0.5"/>
<rect x="211.5" y="412.5" width="111" height="115" fill="none" stroke="#8a8a8a" stroke-width="0.8"/>
<text x="321.3" y="419.6" stroke="#e9866e" stroke-width="0.15" text-anchor="end" font-size="6.1" fill="#e9866e">20</text>
<text x="212.7" y="419.6" stroke="#2a2a2a" stroke-width="0.15" fill="#2a2a2a">SATB2 WT</text>
<text x="321.3" y="436.3" stroke="#c9ab7e" stroke-width="0.15" text-anchor="end" font-size="6.1" fill="#c9ab7e">40</text>
<text x="212.7" y="436.3" stroke="#2a2a2a" stroke-width="0.15" fill="#2a2a2a">SATB2 WT</text>
<text x="321.3" y="452.4" stroke="#e3a08e" stroke-width="0.15" text-anchor="end" font-size="6.1" fill="#e3a08e">25</text>
<text x="212.7" y="452.4" stroke="#2a2a2a" stroke-width="0.15" fill="#2a2a2a">SATB2 KO</text>
<text x="321.3" y="466.4" stroke="#222222" stroke-width="0.15" text-anchor="end" font-size="6.1" fill="#222222">35</text>
<text x="212.7" y="466.4" stroke="#2a2a2a" stroke-width="0.15" fill="#2a2a2a">SATB2 WT</text>
<text x="321.3" y="480.8" stroke="#222222" stroke-width="0.15" text-anchor="end" font-size="6.1" fill="#222222">18</text>
<text x="212.7" y="480.8" stroke="#2a2a2a" stroke-width="0.15" fill="#2a2a2a">SATB2 KO</text>
<text x="321.3" y="494.2" stroke="#3f8f5c" stroke-width="0.15" text-anchor="end" font-size="6.1" fill="#3f8f5c">40</text>
<text x="212.7" y="494.2" stroke="#2a2a2a" stroke-width="0.15" fill="#2a2a2a">SATB2 WT</text>
<text x="321.3" y="512.2" stroke="#4aa866" stroke-width="0.15" text-anchor="end" font-size="6.1" fill="#4aa866">25</text>
<text x="212.7" y="512.2" stroke="#2a2a2a" stroke-width="0.15" fill="#2a2a2a">SATB2 KO</text>
<text x="286" y="410.5" stroke="#333" stroke-width="0.25" text-anchor="middle" font-size="6.3" fill="#333">P</text>
<text x="306.6" y="410.5" stroke="#333" stroke-width="0.25" text-anchor="middle" font-size="6.3" fill="#333">E</text>
<text x="207.6" y="421.6" stroke="#1a1a1a" stroke-width="0.25" text-anchor="end">SATB2</text>
<text x="207.6" y="438.7" stroke="#1a1a1a" stroke-width="0.25" text-anchor="end">NRF2</text>
<text x="207.6" y="455" stroke="#1a1a1a" stroke-width="0.25" text-anchor="end">NRF2</text>
<text x="207.6" y="468.2" stroke="#1a1a1a" stroke-width="0.25" text-anchor="end">BRG1</text>
<text x="207.6" y="483.5" stroke="#1a1a1a" stroke-width="0.25" text-anchor="end">BRG1</text>
<line x1="186.5" y1="416" x2="186.5" y2="481.5" stroke="#444" stroke-width="0.6"/>
<text x="180.5" y="448.75" stroke="#1a1a1a" stroke-width="0.25" text-anchor="middle" transform="rotate(-90 180.5 448.75)">ChIP-seq</text>
<line x1="203.5" y1="492" x2="203.5" y2="521.7" stroke="#444" stroke-width="0.6"/>
<text x="197.8" y="506.85" stroke="#1a1a1a" stroke-width="0.25" text-anchor="middle" transform="rotate(-90 197.8 506.85)">ATAC-seq</text>
<text x="352.2" y="386.2" stroke="#000" stroke-width="0.12" font-size="13.2" fill="#000" font-weight="bold">J</text>
<text x="379.8" y="386.8" stroke="#1a1a1a" stroke-width="0.25" font-size="5.9">Chr11:61,964,265-61,967,634</text>
<text x="378.6" y="396.6" stroke="#1a1a1a" stroke-width="0.25" text-anchor="end" font-size="6.1">Chr11</text>
<linearGradient id="zg379" x1="0" y1="0" x2="0" y2="1"><stop offset="0" stop-color="#c8c8c8"/><stop offset="1" stop-color="#ececec"/></linearGradient>
<path d="M433.7,398 436.7,398 500.6,412.3 389.4,412.3Z" fill="url(#zg379)"/>
<rect x="379.8" y="393" width="120.8" height="3.6" rx="1.8" fill="#fff" stroke="#555" stroke-width="0.5"/>
<rect x="381" y="393.2" width="15" height="3.2" fill="#9a9a9a"/>
<rect x="396.7" y="393.2" width="5.3" height="3.2" fill="#111"/>
<rect x="402" y="393.2" width="4" height="3.2" fill="#777"/>
<rect x="411.4" y="393.2" width="6.1" height="3.2" fill="#111"/>
<rect x="423.5" y="393.2" width="9.5" height="3.2" fill="#a86870"/>
<rect x="448" y="393.2" width="8" height="3.2" fill="#111"/>
<rect x="467" y="393.2" width="11.4" height="3.2" fill="#111"/>
<rect x="460" y="393.2" width="2" height="3.2" fill="#444"/>
<rect x="485" y="393.2" width="2" height="3.2" fill="#444"/>
<rect x="491" y="393.2" width="2" height="3.2" fill="#444"/>
<line x1="381.5" y1="393.2" x2="381.5" y2="396.4" stroke="#777" stroke-width="0.35"/>
<line x1="388.5" y1="393.2" x2="388.5" y2="396.4" stroke="#777" stroke-width="0.35"/>
<line x1="394.5" y1="393.2" x2="394.5" y2="396.4" stroke="#777" stroke-width="0.35"/>
<line x1="401.5" y1="393.2" x2="401.5" y2="396.4" stroke="#777" stroke-width="0.35"/>
<line x1="407.5" y1="393.2" x2="407.5" y2="396.4" stroke="#777" stroke-width="0.35"/>
<line x1="414.5" y1="393.2" x2="414.5" y2="396.4" stroke="#777" stroke-width="0.35"/>
<line x1="420.5" y1="393.2" x2="420.5" y2="396.4" stroke="#777" stroke-width="0.35"/>
<line x1="427.5" y1="393.2" x2="427.5" y2="396.4" stroke="#777" stroke-width="0.35"/>
<line x1="433.5" y1="393.2" x2="433.5" y2="396.4" stroke="#777" stroke-width="0.35"/>
<line x1="440.5" y1="393.2" x2="440.5" y2="396.4" stroke="#777" stroke-width="0.35"/>
<line x1="446.5" y1="393.2" x2="446.5" y2="396.4" stroke="#777" stroke-width="0.35"/>
<line x1="453.5" y1="393.2" x2="453.5" y2="396.4" stroke="#777" stroke-width="0.35"/>
<line x1="459.5" y1="393.2" x2="459.5" y2="396.4" stroke="#777" stroke-width="0.35"/>
<line x1="466.5" y1="393.2" x2="466.5" y2="396.4" stroke="#777" stroke-width="0.35"/>
<line x1="472.5" y1="393.2" x2="472.5" y2="396.4" stroke="#777" stroke-width="0.35"/>
<line x1="479.5" y1="393.2" x2="479.5" y2="396.4" stroke="#777" stroke-width="0.35"/>
<line x1="485.5" y1="393.2" x2="485.5" y2="396.4" stroke="#777" stroke-width="0.35"/>
<line x1="492.5" y1="393.2" x2="492.5" y2="396.4" stroke="#777" stroke-width="0.35"/>
<rect x="379.8" y="393" width="120.8" height="3.6" rx="1.8" fill="none" stroke="#444" stroke-width="0.55"/>
<line x1="380.5" y1="397" x2="380.5" y2="398.2" stroke="#666" stroke-width="0.35"/>
<text x="380.8" y="401.4" text-anchor="middle" font-size="3.2" fill="#555">0</text>
<line x1="394.5" y1="397" x2="394.5" y2="398.2" stroke="#666" stroke-width="0.35"/>
<text x="394.85" y="401.4" text-anchor="middle" font-size="3.2" fill="#555">10</text>
<line x1="408.5" y1="397" x2="408.5" y2="398.2" stroke="#666" stroke-width="0.35"/>
<text x="408.89" y="401.4" text-anchor="middle" font-size="3.2" fill="#555">20</text>
<line x1="422.5" y1="397" x2="422.5" y2="398.2" stroke="#666" stroke-width="0.35"/>
<text x="422.94" y="401.4" text-anchor="middle" font-size="3.2" fill="#555">30</text>
<line x1="436.5" y1="397" x2="436.5" y2="398.2" stroke="#666" stroke-width="0.35"/>
<text x="436.99" y="401.4" text-anchor="middle" font-size="3.2" fill="#555">40</text>
<line x1="451.5" y1="397" x2="451.5" y2="398.2" stroke="#666" stroke-width="0.35"/>
<text x="451.03" y="401.4" text-anchor="middle" font-size="3.2" fill="#555">50</text>
<line x1="465.5" y1="397" x2="465.5" y2="398.2" stroke="#666" stroke-width="0.35"/>
<text x="465.08" y="401.4" text-anchor="middle" font-size="3.2" fill="#555">60</text>
<line x1="479.5" y1="397" x2="479.5" y2="398.2" stroke="#666" stroke-width="0.35"/>
<text x="479.13" y="401.4" text-anchor="middle" font-size="3.2" fill="#555">70</text>
<line x1="493.5" y1="397" x2="493.5" y2="398.2" stroke="#666" stroke-width="0.35"/>
<text x="493.17" y="401.4" text-anchor="middle" font-size="3.2" fill="#555">80</text>
<line x1="435.5" y1="388.3" x2="435.5" y2="398.8" stroke="#d8303c" stroke-width="0.9"/>
<rect x="389.4" y="412.3" width="111.2" height="114.7" fill="#fff"/>
<rect x="420" y="412.3" width="6.3" height="114.7" fill="#b3d2ee"/>
<rect x="450.8" y="412.3" width="8.6" height="15.2" fill="#fde3c4"/>
<path d="M389.9,427.9 389.9,427.35 390.4,427.66 390.9,427.9 391.4,427.66 391.9,427 392.4,427.57 392.9,427.14 393.4,425.85 393.9,425.05 394.4,425.85 394.9,425.14 395.4,426.04 395.9,426.94 396.4,425.93 396.9,425.11 397.4,425.53 397.9,425.15 398.4,425.85 398.9,426.88 399.4,426.48 399.9,426.02 400.4,426.78 400.9,427.44 401.4,426.27 401.9,425.43 402.4,426.27 402.9,427.31 403.4,427.03 403.9,427.62 404.4,426.84 404.9,427.12 405.4,426.69 405.9,426.21 406.4,425.44 406.9,424.57 407.4,425.17 407.9,426.05 408.4,427.2 408.9,427.68 409.4,426.71 409.9,425.81 410.4,426.71 410.9,426.92 411.4,427.03 411.9,427.17 412.4,426.87 412.9,426.42 413.4,425.84 413.9,426.42 414.4,427.35 414.9,427.12 415.4,427.24 415.9,426.69 416.4,426.28 416.9,426.64 417.4,426.23 417.9,426.64 418.4,427.02 418.9,426.79 419.4,427.02 419.9,427.04 420.4,425.64 420.9,424.79 421.4,425.64 421.9,426.54 422.4,426.06 422.9,418.37 423.4,416.9 423.9,424.09 424.4,422.48 424.9,424.17 425.4,425.89 425.9,426.92 426.4,426.64 426.9,426.92 427.4,427.43 427.9,427.14 428.4,426.41 428.9,426.03 429.4,426.41 429.9,426.98 430.4,426.22 430.9,425.43 431.4,426.22 431.9,427.37 432.4,427.82 432.9,427.07 433.4,426.02 433.9,425.12 434.4,426.02 434.9,426.73 435.4,426.9 435.9,425.57 436.4,424.81 436.9,425.57 437.4,425.73 437.9,426.6 438.4,427.62 438.9,427.67 439.4,427.66 439.9,427.23 440.4,425.77 440.9,424.36 441.4,425 441.9,425.7 442.4,426.4 442.9,427.42 443.4,426.65 443.9,425.98 444.4,426.39 444.9,425.64 445.4,426.39 445.9,426.93 446.4,426.65 446.9,425.85 447.4,425.82 447.9,425.22 448.4,425.82 448.9,426.62 449.4,426.91 449.9,427.44 450.4,426.84 450.9,427.69 451.4,427.41 451.9,426.94 452.4,427.28 452.9,425.9 453.4,424.74 453.9,425.18 454.4,424.1 454.9,422.5 455.4,422.82 455.9,425.38 456.4,427.17 456.9,427.58 457.4,426.29 457.9,425.15 458.4,426.29 458.9,426.29 459.4,426.62 459.9,426.42 460.4,425.9 460.9,425.64 461.4,426.49 461.9,427.56 462.4,427.63 462.9,427.52 463.4,427.04 463.9,426.09 464.4,427.04 464.9,427.21 465.4,426.57 465.9,426.01 466.4,426.57 466.9,426.15 467.4,425.49 467.9,426.15 468.4,426.98 468.9,427.48 469.4,427.87 469.9,427.61 470.4,426.66 470.9,425.89 471.4,426.66 471.9,427.61 472.4,427.85 472.9,427.76 473.4,427.12 473.9,425.71 474.4,424.81 474.9,425.71 475.4,427.12 475.9,427.72 476.4,427.61 476.9,427.57 477.4,426.76 477.9,427.35 478.4,426.12 478.9,425.26 479.4,426.12 479.9,427.01 480.4,426.6 480.9,426.8 481.4,427.23 481.9,427.32 482.4,426.41 482.9,425.2 483.4,426.41 483.9,425.41 484.4,424.78 484.9,425.41 485.4,426.62 485.9,427.17 486.4,426.99 486.9,427.48 487.4,427.88 487.9,426.73 488.4,427.04 488.9,426.85 489.4,426.48 489.9,426.17 490.4,426.52 490.9,425.75 491.4,425.11 491.9,425.75 492.4,426.91 492.9,426.35 493.4,425.92 493.9,426.02 494.4,426.4 494.9,425.53 495.4,424.88 495.9,425.53 496.4,426.75 496.9,426.42 497.4,425.41 497.9,426.42 498.4,426.15 498.9,426.59 499.4,426.8 499.9,427.71 499.9,427.9Z" fill="#ef7a3a"/>
<line x1="389.9" y1="427.5" x2="499.9" y2="427.5" stroke="#ec6a2e" stroke-width="1.1"/>
<path d="M389.9,444 389.9,442.38 390.4,441.94 390.9,442.03 391.4,441.3 391.9,442.03 392.4,443.23 392.9,443.84 393.4,443.14 393.9,443 394.4,442.61 394.9,443 395.4,443.09 395.9,442.73 396.4,443.09 396.9,443.19 397.4,443.27 397.9,442.99 398.4,443.26 398.9,443.42 399.4,443.24 399.9,443.34 400.4,443.15 400.9,442.78 401.4,442.4 401.9,442.78 402.4,443.09 402.9,442.09 403.4,441.55 403.9,442.09 404.4,441.51 404.9,442.1 405.4,443.15 405.9,443.42 406.4,443.18 406.9,443.42 407.4,443.17 407.9,442.31 408.4,441.85 408.9,442.31 409.4,443.14 409.9,442.44 410.4,443.14 410.9,443.85 411.4,443.21 411.9,443.79 412.4,443.97 412.9,443.92 413.4,443.47 413.9,443.1 414.4,442.17 414.9,441.83 415.4,441.8 415.9,442.16 416.4,441.51 416.9,442.16 417.4,442.19 417.9,442.34 418.4,441.61 418.9,442.34 419.4,443.14 419.9,442.78 420.4,443.41 420.9,443.72 421.4,443.95 421.9,443.58 422.4,442.86 422.9,438.02 423.4,435.38 423.9,440.84 424.4,442.55 424.9,442.49 425.4,442.86 425.9,443.51 426.4,443.63 426.9,443.77 427.4,443.32 427.9,443.83 428.4,443.88 428.9,442.72 429.4,441.21 429.9,442.72 430.4,443.34 430.9,443.48 431.4,443.69 431.9,442.55 432.4,441.57 432.9,442.55 433.4,442.28 433.9,441.57 434.4,442.19 434.9,442.75 435.4,443.5 435.9,443.27 436.4,443.05 436.9,443.22 437.4,443.45 437.9,443.13 438.4,443.45 438.9,443.45 439.4,443.27 439.9,443.45 440.4,443.76 440.9,443.25 441.4,442.7 441.9,443.18 442.4,443.24 442.9,442.66 443.4,441.98 443.9,441.53 444.4,442.8 444.9,442.26 445.4,442.5 445.9,441.31 446.4,442.5 446.9,443.11 447.4,442.78 447.9,443.11 448.4,443.66 448.9,443.82 449.4,443.37 449.9,443.81 450.4,443.23 450.9,442.24 451.4,441.68 451.9,442.24 452.4,442.26 452.9,442.87 453.4,442.62 453.9,441.08 454.4,441.81 454.9,441.57 455.4,439.55 455.9,440.6 456.4,442.66 456.9,443.36 457.4,442.7 457.9,442.36 458.4,442.7 458.9,442.14 459.4,443.09 459.9,442.68 460.4,442.26 460.9,442.68 461.4,443.43 461.9,443.86 462.4,443.27 462.9,442.19 463.4,441.11 463.9,442.19 464.4,442.63 464.9,442.21 465.4,442.63 465.9,442 466.4,441.46 466.9,442 467.4,443.03 467.9,443.71 468.4,443.7 468.9,443.47 469.4,444 469.9,443.37 470.4,443.85 470.9,443.83 471.4,443.61 471.9,443.58 472.4,443.35 472.9,443.17 473.4,443.31 473.9,443.68 474.4,443.19 474.9,443.34 475.4,443.31 475.9,443.63 476.4,443.59 476.9,443.75 477.4,443.11 477.9,442.09 478.4,441.54 478.9,441.16 479.4,441.83 479.9,443.04 480.4,443.37 480.9,443.19 481.4,443.37 481.9,443.56 482.4,443.31 482.9,443.16 483.4,442.52 483.9,441.91 484.4,442.52 484.9,443.48 485.4,443.34 485.9,442.7 486.4,442.2 486.9,442.61 487.4,442.17 487.9,442.61 488.4,443.27 488.9,443.12 489.4,443.84 489.9,443.27 490.4,443.36 490.9,442.73 491.4,442.4 491.9,442.73 492.4,443.36 492.9,443.13 493.4,443.37 493.9,443.46 494.4,443.22 494.9,443.17 495.4,443.39 495.9,443.76 496.4,443.95 496.9,443.34 497.4,443.36 497.9,443.43 498.4,443.27 498.9,442.41 499.4,441.92 499.9,441.83 499.9,444Z" fill="#c2a872"/>
<line x1="389.9" y1="443.5" x2="499.9" y2="443.5" stroke="#b79d62" stroke-width="0.8"/>
<path d="M389.9,457.9 389.9,457.22 390.4,457.62 390.9,457.6 391.4,457.66 391.9,457.78 392.4,457.5 392.9,457.1 393.4,456.89 393.9,457.1 394.4,457.5 394.9,457.21 395.4,457.86 395.9,457.52 396.4,457.22 396.9,456.51 397.4,456.13 397.9,456.51 398.4,456.77 398.9,455.77 399.4,456.77 399.9,456.17 400.4,456.61 400.9,457.32 401.4,457.79 401.9,457.47 402.4,457.36 402.9,456.35 403.4,455.66 403.9,456.35 404.4,455.94 404.9,456.57 405.4,456.84 405.9,456.55 406.4,456.84 406.9,457.38 407.4,457.24 407.9,457.32 408.4,456.88 408.9,457.32 409.4,457.79 409.9,457.55 410.4,457.09 410.9,456.83 411.4,457.09 411.9,457.2 412.4,457.02 412.9,457.04 413.4,457.31 413.9,456.23 414.4,455.47 414.9,456.23 415.4,457.36 415.9,457.8 416.4,457.84 416.9,457.55 417.4,457.86 417.9,457.66 418.4,457.62 418.9,457.81 419.4,457.21 419.9,457.68 420.4,457.22 420.9,456.55 421.4,456.21 421.9,456.55 422.4,457.22 422.9,457.54 423.4,456.55 423.9,455.76 424.4,456.55 424.9,457.51 425.4,457.69 425.9,456.85 426.4,456.11 426.9,456.85 427.4,457.35 427.9,456.65 428.4,456.26 428.9,456.44 429.4,456.74 429.9,457.25 430.4,457.46 430.9,457.67 431.4,457.47 431.9,457.23 432.4,457.03 432.9,457.23 433.4,457.27 433.9,456.8 434.4,456.59 434.9,456.31 435.4,455.85 435.9,456.31 436.4,457 436.9,455.97 437.4,457.02 437.9,456.47 438.4,455.66 438.9,455.53 439.4,456.7 439.9,457.55 440.4,457.52 440.9,457.23 441.4,457.38 441.9,457.54 442.4,456.63 442.9,455.97 443.4,456.63 443.9,456.99 444.4,456.21 444.9,456.99 445.4,457.66 445.9,457.36 446.4,457.2 446.9,456.18 447.4,455.49 447.9,456.18 448.4,457.28 448.9,457.12 449.4,457.35 449.9,457.54 450.4,456.88 450.9,456.46 451.4,456.88 451.9,457.54 452.4,457.47 452.9,457.44 453.4,456.17 453.9,455.07 454.4,455.92 454.9,456.17 455.4,454.41 455.9,455.19 456.4,457.18 456.9,457.36 457.4,457.31 457.9,456.63 458.4,456.26 458.9,456.63 459.4,456 459.9,455.46 460.4,455.91 460.9,456.53 461.4,457.28 461.9,457.82 462.4,457.3 462.9,457.4 463.4,457.32 463.9,457.18 464.4,457.2 464.9,457.3 465.4,457.18 465.9,457.33 466.4,457.18 466.9,456.75 467.4,457.18 467.9,456.61 468.4,457.25 468.9,457.45 469.4,457.79 469.9,457.11 470.4,456.28 470.9,457.11 471.4,457.27 471.9,457.09 472.4,456.76 472.9,457.09 473.4,457.23 473.9,457.18 474.4,456.49 474.9,457.18 475.4,457.11 475.9,457.26 476.4,456.76 476.9,457.26 477.4,457.75 477.9,457.48 478.4,457.54 478.9,456.64 479.4,455.92 479.9,456.37 480.4,455.98 480.9,456.37 481.4,457.12 481.9,457.25 482.4,457.4 482.9,457.55 483.4,456.77 483.9,456.24 484.4,456.77 484.9,457.44 485.4,457.77 485.9,457.32 486.4,456.62 486.9,455.62 487.4,456.62 487.9,457.08 488.4,457.55 488.9,457.03 489.4,456.6 489.9,456.17 490.4,456.6 490.9,456.67 491.4,455.75 491.9,456.67 492.4,457.08 492.9,456.72 493.4,457.08 493.9,457.38 494.4,457.49 494.9,457.22 495.4,457.34 495.9,457.16 496.4,457.32 496.9,457.24 497.4,456.51 497.9,456.12 498.4,456.51 498.9,456.75 499.4,456.41 499.9,456.17 499.9,457.9Z" fill="#c8b084"/>
<line x1="389.9" y1="457.5" x2="499.9" y2="457.5" stroke="#b79d62" stroke-width="0.8"/>
<path d="M389.9,473.4 389.9,472.4 390.4,472.01 390.9,472.17 391.4,472.45 391.9,472.52 392.4,473.27 392.9,473.04 393.4,473.16 393.9,473.15 394.4,472.73 394.9,472.64 395.4,472.13 395.9,472.64 396.4,472.02 396.9,471.31 397.4,472.02 397.9,472.91 398.4,472.18 398.9,471.74 399.4,472.16 399.9,472.46 400.4,472.98 400.9,472.53 401.4,473.17 401.9,472.77 402.4,472.52 402.9,472.77 403.4,472.44 403.9,472.12 404.4,472.27 404.9,471.73 405.4,471.05 405.9,471.73 406.4,470.13 406.9,471.6 407.4,470.4 407.9,471.6 408.4,472.6 408.9,472.61 409.4,472.77 409.9,472.7 410.4,471.97 410.9,472.52 411.4,472.66 411.9,472.98 412.4,472.52 412.9,472.58 413.4,473.07 413.9,473.27 414.4,473 414.9,472.61 415.4,472.66 415.9,472.09 416.4,471.41 416.9,472.09 417.4,472.42 417.9,472.15 418.4,471.43 418.9,470.92 419.4,471.43 419.9,472.42 420.4,471.85 420.9,472.61 421.4,472.82 421.9,472.27 422.4,471 422.9,470.01 423.4,464.74 423.9,467.04 424.4,468.56 424.9,466.86 425.4,471.31 425.9,468.25 426.4,469.87 426.9,470.92 427.4,472.23 427.9,471.21 428.4,470.12 428.9,471.21 429.4,471.44 429.9,470.93 430.4,472.06 430.9,472.26 431.4,471.52 431.9,470.45 432.4,471.38 432.9,470.34 433.4,471.42 433.9,472.86 434.4,473.2 434.9,473.14 435.4,471.95 435.9,470.59 436.4,471.95 436.9,471.23 437.4,470.43 437.9,471.23 438.4,472.55 438.9,472.46 439.4,471.88 439.9,470.45 440.4,471.23 440.9,471.41 441.4,470.73 441.9,471.41 442.4,472.31 442.9,472.23 443.4,471.56 443.9,472.23 444.4,472.24 444.9,472.75 445.4,473.27 445.9,473.21 446.4,472.52 446.9,472.85 447.4,472.52 447.9,472.45 448.4,472.16 448.9,471.68 449.4,471.68 449.9,471.07 450.4,471.68 450.9,471.81 451.4,471.71 451.9,472.07 452.4,472.38 452.9,471.95 453.4,471.59 453.9,471.85 454.4,472.14 454.9,472.53 455.4,472.9 455.9,472.84 456.4,472.44 456.9,472.38 457.4,472.85 457.9,473.17 458.4,472.48 458.9,472.63 459.4,473.37 459.9,472.46 460.4,471.78 460.9,470.77 461.4,471.78 461.9,472.99 462.4,472.57 462.9,472.35 463.4,472.57 463.9,472.75 464.4,472.5 464.9,472.75 465.4,471.77 465.9,470.4 466.4,471.77 466.9,472.35 467.4,472.07 467.9,472.43 468.4,471.63 468.9,472.51 469.4,473.29 469.9,472.55 470.4,472.43 470.9,472.08 471.4,472.43 471.9,471.45 472.4,470.12 472.9,471.45 473.4,472.04 473.9,471.19 474.4,471.94 474.9,471.13 475.4,472.07 475.9,472.7 476.4,472.34 476.9,472.62 477.4,471.98 477.9,471.45 478.4,471.16 478.9,471.93 479.4,472.5 479.9,472.5 480.4,472.04 480.9,470.7 481.4,470.01 481.9,470.7 482.4,472.04 482.9,472.97 483.4,473.31 483.9,473.38 484.4,473.27 484.9,473.36 485.4,473.15 485.9,472.91 486.4,472.47 486.9,471.7 487.4,470.68 487.9,471.7 488.4,471.7 488.9,472.02 489.4,472.01 489.9,472.38 490.4,472.99 490.9,472.69 491.4,473.22 491.9,473.36 492.4,472.96 492.9,472.87 493.4,472.46 493.9,473.3 494.4,473.33 494.9,472.55 495.4,472.09 495.9,471.5 496.4,472.09 496.9,472.47 497.4,472.96 497.9,472.7 498.4,472.79 498.9,472.53 499.4,472.79 499.9,472.76 499.9,473.4Z" fill="#1a1a1a"/>
<line x1="389.9" y1="473.5" x2="499.9" y2="473.5" stroke="#111111" stroke-width="0.8"/>
<path d="M389.9,486.3 389.9,485.55 390.4,485.2 390.9,485.55 391.4,484.99 391.9,484.86 392.4,485.21 392.9,484.61 393.4,484.04 393.9,484.61 394.4,484.1 394.9,484.81 395.4,483.82 395.9,483.75 396.4,484.29 396.9,485.33 397.4,485.54 397.9,484.21 398.4,483.37 398.9,484.21 399.4,484.9 399.9,485.41 400.4,485.02 400.9,484.39 401.4,484.45 401.9,484.96 402.4,485.8 402.9,484.91 403.4,483 403.9,484.05 404.4,485.54 404.9,485.84 405.4,485.54 405.9,485.86 406.4,485.61 406.9,485.02 407.4,484.69 407.9,484.69 408.4,485.43 408.9,485.55 409.4,484.98 409.9,484.35 410.4,483.65 410.9,484.35 411.4,485.52 411.9,485.69 412.4,485.59 412.9,485.13 413.4,485.48 413.9,485.58 414.4,485.92 414.9,485.53 415.4,485.49 415.9,484.43 416.4,483.82 416.9,484.43 417.4,485.49 417.9,486.04 418.4,485.54 418.9,484.21 419.4,483.37 419.9,484.21 420.4,485.54 420.9,485.56 421.4,486.29 421.9,486.29 422.4,486.25 422.9,485.9 423.4,485.36 423.9,484.95 424.4,485.19 424.9,484.51 425.4,485.19 425.9,486.04 426.4,486.26 426.9,486.01 427.4,485.05 427.9,484.26 428.4,484.74 428.9,484.07 429.4,484.74 429.9,485.76 430.4,485.5 430.9,484.67 431.4,484.24 431.9,484.67 432.4,484.91 432.9,484.21 433.4,484.05 433.9,484.63 434.4,485.4 434.9,485.09 435.4,484.72 435.9,485.09 436.4,485.07 436.9,483.92 437.4,484.17 437.9,483.55 438.4,484.17 438.9,485.32 439.4,484.73 439.9,484.09 440.4,484.73 440.9,485.74 441.4,484.7 441.9,483.5 442.4,484.7 442.9,485.78 443.4,485.59 443.9,485.47 444.4,485.62 444.9,485.01 445.4,484.12 445.9,485.01 446.4,485.85 446.9,485.65 447.4,484.46 447.9,483.32 448.4,484.46 448.9,485.32 449.4,485.07 449.9,484.67 450.4,485.07 450.9,485.51 451.4,485.55 451.9,485.85 452.4,485.54 452.9,485.85 453.4,485.91 453.9,485.78 454.4,485.27 454.9,485.78 455.4,485.71 455.9,485.57 456.4,485.39 456.9,485.84 457.4,484.89 457.9,483.92 458.4,484.89 458.9,485.3 459.4,484.51 459.9,483.73 460.4,484.51 460.9,485.49 461.4,485.62 461.9,484.78 462.4,484.1 462.9,484.78 463.4,485.72 463.9,486.13 464.4,486.11 464.9,485.61 465.4,484.87 465.9,483.54 466.4,484.27 466.9,485.79 467.4,486.2 467.9,485.73 468.4,485.28 468.9,485.29 469.4,485.05 469.9,484.05 470.4,485.05 470.9,485.96 471.4,486.02 471.9,485.74 472.4,485.31 472.9,484.5 473.4,485.31 473.9,485.02 474.4,485.57 474.9,485.6 475.4,485.39 475.9,485.15 476.4,485.39 476.9,485.85 477.4,486.12 477.9,486.05 478.4,485.64 478.9,484.4 479.4,483.6 479.9,484.4 480.4,485.64 480.9,486.14 481.4,486.07 481.9,485.53 482.4,484.71 482.9,484.27 483.4,484.71 483.9,484.64 484.4,483.33 484.9,484.64 485.4,485.84 485.9,485.54 486.4,485.39 486.9,484.65 487.4,484.46 487.9,484.99 488.4,485.32 488.9,484.52 489.4,485.32 489.9,485.49 490.4,485.11 490.9,485.47 491.4,485.51 491.9,485.47 492.4,485.58 492.9,485.47 493.4,485.2 493.9,485.14 494.4,484.47 494.9,485.14 495.4,485.42 495.9,485.18 496.4,485.42 496.9,485.87 497.4,485.86 497.9,485.57 498.4,484.8 498.9,483.68 499.4,484.8 499.9,485.96 499.9,486.3Z" fill="#1a1a1a"/>
<line x1="389.9" y1="486.5" x2="499.9" y2="486.5" stroke="#111111" stroke-width="0.8"/>
<path d="M389.9,504.4 389.9,503.11 390.4,502.75 390.9,503.2 391.4,503.12 391.9,498.71 392.4,501.4 392.9,502.97 393.4,503.94 393.9,503.8 394.4,503.52 394.9,503.8 395.4,503.68 395.9,503.51 396.4,503.63 396.9,503.41 397.4,503.25 397.9,503.74 398.4,503.55 398.9,502.36 399.4,501.62 399.9,502.36 400.4,502.07 400.9,501.39 401.4,502.07 401.9,503.32 402.4,503.51 402.9,503.84 403.4,504.06 403.9,503.96 404.4,503.89 404.9,503.86 405.4,504.18 405.9,503.46 406.4,502.15 406.9,501.4 407.4,502.07 407.9,500.84 408.4,501.78 408.9,503.22 409.4,503.93 409.9,503.08 410.4,502.55 410.9,503.08 411.4,502.67 411.9,503.08 412.4,502.67 412.9,501.53 413.4,502.67 413.9,503.49 414.4,503.52 414.9,503.15 415.4,503.52 415.9,504.09 416.4,504.03 416.9,503.12 417.4,502.45 417.9,503.12 418.4,502.99 418.9,502.41 419.4,502.99 419.9,503.53 420.4,504.31 420.9,504.01 421.4,503.65 421.9,503.81 422.4,503.12 422.9,499.69 423.4,498.61 423.9,501.47 424.4,502.08 424.9,500.23 425.4,500.9 425.9,503.35 426.4,503.7 426.9,504.19 427.4,504.2 427.9,503.48 428.4,504.24 428.9,503.84 429.4,503.55 429.9,503.84 430.4,504.02 430.9,503.3 431.4,502.35 431.9,501.61 432.4,502.05 432.9,503.11 433.4,503.35 433.9,503.02 434.4,503.04 434.9,502.46 435.4,503.04 435.9,503.65 436.4,503.47 436.9,503.1 437.4,502.26 437.9,502.51 438.4,502.85 438.9,503.42 439.4,503.77 439.9,503.68 440.4,503.95 440.9,503.75 441.4,503.68 441.9,503.32 442.4,503.64 442.9,504.09 443.4,503.51 443.9,504.02 444.4,502.73 444.9,501.66 445.4,502.73 445.9,503.94 446.4,503.42 446.9,502.13 447.4,501.19 447.9,502.13 448.4,503.52 448.9,503.79 449.4,503.28 449.9,503.79 450.4,504.17 450.9,504.13 451.4,503.88 451.9,504.25 452.4,503.96 452.9,504.34 453.4,503.8 453.9,503.72 454.4,503.66 454.9,504.06 455.4,503.5 455.9,503.52 456.4,503.34 456.9,502.75 457.4,503.35 457.9,503.01 458.4,503.35 458.9,503.87 459.4,502.89 459.9,502.26 460.4,502.89 460.9,503.63 461.4,503.4 461.9,503.63 462.4,503.8 462.9,503.68 463.4,503.48 463.9,503.53 464.4,502.18 464.9,501.05 465.4,502.05 465.9,502.89 466.4,502.7 466.9,501.61 467.4,501.92 467.9,502.45 468.4,503.06 468.9,503.96 469.4,503.6 469.9,502.72 470.4,503.6 470.9,504.19 471.4,504.3 471.9,504.12 472.4,503.6 472.9,503.26 473.4,503.5 473.9,503.79 474.4,503.56 474.9,503.32 475.4,503.56 475.9,502.67 476.4,501.01 476.9,502.67 477.4,504.17 477.9,503.5 478.4,502.26 478.9,501.5 479.4,502.26 479.9,503.54 480.4,502.64 480.9,502.46 481.4,502.88 481.9,503.68 482.4,503.83 482.9,503.9 483.4,503.52 483.9,503.52 484.4,503.8 484.9,504.21 485.4,503.94 485.9,503.36 486.4,503.04 486.9,502.77 487.4,501.14 487.9,502.77 488.4,503.14 488.9,501.79 489.4,501.07 489.9,501.79 490.4,503.14 490.9,504.03 491.4,502.71 491.9,501.32 492.4,502.71 492.9,503.22 493.4,502.08 493.9,501.49 494.4,502.08 494.9,503.22 495.4,503.66 495.9,503.25 496.4,502.82 496.9,503.25 497.4,503.65 497.9,503.88 498.4,503.63 498.9,504.03 499.4,504.14 499.9,503.61 499.9,504.4Z" fill="#2a7d4e"/>
<line x1="389.9" y1="504.5" x2="499.9" y2="504.5" stroke="#1d6e42" stroke-width="0.8"/>
<path d="M389.9,520.6 389.9,520.2 390.4,519.71 390.9,519.43 391.4,519.28 391.9,515.08 392.4,517.23 392.9,520.39 393.4,520.1 393.9,519.98 394.4,519.84 394.9,518.89 395.4,518.37 395.9,518.89 396.4,519.84 396.9,519.88 397.4,520.15 397.9,519.34 398.4,518.82 398.9,518.46 399.4,518.93 399.9,519.75 400.4,519.01 400.9,518.14 401.4,519.01 401.9,520.08 402.4,519.86 402.9,519.69 403.4,519.32 403.9,518.97 404.4,517.98 404.9,517.8 405.4,518.03 405.9,518.74 406.4,517.97 406.9,518.74 407.4,518.68 407.9,517.86 408.4,518.15 408.9,519.14 409.4,519.95 409.9,520.12 410.4,519.85 410.9,520.12 411.4,520.48 411.9,520.57 412.4,520.42 412.9,520.08 413.4,519.86 413.9,520.08 414.4,519.91 414.9,519.36 415.4,519.86 415.9,519.28 416.4,519.86 416.9,520.1 417.4,520.34 417.9,519.14 418.4,517.99 418.9,519.14 419.4,520.29 419.9,519.94 420.4,520.56 420.9,520.14 421.4,520.27 421.9,520.19 422.4,520.5 422.9,520.12 423.4,519.16 423.9,518.51 424.4,519.16 424.9,518.66 425.4,517.99 425.9,518.66 426.4,518.94 426.9,519.34 427.4,519.22 427.9,519.51 428.4,519.83 428.9,520.17 429.4,519.22 429.9,518.28 430.4,519.22 430.9,518.94 431.4,519.29 431.9,519.45 432.4,518.79 432.9,517.89 433.4,518.18 433.9,518.67 434.4,518 434.9,518.67 435.4,519.8 435.9,519.82 436.4,519.87 436.9,520.16 437.4,520.21 437.9,520.4 438.4,519.95 438.9,520.33 439.4,520.37 439.9,520.32 440.4,520.08 440.9,519.25 441.4,518.41 441.9,519.25 442.4,519.42 442.9,518.62 443.4,519.42 443.9,520.04 444.4,518.94 444.9,518.22 445.4,518.94 445.9,518.55 446.4,518.19 446.9,518.88 447.4,519.97 447.9,520.37 448.4,519.5 448.9,518.74 449.4,519.5 449.9,519.27 450.4,519.76 450.9,519.84 451.4,519.84 451.9,519.63 452.4,519.84 452.9,519.97 453.4,519.56 453.9,519.35 454.4,519.6 454.9,519.89 455.4,520.44 455.9,520.15 456.4,519.72 456.9,519.1 457.4,518.27 457.9,519.1 458.4,520.2 458.9,520.33 459.4,519.99 459.9,519.03 460.4,518.44 460.9,519.03 461.4,519.53 461.9,520.14 462.4,520.28 462.9,520.48 463.4,519.91 463.9,520.59 464.4,520.55 464.9,520.17 465.4,520.59 465.9,520.45 466.4,519.92 466.9,520.07 467.4,518.87 467.9,518.05 468.4,518.85 468.9,518.26 469.4,518.85 469.9,518.55 470.4,519.04 470.9,519.91 471.4,520.35 471.9,520.57 472.4,520.22 472.9,520.52 473.4,520.59 473.9,519.81 474.4,520.41 474.9,520.47 475.4,520.1 475.9,519.57 476.4,520.01 476.9,518.98 477.4,518.34 477.9,518.8 478.4,518.28 478.9,517.84 479.4,518.78 479.9,519.56 480.4,519.92 480.9,520.24 481.4,520.12 481.9,519.88 482.4,519.94 482.9,519.82 483.4,520.04 483.9,520.39 484.4,520.19 484.9,520.34 485.4,519.83 485.9,519.5 486.4,519.83 486.9,519.61 487.4,519.18 487.9,519.61 488.4,519.74 488.9,519.78 489.4,518.68 489.9,518.05 490.4,518.68 490.9,519.78 491.4,520.27 491.9,519.54 492.4,518.46 492.9,517.89 493.4,518.46 493.9,519.54 494.4,519.76 494.9,519.72 495.4,519.73 495.9,520.24 496.4,520.34 496.9,520.45 497.4,519.68 497.9,517.44 498.4,518.54 498.9,519.58 499.4,519.31 499.9,519.58 499.9,520.6Z" fill="#4cb26a"/>
<line x1="389.9" y1="520.5" x2="499.9" y2="520.5" stroke="#2ea653" stroke-width="0.8"/>
<path d="M423.2,428.5 Q439.15,436.4 455.1,428.5" fill="none" stroke="#e0605f" stroke-width="0.6"/>
<line x1="389.4" y1="487.5" x2="500.6" y2="487.5" stroke="#9a9a9a" stroke-width="0.5"/>
<rect x="389.5" y="412.5" width="111" height="115" fill="none" stroke="#8a8a8a" stroke-width="0.8"/>
<text x="391.3" y="419.2" stroke="#e9866e" stroke-width="0.15" font-size="6.1" fill="#e9866e">25</text>
<text x="495.7" y="419.2" stroke="#2a2a2a" stroke-width="0.15" text-anchor="end" fill="#2a2a2a">SATB2 WT</text>
<text x="391.3" y="434.8" stroke="#c9ab7e" stroke-width="0.15" font-size="6.1" fill="#c9ab7e">30</text>
<text x="495.7" y="434.8" stroke="#2a2a2a" stroke-width="0.15" text-anchor="end" fill="#2a2a2a">SATB2 WT</text>
<text x="391.3" y="451" stroke="#e3a08e" stroke-width="0.15" font-size="6.1" fill="#e3a08e">14</text>
<text x="495.7" y="451" stroke="#2a2a2a" stroke-width="0.15" text-anchor="end" fill="#2a2a2a">SATB2 KO</text>
<text x="391.3" y="464.6" stroke="#222222" stroke-width="0.15" font-size="6.1" fill="#222222">28</text>
<text x="495.7" y="464.6" stroke="#2a2a2a" stroke-width="0.15" text-anchor="end" fill="#2a2a2a">SATB2 WT</text>
<text x="391.3" y="480.2" stroke="#222222" stroke-width="0.15" font-size="6.1" fill="#222222">10</text>
<text x="495.7" y="480.2" stroke="#2a2a2a" stroke-width="0.15" text-anchor="end" fill="#2a2a2a">SATB2 KO</text>
<text x="391.3" y="494" stroke="#3f8f5c" stroke-width="0.15" font-size="6.1" fill="#3f8f5c">35</text>
<text x="495.7" y="494" stroke="#2a2a2a" stroke-width="0.15" text-anchor="end" fill="#2a2a2a">SATB2 WT</text>
<text x="391.3" y="511" stroke="#4aa866" stroke-width="0.15" font-size="6.1" fill="#4aa866">30</text>
<text x="495.7" y="511" stroke="#2a2a2a" stroke-width="0.15" text-anchor="end" fill="#2a2a2a">SATB2 KO</text>
<text x="422.8" y="410.5" stroke="#333" stroke-width="0.25" text-anchor="middle" font-size="6.3" fill="#333">P</text>
<text x="455.1" y="410.5" stroke="#333" stroke-width="0.25" text-anchor="middle" font-size="6.3" fill="#333">E</text>
<text x="387.3" y="422" stroke="#1a1a1a" stroke-width="0.25" text-anchor="end">SATB2</text>
<text x="387.3" y="440" stroke="#1a1a1a" stroke-width="0.25" text-anchor="end">NRF2</text>
<text x="387.3" y="455.6" stroke="#1a1a1a" stroke-width="0.25" text-anchor="end">NRF2</text>
<text x="387.3" y="468.9" stroke="#1a1a1a" stroke-width="0.25" text-anchor="end">BRG1</text>
<text x="387.3" y="484.1" stroke="#1a1a1a" stroke-width="0.25" text-anchor="end">BRG1</text>
<line x1="366.5" y1="416" x2="366.5" y2="481.5" stroke="#444" stroke-width="0.6"/>
<text x="360.5" y="448.75" stroke="#1a1a1a" stroke-width="0.25" text-anchor="middle" transform="rotate(-90 360.5 448.75)">ChIP-seq</text>
<line x1="381.5" y1="494.8" x2="381.5" y2="520.7" stroke="#444" stroke-width="0.6"/>
<text x="375.6" y="507.75" stroke="#1a1a1a" stroke-width="0.25" text-anchor="middle" transform="rotate(-90 375.6 507.75)">ATAC-seq</text>
<line x1="94.2" y1="530.5" x2="109.3" y2="530.5" stroke="#2c2c7e" stroke-width="0.7"/>
<rect x="94.2" y="528.8" width="2" height="2.6" fill="#2c2c7e"/>
<rect x="97.5" y="528.8" width="2" height="2.6" fill="#2c2c7e"/>
<rect x="104" y="528.8" width="1" height="2.6" fill="#2c2c7e"/>
<rect x="108.6" y="528.8" width="0.7" height="2.6" fill="#2c2c7e"/>
<path d="M96.22,529.1 l1,1 l-1,1" fill="none" stroke="#2c2c7e" stroke-width="0.4"/>
<path d="M98.73,529.1 l1,1 l-1,1" fill="none" stroke="#2c2c7e" stroke-width="0.4"/>
<path d="M101.25,529.1 l1,1 l-1,1" fill="none" stroke="#2c2c7e" stroke-width="0.4"/>
<path d="M103.77,529.1 l1,1 l-1,1" fill="none" stroke="#2c2c7e" stroke-width="0.4"/>
<path d="M106.28,529.1 l1,1 l-1,1" fill="none" stroke="#2c2c7e" stroke-width="0.4"/>
<path d="M94.4,532.6 V539.3 H106.5" fill="none" stroke="#4646a0" stroke-width="0.6"/>
<path d="M108.5,539.3 l-2.6,-1.5 v3 z" fill="#2c2c7e"/>
<text x="112.2" y="536.6" stroke="#1a1a1a" stroke-width="0.25" font-size="6.1">HMOX1</text>
<line x1="287.5" y1="530.5" x2="306.3" y2="530.5" stroke="#2c2c7e" stroke-width="0.7"/>
<rect x="287.5" y="529.5" width="1.5" height="2.6" fill="#2c2c7e"/>
<rect x="290.5" y="529.5" width="1" height="2.6" fill="#2c2c7e"/>
<rect x="293" y="529.5" width="2.5" height="2.6" fill="#2c2c7e"/>
<rect x="296.5" y="529.5" width="2.5" height="2.6" fill="#2c2c7e"/>
<rect x="300" y="529.5" width="1.5" height="2.6" fill="#2c2c7e"/>
<rect x="305" y="529.5" width="1.3" height="2.6" fill="#2c2c7e"/>
<path d="M290.13,529.8 l1,1 l-1,1" fill="none" stroke="#2c2c7e" stroke-width="0.4"/>
<path d="M293.27,529.8 l1,1 l-1,1" fill="none" stroke="#2c2c7e" stroke-width="0.4"/>
<path d="M296.4,529.8 l1,1 l-1,1" fill="none" stroke="#2c2c7e" stroke-width="0.4"/>
<path d="M299.53,529.8 l1,1 l-1,1" fill="none" stroke="#2c2c7e" stroke-width="0.4"/>
<path d="M302.67,529.8 l1,1 l-1,1" fill="none" stroke="#2c2c7e" stroke-width="0.4"/>
<path d="M287.7,533.3 V540 H299" fill="none" stroke="#4646a0" stroke-width="0.6"/>
<path d="M301,540 l-2.6,-1.5 v3 z" fill="#2c2c7e"/>
<text x="309" y="538.3" stroke="#1a1a1a" stroke-width="0.25" font-size="6.1">NQO1</text>
<line x1="422.8" y1="531.5" x2="457.8" y2="531.5" stroke="#2c2c7e" stroke-width="0.7"/>
<rect x="422.8" y="530.1" width="2.2" height="2.6" fill="#2c2c7e"/>
<rect x="426.5" y="530.1" width="1.5" height="2.6" fill="#2c2c7e"/>
<rect x="429" y="530.1" width="1" height="2.6" fill="#2c2c7e"/>
<rect x="433" y="530.1" width="1" height="2.6" fill="#2c2c7e"/>
<rect x="441" y="530.1" width="1" height="2.6" fill="#2c2c7e"/>
<rect x="446" y="530.1" width="1" height="2.6" fill="#2c2c7e"/>
<rect x="457.3" y="530.1" width="0.5" height="2.6" fill="#2c2c7e"/>
<path d="M428.13,530.4 l1,1 l-1,1" fill="none" stroke="#2c2c7e" stroke-width="0.4"/>
<path d="M433.97,530.4 l1,1 l-1,1" fill="none" stroke="#2c2c7e" stroke-width="0.4"/>
<path d="M439.8,530.4 l1,1 l-1,1" fill="none" stroke="#2c2c7e" stroke-width="0.4"/>
<path d="M445.63,530.4 l1,1 l-1,1" fill="none" stroke="#2c2c7e" stroke-width="0.4"/>
<path d="M451.47,530.4 l1,1 l-1,1" fill="none" stroke="#2c2c7e" stroke-width="0.4"/>
<path d="M423,533.9 V540.6 H435" fill="none" stroke="#4646a0" stroke-width="0.6"/>
<path d="M437,540.6 l-2.6,-1.5 v3 z" fill="#2c2c7e"/>
<text x="463.2" y="533.6" stroke="#1a1a1a" stroke-width="0.25" font-size="6.1">FTH1</text>
<text x="0.3" y="550.8" stroke="#000" stroke-width="0.12" font-size="13.2" fill="#000" font-weight="bold">K</text>
<linearGradient id="tubeg" x1="0" y1="0" x2="1" y2="0"><stop offset="0" stop-color="#c9c9c9"/><stop offset="0.45" stop-color="#f4f4f4"/><stop offset="1" stop-color="#bdbdbd"/></linearGradient>
<path d="M52.8,566.6 H63 Q67.3,566.6 67.6,562.1 L66.8,553.6" fill="none" stroke="#9a9a9a" stroke-width="0.9"/>
<path d="M66.3,556.6 l1.2,-2 l0.6,5" fill="none" stroke="#b0b0b0" stroke-width="0.6"/>
<line x1="52.6" y1="566.5" x2="63.4" y2="566.5" stroke="#8a8a8a" stroke-width="1"/>
<path d="M53.3,567.4 V582 Q53.3,586 57.1,586 Q60.9,586 60.9,582 V567.4 Z" fill="url(#tubeg)" stroke="#8f8f8f" stroke-width="0.6"/>
<path d="M53.8,571 V582 Q53.8,585.4 57.1,585.4 Q60.4,585.4 60.4,582 V571 Z" fill="#e9cdd6" opacity="0.9"/>
<circle cx="55.2" cy="582.02" r="0.69" fill="#d07090" opacity="0.8"/>
<circle cx="55.11" cy="580.89" r="0.56" fill="#b05080" opacity="0.8"/>
<circle cx="58.6" cy="572.22" r="0.36" fill="#b05080" opacity="0.8"/>
<circle cx="56.75" cy="580.91" r="0.35" fill="#b05080" opacity="0.8"/>
<circle cx="55.88" cy="581.42" r="0.62" fill="#c0406a" opacity="0.8"/>
<circle cx="59.19" cy="571.4" r="0.36" fill="#c0406a" opacity="0.8"/>
<circle cx="59.38" cy="575.96" r="0.45" fill="#b05080" opacity="0.8"/>
<circle cx="58.27" cy="577.86" r="0.69" fill="#b05080" opacity="0.8"/>
<circle cx="57.37" cy="575.49" r="0.65" fill="#b05080" opacity="0.8"/>
<circle cx="59.45" cy="583.04" r="0.54" fill="#c0406a" opacity="0.8"/>
<circle cx="55.47" cy="583.9" r="0.74" fill="#c0406a" opacity="0.8"/>
<circle cx="58.36" cy="582.64" r="0.79" fill="#b05080" opacity="0.8"/>
<circle cx="57.14" cy="582.83" r="0.44" fill="#d07090" opacity="0.8"/>
<circle cx="57.56" cy="582.47" r="0.73" fill="#b05080" opacity="0.8"/>
<circle cx="57.56" cy="571.45" r="0.46" fill="#b05080" opacity="0.8"/>
<circle cx="56.65" cy="573.25" r="0.6" fill="#d07090" opacity="0.8"/>
<circle cx="54.95" cy="579.63" r="0.4" fill="#a03060" opacity="0.8"/>
<circle cx="57.21" cy="576.11" r="0.57" fill="#c0406a" opacity="0.8"/>
<circle cx="56.94" cy="575.01" r="0.73" fill="#b05080" opacity="0.8"/>
<circle cx="57.87" cy="573.19" r="0.45" fill="#c0406a" opacity="0.8"/>
<circle cx="58.51" cy="578.02" r="0.74" fill="#a03060" opacity="0.8"/>
<circle cx="56.6" cy="575.47" r="0.73" fill="#d07090" opacity="0.8"/>
<circle cx="56.89" cy="574.5" r="0.6" fill="#c0406a" opacity="0.8"/>
<circle cx="56.5" cy="582.14" r="0.78" fill="#a03060" opacity="0.8"/>
<circle cx="57.2" cy="578.3" r="0.54" fill="#c0406a" opacity="0.8"/>
<circle cx="57" cy="575.74" r="0.6" fill="#b05080" opacity="0.8"/>
<circle cx="57.02" cy="575.64" r="0.51" fill="#d07090" opacity="0.8"/>
<circle cx="56.88" cy="571.36" r="0.45" fill="#a03060" opacity="0.8"/>
<circle cx="57.36" cy="573.35" r="0.39" fill="#d07090" opacity="0.8"/>
<circle cx="54.67" cy="583.27" r="0.38" fill="#c0406a" opacity="0.8"/>
<circle cx="56.86" cy="580.8" r="0.48" fill="#d07090" opacity="0.8"/>
<circle cx="55.07" cy="579.12" r="0.5" fill="#c0406a" opacity="0.8"/>
<circle cx="55.37" cy="574.32" r="0.78" fill="#d07090" opacity="0.8"/>
<circle cx="57.87" cy="574.83" r="0.67" fill="#b05080" opacity="0.8"/>
<circle cx="56.96" cy="571.31" r="0.52" fill="#b05080" opacity="0.8"/>
<circle cx="58.64" cy="574.36" r="0.46" fill="#a03060" opacity="0.8"/>
<circle cx="59.52" cy="576.61" r="0.79" fill="#a03060" opacity="0.8"/>
<circle cx="54.59" cy="572.9" r="0.67" fill="#a03060" opacity="0.8"/>
<circle cx="56.82" cy="577.58" r="0.54" fill="#a03060" opacity="0.8"/>
<circle cx="59.58" cy="579.2" r="0.66" fill="#b05080" opacity="0.8"/>
<path d="M52.8,619.3 H63 Q67.3,619.3 67.6,614.8 L66.8,606.3" fill="none" stroke="#9a9a9a" stroke-width="0.9"/>
<path d="M66.3,609.3 l1.2,-2 l0.6,5" fill="none" stroke="#b0b0b0" stroke-width="0.6"/>
<line x1="52.6" y1="619.5" x2="63.4" y2="619.5" stroke="#8a8a8a" stroke-width="1"/>
<path d="M53.3,620.1 V634.2 Q53.3,638.2 57.1,638.2 Q60.9,638.2 60.9,634.2 V620.1 Z" fill="url(#tubeg)" stroke="#8f8f8f" stroke-width="0.6"/>
<path d="M53.8,624 V634.2 Q53.8,637.6 57.1,637.6 Q60.4,637.6 60.4,634.2 V624 Z" fill="#e9cdd6" opacity="0.9"/>
<circle cx="59.47" cy="635.56" r="0.38" fill="#c0406a" opacity="0.8"/>
<circle cx="56.38" cy="626.06" r="0.71" fill="#d07090" opacity="0.8"/>
<circle cx="55.81" cy="626.59" r="0.37" fill="#a03060" opacity="0.8"/>
<circle cx="59.7" cy="631.79" r="0.71" fill="#d07090" opacity="0.8"/>
<circle cx="57.33" cy="629.43" r="0.47" fill="#c0406a" opacity="0.8"/>
<circle cx="59.03" cy="628.44" r="0.77" fill="#b05080" opacity="0.8"/>
<circle cx="56.7" cy="634.79" r="0.42" fill="#a03060" opacity="0.8"/>
<circle cx="55.73" cy="624.29" r="0.5" fill="#a03060" opacity="0.8"/>
<circle cx="57.15" cy="628.39" r="0.58" fill="#a03060" opacity="0.8"/>
<circle cx="59.67" cy="629.44" r="0.54" fill="#d07090" opacity="0.8"/>
<circle cx="58.61" cy="628.32" r="0.79" fill="#b05080" opacity="0.8"/>
<circle cx="55.34" cy="633.2" r="0.67" fill="#b05080" opacity="0.8"/>
<circle cx="57.91" cy="627.05" r="0.48" fill="#b05080" opacity="0.8"/>
<circle cx="57.1" cy="634.14" r="0.51" fill="#b05080" opacity="0.8"/>
<circle cx="59.18" cy="629.62" r="0.61" fill="#b05080" opacity="0.8"/>
<circle cx="57.03" cy="626.71" r="0.5" fill="#a03060" opacity="0.8"/>
<circle cx="59.06" cy="631.52" r="0.7" fill="#b05080" opacity="0.8"/>
<circle cx="56.11" cy="635.68" r="0.67" fill="#b05080" opacity="0.8"/>
<circle cx="56.12" cy="626.54" r="0.58" fill="#c0406a" opacity="0.8"/>
<circle cx="58.58" cy="628.17" r="0.35" fill="#a03060" opacity="0.8"/>
<circle cx="59.68" cy="625.3" r="0.61" fill="#c0406a" opacity="0.8"/>
<circle cx="55.92" cy="626.76" r="0.74" fill="#c0406a" opacity="0.8"/>
<circle cx="58.42" cy="625.67" r="0.47" fill="#a03060" opacity="0.8"/>
<circle cx="59.41" cy="624.74" r="0.75" fill="#c0406a" opacity="0.8"/>
<circle cx="54.8" cy="628.39" r="0.46" fill="#c0406a" opacity="0.8"/>
<circle cx="54.93" cy="635.65" r="0.36" fill="#c0406a" opacity="0.8"/>
<circle cx="56.44" cy="625.56" r="0.77" fill="#a03060" opacity="0.8"/>
<circle cx="57.22" cy="624.02" r="0.62" fill="#a03060" opacity="0.8"/>
<circle cx="55.29" cy="624.44" r="0.5" fill="#c0406a" opacity="0.8"/>
<circle cx="55.99" cy="629.96" r="0.49" fill="#c0406a" opacity="0.8"/>
<circle cx="59.19" cy="633.22" r="0.74" fill="#a03060" opacity="0.8"/>
<circle cx="56.96" cy="626.75" r="0.65" fill="#d07090" opacity="0.8"/>
<circle cx="58.86" cy="624.3" r="0.7" fill="#a03060" opacity="0.8"/>
<circle cx="57.2" cy="633.53" r="0.57" fill="#d07090" opacity="0.8"/>
<path d="M52.8,672 H63 Q67.3,672 67.6,667.5 L66.8,659" fill="none" stroke="#9a9a9a" stroke-width="0.9"/>
<path d="M66.3,662 l1.2,-2 l0.6,5" fill="none" stroke="#b0b0b0" stroke-width="0.6"/>
<line x1="52.6" y1="672.5" x2="63.4" y2="672.5" stroke="#8a8a8a" stroke-width="1"/>
<path d="M53.3,672.8 V687.2 Q53.3,691.2 57.1,691.2 Q60.9,691.2 60.9,687.2 V672.8 Z" fill="url(#tubeg)" stroke="#8f8f8f" stroke-width="0.6"/>
<path d="M53.8,679 V687.2 Q53.8,690.6 57.1,690.6 Q60.4,690.6 60.4,687.2 V679 Z" fill="#e9cdd6" opacity="0.5"/>
<circle cx="55.74" cy="684.55" r="0.52" fill="#b05080" opacity="0.8"/>
<circle cx="57.75" cy="679.67" r="0.36" fill="#b05080" opacity="0.8"/>
<circle cx="55.85" cy="681.39" r="0.8" fill="#b05080" opacity="0.8"/>
<circle cx="57.31" cy="684.61" r="0.53" fill="#a03060" opacity="0.8"/>
<circle cx="55.71" cy="680.55" r="0.77" fill="#b05080" opacity="0.8"/>
<circle cx="58.35" cy="685.85" r="0.38" fill="#c0406a" opacity="0.8"/>
<circle cx="56.07" cy="679.32" r="0.74" fill="#b05080" opacity="0.8"/>
<circle cx="57.59" cy="688.39" r="0.52" fill="#b05080" opacity="0.8"/>
<circle cx="56.55" cy="687.17" r="0.55" fill="#a03060" opacity="0.8"/>
<circle cx="59.07" cy="679.99" r="0.41" fill="#a03060" opacity="0.8"/>
<line x1="57.5" y1="588.2" x2="57.5" y2="607.5" stroke="#d8304c" stroke-width="0.7"/>
<path d="M57.2,610.5 l-1.7,-3.6 h3.4 z" fill="#d8304c"/>
<line x1="57.5" y1="641.2" x2="57.5" y2="660.6" stroke="#d8304c" stroke-width="0.7"/>
<path d="M57.2,663.6 l-1.7,-3.6 h3.4 z" fill="#d8304c"/>
<text x="10.6" y="561.5" stroke="#1a1a1a" stroke-width="0.25" font-size="5.9">FLAG-SATB2</text>
<text x="10.6" y="572.7" stroke="#1a1a1a" stroke-width="0.25" font-size="5.9">HA-NRF2</text>
<text x="10.6" y="596.5" stroke="#1a1a1a" stroke-width="0.25" font-size="5.9">first round IP:</text>
<text x="10.6" y="603.5" stroke="#1a1a1a" stroke-width="0.25" font-size="5.9">Flag</text>
<text x="10.6" y="630.4" stroke="#1a1a1a" stroke-width="0.25" font-size="5.9">elution</text>
<text x="10.6" y="651.2" stroke="#1a1a1a" stroke-width="0.25" font-size="5.9">second round IP:</text>
<text x="10.6" y="658" stroke="#1a1a1a" stroke-width="0.25" font-size="5.9">HA</text>
<text x="10.6" y="682.7" stroke="#1a1a1a" stroke-width="0.25" font-size="5.9">Re-IP complex</text>
<rect x="123.1" y="571.3" width="50.7" height="12.1" fill="#bcbcbc"/>
<rect x="123.3" y="576.29" width="10.39" height="2.52" rx="1.26" fill="#0d0d0d" opacity="1"/>
<rect x="137.17" y="576.86" width="8.65" height="1.28" rx="0.64" fill="#222" opacity="0.19"/>
<rect x="148.6" y="576.04" width="10.39" height="2.52" rx="1.26" fill="#0d0d0d" opacity="1"/>
<rect x="161.18" y="576.28" width="9.45" height="1.85" rx="0.93" fill="#0d0d0d" opacity="0.75"/>
<rect x="123.5" y="571.5" width="50" height="12" fill="none" stroke="#3a3a3a" stroke-width="0.9"/>
<text x="120.6" y="579.55" stroke="#1a1a1a" stroke-width="0.25" text-anchor="end">SMARCA5</text>
<rect x="123.1" y="585.4" width="50.7" height="12.5" fill="#c4c4c4"/>
<rect x="123.25" y="590.13" width="10.5" height="2.6" rx="1.3" fill="#0d0d0d" opacity="1"/>
<rect x="148.55" y="590.56" width="10.5" height="2.6" rx="1.3" fill="#0d0d0d" opacity="1"/>
<rect x="160.65" y="590.51" width="10.5" height="2.6" rx="1.3" fill="#0d0d0d" opacity="1"/>
<rect x="123.5" y="585.5" width="50" height="12" fill="none" stroke="#3a3a3a" stroke-width="0.9"/>
<text x="120.6" y="593.85" stroke="#1a1a1a" stroke-width="0.25" text-anchor="end">BRG1</text>
<rect x="123.1" y="599.5" width="50.7" height="12.2" fill="#c6c6c6"/>
<rect x="123.67" y="604.87" width="9.66" height="2" rx="1" fill="#0d0d0d" opacity="0.81"/>
<rect x="148.92" y="604.83" width="9.77" height="2.08" rx="1.04" fill="#0d0d0d" opacity="0.84"/>
<rect x="161.02" y="604.3" width="9.77" height="2.08" rx="1.04" fill="#0d0d0d" opacity="0.84"/>
<rect x="123.5" y="599.5" width="50" height="12" fill="none" stroke="#3a3a3a" stroke-width="0.9"/>
<text x="120.6" y="607.8" stroke="#1a1a1a" stroke-width="0.25" text-anchor="end">PHF10</text>
<rect x="123.1" y="613.7" width="50.7" height="12.1" fill="#bebebe"/>
<rect x="123.25" y="618.29" width="10.5" height="2.6" rx="1.3" fill="#0d0d0d" opacity="1"/>
<rect x="137.19" y="619.15" width="8.61" height="1.25" rx="0.62" fill="#222" opacity="0.16"/>
<rect x="148.55" y="618.37" width="10.5" height="2.6" rx="1.3" fill="#0d0d0d" opacity="1"/>
<rect x="160.65" y="618.51" width="10.5" height="2.6" rx="1.3" fill="#0d0d0d" opacity="1"/>
<rect x="123.5" y="613.5" width="50" height="12" fill="none" stroke="#3a3a3a" stroke-width="0.9"/>
<text x="120.6" y="621.95" stroke="#1a1a1a" stroke-width="0.25" text-anchor="end">BRD7</text>
<rect x="123.1" y="628.1" width="50.7" height="12.1" fill="#d4d4d4"/>
<rect x="123.93" y="633.18" width="9.13" height="1.62" rx="0.81" fill="#0d0d0d" opacity="0.66"/>
<rect x="149.18" y="633.06" width="9.24" height="1.7" rx="0.85" fill="#0d0d0d" opacity="0.69"/>
<rect x="123.5" y="628.5" width="50" height="12" fill="none" stroke="#3a3a3a" stroke-width="0.9"/>
<text x="120.6" y="636.35" stroke="#1a1a1a" stroke-width="0.25" text-anchor="end">MED1</text>
<rect x="123.1" y="643.2" width="50.7" height="12.2" fill="#d0d0d0"/>
<rect x="123.25" y="648.07" width="10.5" height="2.6" rx="1.3" fill="#0d0d0d" opacity="1"/>
<rect x="148.76" y="648.3" width="10.08" height="2.3" rx="1.15" fill="#0d0d0d" opacity="0.93"/>
<rect x="123.5" y="643.5" width="50" height="12" fill="none" stroke="#3a3a3a" stroke-width="0.9"/>
<text x="120.6" y="651.5" stroke="#1a1a1a" stroke-width="0.25" text-anchor="end">MED5</text>
<rect x="123.1" y="657.4" width="50.7" height="12.1" fill="#d2d2d2"/>
<rect x="123.67" y="662.63" width="9.66" height="2" rx="1" fill="#0d0d0d" opacity="0.81"/>
<rect x="148.6" y="662.38" width="10.39" height="2.52" rx="1.26" fill="#0d0d0d" opacity="1"/>
<rect x="123.5" y="657.5" width="50" height="12" fill="none" stroke="#3a3a3a" stroke-width="0.9"/>
<text x="120.6" y="665.65" stroke="#1a1a1a" stroke-width="0.25" text-anchor="end">MED16</text>
<rect x="123.1" y="672.1" width="50.7" height="12.1" fill="#c6c6c6"/>
<rect x="123.25" y="676.74" width="10.5" height="2.6" rx="1.3" fill="#0d0d0d" opacity="1"/>
<rect x="148.55" y="676.64" width="10.5" height="2.6" rx="1.3" fill="#0d0d0d" opacity="1"/>
<rect x="160.65" y="676.94" width="10.5" height="2.6" rx="1.3" fill="#0d0d0d" opacity="1"/>
<rect x="123.5" y="672.5" width="50" height="12" fill="none" stroke="#3a3a3a" stroke-width="0.9"/>
<text x="120.6" y="680.35" stroke="#1a1a1a" stroke-width="0.25" text-anchor="end">FLAG</text>
<rect x="123.1" y="686.7" width="50.7" height="12.1" fill="#cacaca"/>
<rect x="123.56" y="691.51" width="9.87" height="2.15" rx="1.07" fill="#0d0d0d" opacity="0.87"/>
<rect x="149.02" y="692.06" width="9.55" height="1.93" rx="0.96" fill="#0d0d0d" opacity="0.78"/>
<rect x="160.65" y="691.23" width="10.5" height="2.6" rx="1.3" fill="#0d0d0d" opacity="1"/>
<rect x="123.5" y="686.5" width="50" height="12" fill="none" stroke="#3a3a3a" stroke-width="0.9"/>
<text x="120.6" y="694.95" stroke="#1a1a1a" stroke-width="0.25" text-anchor="end">HA</text>
<text x="131.25" y="566.3" stroke="#1a1a1a" stroke-width="0.25" font-size="6.9" transform="rotate(-90 131.25 566.3)">Input</text>
<text x="144.4" y="566.3" stroke="#1a1a1a" stroke-width="0.25" font-size="6.9" transform="rotate(-90 144.4 566.3)">IgG</text>
<text x="155.6" y="566.3" stroke="#1a1a1a" stroke-width="0.25" font-size="6.9" transform="rotate(-90 155.6 566.3)">1st IP</text>
<text x="168.1" y="566.3" stroke="#1a1a1a" stroke-width="0.25" font-size="6.9" transform="rotate(-90 168.1 566.3)">Re-IP</text>
<text x="85.3" y="599.5" stroke="#1a1a1a" stroke-width="0.25" text-anchor="middle" transform="rotate(-90 85.3 599.5)">SWI/SNF complex</text>
<line x1="89.5" y1="575.3" x2="89.5" y2="621.8" stroke="#1a1a1a" stroke-width="0.6"/>
<text x="84.2" y="648.3" stroke="#1a1a1a" stroke-width="0.25" text-anchor="middle" transform="rotate(-90 84.2 648.3)">Mediator</text>
<text x="91.9" y="648.3" stroke="#1a1a1a" stroke-width="0.25" text-anchor="middle" transform="rotate(-90 91.9 648.3)">complex</text>
<line x1="95.5" y1="633.1" x2="95.5" y2="663.4" stroke="#1a1a1a" stroke-width="0.6"/>
<text x="199.1" y="554.6" stroke="#000" stroke-width="0.12" font-size="13.2" fill="#000" font-weight="bold">L</text>
<rect x="227.3" y="589.3" width="80.9" height="14.4" fill="#cfcfcf"/>
<rect x="228.75" y="595.44" width="11.5" height="2.6" rx="1.3" fill="#0d0d0d" opacity="1"/>
<rect x="241.54" y="595.5" width="10.93" height="2.23" rx="1.11" fill="#0d0d0d" opacity="0.9"/>
<rect x="282.75" y="595.36" width="11.5" height="2.6" rx="1.3" fill="#0d0d0d" opacity="1"/>
<rect x="227.5" y="589.5" width="81" height="14" fill="none" stroke="#3a3a3a" stroke-width="0.9"/>
<text x="225" y="598.7" stroke="#1a1a1a" stroke-width="0.25" text-anchor="end">BRD7</text>
<rect x="227.3" y="606.9" width="80.9" height="15" fill="#cfcfcf"/>
<rect x="228.75" y="612.9" width="11.5" height="2.6" rx="1.3" fill="#0d0d0d" opacity="1"/>
<rect x="241.25" y="613.21" width="11.5" height="2.6" rx="1.3" fill="#0d0d0d" opacity="1"/>
<rect x="283.44" y="613.63" width="10.12" height="1.7" rx="0.85" fill="#0d0d0d" opacity="0.69"/>
<rect x="227.5" y="606.5" width="81" height="15" fill="none" stroke="#3a3a3a" stroke-width="0.9"/>
<text x="225" y="616.6" stroke="#1a1a1a" stroke-width="0.25" text-anchor="end">BRG1</text>
<rect x="227.3" y="624.2" width="80.9" height="15.1" fill="#cfcfcf"/>
<rect x="229.21" y="631.02" width="10.58" height="2" rx="1" fill="#0d0d0d" opacity="0.81"/>
<rect x="241.65" y="630.5" width="10.7" height="2.08" rx="1.04" fill="#0d0d0d" opacity="0.84"/>
<rect x="283.38" y="630.58" width="10.23" height="1.78" rx="0.89" fill="#0d0d0d" opacity="0.72"/>
<rect x="227.5" y="624.5" width="81" height="15" fill="none" stroke="#3a3a3a" stroke-width="0.9"/>
<text x="225" y="633.95" stroke="#1a1a1a" stroke-width="0.25" text-anchor="end">SMARCA5</text>
<rect x="227.3" y="642.3" width="80.9" height="15.4" fill="#cfcfcf"/>
<rect x="228.75" y="648.95" width="11.5" height="2.6" rx="1.3" fill="#0d0d0d" opacity="1"/>
<rect x="241.25" y="648.97" width="11.5" height="2.6" rx="1.3" fill="#0d0d0d" opacity="1"/>
<rect x="282.75" y="648.94" width="11.5" height="2.6" rx="1.3" fill="#0d0d0d" opacity="1"/>
<rect x="227.5" y="642.5" width="81" height="15" fill="none" stroke="#3a3a3a" stroke-width="0.9"/>
<text x="225" y="652.2" stroke="#1a1a1a" stroke-width="0.25" text-anchor="end">PHF10</text>
<rect x="227.3" y="660.5" width="80.9" height="14.5" fill="#cfcfcf"/>
<rect x="228.75" y="666.58" width="11.5" height="2.6" rx="1.3" fill="#0d0d0d" opacity="1"/>
<rect x="282.75" y="666.65" width="11.5" height="2.6" rx="1.3" fill="#0d0d0d" opacity="1"/>
<rect x="227.5" y="660.5" width="81" height="15" fill="none" stroke="#3a3a3a" stroke-width="0.9"/>
<text x="225" y="669.95" stroke="#1a1a1a" stroke-width="0.25" text-anchor="end">SATB2</text>
<rect x="227.3" y="678.5" width="80.9" height="15" fill="#cfcfcf"/>
<rect x="229.38" y="685.04" width="10.23" height="1.78" rx="0.89" fill="#0d0d0d" opacity="0.72"/>
<rect x="241.88" y="685.37" width="10.23" height="1.78" rx="0.89" fill="#0d0d0d" opacity="0.72"/>
<rect x="282.75" y="684.91" width="11.5" height="2.6" rx="1.3" fill="#0d0d0d" opacity="1"/>
<rect x="294.25" y="684.53" width="11.5" height="2.6" rx="1.3" fill="#0d0d0d" opacity="1"/>
<rect x="227.5" y="678.5" width="81" height="15" fill="none" stroke="#3a3a3a" stroke-width="0.9"/>
<text x="225" y="688.2" stroke="#1a1a1a" stroke-width="0.25" text-anchor="end">NRF2</text>
<text x="238" y="586.7" stroke="#1a1a1a" stroke-width="0.25" font-size="6.4" transform="rotate(-90 238 586.7)">WT</text>
<text x="248.6" y="586.7" stroke="#1a1a1a" stroke-width="0.25" font-size="6.4" transform="rotate(-90 248.6 586.7)">KO#1</text>
<text x="265" y="586.7" stroke="#1a1a1a" stroke-width="0.25" font-size="6.4" transform="rotate(-90 265 586.7)">WT</text>
<text x="275.7" y="586.7" stroke="#1a1a1a" stroke-width="0.25" font-size="6.4" transform="rotate(-90 275.7 586.7)">KO#1</text>
<text x="291.2" y="586.7" stroke="#1a1a1a" stroke-width="0.25" font-size="6.4" transform="rotate(-90 291.2 586.7)">WT</text>
<text x="301.9" y="586.7" stroke="#1a1a1a" stroke-width="0.25" font-size="6.4" transform="rotate(-90 301.9 586.7)">KO#1</text>
<line x1="232.4" y1="567.5" x2="249.6" y2="567.5" stroke="#1a1a1a" stroke-width="0.9"/>
<line x1="259.4" y1="567.5" x2="277.5" y2="567.5" stroke="#1a1a1a" stroke-width="0.9"/>
<line x1="285.7" y1="567.5" x2="303.7" y2="567.5" stroke="#1a1a1a" stroke-width="0.9"/>
<text x="245.8" y="563" stroke="#1a1a1a" stroke-width="0.25" font-size="6.8" transform="rotate(-90 245.8 563)">Input</text>
<text x="264.2" y="563" stroke="#1a1a1a" stroke-width="0.25" font-size="6.5" transform="rotate(-90 264.2 563)">IP:</text>
<text x="274.8" y="563" stroke="#1a1a1a" stroke-width="0.25" font-size="6.5" transform="rotate(-90 274.8 563)">IgG</text>
<text x="290.9" y="563" stroke="#1a1a1a" stroke-width="0.25" font-size="6.5" transform="rotate(-90 290.9 563)">IP:</text>
<text x="301.1" y="563" stroke="#1a1a1a" stroke-width="0.25" font-size="6.5" transform="rotate(-90 301.1 563)">NRF2</text>
<text x="266.6" y="701.2" stroke="#1a1a1a" stroke-width="0.25" text-anchor="middle" font-size="5.9">SFN-treated 24 h</text>
<text x="336" y="554.6" stroke="#000" stroke-width="0.12" font-size="13.2" fill="#000" font-weight="bold">M</text>
<path d="M408.92 572.9l1.3 -0.48l1.3 0.48l-1.3 0.48zM412.82 570.03l1.3 -0.48l1.3 0.48l-1.3 0.48zM419.33 565.24l1.3 -0.48l1.3 0.48l-1.3 0.48zM420.63 564.29l1.3 -0.48l1.3 0.48l-1.3 0.48zM421.93 563.33l1.3 -0.48l1.3 0.48l-1.3 0.48zM423.23 562.37l1.3 -0.48l1.3 0.48l-1.3 0.48zM425.84 560.46l1.3 -0.48l1.3 0.48l-1.3 0.48zM427.14 559.5l1.3 -0.48l1.3 0.48l-1.3 0.48zM432.34 555.68l1.3 -0.48l1.3 0.48l-1.3 0.48zM433.64 554.72l1.3 -0.48l1.3 0.48l-1.3 0.48zM436.24 552.81l1.3 -0.48l1.3 0.48l-1.3 0.48zM438.85 550.89l1.3 -0.48l1.3 0.48l-1.3 0.48zM406.32 576.73l1.3 -0.48l1.3 0.48l-1.3 0.48zM416.73 569.07l1.3 -0.48l1.3 0.48l-1.3 0.48zM423.23 564.29l1.3 -0.48l1.3 0.48l-1.3 0.48zM424.53 563.33l1.3 -0.48l1.3 0.48l-1.3 0.48zM425.84 562.37l1.3 -0.48l1.3 0.48l-1.3 0.48zM427.14 561.42l1.3 -0.48l1.3 0.48l-1.3 0.48zM428.44 560.46l1.3 -0.48l1.3 0.48l-1.3 0.48zM429.74 559.5l1.3 -0.48l1.3 0.48l-1.3 0.48zM431.04 558.55l1.3 -0.48l1.3 0.48l-1.3 0.48zM432.34 557.59l1.3 -0.48l1.3 0.48l-1.3 0.48zM437.55 553.76l1.3 -0.48l1.3 0.48l-1.3 0.48zM440.15 551.85l1.3 -0.48l1.3 0.48l-1.3 0.48zM441.45 550.89l1.3 -0.48l1.3 0.48l-1.3 0.48zM442.75 549.94l1.3 -0.48l1.3 0.48l-1.3 0.48zM416.73 570.99l1.3 -0.48l1.3 0.48l-1.3 0.48zM420.63 568.11l1.3 -0.48l1.3 0.48l-1.3 0.48zM421.93 567.16l1.3 -0.48l1.3 0.48l-1.3 0.48zM424.53 565.24l1.3 -0.48l1.3 0.48l-1.3 0.48zM425.84 564.29l1.3 -0.48l1.3 0.48l-1.3 0.48zM428.44 562.37l1.3 -0.48l1.3 0.48l-1.3 0.48zM429.74 561.42l1.3 -0.48l1.3 0.48l-1.3 0.48zM434.94 557.59l1.3 -0.48l1.3 0.48l-1.3 0.48zM437.55 555.68l1.3 -0.48l1.3 0.48l-1.3 0.48zM440.15 553.76l1.3 -0.48l1.3 0.48l-1.3 0.48zM442.75 551.85l1.3 -0.48l1.3 0.48l-1.3 0.48zM444.05 550.89l1.3 -0.48l1.3 0.48l-1.3 0.48zM416.73 572.9l1.3 -0.48l1.3 0.48l-1.3 0.48zM419.33 570.99l1.3 -0.48l1.3 0.48l-1.3 0.48zM421.93 569.07l1.3 -0.48l1.3 0.48l-1.3 0.48zM424.53 567.16l1.3 -0.48l1.3 0.48l-1.3 0.48zM425.84 566.2l1.3 -0.48l1.3 0.48l-1.3 0.48zM429.74 563.33l1.3 -0.48l1.3 0.48l-1.3 0.48zM432.34 561.42l1.3 -0.48l1.3 0.48l-1.3 0.48zM433.64 560.46l1.3 -0.48l1.3 0.48l-1.3 0.48zM437.55 557.59l1.3 -0.48l1.3 0.48l-1.3 0.48zM438.85 556.63l1.3 -0.48l1.3 0.48l-1.3 0.48zM445.35 551.85l1.3 -0.48l1.3 0.48l-1.3 0.48zM415.43 575.77l1.3 -0.48l1.3 0.48l-1.3 0.48zM418.03 573.86l1.3 -0.48l1.3 0.48l-1.3 0.48zM419.33 572.9l1.3 -0.48l1.3 0.48l-1.3 0.48zM427.14 567.16l1.3 -0.48l1.3 0.48l-1.3 0.48zM428.44 566.2l1.3 -0.48l1.3 0.48l-1.3 0.48zM429.74 565.24l1.3 -0.48l1.3 0.48l-1.3 0.48zM433.64 562.37l1.3 -0.48l1.3 0.48l-1.3 0.48zM437.55 559.5l1.3 -0.48l1.3 0.48l-1.3 0.48zM441.45 556.63l1.3 -0.48l1.3 0.48l-1.3 0.48zM442.75 555.68l1.3 -0.48l1.3 0.48l-1.3 0.48zM444.05 554.72l1.3 -0.48l1.3 0.48l-1.3 0.48zM445.35 553.76l1.3 -0.48l1.3 0.48l-1.3 0.48zM446.65 552.81l1.3 -0.48l1.3 0.48l-1.3 0.48zM414.12 578.64l1.3 -0.48l1.3 0.48l-1.3 0.48zM415.43 577.68l1.3 -0.48l1.3 0.48l-1.3 0.48zM420.63 573.86l1.3 -0.48l1.3 0.48l-1.3 0.48zM427.14 569.07l1.3 -0.48l1.3 0.48l-1.3 0.48zM428.44 568.11l1.3 -0.48l1.3 0.48l-1.3 0.48zM429.74 567.16l1.3 -0.48l1.3 0.48l-1.3 0.48zM431.04 566.2l1.3 -0.48l1.3 0.48l-1.3 0.48zM433.64 564.29l1.3 -0.48l1.3 0.48l-1.3 0.48zM440.15 559.5l1.3 -0.48l1.3 0.48l-1.3 0.48zM445.35 555.68l1.3 -0.48l1.3 0.48l-1.3 0.48zM446.65 554.72l1.3 -0.48l1.3 0.48l-1.3 0.48zM418.03 577.68l1.3 -0.48l1.3 0.48l-1.3 0.48zM423.23 573.86l1.3 -0.48l1.3 0.48l-1.3 0.48zM427.14 570.99l1.3 -0.48l1.3 0.48l-1.3 0.48zM429.74 569.07l1.3 -0.48l1.3 0.48l-1.3 0.48zM434.94 565.24l1.3 -0.48l1.3 0.48l-1.3 0.48zM441.45 560.46l1.3 -0.48l1.3 0.48l-1.3 0.48zM442.75 559.5l1.3 -0.48l1.3 0.48l-1.3 0.48zM444.05 558.55l1.3 -0.48l1.3 0.48l-1.3 0.48zM445.35 557.59l1.3 -0.48l1.3 0.48l-1.3 0.48zM446.65 556.63l1.3 -0.48l1.3 0.48l-1.3 0.48zM447.95 555.68l1.3 -0.48l1.3 0.48l-1.3 0.48zM419.33 578.64l1.3 -0.48l1.3 0.48l-1.3 0.48zM425.84 573.86l1.3 -0.48l1.3 0.48l-1.3 0.48zM428.44 571.94l1.3 -0.48l1.3 0.48l-1.3 0.48zM433.64 568.11l1.3 -0.48l1.3 0.48l-1.3 0.48zM437.55 565.24l1.3 -0.48l1.3 0.48l-1.3 0.48zM440.15 563.33l1.3 -0.48l1.3 0.48l-1.3 0.48zM442.75 561.42l1.3 -0.48l1.3 0.48l-1.3 0.48zM445.35 559.5l1.3 -0.48l1.3 0.48l-1.3 0.48zM446.65 558.55l1.3 -0.48l1.3 0.48l-1.3 0.48zM449.26 556.63l1.3 -0.48l1.3 0.48l-1.3 0.48zM450.56 555.68l1.3 -0.48l1.3 0.48l-1.3 0.48zM424.53 576.73l1.3 -0.48l1.3 0.48l-1.3 0.48zM427.14 574.81l1.3 -0.48l1.3 0.48l-1.3 0.48zM429.74 572.9l1.3 -0.48l1.3 0.48l-1.3 0.48zM433.64 570.03l1.3 -0.48l1.3 0.48l-1.3 0.48zM436.24 568.11l1.3 -0.48l1.3 0.48l-1.3 0.48zM438.85 566.2l1.3 -0.48l1.3 0.48l-1.3 0.48zM441.45 564.29l1.3 -0.48l1.3 0.48l-1.3 0.48zM445.35 561.42l1.3 -0.48l1.3 0.48l-1.3 0.48zM447.95 559.5l1.3 -0.48l1.3 0.48l-1.3 0.48zM449.26 558.55l1.3 -0.48l1.3 0.48l-1.3 0.48zM450.56 557.59l1.3 -0.48l1.3 0.48l-1.3 0.48zM424.53 578.64l1.3 -0.48l1.3 0.48l-1.3 0.48zM432.34 572.9l1.3 -0.48l1.3 0.48l-1.3 0.48zM434.94 570.99l1.3 -0.48l1.3 0.48l-1.3 0.48zM436.24 570.03l1.3 -0.48l1.3 0.48l-1.3 0.48zM437.55 569.07l1.3 -0.48l1.3 0.48l-1.3 0.48zM438.85 568.11l1.3 -0.48l1.3 0.48l-1.3 0.48zM440.15 567.16l1.3 -0.48l1.3 0.48l-1.3 0.48zM441.45 566.2l1.3 -0.48l1.3 0.48l-1.3 0.48zM444.05 564.29l1.3 -0.48l1.3 0.48l-1.3 0.48zM445.35 563.33l1.3 -0.48l1.3 0.48l-1.3 0.48zM449.26 560.46l1.3 -0.48l1.3 0.48l-1.3 0.48zM450.56 559.5l1.3 -0.48l1.3 0.48l-1.3 0.48zM451.86 558.55l1.3 -0.48l1.3 0.48l-1.3 0.48zM453.16 557.59l1.3 -0.48l1.3 0.48l-1.3 0.48zM434.94 572.9l1.3 -0.48l1.3 0.48l-1.3 0.48zM438.85 570.03l1.3 -0.48l1.3 0.48l-1.3 0.48zM440.15 569.07l1.3 -0.48l1.3 0.48l-1.3 0.48zM442.75 567.16l1.3 -0.48l1.3 0.48l-1.3 0.48zM444.05 566.2l1.3 -0.48l1.3 0.48l-1.3 0.48zM445.35 565.24l1.3 -0.48l1.3 0.48l-1.3 0.48zM449.26 562.37l1.3 -0.48l1.3 0.48l-1.3 0.48zM450.56 561.42l1.3 -0.48l1.3 0.48l-1.3 0.48zM451.86 560.46l1.3 -0.48l1.3 0.48l-1.3 0.48zM453.16 559.5l1.3 -0.48l1.3 0.48l-1.3 0.48zM432.34 576.73l1.3 -0.48l1.3 0.48l-1.3 0.48zM436.24 573.86l1.3 -0.48l1.3 0.48l-1.3 0.48zM442.75 569.07l1.3 -0.48l1.3 0.48l-1.3 0.48zM444.05 568.11l1.3 -0.48l1.3 0.48l-1.3 0.48zM449.26 564.29l1.3 -0.48l1.3 0.48l-1.3 0.48zM454.46 560.46l1.3 -0.48l1.3 0.48l-1.3 0.48zM437.55 574.81l1.3 -0.48l1.3 0.48l-1.3 0.48zM441.45 571.94l1.3 -0.48l1.3 0.48l-1.3 0.48zM444.05 570.03l1.3 -0.48l1.3 0.48l-1.3 0.48zM445.35 569.07l1.3 -0.48l1.3 0.48l-1.3 0.48zM446.65 568.11l1.3 -0.48l1.3 0.48l-1.3 0.48zM450.56 565.24l1.3 -0.48l1.3 0.48l-1.3 0.48zM451.86 564.29l1.3 -0.48l1.3 0.48l-1.3 0.48zM455.76 561.42l1.3 -0.48l1.3 0.48l-1.3 0.48zM445.35 570.99l1.3 -0.48l1.3 0.48l-1.3 0.48zM446.65 570.03l1.3 -0.48l1.3 0.48l-1.3 0.48zM449.26 568.11l1.3 -0.48l1.3 0.48l-1.3 0.48zM450.56 567.16l1.3 -0.48l1.3 0.48l-1.3 0.48zM454.46 564.29l1.3 -0.48l1.3 0.48l-1.3 0.48zM455.76 563.33l1.3 -0.48l1.3 0.48l-1.3 0.48zM441.45 575.77l1.3 -0.48l1.3 0.48l-1.3 0.48zM447.95 572.9l1.3 -0.48l1.3 0.48l-1.3 0.48zM449.26 571.94l1.3 -0.48l1.3 0.48l-1.3 0.48zM450.56 570.99l1.3 -0.48l1.3 0.48l-1.3 0.48zM451.86 570.03l1.3 -0.48l1.3 0.48l-1.3 0.48zM453.16 569.07l1.3 -0.48l1.3 0.48l-1.3 0.48zM457.06 566.2l1.3 -0.48l1.3 0.48l-1.3 0.48zM460.97 563.33l1.3 -0.48l1.3 0.48l-1.3 0.48zM445.35 576.73l1.3 -0.48l1.3 0.48l-1.3 0.48zM449.26 573.86l1.3 -0.48l1.3 0.48l-1.3 0.48zM458.36 567.16l1.3 -0.48l1.3 0.48l-1.3 0.48zM459.66 566.2l1.3 -0.48l1.3 0.48l-1.3 0.48zM462.27 564.29l1.3 -0.48l1.3 0.48l-1.3 0.48zM446.65 577.68l1.3 -0.48l1.3 0.48l-1.3 0.48zM457.06 570.03l1.3 -0.48l1.3 0.48l-1.3 0.48zM462.27 566.2l1.3 -0.48l1.3 0.48l-1.3 0.48zM453.16 574.81l1.3 -0.48l1.3 0.48l-1.3 0.48zM454.46 573.86l1.3 -0.48l1.3 0.48l-1.3 0.48zM455.76 572.9l1.3 -0.48l1.3 0.48l-1.3 0.48zM457.06 571.94l1.3 -0.48l1.3 0.48l-1.3 0.48zM459.66 570.03l1.3 -0.48l1.3 0.48l-1.3 0.48zM463.57 567.16l1.3 -0.48l1.3 0.48l-1.3 0.48zM464.87 566.2l1.3 -0.48l1.3 0.48l-1.3 0.48zM457.06 573.86l1.3 -0.48l1.3 0.48l-1.3 0.48zM458.36 572.9l1.3 -0.48l1.3 0.48l-1.3 0.48zM462.27 570.03l1.3 -0.48l1.3 0.48l-1.3 0.48zM457.06 575.77l1.3 -0.48l1.3 0.48l-1.3 0.48zM460.97 572.9l1.3 -0.48l1.3 0.48l-1.3 0.48zM464.87 570.03l1.3 -0.48l1.3 0.48l-1.3 0.48zM467.47 568.11l1.3 -0.48l1.3 0.48l-1.3 0.48zM462.27 573.86l1.3 -0.48l1.3 0.48l-1.3 0.48zM464.87 571.94l1.3 -0.48l1.3 0.48l-1.3 0.48zM467.47 570.03l1.3 -0.48l1.3 0.48l-1.3 0.48zM460.97 576.73l1.3 -0.48l1.3 0.48l-1.3 0.48zM464.87 573.86l1.3 -0.48l1.3 0.48l-1.3 0.48zM463.57 576.73l1.3 -0.48l1.3 0.48l-1.3 0.48zM471.38 570.99l1.3 -0.48l1.3 0.48l-1.3 0.48zM466.17 576.73l1.3 -0.48l1.3 0.48l-1.3 0.48zM467.47 579.6l1.3 -0.48l1.3 0.48l-1.3 0.48z" fill="#fdebed" stroke="#fdebed" stroke-width="0.25"/>
<path d="M399.81 579.6l1.3 -0.48l1.3 0.48l-1.3 0.48zM402.41 577.68l1.3 -0.48l1.3 0.48l-1.3 0.48zM405.02 575.77l1.3 -0.48l1.3 0.48l-1.3 0.48zM406.32 574.81l1.3 -0.48l1.3 0.48l-1.3 0.48zM407.62 573.86l1.3 -0.48l1.3 0.48l-1.3 0.48zM410.22 571.94l1.3 -0.48l1.3 0.48l-1.3 0.48zM411.52 570.99l1.3 -0.48l1.3 0.48l-1.3 0.48zM414.12 569.07l1.3 -0.48l1.3 0.48l-1.3 0.48zM415.43 568.11l1.3 -0.48l1.3 0.48l-1.3 0.48zM416.73 567.16l1.3 -0.48l1.3 0.48l-1.3 0.48zM418.03 566.2l1.3 -0.48l1.3 0.48l-1.3 0.48zM424.53 561.42l1.3 -0.48l1.3 0.48l-1.3 0.48zM428.44 558.55l1.3 -0.48l1.3 0.48l-1.3 0.48zM429.74 557.59l1.3 -0.48l1.3 0.48l-1.3 0.48zM431.04 556.63l1.3 -0.48l1.3 0.48l-1.3 0.48zM434.94 553.76l1.3 -0.48l1.3 0.48l-1.3 0.48zM437.55 551.85l1.3 -0.48l1.3 0.48l-1.3 0.48zM440.15 549.94l1.3 -0.48l1.3 0.48l-1.3 0.48zM441.45 548.98l1.3 -0.48l1.3 0.48l-1.3 0.48zM399.81 581.51l1.3 -0.48l1.3 0.48l-1.3 0.48zM401.11 580.55l1.3 -0.48l1.3 0.48l-1.3 0.48zM403.72 578.64l1.3 -0.48l1.3 0.48l-1.3 0.48zM407.62 575.77l1.3 -0.48l1.3 0.48l-1.3 0.48zM408.92 574.81l1.3 -0.48l1.3 0.48l-1.3 0.48zM410.22 573.86l1.3 -0.48l1.3 0.48l-1.3 0.48zM411.52 572.9l1.3 -0.48l1.3 0.48l-1.3 0.48zM412.82 571.94l1.3 -0.48l1.3 0.48l-1.3 0.48zM414.12 570.99l1.3 -0.48l1.3 0.48l-1.3 0.48zM415.43 570.03l1.3 -0.48l1.3 0.48l-1.3 0.48zM418.03 568.11l1.3 -0.48l1.3 0.48l-1.3 0.48zM419.33 567.16l1.3 -0.48l1.3 0.48l-1.3 0.48zM420.63 566.2l1.3 -0.48l1.3 0.48l-1.3 0.48zM421.93 565.24l1.3 -0.48l1.3 0.48l-1.3 0.48zM433.64 556.63l1.3 -0.48l1.3 0.48l-1.3 0.48zM434.94 555.68l1.3 -0.48l1.3 0.48l-1.3 0.48zM436.24 554.72l1.3 -0.48l1.3 0.48l-1.3 0.48zM438.85 552.81l1.3 -0.48l1.3 0.48l-1.3 0.48zM401.11 582.47l1.3 -0.48l1.3 0.48l-1.3 0.48zM406.32 578.64l1.3 -0.48l1.3 0.48l-1.3 0.48zM407.62 577.68l1.3 -0.48l1.3 0.48l-1.3 0.48zM408.92 576.73l1.3 -0.48l1.3 0.48l-1.3 0.48zM410.22 575.77l1.3 -0.48l1.3 0.48l-1.3 0.48zM411.52 574.81l1.3 -0.48l1.3 0.48l-1.3 0.48zM412.82 573.86l1.3 -0.48l1.3 0.48l-1.3 0.48zM415.43 571.94l1.3 -0.48l1.3 0.48l-1.3 0.48zM418.03 570.03l1.3 -0.48l1.3 0.48l-1.3 0.48zM419.33 569.07l1.3 -0.48l1.3 0.48l-1.3 0.48zM423.23 566.2l1.3 -0.48l1.3 0.48l-1.3 0.48zM427.14 563.33l1.3 -0.48l1.3 0.48l-1.3 0.48zM431.04 560.46l1.3 -0.48l1.3 0.48l-1.3 0.48zM432.34 559.5l1.3 -0.48l1.3 0.48l-1.3 0.48zM433.64 558.55l1.3 -0.48l1.3 0.48l-1.3 0.48zM436.24 556.63l1.3 -0.48l1.3 0.48l-1.3 0.48zM438.85 554.72l1.3 -0.48l1.3 0.48l-1.3 0.48zM441.45 552.81l1.3 -0.48l1.3 0.48l-1.3 0.48zM407.62 579.6l1.3 -0.48l1.3 0.48l-1.3 0.48zM410.22 577.68l1.3 -0.48l1.3 0.48l-1.3 0.48zM412.82 575.77l1.3 -0.48l1.3 0.48l-1.3 0.48zM418.03 571.94l1.3 -0.48l1.3 0.48l-1.3 0.48zM420.63 570.03l1.3 -0.48l1.3 0.48l-1.3 0.48zM423.23 568.11l1.3 -0.48l1.3 0.48l-1.3 0.48zM427.14 565.24l1.3 -0.48l1.3 0.48l-1.3 0.48zM428.44 564.29l1.3 -0.48l1.3 0.48l-1.3 0.48zM431.04 562.37l1.3 -0.48l1.3 0.48l-1.3 0.48zM434.94 559.5l1.3 -0.48l1.3 0.48l-1.3 0.48zM436.24 558.55l1.3 -0.48l1.3 0.48l-1.3 0.48zM440.15 555.68l1.3 -0.48l1.3 0.48l-1.3 0.48zM441.45 554.72l1.3 -0.48l1.3 0.48l-1.3 0.48zM442.75 553.76l1.3 -0.48l1.3 0.48l-1.3 0.48zM444.05 552.81l1.3 -0.48l1.3 0.48l-1.3 0.48zM408.92 580.55l1.3 -0.48l1.3 0.48l-1.3 0.48zM414.12 576.73l1.3 -0.48l1.3 0.48l-1.3 0.48zM416.73 574.81l1.3 -0.48l1.3 0.48l-1.3 0.48zM420.63 571.94l1.3 -0.48l1.3 0.48l-1.3 0.48zM421.93 570.99l1.3 -0.48l1.3 0.48l-1.3 0.48zM423.23 570.03l1.3 -0.48l1.3 0.48l-1.3 0.48zM424.53 569.07l1.3 -0.48l1.3 0.48l-1.3 0.48zM425.84 568.11l1.3 -0.48l1.3 0.48l-1.3 0.48zM431.04 564.29l1.3 -0.48l1.3 0.48l-1.3 0.48zM432.34 563.33l1.3 -0.48l1.3 0.48l-1.3 0.48zM434.94 561.42l1.3 -0.48l1.3 0.48l-1.3 0.48zM436.24 560.46l1.3 -0.48l1.3 0.48l-1.3 0.48zM438.85 558.55l1.3 -0.48l1.3 0.48l-1.3 0.48zM440.15 557.59l1.3 -0.48l1.3 0.48l-1.3 0.48zM411.52 580.55l1.3 -0.48l1.3 0.48l-1.3 0.48zM416.73 576.73l1.3 -0.48l1.3 0.48l-1.3 0.48zM418.03 575.77l1.3 -0.48l1.3 0.48l-1.3 0.48zM421.93 572.9l1.3 -0.48l1.3 0.48l-1.3 0.48zM423.23 571.94l1.3 -0.48l1.3 0.48l-1.3 0.48zM424.53 570.99l1.3 -0.48l1.3 0.48l-1.3 0.48zM425.84 570.03l1.3 -0.48l1.3 0.48l-1.3 0.48zM432.34 565.24l1.3 -0.48l1.3 0.48l-1.3 0.48zM434.94 563.33l1.3 -0.48l1.3 0.48l-1.3 0.48zM436.24 562.37l1.3 -0.48l1.3 0.48l-1.3 0.48zM437.55 561.42l1.3 -0.48l1.3 0.48l-1.3 0.48zM438.85 560.46l1.3 -0.48l1.3 0.48l-1.3 0.48zM441.45 558.55l1.3 -0.48l1.3 0.48l-1.3 0.48zM442.75 557.59l1.3 -0.48l1.3 0.48l-1.3 0.48zM444.05 556.63l1.3 -0.48l1.3 0.48l-1.3 0.48zM447.95 553.76l1.3 -0.48l1.3 0.48l-1.3 0.48zM411.52 582.47l1.3 -0.48l1.3 0.48l-1.3 0.48zM415.43 579.6l1.3 -0.48l1.3 0.48l-1.3 0.48zM416.73 578.64l1.3 -0.48l1.3 0.48l-1.3 0.48zM419.33 576.73l1.3 -0.48l1.3 0.48l-1.3 0.48zM424.53 572.9l1.3 -0.48l1.3 0.48l-1.3 0.48zM425.84 571.94l1.3 -0.48l1.3 0.48l-1.3 0.48zM428.44 570.03l1.3 -0.48l1.3 0.48l-1.3 0.48zM431.04 568.11l1.3 -0.48l1.3 0.48l-1.3 0.48zM432.34 567.16l1.3 -0.48l1.3 0.48l-1.3 0.48zM433.64 566.2l1.3 -0.48l1.3 0.48l-1.3 0.48zM436.24 564.29l1.3 -0.48l1.3 0.48l-1.3 0.48zM437.55 563.33l1.3 -0.48l1.3 0.48l-1.3 0.48zM438.85 562.37l1.3 -0.48l1.3 0.48l-1.3 0.48zM440.15 561.42l1.3 -0.48l1.3 0.48l-1.3 0.48zM449.26 554.72l1.3 -0.48l1.3 0.48l-1.3 0.48zM416.73 580.55l1.3 -0.48l1.3 0.48l-1.3 0.48zM421.93 576.73l1.3 -0.48l1.3 0.48l-1.3 0.48zM423.23 575.77l1.3 -0.48l1.3 0.48l-1.3 0.48zM424.53 574.81l1.3 -0.48l1.3 0.48l-1.3 0.48zM429.74 570.99l1.3 -0.48l1.3 0.48l-1.3 0.48zM431.04 570.03l1.3 -0.48l1.3 0.48l-1.3 0.48zM432.34 569.07l1.3 -0.48l1.3 0.48l-1.3 0.48zM434.94 567.16l1.3 -0.48l1.3 0.48l-1.3 0.48zM436.24 566.2l1.3 -0.48l1.3 0.48l-1.3 0.48zM438.85 564.29l1.3 -0.48l1.3 0.48l-1.3 0.48zM441.45 562.37l1.3 -0.48l1.3 0.48l-1.3 0.48zM444.05 560.46l1.3 -0.48l1.3 0.48l-1.3 0.48zM447.95 557.59l1.3 -0.48l1.3 0.48l-1.3 0.48zM418.03 581.51l1.3 -0.48l1.3 0.48l-1.3 0.48zM420.63 579.6l1.3 -0.48l1.3 0.48l-1.3 0.48zM421.93 578.64l1.3 -0.48l1.3 0.48l-1.3 0.48zM425.84 575.77l1.3 -0.48l1.3 0.48l-1.3 0.48zM428.44 573.86l1.3 -0.48l1.3 0.48l-1.3 0.48zM431.04 571.94l1.3 -0.48l1.3 0.48l-1.3 0.48zM432.34 570.99l1.3 -0.48l1.3 0.48l-1.3 0.48zM434.94 569.07l1.3 -0.48l1.3 0.48l-1.3 0.48zM437.55 567.16l1.3 -0.48l1.3 0.48l-1.3 0.48zM440.15 565.24l1.3 -0.48l1.3 0.48l-1.3 0.48zM442.75 563.33l1.3 -0.48l1.3 0.48l-1.3 0.48zM444.05 562.37l1.3 -0.48l1.3 0.48l-1.3 0.48zM446.65 560.46l1.3 -0.48l1.3 0.48l-1.3 0.48zM451.86 556.63l1.3 -0.48l1.3 0.48l-1.3 0.48zM419.33 582.47l1.3 -0.48l1.3 0.48l-1.3 0.48zM420.63 581.51l1.3 -0.48l1.3 0.48l-1.3 0.48zM421.93 580.55l1.3 -0.48l1.3 0.48l-1.3 0.48zM423.23 579.6l1.3 -0.48l1.3 0.48l-1.3 0.48zM425.84 577.68l1.3 -0.48l1.3 0.48l-1.3 0.48zM427.14 576.73l1.3 -0.48l1.3 0.48l-1.3 0.48zM429.74 574.81l1.3 -0.48l1.3 0.48l-1.3 0.48zM431.04 573.86l1.3 -0.48l1.3 0.48l-1.3 0.48zM433.64 571.94l1.3 -0.48l1.3 0.48l-1.3 0.48zM442.75 565.24l1.3 -0.48l1.3 0.48l-1.3 0.48zM446.65 562.37l1.3 -0.48l1.3 0.48l-1.3 0.48zM447.95 561.42l1.3 -0.48l1.3 0.48l-1.3 0.48zM420.63 583.42l1.3 -0.48l1.3 0.48l-1.3 0.48zM421.93 582.47l1.3 -0.48l1.3 0.48l-1.3 0.48zM423.23 581.51l1.3 -0.48l1.3 0.48l-1.3 0.48zM428.44 577.68l1.3 -0.48l1.3 0.48l-1.3 0.48zM429.74 576.73l1.3 -0.48l1.3 0.48l-1.3 0.48zM436.24 571.94l1.3 -0.48l1.3 0.48l-1.3 0.48zM437.55 570.99l1.3 -0.48l1.3 0.48l-1.3 0.48zM441.45 568.11l1.3 -0.48l1.3 0.48l-1.3 0.48zM446.65 564.29l1.3 -0.48l1.3 0.48l-1.3 0.48zM447.95 563.33l1.3 -0.48l1.3 0.48l-1.3 0.48zM454.46 558.55l1.3 -0.48l1.3 0.48l-1.3 0.48zM433.64 575.77l1.3 -0.48l1.3 0.48l-1.3 0.48zM438.85 571.94l1.3 -0.48l1.3 0.48l-1.3 0.48zM440.15 570.99l1.3 -0.48l1.3 0.48l-1.3 0.48zM445.35 567.16l1.3 -0.48l1.3 0.48l-1.3 0.48zM446.65 566.2l1.3 -0.48l1.3 0.48l-1.3 0.48zM447.95 565.24l1.3 -0.48l1.3 0.48l-1.3 0.48zM450.56 563.33l1.3 -0.48l1.3 0.48l-1.3 0.48zM451.86 562.37l1.3 -0.48l1.3 0.48l-1.3 0.48zM453.16 561.42l1.3 -0.48l1.3 0.48l-1.3 0.48zM455.76 559.5l1.3 -0.48l1.3 0.48l-1.3 0.48zM432.34 578.64l1.3 -0.48l1.3 0.48l-1.3 0.48zM436.24 575.77l1.3 -0.48l1.3 0.48l-1.3 0.48zM438.85 573.86l1.3 -0.48l1.3 0.48l-1.3 0.48zM440.15 572.9l1.3 -0.48l1.3 0.48l-1.3 0.48zM447.95 567.16l1.3 -0.48l1.3 0.48l-1.3 0.48zM449.26 566.2l1.3 -0.48l1.3 0.48l-1.3 0.48zM453.16 563.33l1.3 -0.48l1.3 0.48l-1.3 0.48zM454.46 562.37l1.3 -0.48l1.3 0.48l-1.3 0.48zM457.06 560.46l1.3 -0.48l1.3 0.48l-1.3 0.48zM438.85 575.77l1.3 -0.48l1.3 0.48l-1.3 0.48zM440.15 574.81l1.3 -0.48l1.3 0.48l-1.3 0.48zM442.75 572.9l1.3 -0.48l1.3 0.48l-1.3 0.48zM444.05 571.94l1.3 -0.48l1.3 0.48l-1.3 0.48zM447.95 569.07l1.3 -0.48l1.3 0.48l-1.3 0.48zM451.86 566.2l1.3 -0.48l1.3 0.48l-1.3 0.48zM453.16 565.24l1.3 -0.48l1.3 0.48l-1.3 0.48zM457.06 562.37l1.3 -0.48l1.3 0.48l-1.3 0.48zM458.36 561.42l1.3 -0.48l1.3 0.48l-1.3 0.48zM440.15 576.73l1.3 -0.48l1.3 0.48l-1.3 0.48zM442.75 574.81l1.3 -0.48l1.3 0.48l-1.3 0.48zM447.95 570.99l1.3 -0.48l1.3 0.48l-1.3 0.48zM449.26 570.03l1.3 -0.48l1.3 0.48l-1.3 0.48zM450.56 569.07l1.3 -0.48l1.3 0.48l-1.3 0.48zM451.86 568.11l1.3 -0.48l1.3 0.48l-1.3 0.48zM453.16 567.16l1.3 -0.48l1.3 0.48l-1.3 0.48zM454.46 566.2l1.3 -0.48l1.3 0.48l-1.3 0.48zM455.76 565.24l1.3 -0.48l1.3 0.48l-1.3 0.48zM457.06 564.29l1.3 -0.48l1.3 0.48l-1.3 0.48zM458.36 563.33l1.3 -0.48l1.3 0.48l-1.3 0.48zM459.66 562.37l1.3 -0.48l1.3 0.48l-1.3 0.48zM444.05 575.77l1.3 -0.48l1.3 0.48l-1.3 0.48zM445.35 574.81l1.3 -0.48l1.3 0.48l-1.3 0.48zM446.65 573.86l1.3 -0.48l1.3 0.48l-1.3 0.48zM454.46 568.11l1.3 -0.48l1.3 0.48l-1.3 0.48zM455.76 567.16l1.3 -0.48l1.3 0.48l-1.3 0.48zM458.36 565.24l1.3 -0.48l1.3 0.48l-1.3 0.48zM459.66 564.29l1.3 -0.48l1.3 0.48l-1.3 0.48zM444.05 577.68l1.3 -0.48l1.3 0.48l-1.3 0.48zM446.65 575.77l1.3 -0.48l1.3 0.48l-1.3 0.48zM451.86 571.94l1.3 -0.48l1.3 0.48l-1.3 0.48zM453.16 570.99l1.3 -0.48l1.3 0.48l-1.3 0.48zM455.76 569.07l1.3 -0.48l1.3 0.48l-1.3 0.48zM457.06 568.11l1.3 -0.48l1.3 0.48l-1.3 0.48zM460.97 565.24l1.3 -0.48l1.3 0.48l-1.3 0.48zM444.05 579.6l1.3 -0.48l1.3 0.48l-1.3 0.48zM447.95 576.73l1.3 -0.48l1.3 0.48l-1.3 0.48zM453.16 572.9l1.3 -0.48l1.3 0.48l-1.3 0.48zM454.46 571.94l1.3 -0.48l1.3 0.48l-1.3 0.48zM458.36 569.07l1.3 -0.48l1.3 0.48l-1.3 0.48zM459.66 568.11l1.3 -0.48l1.3 0.48l-1.3 0.48zM460.97 567.16l1.3 -0.48l1.3 0.48l-1.3 0.48zM463.57 565.24l1.3 -0.48l1.3 0.48l-1.3 0.48zM447.95 578.64l1.3 -0.48l1.3 0.48l-1.3 0.48zM458.36 570.99l1.3 -0.48l1.3 0.48l-1.3 0.48zM460.97 569.07l1.3 -0.48l1.3 0.48l-1.3 0.48zM462.27 568.11l1.3 -0.48l1.3 0.48l-1.3 0.48zM446.65 581.51l1.3 -0.48l1.3 0.48l-1.3 0.48zM447.95 580.55l1.3 -0.48l1.3 0.48l-1.3 0.48zM450.56 578.64l1.3 -0.48l1.3 0.48l-1.3 0.48zM451.86 577.68l1.3 -0.48l1.3 0.48l-1.3 0.48zM455.76 574.81l1.3 -0.48l1.3 0.48l-1.3 0.48zM460.97 570.99l1.3 -0.48l1.3 0.48l-1.3 0.48zM463.57 569.07l1.3 -0.48l1.3 0.48l-1.3 0.48zM464.87 568.11l1.3 -0.48l1.3 0.48l-1.3 0.48zM466.17 567.16l1.3 -0.48l1.3 0.48l-1.3 0.48zM447.95 582.47l1.3 -0.48l1.3 0.48l-1.3 0.48zM449.26 581.51l1.3 -0.48l1.3 0.48l-1.3 0.48zM451.86 579.6l1.3 -0.48l1.3 0.48l-1.3 0.48zM458.36 574.81l1.3 -0.48l1.3 0.48l-1.3 0.48zM459.66 573.86l1.3 -0.48l1.3 0.48l-1.3 0.48zM462.27 571.94l1.3 -0.48l1.3 0.48l-1.3 0.48zM463.57 570.99l1.3 -0.48l1.3 0.48l-1.3 0.48zM466.17 569.07l1.3 -0.48l1.3 0.48l-1.3 0.48zM449.26 583.42l1.3 -0.48l1.3 0.48l-1.3 0.48zM453.16 580.55l1.3 -0.48l1.3 0.48l-1.3 0.48zM455.76 578.64l1.3 -0.48l1.3 0.48l-1.3 0.48zM457.06 577.68l1.3 -0.48l1.3 0.48l-1.3 0.48zM458.36 576.73l1.3 -0.48l1.3 0.48l-1.3 0.48zM460.97 574.81l1.3 -0.48l1.3 0.48l-1.3 0.48zM463.57 572.9l1.3 -0.48l1.3 0.48l-1.3 0.48zM466.17 570.99l1.3 -0.48l1.3 0.48l-1.3 0.48zM457.06 579.6l1.3 -0.48l1.3 0.48l-1.3 0.48zM462.27 575.77l1.3 -0.48l1.3 0.48l-1.3 0.48zM463.57 574.81l1.3 -0.48l1.3 0.48l-1.3 0.48zM466.17 572.9l1.3 -0.48l1.3 0.48l-1.3 0.48zM467.47 571.94l1.3 -0.48l1.3 0.48l-1.3 0.48zM468.77 570.99l1.3 -0.48l1.3 0.48l-1.3 0.48zM470.07 570.03l1.3 -0.48l1.3 0.48l-1.3 0.48zM458.36 580.55l1.3 -0.48l1.3 0.48l-1.3 0.48zM459.66 579.6l1.3 -0.48l1.3 0.48l-1.3 0.48zM460.97 578.64l1.3 -0.48l1.3 0.48l-1.3 0.48zM466.17 574.81l1.3 -0.48l1.3 0.48l-1.3 0.48zM467.47 573.86l1.3 -0.48l1.3 0.48l-1.3 0.48zM468.77 572.9l1.3 -0.48l1.3 0.48l-1.3 0.48zM459.66 581.51l1.3 -0.48l1.3 0.48l-1.3 0.48zM460.97 580.55l1.3 -0.48l1.3 0.48l-1.3 0.48zM463.57 578.64l1.3 -0.48l1.3 0.48l-1.3 0.48zM464.87 577.68l1.3 -0.48l1.3 0.48l-1.3 0.48zM467.47 575.77l1.3 -0.48l1.3 0.48l-1.3 0.48zM468.77 574.81l1.3 -0.48l1.3 0.48l-1.3 0.48zM471.38 572.9l1.3 -0.48l1.3 0.48l-1.3 0.48zM463.57 580.55l1.3 -0.48l1.3 0.48l-1.3 0.48zM466.17 578.64l1.3 -0.48l1.3 0.48l-1.3 0.48zM467.47 577.68l1.3 -0.48l1.3 0.48l-1.3 0.48zM470.07 575.77l1.3 -0.48l1.3 0.48l-1.3 0.48zM471.38 574.81l1.3 -0.48l1.3 0.48l-1.3 0.48zM472.68 573.86l1.3 -0.48l1.3 0.48l-1.3 0.48zM473.98 572.9l1.3 -0.48l1.3 0.48l-1.3 0.48zM468.77 578.64l1.3 -0.48l1.3 0.48l-1.3 0.48zM470.07 577.68l1.3 -0.48l1.3 0.48l-1.3 0.48zM471.38 576.73l1.3 -0.48l1.3 0.48l-1.3 0.48zM472.68 575.77l1.3 -0.48l1.3 0.48l-1.3 0.48zM473.98 574.81l1.3 -0.48l1.3 0.48l-1.3 0.48zM475.28 573.86l1.3 -0.48l1.3 0.48l-1.3 0.48zM466.17 582.47l1.3 -0.48l1.3 0.48l-1.3 0.48zM471.38 578.64l1.3 -0.48l1.3 0.48l-1.3 0.48zM472.68 577.68l1.3 -0.48l1.3 0.48l-1.3 0.48zM473.98 576.73l1.3 -0.48l1.3 0.48l-1.3 0.48zM475.28 575.77l1.3 -0.48l1.3 0.48l-1.3 0.48zM476.58 574.81l1.3 -0.48l1.3 0.48l-1.3 0.48zM476.58 576.73l1.3 -0.48l1.3 0.48l-1.3 0.48zM477.88 575.77l1.3 -0.48l1.3 0.48l-1.3 0.48z" fill="#fbd9dd" stroke="#fbd9dd" stroke-width="0.25"/>
<path d="M398.51 580.55l1.3 -0.48l1.3 0.48l-1.3 0.48zM401.11 578.64l1.3 -0.48l1.3 0.48l-1.3 0.48zM403.72 576.73l1.3 -0.48l1.3 0.48l-1.3 0.48zM402.41 579.6l1.3 -0.48l1.3 0.48l-1.3 0.48zM405.02 577.68l1.3 -0.48l1.3 0.48l-1.3 0.48zM405.02 579.6l1.3 -0.48l1.3 0.48l-1.3 0.48zM414.12 572.9l1.3 -0.48l1.3 0.48l-1.3 0.48zM402.41 583.42l1.3 -0.48l1.3 0.48l-1.3 0.48zM408.92 578.64l1.3 -0.48l1.3 0.48l-1.3 0.48zM411.52 576.73l1.3 -0.48l1.3 0.48l-1.3 0.48zM414.12 574.81l1.3 -0.48l1.3 0.48l-1.3 0.48zM415.43 573.86l1.3 -0.48l1.3 0.48l-1.3 0.48zM407.62 581.51l1.3 -0.48l1.3 0.48l-1.3 0.48zM410.22 579.6l1.3 -0.48l1.3 0.48l-1.3 0.48zM412.82 577.68l1.3 -0.48l1.3 0.48l-1.3 0.48zM410.22 581.51l1.3 -0.48l1.3 0.48l-1.3 0.48zM412.82 579.6l1.3 -0.48l1.3 0.48l-1.3 0.48zM419.33 574.81l1.3 -0.48l1.3 0.48l-1.3 0.48zM410.22 583.42l1.3 -0.48l1.3 0.48l-1.3 0.48zM412.82 581.51l1.3 -0.48l1.3 0.48l-1.3 0.48zM414.12 580.55l1.3 -0.48l1.3 0.48l-1.3 0.48zM420.63 575.77l1.3 -0.48l1.3 0.48l-1.3 0.48zM421.93 574.81l1.3 -0.48l1.3 0.48l-1.3 0.48zM410.22 585.34l1.3 -0.48l1.3 0.48l-1.3 0.48zM414.12 582.47l1.3 -0.48l1.3 0.48l-1.3 0.48zM415.43 581.51l1.3 -0.48l1.3 0.48l-1.3 0.48zM418.03 579.6l1.3 -0.48l1.3 0.48l-1.3 0.48zM420.63 577.68l1.3 -0.48l1.3 0.48l-1.3 0.48zM427.14 572.9l1.3 -0.48l1.3 0.48l-1.3 0.48zM411.52 586.29l1.3 -0.48l1.3 0.48l-1.3 0.48zM419.33 580.55l1.3 -0.48l1.3 0.48l-1.3 0.48zM423.23 577.68l1.3 -0.48l1.3 0.48l-1.3 0.48zM416.73 584.38l1.3 -0.48l1.3 0.48l-1.3 0.48zM428.44 575.77l1.3 -0.48l1.3 0.48l-1.3 0.48zM424.53 580.55l1.3 -0.48l1.3 0.48l-1.3 0.48zM425.84 579.6l1.3 -0.48l1.3 0.48l-1.3 0.48zM431.04 575.77l1.3 -0.48l1.3 0.48l-1.3 0.48zM432.34 574.81l1.3 -0.48l1.3 0.48l-1.3 0.48zM433.64 573.86l1.3 -0.48l1.3 0.48l-1.3 0.48zM423.23 583.42l1.3 -0.48l1.3 0.48l-1.3 0.48zM425.84 581.51l1.3 -0.48l1.3 0.48l-1.3 0.48zM428.44 579.6l1.3 -0.48l1.3 0.48l-1.3 0.48zM429.74 578.64l1.3 -0.48l1.3 0.48l-1.3 0.48zM431.04 577.68l1.3 -0.48l1.3 0.48l-1.3 0.48zM434.94 574.81l1.3 -0.48l1.3 0.48l-1.3 0.48zM437.55 572.9l1.3 -0.48l1.3 0.48l-1.3 0.48zM441.45 570.03l1.3 -0.48l1.3 0.48l-1.3 0.48zM424.53 584.38l1.3 -0.48l1.3 0.48l-1.3 0.48zM431.04 579.6l1.3 -0.48l1.3 0.48l-1.3 0.48zM433.64 577.68l1.3 -0.48l1.3 0.48l-1.3 0.48zM434.94 576.73l1.3 -0.48l1.3 0.48l-1.3 0.48zM442.75 570.99l1.3 -0.48l1.3 0.48l-1.3 0.48zM441.45 573.86l1.3 -0.48l1.3 0.48l-1.3 0.48zM444.05 573.86l1.3 -0.48l1.3 0.48l-1.3 0.48zM445.35 572.9l1.3 -0.48l1.3 0.48l-1.3 0.48zM446.65 571.94l1.3 -0.48l1.3 0.48l-1.3 0.48zM441.45 577.68l1.3 -0.48l1.3 0.48l-1.3 0.48zM442.75 576.73l1.3 -0.48l1.3 0.48l-1.3 0.48zM447.95 574.81l1.3 -0.48l1.3 0.48l-1.3 0.48zM450.56 572.9l1.3 -0.48l1.3 0.48l-1.3 0.48zM454.46 570.03l1.3 -0.48l1.3 0.48l-1.3 0.48zM445.35 578.64l1.3 -0.48l1.3 0.48l-1.3 0.48zM449.26 575.77l1.3 -0.48l1.3 0.48l-1.3 0.48zM450.56 574.81l1.3 -0.48l1.3 0.48l-1.3 0.48zM451.86 573.86l1.3 -0.48l1.3 0.48l-1.3 0.48zM455.76 570.99l1.3 -0.48l1.3 0.48l-1.3 0.48zM446.65 579.6l1.3 -0.48l1.3 0.48l-1.3 0.48zM449.26 577.68l1.3 -0.48l1.3 0.48l-1.3 0.48zM450.56 576.73l1.3 -0.48l1.3 0.48l-1.3 0.48zM451.86 575.77l1.3 -0.48l1.3 0.48l-1.3 0.48zM449.26 579.6l1.3 -0.48l1.3 0.48l-1.3 0.48zM453.16 576.73l1.3 -0.48l1.3 0.48l-1.3 0.48zM454.46 575.77l1.3 -0.48l1.3 0.48l-1.3 0.48zM459.66 571.94l1.3 -0.48l1.3 0.48l-1.3 0.48zM450.56 580.55l1.3 -0.48l1.3 0.48l-1.3 0.48zM453.16 578.64l1.3 -0.48l1.3 0.48l-1.3 0.48zM454.46 577.68l1.3 -0.48l1.3 0.48l-1.3 0.48zM455.76 576.73l1.3 -0.48l1.3 0.48l-1.3 0.48zM450.56 582.47l1.3 -0.48l1.3 0.48l-1.3 0.48zM451.86 581.51l1.3 -0.48l1.3 0.48l-1.3 0.48zM459.66 575.77l1.3 -0.48l1.3 0.48l-1.3 0.48zM468.77 569.07l1.3 -0.48l1.3 0.48l-1.3 0.48zM453.16 582.47l1.3 -0.48l1.3 0.48l-1.3 0.48zM455.76 580.55l1.3 -0.48l1.3 0.48l-1.3 0.48zM458.36 578.64l1.3 -0.48l1.3 0.48l-1.3 0.48zM459.66 577.68l1.3 -0.48l1.3 0.48l-1.3 0.48zM453.16 584.38l1.3 -0.48l1.3 0.48l-1.3 0.48zM455.76 582.47l1.3 -0.48l1.3 0.48l-1.3 0.48zM462.27 577.68l1.3 -0.48l1.3 0.48l-1.3 0.48zM464.87 575.77l1.3 -0.48l1.3 0.48l-1.3 0.48zM470.07 571.94l1.3 -0.48l1.3 0.48l-1.3 0.48zM462.27 579.6l1.3 -0.48l1.3 0.48l-1.3 0.48zM470.07 573.86l1.3 -0.48l1.3 0.48l-1.3 0.48zM472.68 571.94l1.3 -0.48l1.3 0.48l-1.3 0.48zM459.66 583.42l1.3 -0.48l1.3 0.48l-1.3 0.48zM464.87 579.6l1.3 -0.48l1.3 0.48l-1.3 0.48zM468.77 576.73l1.3 -0.48l1.3 0.48l-1.3 0.48zM467.47 581.51l1.3 -0.48l1.3 0.48l-1.3 0.48zM470.07 579.6l1.3 -0.48l1.3 0.48l-1.3 0.48zM471.38 580.55l1.3 -0.48l1.3 0.48l-1.3 0.48zM475.28 579.6l1.3 -0.48l1.3 0.48l-1.3 0.48zM479.18 576.73l1.3 -0.48l1.3 0.48l-1.3 0.48zM480.48 579.6l1.3 -0.48l1.3 0.48l-1.3 0.48z" fill="#f7c1c7" stroke="#f7c1c7" stroke-width="0.25"/>
<path d="M397.21 583.42l1.3 -0.48l1.3 0.48l-1.3 0.48zM398.51 582.47l1.3 -0.48l1.3 0.48l-1.3 0.48zM402.41 581.51l1.3 -0.48l1.3 0.48l-1.3 0.48zM403.72 580.55l1.3 -0.48l1.3 0.48l-1.3 0.48zM403.72 582.47l1.3 -0.48l1.3 0.48l-1.3 0.48zM405.02 581.51l1.3 -0.48l1.3 0.48l-1.3 0.48zM406.32 580.55l1.3 -0.48l1.3 0.48l-1.3 0.48zM403.72 584.38l1.3 -0.48l1.3 0.48l-1.3 0.48zM405.02 583.42l1.3 -0.48l1.3 0.48l-1.3 0.48zM411.52 578.64l1.3 -0.48l1.3 0.48l-1.3 0.48zM406.32 584.38l1.3 -0.48l1.3 0.48l-1.3 0.48zM407.62 583.42l1.3 -0.48l1.3 0.48l-1.3 0.48zM408.92 582.47l1.3 -0.48l1.3 0.48l-1.3 0.48zM411.52 584.38l1.3 -0.48l1.3 0.48l-1.3 0.48zM412.82 583.42l1.3 -0.48l1.3 0.48l-1.3 0.48zM414.12 584.38l1.3 -0.48l1.3 0.48l-1.3 0.48zM415.43 585.34l1.3 -0.48l1.3 0.48l-1.3 0.48zM416.73 586.29l1.3 -0.48l1.3 0.48l-1.3 0.48zM427.14 578.64l1.3 -0.48l1.3 0.48l-1.3 0.48zM427.14 580.55l1.3 -0.48l1.3 0.48l-1.3 0.48zM420.63 587.25l1.3 -0.48l1.3 0.48l-1.3 0.48zM427.14 582.47l1.3 -0.48l1.3 0.48l-1.3 0.48zM428.44 581.51l1.3 -0.48l1.3 0.48l-1.3 0.48zM429.74 580.55l1.3 -0.48l1.3 0.48l-1.3 0.48zM434.94 578.64l1.3 -0.48l1.3 0.48l-1.3 0.48zM442.75 578.64l1.3 -0.48l1.3 0.48l-1.3 0.48zM445.35 580.55l1.3 -0.48l1.3 0.48l-1.3 0.48zM454.46 579.6l1.3 -0.48l1.3 0.48l-1.3 0.48zM451.86 583.42l1.3 -0.48l1.3 0.48l-1.3 0.48zM454.46 581.51l1.3 -0.48l1.3 0.48l-1.3 0.48zM454.46 583.42l1.3 -0.48l1.3 0.48l-1.3 0.48zM457.06 581.51l1.3 -0.48l1.3 0.48l-1.3 0.48zM453.16 586.29l1.3 -0.48l1.3 0.48l-1.3 0.48zM454.46 585.34l1.3 -0.48l1.3 0.48l-1.3 0.48zM458.36 582.47l1.3 -0.48l1.3 0.48l-1.3 0.48zM462.27 581.51l1.3 -0.48l1.3 0.48l-1.3 0.48zM457.06 587.25l1.3 -0.48l1.3 0.48l-1.3 0.48zM458.36 586.29l1.3 -0.48l1.3 0.48l-1.3 0.48zM462.27 583.42l1.3 -0.48l1.3 0.48l-1.3 0.48zM464.87 581.51l1.3 -0.48l1.3 0.48l-1.3 0.48zM466.17 580.55l1.3 -0.48l1.3 0.48l-1.3 0.48zM460.97 586.29l1.3 -0.48l1.3 0.48l-1.3 0.48zM462.27 585.34l1.3 -0.48l1.3 0.48l-1.3 0.48zM464.87 583.42l1.3 -0.48l1.3 0.48l-1.3 0.48zM468.77 580.55l1.3 -0.48l1.3 0.48l-1.3 0.48zM464.87 585.34l1.3 -0.48l1.3 0.48l-1.3 0.48zM467.47 583.42l1.3 -0.48l1.3 0.48l-1.3 0.48zM468.77 582.47l1.3 -0.48l1.3 0.48l-1.3 0.48zM471.38 582.47l1.3 -0.48l1.3 0.48l-1.3 0.48zM472.68 581.51l1.3 -0.48l1.3 0.48l-1.3 0.48zM473.98 580.55l1.3 -0.48l1.3 0.48l-1.3 0.48zM473.98 582.47l1.3 -0.48l1.3 0.48l-1.3 0.48zM477.88 579.6l1.3 -0.48l1.3 0.48l-1.3 0.48zM476.58 582.47l1.3 -0.48l1.3 0.48l-1.3 0.48zM476.58 584.38l1.3 -0.48l1.3 0.48l-1.3 0.48zM477.88 583.42l1.3 -0.48l1.3 0.48l-1.3 0.48zM484.39 582.47l1.3 -0.48l1.3 0.48l-1.3 0.48zM485.69 583.42l1.3 -0.48l1.3 0.48l-1.3 0.48z" fill="#f4a8b1" stroke="#f4a8b1" stroke-width="0.25"/>
<path d="M395.91 582.47l1.3 -0.48l1.3 0.48l-1.3 0.48zM394.61 585.34l1.3 -0.48l1.3 0.48l-1.3 0.48zM399.81 583.42l1.3 -0.48l1.3 0.48l-1.3 0.48zM406.32 582.47l1.3 -0.48l1.3 0.48l-1.3 0.48zM405.02 585.34l1.3 -0.48l1.3 0.48l-1.3 0.48zM408.92 584.38l1.3 -0.48l1.3 0.48l-1.3 0.48zM407.62 587.25l1.3 -0.48l1.3 0.48l-1.3 0.48zM408.92 586.29l1.3 -0.48l1.3 0.48l-1.3 0.48zM412.82 585.34l1.3 -0.48l1.3 0.48l-1.3 0.48zM415.43 583.42l1.3 -0.48l1.3 0.48l-1.3 0.48zM416.73 582.47l1.3 -0.48l1.3 0.48l-1.3 0.48zM411.52 588.21l1.3 -0.48l1.3 0.48l-1.3 0.48zM412.82 587.25l1.3 -0.48l1.3 0.48l-1.3 0.48zM418.03 583.42l1.3 -0.48l1.3 0.48l-1.3 0.48zM414.12 588.21l1.3 -0.48l1.3 0.48l-1.3 0.48zM415.43 587.25l1.3 -0.48l1.3 0.48l-1.3 0.48zM418.03 585.34l1.3 -0.48l1.3 0.48l-1.3 0.48zM419.33 584.38l1.3 -0.48l1.3 0.48l-1.3 0.48zM421.93 584.38l1.3 -0.48l1.3 0.48l-1.3 0.48zM424.53 582.47l1.3 -0.48l1.3 0.48l-1.3 0.48zM421.93 586.29l1.3 -0.48l1.3 0.48l-1.3 0.48zM425.84 583.42l1.3 -0.48l1.3 0.48l-1.3 0.48zM433.64 581.51l1.3 -0.48l1.3 0.48l-1.3 0.48zM438.85 577.68l1.3 -0.48l1.3 0.48l-1.3 0.48zM437.55 580.55l1.3 -0.48l1.3 0.48l-1.3 0.48zM438.85 581.51l1.3 -0.48l1.3 0.48l-1.3 0.48zM451.86 585.34l1.3 -0.48l1.3 0.48l-1.3 0.48zM457.06 583.42l1.3 -0.48l1.3 0.48l-1.3 0.48zM454.46 587.25l1.3 -0.48l1.3 0.48l-1.3 0.48zM460.97 582.47l1.3 -0.48l1.3 0.48l-1.3 0.48zM463.57 582.47l1.3 -0.48l1.3 0.48l-1.3 0.48zM473.98 578.64l1.3 -0.48l1.3 0.48l-1.3 0.48zM475.28 577.68l1.3 -0.48l1.3 0.48l-1.3 0.48zM468.77 584.38l1.3 -0.48l1.3 0.48l-1.3 0.48zM470.07 583.42l1.3 -0.48l1.3 0.48l-1.3 0.48zM476.58 578.64l1.3 -0.48l1.3 0.48l-1.3 0.48zM477.88 577.68l1.3 -0.48l1.3 0.48l-1.3 0.48zM475.28 581.51l1.3 -0.48l1.3 0.48l-1.3 0.48zM476.58 580.55l1.3 -0.48l1.3 0.48l-1.3 0.48zM480.48 577.68l1.3 -0.48l1.3 0.48l-1.3 0.48zM477.88 581.51l1.3 -0.48l1.3 0.48l-1.3 0.48zM473.98 586.29l1.3 -0.48l1.3 0.48l-1.3 0.48zM475.28 585.34l1.3 -0.48l1.3 0.48l-1.3 0.48zM477.88 585.34l1.3 -0.48l1.3 0.48l-1.3 0.48zM481.78 582.47l1.3 -0.48l1.3 0.48l-1.3 0.48zM484.39 580.55l1.3 -0.48l1.3 0.48l-1.3 0.48zM481.78 586.29l1.3 -0.48l1.3 0.48l-1.3 0.48zM484.39 584.38l1.3 -0.48l1.3 0.48l-1.3 0.48zM486.99 582.47l1.3 -0.48l1.3 0.48l-1.3 0.48z" fill="#f08d98" stroke="#f08d98" stroke-width="0.25"/>
<path d="M392.01 585.34l1.3 -0.48l1.3 0.48l-1.3 0.48zM393.31 584.38l1.3 -0.48l1.3 0.48l-1.3 0.48zM395.91 584.38l1.3 -0.48l1.3 0.48l-1.3 0.48zM398.51 584.38l1.3 -0.48l1.3 0.48l-1.3 0.48zM399.81 585.34l1.3 -0.48l1.3 0.48l-1.3 0.48zM406.32 586.29l1.3 -0.48l1.3 0.48l-1.3 0.48zM407.62 585.34l1.3 -0.48l1.3 0.48l-1.3 0.48zM410.22 587.25l1.3 -0.48l1.3 0.48l-1.3 0.48zM418.03 587.25l1.3 -0.48l1.3 0.48l-1.3 0.48zM429.74 582.47l1.3 -0.48l1.3 0.48l-1.3 0.48zM428.44 585.34l1.3 -0.48l1.3 0.48l-1.3 0.48zM436.24 579.6l1.3 -0.48l1.3 0.48l-1.3 0.48zM438.85 579.6l1.3 -0.48l1.3 0.48l-1.3 0.48zM441.45 579.6l1.3 -0.48l1.3 0.48l-1.3 0.48zM450.56 584.38l1.3 -0.48l1.3 0.48l-1.3 0.48zM455.76 584.38l1.3 -0.48l1.3 0.48l-1.3 0.48zM457.06 585.34l1.3 -0.48l1.3 0.48l-1.3 0.48zM458.36 584.38l1.3 -0.48l1.3 0.48l-1.3 0.48zM460.97 584.38l1.3 -0.48l1.3 0.48l-1.3 0.48zM463.57 584.38l1.3 -0.48l1.3 0.48l-1.3 0.48zM466.17 584.38l1.3 -0.48l1.3 0.48l-1.3 0.48zM470.07 581.51l1.3 -0.48l1.3 0.48l-1.3 0.48zM472.68 579.6l1.3 -0.48l1.3 0.48l-1.3 0.48zM464.87 587.25l1.3 -0.48l1.3 0.48l-1.3 0.48zM467.47 585.34l1.3 -0.48l1.3 0.48l-1.3 0.48zM468.77 586.29l1.3 -0.48l1.3 0.48l-1.3 0.48zM479.18 578.64l1.3 -0.48l1.3 0.48l-1.3 0.48zM479.18 580.55l1.3 -0.48l1.3 0.48l-1.3 0.48zM481.78 578.64l1.3 -0.48l1.3 0.48l-1.3 0.48zM471.38 588.21l1.3 -0.48l1.3 0.48l-1.3 0.48zM472.68 587.25l1.3 -0.48l1.3 0.48l-1.3 0.48zM481.78 580.55l1.3 -0.48l1.3 0.48l-1.3 0.48zM483.09 579.6l1.3 -0.48l1.3 0.48l-1.3 0.48zM475.28 587.25l1.3 -0.48l1.3 0.48l-1.3 0.48zM476.58 586.29l1.3 -0.48l1.3 0.48l-1.3 0.48zM479.18 584.38l1.3 -0.48l1.3 0.48l-1.3 0.48zM483.09 581.51l1.3 -0.48l1.3 0.48l-1.3 0.48zM480.48 585.34l1.3 -0.48l1.3 0.48l-1.3 0.48zM483.09 587.25l1.3 -0.48l1.3 0.48l-1.3 0.48zM484.39 586.29l1.3 -0.48l1.3 0.48l-1.3 0.48zM488.29 583.42l1.3 -0.48l1.3 0.48l-1.3 0.48zM490.89 587.25l1.3 -0.48l1.3 0.48l-1.3 0.48zM492.19 586.29l1.3 -0.48l1.3 0.48l-1.3 0.48z" fill="#ec727f" stroke="#ec727f" stroke-width="0.25"/>
<path d="M389.4 587.25l1.3 -0.48l1.3 0.48l-1.3 0.48zM394.61 583.42l1.3 -0.48l1.3 0.48l-1.3 0.48zM397.21 581.51l1.3 -0.48l1.3 0.48l-1.3 0.48zM390.7 588.21l1.3 -0.48l1.3 0.48l-1.3 0.48zM397.21 585.34l1.3 -0.48l1.3 0.48l-1.3 0.48zM402.41 585.34l1.3 -0.48l1.3 0.48l-1.3 0.48zM414.12 586.29l1.3 -0.48l1.3 0.48l-1.3 0.48zM419.33 586.29l1.3 -0.48l1.3 0.48l-1.3 0.48zM420.63 585.34l1.3 -0.48l1.3 0.48l-1.3 0.48zM423.23 585.34l1.3 -0.48l1.3 0.48l-1.3 0.48zM427.14 584.38l1.3 -0.48l1.3 0.48l-1.3 0.48zM436.24 577.68l1.3 -0.48l1.3 0.48l-1.3 0.48zM437.55 576.73l1.3 -0.48l1.3 0.48l-1.3 0.48zM432.34 582.47l1.3 -0.48l1.3 0.48l-1.3 0.48zM437.55 578.64l1.3 -0.48l1.3 0.48l-1.3 0.48zM431.04 585.34l1.3 -0.48l1.3 0.48l-1.3 0.48zM437.55 582.47l1.3 -0.48l1.3 0.48l-1.3 0.48zM440.15 582.47l1.3 -0.48l1.3 0.48l-1.3 0.48zM437.55 586.29l1.3 -0.48l1.3 0.48l-1.3 0.48zM442.75 584.38l1.3 -0.48l1.3 0.48l-1.3 0.48zM447.95 584.38l1.3 -0.48l1.3 0.48l-1.3 0.48zM459.66 585.34l1.3 -0.48l1.3 0.48l-1.3 0.48zM458.36 588.21l1.3 -0.48l1.3 0.48l-1.3 0.48zM459.66 587.25l1.3 -0.48l1.3 0.48l-1.3 0.48zM466.17 586.29l1.3 -0.48l1.3 0.48l-1.3 0.48zM472.68 583.42l1.3 -0.48l1.3 0.48l-1.3 0.48zM475.28 583.42l1.3 -0.48l1.3 0.48l-1.3 0.48zM479.18 582.47l1.3 -0.48l1.3 0.48l-1.3 0.48zM480.48 581.51l1.3 -0.48l1.3 0.48l-1.3 0.48zM477.88 587.25l1.3 -0.48l1.3 0.48l-1.3 0.48zM481.78 584.38l1.3 -0.48l1.3 0.48l-1.3 0.48zM483.09 583.42l1.3 -0.48l1.3 0.48l-1.3 0.48zM485.69 581.51l1.3 -0.48l1.3 0.48l-1.3 0.48zM479.18 588.21l1.3 -0.48l1.3 0.48l-1.3 0.48zM489.59 584.38l1.3 -0.48l1.3 0.48l-1.3 0.48zM493.49 587.25l1.3 -0.48l1.3 0.48l-1.3 0.48z" fill="#e85b6b" stroke="#e85b6b" stroke-width="0.25"/>
<path d="M388.1 588.21l1.3 -0.48l1.3 0.48l-1.3 0.48zM389.4 589.16l1.3 -0.48l1.3 0.48l-1.3 0.48zM392.01 589.16l1.3 -0.48l1.3 0.48l-1.3 0.48zM393.31 588.21l1.3 -0.48l1.3 0.48l-1.3 0.48zM398.51 586.29l1.3 -0.48l1.3 0.48l-1.3 0.48zM402.41 587.25l1.3 -0.48l1.3 0.48l-1.3 0.48zM414.12 590.12l1.3 -0.48l1.3 0.48l-1.3 0.48zM428.44 583.42l1.3 -0.48l1.3 0.48l-1.3 0.48zM431.04 581.51l1.3 -0.48l1.3 0.48l-1.3 0.48zM432.34 580.55l1.3 -0.48l1.3 0.48l-1.3 0.48zM433.64 579.6l1.3 -0.48l1.3 0.48l-1.3 0.48zM427.14 586.29l1.3 -0.48l1.3 0.48l-1.3 0.48zM431.04 583.42l1.3 -0.48l1.3 0.48l-1.3 0.48zM434.94 580.55l1.3 -0.48l1.3 0.48l-1.3 0.48zM429.74 586.29l1.3 -0.48l1.3 0.48l-1.3 0.48zM431.04 587.25l1.3 -0.48l1.3 0.48l-1.3 0.48zM436.24 583.42l1.3 -0.48l1.3 0.48l-1.3 0.48zM436.24 585.34l1.3 -0.48l1.3 0.48l-1.3 0.48zM438.85 585.34l1.3 -0.48l1.3 0.48l-1.3 0.48zM444.05 583.42l1.3 -0.48l1.3 0.48l-1.3 0.48zM446.65 583.42l1.3 -0.48l1.3 0.48l-1.3 0.48zM455.76 586.29l1.3 -0.48l1.3 0.48l-1.3 0.48zM455.76 588.21l1.3 -0.48l1.3 0.48l-1.3 0.48zM462.27 587.25l1.3 -0.48l1.3 0.48l-1.3 0.48zM467.47 587.25l1.3 -0.48l1.3 0.48l-1.3 0.48zM470.07 585.34l1.3 -0.48l1.3 0.48l-1.3 0.48zM480.48 583.42l1.3 -0.48l1.3 0.48l-1.3 0.48zM475.28 589.16l1.3 -0.48l1.3 0.48l-1.3 0.48zM476.58 588.21l1.3 -0.48l1.3 0.48l-1.3 0.48zM479.18 586.29l1.3 -0.48l1.3 0.48l-1.3 0.48zM486.99 584.38l1.3 -0.48l1.3 0.48l-1.3 0.48zM492.19 588.21l1.3 -0.48l1.3 0.48l-1.3 0.48z" fill="#e2485a" stroke="#e2485a" stroke-width="0.25"/>
<path d="M392.01 587.25l1.3 -0.48l1.3 0.48l-1.3 0.48zM394.61 587.25l1.3 -0.48l1.3 0.48l-1.3 0.48zM401.11 584.38l1.3 -0.48l1.3 0.48l-1.3 0.48zM397.21 589.16l1.3 -0.48l1.3 0.48l-1.3 0.48zM398.51 588.21l1.3 -0.48l1.3 0.48l-1.3 0.48zM406.32 588.21l1.3 -0.48l1.3 0.48l-1.3 0.48zM408.92 588.21l1.3 -0.48l1.3 0.48l-1.3 0.48zM415.43 589.16l1.3 -0.48l1.3 0.48l-1.3 0.48zM425.84 587.25l1.3 -0.48l1.3 0.48l-1.3 0.48zM434.94 582.47l1.3 -0.48l1.3 0.48l-1.3 0.48zM440.15 578.64l1.3 -0.48l1.3 0.48l-1.3 0.48zM434.94 584.38l1.3 -0.48l1.3 0.48l-1.3 0.48zM440.15 580.55l1.3 -0.48l1.3 0.48l-1.3 0.48zM438.85 583.42l1.3 -0.48l1.3 0.48l-1.3 0.48zM441.45 583.42l1.3 -0.48l1.3 0.48l-1.3 0.48zM437.55 588.21l1.3 -0.48l1.3 0.48l-1.3 0.48zM446.65 585.34l1.3 -0.48l1.3 0.48l-1.3 0.48zM466.17 588.21l1.3 -0.48l1.3 0.48l-1.3 0.48zM471.38 584.38l1.3 -0.48l1.3 0.48l-1.3 0.48zM470.07 587.25l1.3 -0.48l1.3 0.48l-1.3 0.48zM473.98 584.38l1.3 -0.48l1.3 0.48l-1.3 0.48zM472.68 589.16l1.3 -0.48l1.3 0.48l-1.3 0.48zM480.48 587.25l1.3 -0.48l1.3 0.48l-1.3 0.48zM483.09 585.34l1.3 -0.48l1.3 0.48l-1.3 0.48zM485.69 585.34l1.3 -0.48l1.3 0.48l-1.3 0.48zM490.89 585.34l1.3 -0.48l1.3 0.48l-1.3 0.48zM493.49 589.16l1.3 -0.48l1.3 0.48l-1.3 0.48zM497.4 590.12l1.3 -0.48l1.3 0.48l-1.3 0.48z" fill="#de354a" stroke="#de354a" stroke-width="0.25"/>
<path d="M386.8 589.16l1.3 -0.48l1.3 0.48l-1.3 0.48zM390.7 586.29l1.3 -0.48l1.3 0.48l-1.3 0.48zM393.31 586.29l1.3 -0.48l1.3 0.48l-1.3 0.48zM395.91 586.29l1.3 -0.48l1.3 0.48l-1.3 0.48zM395.91 590.12l1.3 -0.48l1.3 0.48l-1.3 0.48zM399.81 587.25l1.3 -0.48l1.3 0.48l-1.3 0.48zM398.51 590.12l1.3 -0.48l1.3 0.48l-1.3 0.48zM403.72 586.29l1.3 -0.48l1.3 0.48l-1.3 0.48zM402.41 589.16l1.3 -0.48l1.3 0.48l-1.3 0.48zM407.62 589.16l1.3 -0.48l1.3 0.48l-1.3 0.48zM410.22 589.16l1.3 -0.48l1.3 0.48l-1.3 0.48zM416.73 588.21l1.3 -0.48l1.3 0.48l-1.3 0.48zM416.73 590.12l1.3 -0.48l1.3 0.48l-1.3 0.48zM425.84 585.34l1.3 -0.48l1.3 0.48l-1.3 0.48zM425.84 589.16l1.3 -0.48l1.3 0.48l-1.3 0.48zM432.34 584.38l1.3 -0.48l1.3 0.48l-1.3 0.48zM436.24 581.51l1.3 -0.48l1.3 0.48l-1.3 0.48zM441.45 581.51l1.3 -0.48l1.3 0.48l-1.3 0.48zM436.24 587.25l1.3 -0.48l1.3 0.48l-1.3 0.48zM445.35 582.47l1.3 -0.48l1.3 0.48l-1.3 0.48zM441.45 587.25l1.3 -0.48l1.3 0.48l-1.3 0.48zM444.05 585.34l1.3 -0.48l1.3 0.48l-1.3 0.48zM449.26 585.34l1.3 -0.48l1.3 0.48l-1.3 0.48zM451.86 589.16l1.3 -0.48l1.3 0.48l-1.3 0.48zM454.46 589.16l1.3 -0.48l1.3 0.48l-1.3 0.48zM463.57 586.29l1.3 -0.48l1.3 0.48l-1.3 0.48zM460.97 590.12l1.3 -0.48l1.3 0.48l-1.3 0.48zM467.47 589.16l1.3 -0.48l1.3 0.48l-1.3 0.48zM471.38 586.29l1.3 -0.48l1.3 0.48l-1.3 0.48zM472.68 585.34l1.3 -0.48l1.3 0.48l-1.3 0.48zM473.98 588.21l1.3 -0.48l1.3 0.48l-1.3 0.48zM477.88 589.16l1.3 -0.48l1.3 0.48l-1.3 0.48zM479.18 590.12l1.3 -0.48l1.3 0.48l-1.3 0.48zM485.69 587.25l1.3 -0.48l1.3 0.48l-1.3 0.48zM486.99 586.29l1.3 -0.48l1.3 0.48l-1.3 0.48zM488.29 585.34l1.3 -0.48l1.3 0.48l-1.3 0.48zM488.29 587.25l1.3 -0.48l1.3 0.48l-1.3 0.48z" fill="#d72a40" stroke="#d72a40" stroke-width="0.25"/>
<path d="M397.21 587.25l1.3 -0.48l1.3 0.48l-1.3 0.48zM401.11 586.29l1.3 -0.48l1.3 0.48l-1.3 0.48zM399.81 589.16l1.3 -0.48l1.3 0.48l-1.3 0.48zM401.11 588.21l1.3 -0.48l1.3 0.48l-1.3 0.48zM405.02 587.25l1.3 -0.48l1.3 0.48l-1.3 0.48zM428.44 587.25l1.3 -0.48l1.3 0.48l-1.3 0.48zM433.64 587.25l1.3 -0.48l1.3 0.48l-1.3 0.48zM437.55 584.38l1.3 -0.48l1.3 0.48l-1.3 0.48zM442.75 580.55l1.3 -0.48l1.3 0.48l-1.3 0.48zM442.75 582.47l1.3 -0.48l1.3 0.48l-1.3 0.48zM444.05 581.51l1.3 -0.48l1.3 0.48l-1.3 0.48zM438.85 587.25l1.3 -0.48l1.3 0.48l-1.3 0.48zM441.45 585.34l1.3 -0.48l1.3 0.48l-1.3 0.48zM440.15 588.21l1.3 -0.48l1.3 0.48l-1.3 0.48zM442.75 586.29l1.3 -0.48l1.3 0.48l-1.3 0.48zM463.57 588.21l1.3 -0.48l1.3 0.48l-1.3 0.48zM484.39 590.12l1.3 -0.48l1.3 0.48l-1.3 0.48zM489.59 586.29l1.3 -0.48l1.3 0.48l-1.3 0.48zM496.1 589.16l1.3 -0.48l1.3 0.48l-1.3 0.48z" fill="#d1223a" stroke="#d1223a" stroke-width="0.25"/>
<path d="M418.03 589.16l1.3 -0.48l1.3 0.48l-1.3 0.48zM419.33 588.21l1.3 -0.48l1.3 0.48l-1.3 0.48zM437.55 590.12l1.3 -0.48l1.3 0.48l-1.3 0.48zM445.35 586.29l1.3 -0.48l1.3 0.48l-1.3 0.48zM453.16 590.12l1.3 -0.48l1.3 0.48l-1.3 0.48zM483.09 589.16l1.3 -0.48l1.3 0.48l-1.3 0.48zM484.39 588.21l1.3 -0.48l1.3 0.48l-1.3 0.48zM489.59 588.21l1.3 -0.48l1.3 0.48l-1.3 0.48zM494.8 588.21l1.3 -0.48l1.3 0.48l-1.3 0.48z" fill="#ca1b34" stroke="#ca1b34" stroke-width="0.25"/>
<path d="M385.5 590.12l1.3 -0.48l1.3 0.48l-1.3 0.48zM388.1 590.12l1.3 -0.48l1.3 0.48l-1.3 0.48zM390.7 590.12l1.3 -0.48l1.3 0.48l-1.3 0.48zM393.31 590.12l1.3 -0.48l1.3 0.48l-1.3 0.48zM394.61 589.16l1.3 -0.48l1.3 0.48l-1.3 0.48zM395.91 588.21l1.3 -0.48l1.3 0.48l-1.3 0.48zM401.11 590.12l1.3 -0.48l1.3 0.48l-1.3 0.48zM403.72 588.21l1.3 -0.48l1.3 0.48l-1.3 0.48zM403.72 590.12l1.3 -0.48l1.3 0.48l-1.3 0.48zM405.02 589.16l1.3 -0.48l1.3 0.48l-1.3 0.48zM406.32 590.12l1.3 -0.48l1.3 0.48l-1.3 0.48zM408.92 590.12l1.3 -0.48l1.3 0.48l-1.3 0.48zM411.52 590.12l1.3 -0.48l1.3 0.48l-1.3 0.48zM412.82 589.16l1.3 -0.48l1.3 0.48l-1.3 0.48zM419.33 590.12l1.3 -0.48l1.3 0.48l-1.3 0.48zM420.63 589.16l1.3 -0.48l1.3 0.48l-1.3 0.48zM421.93 588.21l1.3 -0.48l1.3 0.48l-1.3 0.48zM423.23 587.25l1.3 -0.48l1.3 0.48l-1.3 0.48zM424.53 586.29l1.3 -0.48l1.3 0.48l-1.3 0.48zM421.93 590.12l1.3 -0.48l1.3 0.48l-1.3 0.48zM423.23 589.16l1.3 -0.48l1.3 0.48l-1.3 0.48zM424.53 588.21l1.3 -0.48l1.3 0.48l-1.3 0.48zM429.74 584.38l1.3 -0.48l1.3 0.48l-1.3 0.48zM424.53 590.12l1.3 -0.48l1.3 0.48l-1.3 0.48zM427.14 588.21l1.3 -0.48l1.3 0.48l-1.3 0.48zM433.64 583.42l1.3 -0.48l1.3 0.48l-1.3 0.48zM427.14 590.12l1.3 -0.48l1.3 0.48l-1.3 0.48zM428.44 589.16l1.3 -0.48l1.3 0.48l-1.3 0.48zM429.74 588.21l1.3 -0.48l1.3 0.48l-1.3 0.48zM432.34 586.29l1.3 -0.48l1.3 0.48l-1.3 0.48zM433.64 585.34l1.3 -0.48l1.3 0.48l-1.3 0.48zM429.74 590.12l1.3 -0.48l1.3 0.48l-1.3 0.48zM431.04 589.16l1.3 -0.48l1.3 0.48l-1.3 0.48zM432.34 588.21l1.3 -0.48l1.3 0.48l-1.3 0.48zM434.94 586.29l1.3 -0.48l1.3 0.48l-1.3 0.48zM432.34 590.12l1.3 -0.48l1.3 0.48l-1.3 0.48zM433.64 589.16l1.3 -0.48l1.3 0.48l-1.3 0.48zM434.94 588.21l1.3 -0.48l1.3 0.48l-1.3 0.48zM440.15 584.38l1.3 -0.48l1.3 0.48l-1.3 0.48zM434.94 590.12l1.3 -0.48l1.3 0.48l-1.3 0.48zM436.24 589.16l1.3 -0.48l1.3 0.48l-1.3 0.48zM440.15 586.29l1.3 -0.48l1.3 0.48l-1.3 0.48zM438.85 589.16l1.3 -0.48l1.3 0.48l-1.3 0.48zM445.35 584.38l1.3 -0.48l1.3 0.48l-1.3 0.48zM440.15 590.12l1.3 -0.48l1.3 0.48l-1.3 0.48zM441.45 589.16l1.3 -0.48l1.3 0.48l-1.3 0.48zM442.75 588.21l1.3 -0.48l1.3 0.48l-1.3 0.48zM444.05 587.25l1.3 -0.48l1.3 0.48l-1.3 0.48zM442.75 590.12l1.3 -0.48l1.3 0.48l-1.3 0.48zM444.05 589.16l1.3 -0.48l1.3 0.48l-1.3 0.48zM445.35 588.21l1.3 -0.48l1.3 0.48l-1.3 0.48zM446.65 587.25l1.3 -0.48l1.3 0.48l-1.3 0.48zM447.95 586.29l1.3 -0.48l1.3 0.48l-1.3 0.48zM445.35 590.12l1.3 -0.48l1.3 0.48l-1.3 0.48zM446.65 589.16l1.3 -0.48l1.3 0.48l-1.3 0.48zM447.95 588.21l1.3 -0.48l1.3 0.48l-1.3 0.48zM449.26 587.25l1.3 -0.48l1.3 0.48l-1.3 0.48zM450.56 586.29l1.3 -0.48l1.3 0.48l-1.3 0.48zM447.95 590.12l1.3 -0.48l1.3 0.48l-1.3 0.48zM449.26 589.16l1.3 -0.48l1.3 0.48l-1.3 0.48zM450.56 588.21l1.3 -0.48l1.3 0.48l-1.3 0.48zM451.86 587.25l1.3 -0.48l1.3 0.48l-1.3 0.48zM450.56 590.12l1.3 -0.48l1.3 0.48l-1.3 0.48zM453.16 588.21l1.3 -0.48l1.3 0.48l-1.3 0.48zM455.76 590.12l1.3 -0.48l1.3 0.48l-1.3 0.48zM457.06 589.16l1.3 -0.48l1.3 0.48l-1.3 0.48zM458.36 590.12l1.3 -0.48l1.3 0.48l-1.3 0.48zM459.66 589.16l1.3 -0.48l1.3 0.48l-1.3 0.48zM460.97 588.21l1.3 -0.48l1.3 0.48l-1.3 0.48zM462.27 589.16l1.3 -0.48l1.3 0.48l-1.3 0.48zM463.57 590.12l1.3 -0.48l1.3 0.48l-1.3 0.48zM464.87 589.16l1.3 -0.48l1.3 0.48l-1.3 0.48zM466.17 590.12l1.3 -0.48l1.3 0.48l-1.3 0.48zM468.77 588.21l1.3 -0.48l1.3 0.48l-1.3 0.48zM468.77 590.12l1.3 -0.48l1.3 0.48l-1.3 0.48zM470.07 589.16l1.3 -0.48l1.3 0.48l-1.3 0.48zM471.38 590.12l1.3 -0.48l1.3 0.48l-1.3 0.48zM473.98 590.12l1.3 -0.48l1.3 0.48l-1.3 0.48zM476.58 590.12l1.3 -0.48l1.3 0.48l-1.3 0.48zM480.48 589.16l1.3 -0.48l1.3 0.48l-1.3 0.48zM481.78 588.21l1.3 -0.48l1.3 0.48l-1.3 0.48zM481.78 590.12l1.3 -0.48l1.3 0.48l-1.3 0.48zM485.69 589.16l1.3 -0.48l1.3 0.48l-1.3 0.48zM486.99 588.21l1.3 -0.48l1.3 0.48l-1.3 0.48zM486.99 590.12l1.3 -0.48l1.3 0.48l-1.3 0.48zM488.29 589.16l1.3 -0.48l1.3 0.48l-1.3 0.48zM489.59 590.12l1.3 -0.48l1.3 0.48l-1.3 0.48zM490.89 589.16l1.3 -0.48l1.3 0.48l-1.3 0.48zM492.19 590.12l1.3 -0.48l1.3 0.48l-1.3 0.48zM494.8 590.12l1.3 -0.48l1.3 0.48l-1.3 0.48z" fill="#c3142d" stroke="#c3142d" stroke-width="0.25"/>
<linearGradient id="hcb" x1="0" y1="1" x2="0" y2="0"><stop offset="0" stop-color="#fff"/><stop offset="1" stop-color="#b01020"/></linearGradient>
<rect x="385.5" y="555.5" width="2" height="20" fill="url(#hcb)" stroke="#777" stroke-width="0.3"/>
<text x="388.6" y="557.2" font-size="3" fill="#555">ln</text>
<text x="388.6" y="575.2" font-size="3" fill="#555">0</text>
<text x="491.2" y="570.8" stroke="#1a1a1a" stroke-width="0.25" text-anchor="middle" font-size="5.2">100 kb</text>
<line x1="485" y1="574.5" x2="497.5" y2="574.5" stroke="#1a1a1a" stroke-width="0.8"/>
<rect x="384.8" y="592.3" width="114.8" height="56.3" fill="#fff"/>
<rect x="425.2" y="592.3" width="4.3" height="56.3" fill="#b3d2ee"/>
<rect x="449.4" y="592.3" width="4.3" height="56.3" fill="#fbe3c2"/>
<path d="M385.3,604.4 385.3,603.76 385.8,603.57 386.3,604 386.8,603.98 387.3,603.68 387.8,603.49 388.3,603.57 388.8,603.74 389.3,604.01 389.8,603.77 390.3,604.38 390.8,604.23 391.3,604.16 391.8,603.6 392.3,603.21 392.8,603.44 393.3,602.37 393.8,601.8 394.3,602.37 394.8,603.44 395.3,602.99 395.8,602.46 396.3,602.99 396.8,602.59 397.3,601.9 397.8,602.59 398.3,603.71 398.8,603.59 399.3,602.74 399.8,602.29 400.3,602.74 400.8,603.59 401.3,603.65 401.8,603.72 402.3,603.86 402.8,603.57 403.3,602.91 403.8,603.58 404.3,603.71 404.8,603.66 405.3,602.98 405.8,602.6 406.3,602.98 406.8,603.69 407.3,603.38 407.8,603.9 408.3,603.94 408.8,603.04 409.3,602.44 409.8,603.04 410.3,603.94 410.8,603.78 411.3,603.39 411.8,602.92 412.3,603.12 412.8,603.43 413.3,603.89 413.8,603.48 414.3,602.4 414.8,601.8 415.3,602.4 415.8,602.5 416.3,602.98 416.8,602.45 417.3,603 417.8,603.88 418.3,603.99 418.8,603.4 419.3,603.06 419.8,603.4 420.3,603.72 420.8,603.7 421.3,603.33 421.8,603.57 422.3,602.45 422.8,601.81 423.3,602.45 423.8,603.57 424.3,603.86 424.8,604.17 425.3,603.1 425.8,601.18 426.3,601.56 426.8,601.36 427.3,600.28 427.8,600.94 428.3,602.05 428.8,602.63 429.3,602 429.8,602.64 430.3,603.7 430.8,603.9 431.3,603.75 431.8,603.9 432.3,604.04 432.8,603.69 433.3,602.98 433.8,602.07 434.3,602.14 434.8,602.21 435.3,603 435.8,603.58 436.3,604.09 436.8,603.81 437.3,603.63 437.8,603.92 438.3,603.96 438.8,603.9 439.3,603.73 439.8,603.82 440.3,603.64 440.8,603.63 441.3,603.8 441.8,603.7 442.3,602.88 442.8,602.43 443.3,602.82 443.8,603.3 444.3,602.49 444.8,602.04 445.3,602.01 445.8,602.89 446.3,602.88 446.8,603.34 447.3,603.32 447.8,602.65 448.3,602.62 448.8,603.04 449.3,603.8 449.8,603.39 450.3,603.76 450.8,602.37 451.3,600.23 451.8,600.09 452.3,602.52 452.8,603.11 453.3,603.45 453.8,603.7 454.3,602.27 454.8,600.4 455.3,601.11 455.8,602.9 456.3,603.47 456.8,602.97 457.3,603.47 457.8,603.13 458.3,602.08 458.8,603.13 459.3,603.59 459.8,603.23 460.3,603.59 460.8,603.99 461.3,603.3 461.8,602.49 462.3,602.38 462.8,603.42 463.3,603.65 463.8,603.37 464.3,602.83 464.8,603.03 465.3,603.34 465.8,603.57 466.3,603.98 466.8,603.75 467.3,604.37 467.8,603.92 468.3,603.9 468.8,603.69 469.3,603.67 469.8,603.49 470.3,603.61 470.8,603.77 471.3,602.68 471.8,602 472.3,602.68 472.8,603.67 473.3,602.7 473.8,602.1 474.3,602.7 474.8,603.71 475.3,603.76 475.8,603.81 476.3,603.98 476.8,604.4 477.3,603.8 477.8,604.23 478.3,603.99 478.8,603.68 479.3,603.5 479.8,603.82 480.3,602.99 480.8,602.49 481.3,602.99 481.8,603.82 482.3,603.8 482.8,603.84 483.3,604.22 483.8,603.44 484.3,602.64 484.8,603.44 485.3,602.9 485.8,602.13 486.3,602.9 486.8,602.94 487.3,602.12 487.8,602.94 488.3,603.62 488.8,603.45 489.3,603.79 489.8,603.51 490.3,604.28 490.8,603.92 491.3,603.28 491.8,602.92 492.3,603.14 492.8,602.53 493.3,603.14 493.8,603.65 494.3,602.52 494.8,601.85 495.3,602.52 495.8,602.25 496.3,602.87 496.8,602.29 497.3,602.4 497.8,603.15 498.3,602.32 498.8,603.17 498.8,604.4Z" fill="#e07a3c"/>
<line x1="385.3" y1="604.5" x2="498.8" y2="604.5" stroke="#e07a3c" stroke-width="0.8"/>
<path d="M385.3,617.4 385.3,616.5 385.8,616.21 386.3,615.42 386.8,616.21 387.3,615.83 387.8,615.32 388.3,615.83 388.8,615.67 389.3,616.1 389.8,616.72 390.3,616.9 390.8,616.44 391.3,616.2 391.8,615.84 392.3,616.2 392.8,616.3 393.3,616.74 393.8,616.03 394.3,614.91 394.8,616.03 395.3,617.17 395.8,617.39 396.3,617.37 396.8,617.04 397.3,617.17 397.8,616.7 398.3,616.29 398.8,615.78 399.3,616.29 399.8,616.54 400.3,616.64 400.8,616.63 401.3,617.13 401.8,616.79 402.3,616.66 402.8,616.61 403.3,616.59 403.8,616.89 404.3,616.6 404.8,616.82 405.3,616.2 405.8,615.87 406.3,616.2 406.8,616.82 407.3,616.72 407.8,616.65 408.3,615.79 408.8,616.65 409.3,616.68 409.8,617.23 410.3,617.28 410.8,616.58 411.3,617.07 411.8,616.6 412.3,616.32 412.8,616.6 413.3,616.97 413.8,616.51 414.3,616.43 414.8,615.91 415.3,616.22 415.8,616.53 416.3,616.31 416.8,616.66 417.3,616.05 417.8,615.96 418.3,616.47 418.8,617.09 419.3,617.37 419.8,616.57 420.3,616.57 420.8,617 421.3,616.65 421.8,617.03 422.3,616.67 422.8,616.49 423.3,616.67 423.8,616.68 424.3,615.66 424.8,615.06 425.3,615.66 425.8,616.68 426.3,615.22 426.8,612.55 427.3,612.71 427.8,615.63 428.3,616.52 428.8,616.51 429.3,616.99 429.8,616.76 430.3,615.92 430.8,615.45 431.3,615.92 431.8,615.95 432.3,615.45 432.8,615.95 433.3,615.53 433.8,615.02 434.3,615.53 434.8,614.89 435.3,615.84 435.8,616.9 436.3,616.75 436.8,616.72 437.3,616.64 437.8,615.96 438.3,615.48 438.8,615.96 439.3,616.22 439.8,615.05 440.3,615.23 440.8,616.23 441.3,615.76 441.8,615.64 442.3,616 442.8,615.21 443.3,615.02 443.8,615.73 444.3,616.83 444.8,617.2 445.3,616.84 445.8,616.35 446.3,615.97 446.8,616.35 447.3,616.86 447.8,617.18 448.3,617.04 448.8,617.19 449.3,616.02 449.8,614.81 450.3,615.81 450.8,613.97 451.3,611.45 451.8,613.99 452.3,615.9 452.8,616.62 453.3,616.21 453.8,615.68 454.3,616.21 454.8,614.64 455.3,614.93 455.8,615.91 456.3,616.69 456.8,616.47 457.3,616.69 457.8,616.74 458.3,617.06 458.8,616.72 459.3,617.06 459.8,616.61 460.3,616.91 460.8,616.39 461.3,615.8 461.8,616.39 462.3,617.11 462.8,617.05 463.3,616.79 463.8,616.88 464.3,616.52 464.8,616.15 465.3,616.73 465.8,616.69 466.3,616.41 466.8,616.69 467.3,617.14 467.8,617.1 468.3,617.31 468.8,617.33 469.3,616.6 469.8,616.48 470.3,615.83 470.8,616.48 471.3,616.79 471.8,616.62 472.3,616.27 472.8,616.62 473.3,616.31 473.8,615.89 474.3,616.31 474.8,616.59 475.3,616.63 475.8,615.87 476.3,615.48 476.8,615.87 477.3,616.63 477.8,616.65 478.3,616.63 478.8,616.4 479.3,616.07 479.8,616.42 480.3,616.75 480.8,617.2 481.3,616.83 481.8,616.64 482.3,615.88 482.8,615.49 483.3,615.88 483.8,616.64 484.3,617.16 484.8,617.02 485.3,616.96 485.8,616.25 486.3,615.25 486.8,615.88 487.3,616.22 487.8,616.74 488.3,616.95 488.8,616.12 489.3,615.59 489.8,615.68 490.3,616.36 490.8,617 491.3,616.01 491.8,614.93 492.3,614.76 492.8,615.65 493.3,616.27 493.8,616.79 494.3,616.62 494.8,617.39 495.3,617.3 495.8,617.17 496.3,617.07 496.8,617.34 497.3,617.11 497.8,616.6 498.3,616.26 498.8,616.6 498.8,617.4Z" fill="#b8925e"/>
<line x1="385.3" y1="617.5" x2="498.8" y2="617.5" stroke="#b8925e" stroke-width="0.8"/>
<path d="M385.3,631.3 385.3,630.41 385.8,630.81 386.3,631.03 386.8,630.43 387.3,630.02 387.8,630.43 388.3,630.4 388.8,630.44 389.3,630.24 389.8,629.37 390.3,629.91 390.8,629.49 391.3,629.91 391.8,630.4 392.3,630.98 392.8,631.1 393.3,630.68 393.8,630.65 394.3,629.16 394.8,628.11 395.3,629.16 395.8,628.39 396.3,629.16 396.8,630.41 397.3,629.93 397.8,630.41 398.3,630.38 398.8,630.81 399.3,630.98 399.8,631.27 400.3,631.25 400.8,631.17 401.3,630.29 401.8,629.61 402.3,628.66 402.8,629.61 403.3,629.27 403.8,628.6 404.3,629.35 404.8,630.57 405.3,630.73 405.8,630.18 406.3,629.9 406.8,630.18 407.3,629.51 407.8,628.82 408.3,627.96 408.8,629.27 409.3,630.56 409.8,630.32 410.3,630.51 410.8,629.88 411.3,630.51 411.8,630.29 412.3,629.41 412.8,628.42 413.3,629.41 413.8,628.05 414.3,629.44 414.8,630.95 415.3,631.09 415.8,631.3 416.3,630.83 416.8,631.09 417.3,630.61 417.8,630.26 418.3,629.28 418.8,628.78 419.3,629.28 419.8,629.45 420.3,629.87 420.8,629.98 421.3,630.34 421.8,630.29 422.3,629.96 422.8,629.99 423.3,628.97 423.8,627.48 424.3,627.57 424.8,629.24 425.3,627.91 425.8,629.4 426.3,628.7 426.8,626.06 427.3,626.28 427.8,629.1 428.3,629.71 428.8,630.35 429.3,629.33 429.8,627.33 430.3,627.99 430.8,629.49 431.3,628.77 431.8,628.31 432.3,628.58 432.8,630.36 433.3,630.68 433.8,630.41 434.3,630.18 434.8,630.41 435.3,630.86 435.8,631.16 436.3,631.22 436.8,631.23 437.3,630.94 437.8,629.93 438.3,628.95 438.8,628.39 439.3,629.58 439.8,628.58 440.3,629.22 440.8,630.01 441.3,630.56 441.8,630.31 442.3,629.78 442.8,628.74 443.3,629.62 443.8,629.15 444.3,629.62 444.8,628.69 445.3,628.49 445.8,629.1 446.3,628.45 446.8,629.1 447.3,630.29 447.8,630.71 448.3,630.45 448.8,630.71 449.3,630.93 449.8,631.24 450.3,630.53 450.8,628.58 451.3,625.08 451.8,625.7 452.3,629.1 452.8,630.01 453.3,629.3 453.8,626.23 454.3,626.3 454.8,629.68 455.3,631.02 455.8,631.16 456.3,630.99 456.8,630.8 457.3,629.15 457.8,627.39 458.3,627.72 458.8,629.46 459.3,630.3 459.8,630.36 460.3,630.43 460.8,629.99 461.3,629.04 461.8,627.62 462.3,628.5 462.8,630.27 463.3,631.18 463.8,630.59 464.3,630.87 464.8,630.89 465.3,630.51 465.8,629.65 466.3,630.25 466.8,630.99 467.3,631.28 467.8,630.25 468.3,630.64 468.8,630.29 469.3,630.64 469.8,630.54 470.3,630.95 470.8,630.41 471.3,631.18 471.8,630.8 472.3,630.24 472.8,629.24 473.3,628.11 473.8,629.24 474.3,630.6 474.8,630.36 475.3,630.11 475.8,630.36 476.3,630.85 476.8,630.54 477.3,629.97 477.8,629.62 478.3,629.81 478.8,630.28 479.3,630.97 479.8,630.95 480.3,630.72 480.8,630.63 481.3,629.43 481.8,628.66 482.3,629.43 482.8,630.03 483.3,630.28 483.8,629.81 484.3,628.76 484.8,629.81 485.3,630.36 485.8,630.68 486.3,630.43 486.8,629.52 487.3,629.05 487.8,629.52 488.3,629.96 488.8,629.19 489.3,628.65 489.8,629.19 490.3,630.08 490.8,630.93 491.3,630.44 491.8,630.85 492.3,631.26 492.8,630.82 493.3,630.68 493.8,630.56 494.3,630.63 494.8,630.28 495.3,629.21 495.8,628.12 496.3,629.21 496.8,629.6 497.3,628.25 497.8,629.6 498.3,630.13 498.8,629.78 498.8,631.3Z" fill="#d6283f"/>
<line x1="385.3" y1="631.5" x2="498.8" y2="631.5" stroke="#d6283f" stroke-width="0.8"/>
<path d="M385.3,646.8 385.3,646.7 385.8,646.35 386.3,645.68 386.8,645.28 387.3,645.68 387.8,644.93 388.3,644.4 388.8,644.93 389.3,645.91 389.8,645.07 390.3,644.49 390.8,645.07 391.3,645.97 391.8,646.32 392.3,646.21 392.8,645.99 393.3,646.37 393.8,645.92 394.3,645.31 394.8,645.92 395.3,646.23 395.8,646.21 396.3,646.14 396.8,646.34 397.3,645.65 397.8,644.54 398.3,644.72 398.8,645.26 399.3,645.91 399.8,646.41 400.3,646.13 400.8,646.41 401.3,646.58 401.8,646.14 402.3,646.11 402.8,645.5 403.3,644.96 403.8,645.5 404.3,646.34 404.8,646.67 405.3,646.49 405.8,645.75 406.3,644.9 406.8,645.75 407.3,646.62 407.8,646.45 408.3,645.9 408.8,645.56 409.3,645.44 409.8,645.03 410.3,645.44 410.8,646.18 411.3,646.48 411.8,646.75 412.3,646.1 412.8,646.42 413.3,646.02 413.8,645.8 414.3,646.02 414.8,646.42 415.3,646.69 415.8,646.27 416.3,645.98 416.8,646.42 417.3,645.79 417.8,644.66 418.3,645.79 418.8,646.04 419.3,646.38 419.8,646.59 420.3,646.44 420.8,646 421.3,645.76 421.8,646 422.3,646.1 422.8,646.66 423.3,645.91 423.8,645.12 424.3,645.91 424.8,646.61 425.3,646.09 425.8,645.71 426.3,645.81 426.8,643.06 427.3,640.59 427.8,643.23 428.3,645.95 428.8,645.32 429.3,644.59 429.8,645.32 430.3,646.36 430.8,646.51 431.3,645.56 431.8,644.79 432.3,645.56 432.8,646.37 433.3,646.67 433.8,646.16 434.3,645.15 434.8,644.54 435.3,645.15 435.8,646.16 436.3,646.11 436.8,646.04 437.3,646.24 437.8,646.58 438.3,646.43 438.8,646.19 439.3,645.59 439.8,644.51 440.3,644.65 440.8,645.84 441.3,646.04 441.8,645.81 442.3,646.12 442.8,646.58 443.3,646.36 443.8,646.6 444.3,646.31 444.8,646.1 445.3,646.31 445.8,646.44 446.3,646.19 446.8,646.08 447.3,646.34 447.8,646.19 448.3,646.34 448.8,645.7 449.3,644.6 449.8,645.7 450.3,646.34 450.8,645.87 451.3,642.7 451.8,643.56 452.3,646.15 452.8,646.63 453.3,646.76 453.8,646.68 454.3,646.22 454.8,646.63 455.3,646.36 455.8,646.11 456.3,645.72 456.8,645.88 457.3,645.25 457.8,645.88 458.3,646.09 458.8,646.79 459.3,646.73 459.8,646.21 460.3,646.39 460.8,646.15 461.3,646.66 461.8,646.05 462.3,646.6 462.8,646.16 463.3,646.18 463.8,646.37 464.3,646.08 464.8,646.4 465.3,646.12 465.8,646.2 466.3,646.05 466.8,646.3 467.3,646.3 467.8,646.16 468.3,645.88 468.8,646.23 469.3,646.49 469.8,646.13 470.3,645.94 470.8,646.12 471.3,646.28 471.8,646.58 472.3,646.18 472.8,645.88 473.3,646.18 473.8,646.54 474.3,646.07 474.8,645.36 475.3,644.91 475.8,645.36 476.3,645.52 476.8,645.92 477.3,646.12 477.8,645.44 478.3,646.03 478.8,646.44 479.3,646.63 479.8,646.27 480.3,645.76 480.8,645.5 481.3,645.76 481.8,646.14 482.3,645.71 482.8,645.41 483.3,645.71 483.8,646.28 484.3,646.15 484.8,646.19 485.3,646.33 485.8,646.16 486.3,646.39 486.8,646.07 487.3,646.29 487.8,646.33 488.3,646.09 488.8,646.18 489.3,645.79 489.8,645.09 490.3,645.79 490.8,646.11 491.3,645.5 491.8,644.77 492.3,645.5 492.8,646.16 493.3,646.09 493.8,646.2 494.3,646.19 494.8,646.36 495.3,646.39 495.8,646.77 496.3,646.5 496.8,646.77 497.3,646.27 497.8,646.74 498.3,646.6 498.8,646.49 498.8,646.8Z" fill="#2a9b4b"/>
<line x1="385.3" y1="646.5" x2="498.8" y2="646.5" stroke="#2a9b4b" stroke-width="0.8"/>
<rect x="384.5" y="592.5" width="115" height="56" fill="none" stroke="#555" stroke-width="0.8"/>
<text x="388.4" y="597" stroke="#e58a5a" stroke-width="0.15" font-size="6.1" fill="#e58a5a">50</text>
<text x="388.4" y="609.6" stroke="#b89a70" stroke-width="0.15" font-size="6.1" fill="#b89a70">25</text>
<text x="388.4" y="622.6" stroke="#d6405a" stroke-width="0.15" font-size="6.1" fill="#d6405a">80</text>
<text x="388.4" y="638.2" stroke="#3aa05a" stroke-width="0.15" font-size="6.1" fill="#3aa05a">30</text>
<text x="381.5" y="600.1" stroke="#1a1a1a" stroke-width="0.25" text-anchor="end" font-size="6.6">SATB2</text>
<text x="381.5" y="614.8" stroke="#1a1a1a" stroke-width="0.25" text-anchor="end" font-size="6.6">NRF2</text>
<text x="381.5" y="626.9" stroke="#1a1a1a" stroke-width="0.25" text-anchor="end" font-size="6.6">H3K27ac</text>
<text x="381.5" y="640.8" stroke="#1a1a1a" stroke-width="0.25" text-anchor="end" font-size="6.6">ATAC-seq</text>
<text x="427.3" y="597.8" stroke="#3a5a8a" stroke-width="0.25" text-anchor="middle" font-size="5.2" fill="#3a5a8a">P</text>
<text x="451.5" y="597.8" stroke="#8a6a2a" stroke-width="0.25" text-anchor="middle" font-size="5.2" fill="#8a6a2a">E</text>
<line x1="353.5" y1="598.4" x2="353.5" y2="625.2" stroke="#444" stroke-width="0.6"/>
<text x="347.5" y="611.8" stroke="#1a1a1a" stroke-width="0.25" text-anchor="middle" transform="rotate(-90 347.5 611.8)">ChIP-seq</text>
<rect x="385.2" y="652.3" width="114.4" height="38.5" fill="#fff"/>
<path d="M385.3,667.6 385.3,667.17 385.8,667.21 386.3,667.09 386.8,667.23 387.3,667.12 387.8,667.16 388.3,667.24 388.8,667.12 389.3,667.24 389.8,667.14 390.3,667.23 390.8,667.23 391.3,667.14 391.8,667.04 392.3,667.22 392.8,667.19 393.3,667.09 393.8,667.01 394.3,667.11 394.8,667.15 395.3,667.01 395.8,667.24 396.3,667.04 396.8,667.18 397.3,667.21 397.8,667.22 398.3,667.17 398.8,667.05 399.3,667.2 399.8,667.1 400.3,667.09 400.8,667.15 401.3,667.1 401.8,667.21 402.3,667.18 402.8,667.11 403.3,666.94 403.8,666.92 404.3,666.85 404.8,666.67 405.3,666.58 405.8,666.51 406.3,666.3 406.8,666.28 407.3,666.4 407.8,666.37 408.3,666.47 408.8,666.5 409.3,666.65 409.8,666.88 410.3,666.8 410.8,667.09 411.3,667.06 411.8,667.01 412.3,667.17 412.8,667.06 413.3,667.12 413.8,666.86 414.3,666.67 414.8,666.48 415.3,666.12 415.8,665.96 416.3,665.62 416.8,665.51 417.3,665.53 417.8,665.72 418.3,665.89 418.8,666.16 419.3,666.55 419.8,666.7 420.3,666.96 420.8,666.8 421.3,666.69 421.8,666.36 422.3,666.03 422.8,665.7 423.3,665.19 423.8,664.72 424.3,664.66 424.8,664.56 425.3,664.86 425.8,665.19 426.3,665.48 426.8,665.4 427.3,665.44 427.8,665.19 428.3,665.01 428.8,664.99 429.3,665.51 429.8,665.79 430.3,665.99 430.8,665.83 431.3,665.47 431.8,664.89 432.3,664.47 432.8,664.06 433.3,663.98 433.8,663.99 434.3,664.19 434.8,664.5 435.3,664.38 435.8,664.07 436.3,663.73 436.8,663.48 437.3,663.52 437.8,663.92 438.3,664.45 438.8,664.75 439.3,664.92 439.8,664.75 440.3,664.39 440.8,664.3 441.3,664.5 441.8,664.97 442.3,665.62 442.8,666.39 443.3,666.61 443.8,666.88 444.3,666.97 444.8,667.02 445.3,667.12 445.8,667.09 446.3,667.09 446.8,666.83 447.3,666.75 447.8,666.39 448.3,665.83 448.8,665.15 449.3,664.24 449.8,663.34 450.3,662.35 450.8,661.39 451.3,660.63 451.8,660.05 452.3,659.94 452.8,659.91 453.3,660.55 453.8,661.58 454.3,662.69 454.8,663.86 455.3,664.94 455.8,665.86 456.3,666.28 456.8,666.62 457.3,666.96 457.8,667.05 458.3,667.19 458.8,667.19 459.3,667.13 459.8,667.12 460.3,666.95 460.8,667.06 461.3,667.02 461.8,666.7 462.3,666.68 462.8,666.64 463.3,666.39 463.8,666.36 464.3,666.09 464.8,665.85 465.3,665.78 465.8,665.78 466.3,665.89 466.8,665.92 467.3,666.07 467.8,666.05 468.3,666.27 468.8,666.36 469.3,666.62 469.8,666.78 470.3,666.75 470.8,666.8 471.3,666.9 471.8,666.96 472.3,666.99 472.8,667.03 473.3,667.18 473.8,667.11 474.3,667.16 474.8,667.24 475.3,667.24 475.8,667.18 476.3,667.18 476.8,667.08 477.3,667.01 477.8,667.14 478.3,667.02 478.8,667 479.3,667.01 479.8,667.16 480.3,667.19 480.8,667.19 481.3,667.2 481.8,667.2 482.3,667.09 482.8,667.02 483.3,667.04 483.8,667.13 484.3,667.09 484.8,667.05 485.3,667.23 485.8,667.08 486.3,667.02 486.8,667.05 487.3,667.06 487.8,667.13 488.3,667.21 488.8,667.05 489.3,667.17 489.8,667.05 490.3,667.01 490.8,667.15 491.3,667.15 491.8,667.01 492.3,667.07 492.8,667.2 493.3,667.2 493.8,667.16 494.3,666.86 494.8,666.68 495.3,666.48 495.8,665.83 496.3,665.32 496.8,665.11 497.3,665.22 497.8,665.51 498.3,666.11 498.8,666.6 498.8,667.6Z" fill="#56331a"/>
<path d="M385.3,687.2 385.3,686.79 385.8,686.61 386.3,686.82 386.8,686.67 387.3,686.83 387.8,686.79 388.3,686.6 388.8,686.8 389.3,686.69 389.8,686.74 390.3,686.74 390.8,686.73 391.3,686.8 391.8,686.64 392.3,686.83 392.8,686.79 393.3,686.85 393.8,686.78 394.3,686.75 394.8,686.62 395.3,686.76 395.8,686.82 396.3,686.78 396.8,686.6 397.3,686.83 397.8,686.69 398.3,686.74 398.8,686.66 399.3,686.72 399.8,686.6 400.3,686.6 400.8,686.49 401.3,686.34 401.8,686.32 402.3,686.33 402.8,686.25 403.3,685.96 403.8,686.03 404.3,686.11 404.8,685.97 405.3,686.14 405.8,686.2 406.3,686.27 406.8,686.52 407.3,686.58 407.8,686.51 408.3,686.74 408.8,686.61 409.3,686.79 409.8,686.63 410.3,686.59 410.8,686.45 411.3,686.35 411.8,686.26 412.3,686.12 412.8,685.91 413.3,685.62 413.8,685.52 414.3,685.63 414.8,685.52 415.3,685.77 415.8,685.85 416.3,686.02 416.8,685.92 417.3,685.71 417.8,685.16 418.3,684.54 418.8,683.72 419.3,682.9 419.8,682 420.3,681.37 420.8,681.16 421.3,681 421.8,681.18 422.3,681.33 422.8,681.55 423.3,681.95 423.8,681.86 424.3,681.88 424.8,681.76 425.3,681.4 425.8,681.45 426.3,681.63 426.8,681.88 427.3,682.35 427.8,682.7 428.3,682.96 428.8,683.02 429.3,682.88 429.8,682.82 430.3,682.86 430.8,683.12 431.3,683.64 431.8,684.24 432.3,685.02 432.8,685.55 433.3,686.08 433.8,686.29 434.3,686.27 434.8,686.31 435.3,685.87 435.8,685.11 436.3,684.13 436.8,683.23 437.3,682.66 437.8,682.73 438.3,682.97 438.8,683.72 439.3,683.8 439.8,683.81 440.3,683.12 440.8,682.71 441.3,682.1 441.8,682.24 442.3,682.75 442.8,683.71 443.3,684.64 443.8,684.97 444.3,685.21 444.8,685.03 445.3,684.48 445.8,684.22 446.3,684.3 446.8,684.8 447.3,685.42 447.8,685.87 448.3,686.27 448.8,686.47 449.3,686.25 449.8,685.81 450.3,685.27 450.8,684.79 451.3,684.48 451.8,684.53 452.3,684.95 452.8,685.52 453.3,685.99 453.8,686.46 454.3,686.52 454.8,686.62 455.3,686.68 455.8,686.84 456.3,686.76 456.8,686.74 457.3,686.83 457.8,686.61 458.3,686.66 458.8,686.72 459.3,686.67 459.8,686.8 460.3,686.79 460.8,686.71 461.3,686.66 461.8,686.68 462.3,686.83 462.8,686.67 463.3,686.58 463.8,686.61 464.3,686.54 464.8,686.49 465.3,686.65 465.8,686.59 466.3,686.48 466.8,686.32 467.3,686.42 467.8,686.23 468.3,686.21 468.8,686.26 469.3,686.21 469.8,686.11 470.3,686.16 470.8,686.29 471.3,686.18 471.8,686.38 472.3,686.38 472.8,686.29 473.3,686.37 473.8,686.55 474.3,686.6 474.8,686.56 475.3,686.53 475.8,686.6 476.3,686.56 476.8,686.63 477.3,686.62 477.8,686.68 478.3,686.75 478.8,686.74 479.3,686.72 479.8,686.72 480.3,686.64 480.8,686.78 481.3,686.83 481.8,686.67 482.3,686.78 482.8,686.75 483.3,686.82 483.8,686.64 484.3,686.78 484.8,686.77 485.3,686.64 485.8,686.7 486.3,686.73 486.8,686.53 487.3,686.55 487.8,686.42 488.3,686.08 488.8,685.93 489.3,685.77 489.8,685.8 490.3,685.67 490.8,685.83 491.3,685.96 491.8,686.27 492.3,686.35 492.8,686.48 493.3,686.66 493.8,686.65 494.3,686.64 494.8,686.6 495.3,686.62 495.8,686.65 496.3,686.82 496.8,686.7 497.3,686.68 497.8,686.83 498.3,686.73 498.8,686.63 498.8,687.2Z" fill="#56331a"/>
<path d="M425,660.5 C426,653 450,653 451,660.5" fill="none" stroke="#e0607a" stroke-width="0.6"/>
<path d="M451,661.1 l-1.6,-1.6 l2.2,-0.4 z" fill="#e0607a"/>
<path d="M425,662.5 C426,657.5 438,657.5 439,662.5" fill="none" stroke="#e0607a" stroke-width="0.6"/>
<path d="M439,663.1 l-1.6,-1.6 l2.2,-0.4 z" fill="#e0607a"/>
<line x1="425.5" y1="660.5" x2="425.5" y2="666" stroke="#e0607a" stroke-width="0.5"/>
<path d="M425.5,678.2 C426.5,671.2 451.5,671.2 452.5,678.2" fill="none" stroke="#e0607a" stroke-width="0.6"/>
<path d="M452.5,678.8 l-1.6,-1.6 l2.2,-0.4 z" fill="#e0607a"/>
<path d="M438.5,681.2 C439.5,676.2 451.5,676.2 452.5,681.2" fill="none" stroke="#e0607a" stroke-width="0.6"/>
<path d="M452.5,681.8 l-1.6,-1.6 l2.2,-0.4 z" fill="#e0607a"/>
<rect x="384.5" y="652.5" width="115" height="38" fill="none" stroke="#555" stroke-width="0.8"/>
<line x1="384.8" y1="668.5" x2="499.6" y2="668.5" stroke="#888" stroke-width="0.4"/>
<text x="387.6" y="658.5" stroke="#555" stroke-width="0.12" font-size="6.1" fill="#555">200</text>
<text x="387.6" y="674" stroke="#555" stroke-width="0.12" font-size="6.1" fill="#555">100</text>
<text x="354.6" y="658.2" stroke="#1a1a1a" stroke-width="0.25" font-size="6.6">GCLC</text>
<text x="354.6" y="664.6" stroke="#1a1a1a" stroke-width="0.25" font-size="6.6">Enhancer</text>
<text x="354.6" y="677.6" stroke="#1a1a1a" stroke-width="0.25" font-size="6.6">GCLC</text>
<text x="354.6" y="684.4" stroke="#1a1a1a" stroke-width="0.25" font-size="6.6">Promoter</text>
<line x1="350.5" y1="653.7" x2="350.5" y2="686.5" stroke="#333" stroke-width="0.7"/>
<text x="347.3" y="671" stroke="#1a1a1a" stroke-width="0.25" text-anchor="middle" font-size="6.6" transform="rotate(-90 347.3 671)">Hi-C</text>
<line x1="386" y1="694.5" x2="410" y2="694.5" stroke="#8a94c0" stroke-width="0.5" stroke-dasharray="1.2,0.8"/>
<rect x="386.6" y="693.5" width="0.8" height="1.6" fill="#6a78b0"/>
<rect x="397.6" y="693.5" width="0.8" height="1.6" fill="#6a78b0"/>
<rect x="408.6" y="693.5" width="0.8" height="1.6" fill="#6a78b0"/>
<line x1="425" y1="694.5" x2="439" y2="694.5" stroke="#8a94c0" stroke-width="0.5" stroke-dasharray="1.2,0.8"/>
<rect x="425.6" y="693.5" width="0.8" height="1.6" fill="#6a78b0"/>
<rect x="431.6" y="693.5" width="0.8" height="1.6" fill="#6a78b0"/>
<rect x="437.6" y="693.5" width="0.8" height="1.6" fill="#6a78b0"/>
<line x1="487.5" y1="694.5" x2="496" y2="694.5" stroke="#8a94c0" stroke-width="0.5" stroke-dasharray="1.2,0.8"/>
<rect x="488.1" y="693.5" width="0.8" height="1.6" fill="#6a78b0"/>
<rect x="491.35" y="693.5" width="0.8" height="1.6" fill="#6a78b0"/>
<rect x="494.6" y="693.5" width="0.8" height="1.6" fill="#6a78b0"/>
<text x="400.5" y="698.8" stroke="#444" stroke-width="0.05" text-anchor="middle" font-size="3.6" fill="#444">LINC01564</text>
<text x="428.7" y="698.8" stroke="#444" stroke-width="0.05" text-anchor="middle" font-size="3.8" fill="#444">GCLC</text>
<text x="477" y="698.8" stroke="#444" stroke-width="0.05" text-anchor="middle" font-size="3.8" fill="#444">KLHL31</text>
</svg></body></html>
